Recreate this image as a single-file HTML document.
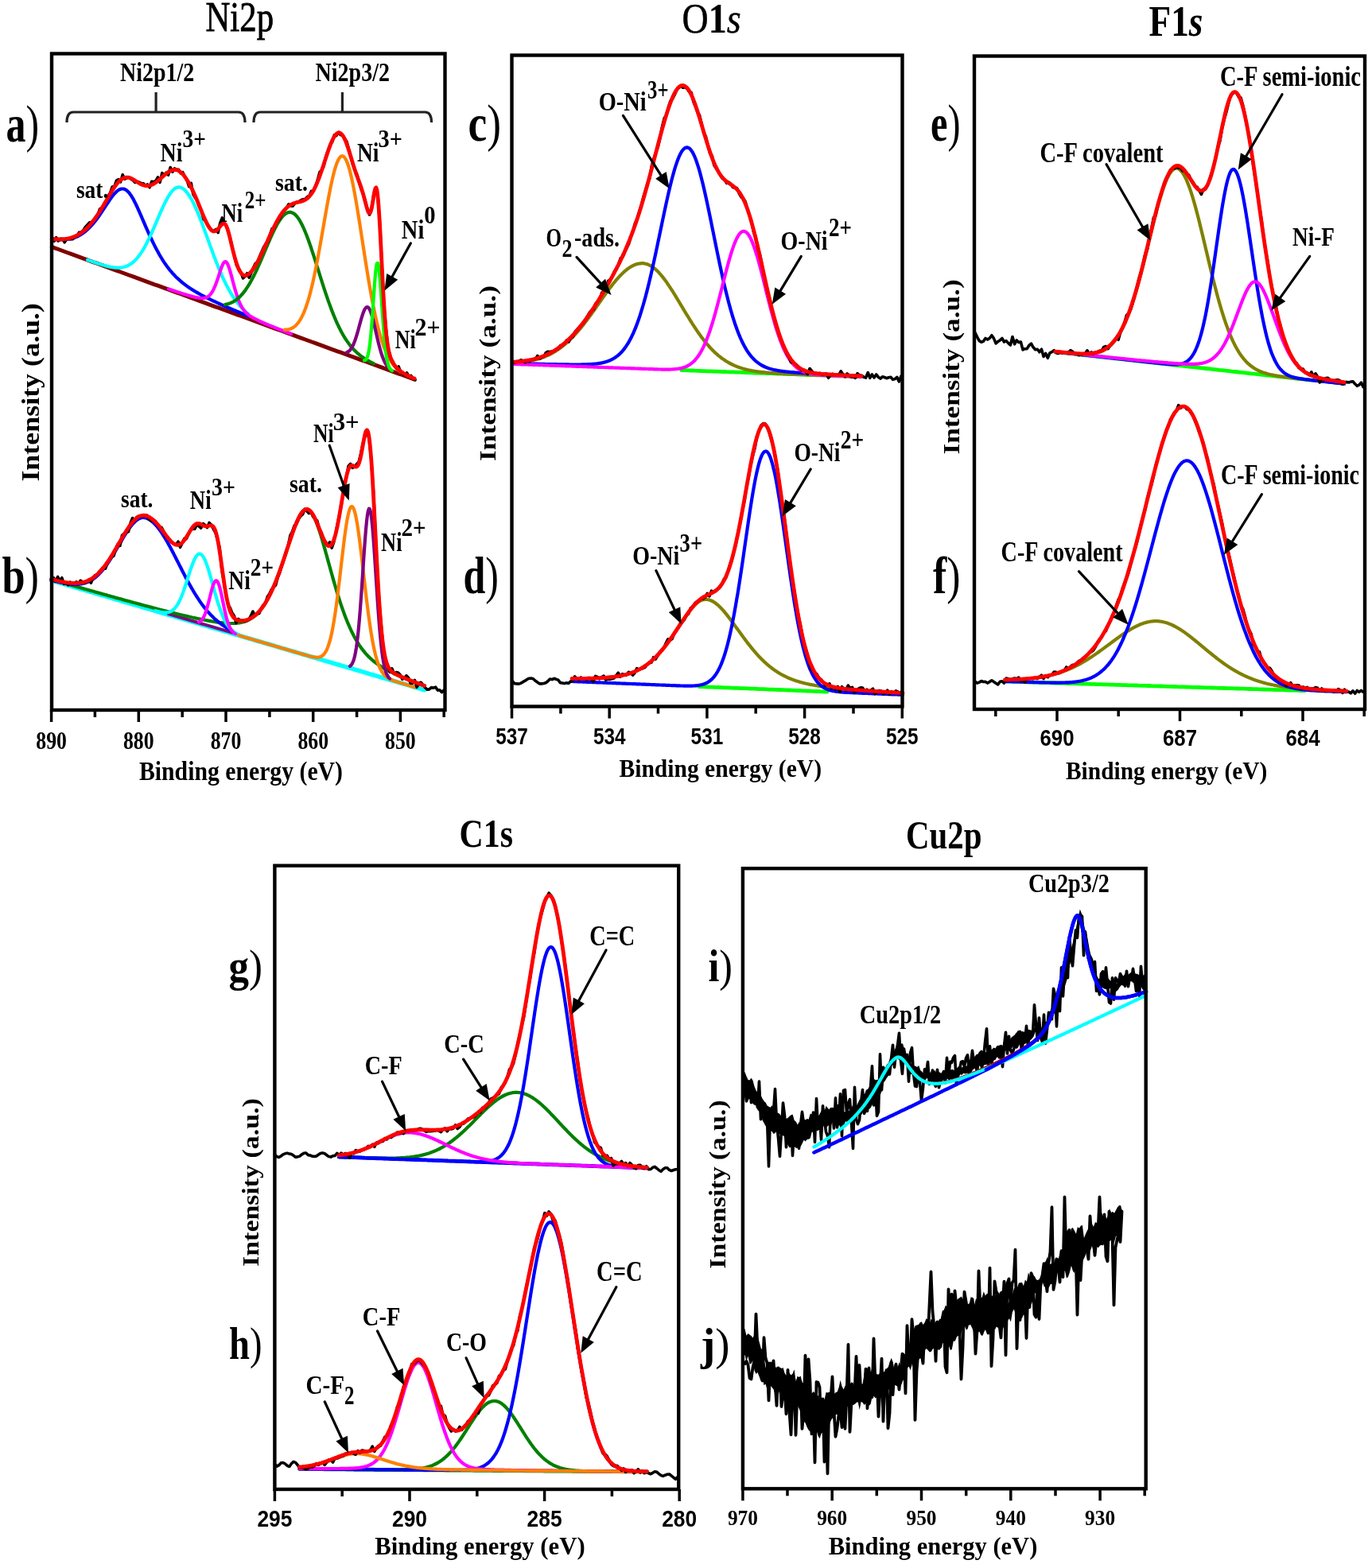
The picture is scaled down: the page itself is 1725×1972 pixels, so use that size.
<!DOCTYPE html><html><head><meta charset="utf-8"><title>XPS spectra</title><style>html,body{margin:0;padding:0;background:#fff;}body{width:1725px;height:1972px;overflow:hidden;} svg{display:block;}</style></head><body><svg width="1725" height="1972" viewBox="0 0 1725 1972"><rect x="0" y="0" width="1725" height="1972" fill="#fff"/>
<path d="M65.3,310.6 L69.3,312.1 L73.4,313.5 L77.4,315.0 L81.4,316.5 L85.5,318.0 L89.5,319.4 L93.5,320.9 L97.6,322.4 L101.6,323.9 L105.6,325.3 L109.7,326.8 L113.7,328.3 L117.7,329.8 L121.8,331.2 L125.8,332.7 L129.8,334.2 L133.9,335.7 L137.9,337.1 L141.9,338.6 L146.0,340.1 L150.0,341.5 L154.0,343.0 L158.1,344.5 L162.1,346.0 L166.1,347.4 L170.2,348.9 L174.2,350.4 L178.2,351.9 L182.2,353.3 L186.3,354.8 L190.3,356.3 L194.3,357.8 L198.4,359.2 L202.4,360.7 L206.4,362.2 L210.5,363.7 L214.5,365.1 L218.5,366.6 L222.6,368.1 L226.6,369.5 L230.6,371.0 L234.7,372.5 L238.7,374.0 L242.7,375.4 L246.8,376.9 L250.8,378.4 L254.8,379.9 L258.9,381.3 L262.9,382.8 L266.9,384.3 L271.0,385.8 L275.0,387.2 L279.0,388.7 L283.1,390.2 L287.1,391.7 L291.1,393.1 L295.2,394.6 L299.2,396.1 L303.2,397.5 L307.3,399.0 L311.3,400.5 L315.3,402.0 L319.4,403.4 L323.4,404.9 L327.4,406.4 L331.5,407.9 L335.5,409.3 L339.5,410.8 L343.6,412.3 L347.6,413.8 L351.6,415.2 L355.7,416.7 L359.7,418.2 L363.7,419.7 L367.8,421.1 L371.8,422.6 L375.8,424.1 L379.9,425.6 L383.9,427.0 L387.9,428.5 L392.0,430.0 L396.0,431.4 L400.0,432.9 L404.1,434.4 L408.1,435.9 L412.1,437.3 L416.1,438.8 L420.2,440.3 L424.2,441.8 L428.2,443.2 L432.3,444.7 L436.3,446.2 L440.3,447.7 L444.4,449.1 L448.4,450.6 L452.4,452.1 L456.5,453.6 L460.5,455.0 L464.5,456.5 L468.6,458.0 L472.6,459.4 L476.6,460.9 L480.7,462.4 L484.7,463.9 L488.7,465.3 L492.8,466.8 L496.8,468.3 L500.8,469.8 L504.9,471.2 L508.9,472.7 L512.9,474.2 L517.0,475.7 L521.0,477.1" fill="none" stroke="#800000" stroke-width="5" stroke-linejoin="round" stroke-linecap="round"/>
<path d="M65.3,300.6 L66.3,300.7 L67.3,300.9 L68.3,301.0 L69.3,301.1 L70.3,301.2 L71.3,301.3 L72.3,301.3 L73.3,301.4 L74.3,301.4 L75.3,301.5 L76.3,301.5 L77.3,301.5 L78.3,301.5 L79.3,301.5 L80.3,301.4 L81.3,301.4 L82.3,301.3 L83.4,301.2 L84.4,301.0 L85.4,300.9 L86.4,300.7 L87.4,300.6 L88.4,300.4 L89.4,300.1 L90.4,299.9 L91.4,299.6 L92.4,299.3 L93.4,298.9 L94.4,298.6 L95.4,298.2 L96.4,297.7 L97.4,297.3 L98.4,296.8 L99.4,296.3 L100.4,295.7 L101.4,295.1 L102.4,294.5 L103.4,293.9 L104.4,293.2 L105.4,292.4 L106.4,291.7 L107.4,290.9 L108.4,290.0 L109.4,289.1 L110.4,288.2 L111.4,287.3 L112.4,286.3 L113.4,285.3 L114.4,284.2 L115.4,283.1 L116.4,281.9 L117.4,280.8 L118.5,279.5 L119.5,278.3 L120.5,277.0 L121.5,275.7 L122.5,274.3 L123.5,273.0 L124.5,271.5 L125.5,270.1 L126.5,268.7 L127.5,267.2 L128.5,265.7 L129.5,264.2 L130.5,262.6 L131.5,261.1 L132.5,259.6 L133.5,258.0 L134.5,256.5 L135.5,255.0 L136.5,253.5 L137.5,252.0 L138.5,250.6 L139.5,249.2 L140.5,247.8 L141.5,246.5 L142.5,245.2 L143.5,244.0 L144.5,242.9 L145.5,241.9 L146.5,240.9 L147.5,240.1 L148.5,239.4 L149.5,238.7 L150.5,238.2 L151.5,237.8 L152.5,237.6 L153.6,237.5 L154.6,237.5 L155.6,237.6 L156.6,237.9 L157.6,238.4 L158.6,239.0 L159.6,239.8 L160.6,240.7 L161.6,241.7 L162.6,242.9 L163.6,244.2 L164.6,245.6 L165.6,247.2 L166.6,248.8 L167.6,250.6 L168.6,252.5 L169.6,254.4 L170.6,256.4 L171.6,258.5 L172.6,260.6 L173.6,262.8 L174.6,265.1 L175.6,267.3 L176.6,269.6 L177.6,271.9 L178.6,274.3 L179.6,276.6 L180.6,278.9 L181.6,281.2 L182.6,283.6 L183.6,285.9 L184.6,288.2 L185.6,290.4 L186.6,292.7 L187.6,294.9 L188.6,297.1 L189.7,299.3 L190.7,301.4 L191.7,303.5 L192.7,305.6 L193.7,307.6 L194.7,309.6 L195.7,311.5 L196.7,313.4 L197.7,315.3 L198.7,317.1 L199.7,318.9 L200.7,320.7 L201.7,322.4 L202.7,324.0 L203.7,325.7 L204.7,327.3 L205.7,328.8 L206.7,330.3 L207.7,331.8 L208.7,333.2 L209.7,334.6 L210.7,336.0 L211.7,337.3 L212.7,338.6 L213.7,339.8 L214.7,341.0 L215.7,342.2 L216.7,343.4 L217.7,344.5 L218.7,345.6 L219.7,346.6 L220.7,347.7 L221.7,348.7 L222.7,349.6 L223.7,350.6 L224.8,351.5 L225.8,352.4 L226.8,353.3 L227.8,354.2 L228.8,355.0 L229.8,355.8 L230.8,356.6 L231.8,357.4 L232.8,358.2 L233.8,358.9 L234.8,359.6 L235.8,360.4 L236.8,361.1 L237.8,361.7 L238.8,362.4 L239.8,363.1 L240.8,363.7 L241.8,364.4 L242.8,365.0 L243.8,365.6 L244.8,366.2 L245.8,366.8 L246.8,367.4 L247.8,368.0 L248.8,368.5 L249.8,369.1 L250.8,369.7 L251.8,370.2 L252.8,370.8 L253.8,371.3 L254.8,371.8 L255.8,372.3 L256.8,372.9 L257.8,373.4 L258.8,373.9 L259.9,374.4 L260.9,374.9 L261.9,375.4 L262.9,375.9 L263.9,376.4 L264.9,376.9 L265.9,377.3 L266.9,377.8 L267.9,378.3 L268.9,378.8 L269.9,379.2 L270.9,379.7 L271.9,380.2 L272.9,380.6 L273.9,381.1 L274.9,381.5 L275.9,382.0 L276.9,382.5 L277.9,382.9 L278.9,383.4 L279.9,383.8 L280.9,384.2 L281.9,384.7 L282.9,385.1 L283.9,385.6 L284.9,386.0 L285.9,386.4 L286.9,386.9 L287.9,387.3 L288.9,387.7 L289.9,388.2 L290.9,388.6 L291.9,389.0 L292.9,389.5 L293.9,389.9 L295.0,390.3 L296.0,390.7 L297.0,391.2 L298.0,391.6 L299.0,392.0 L300.0,392.4 L301.0,392.8 L302.0,393.3 L303.0,393.7 L304.0,394.1 L305.0,394.5 L306.0,394.9 L307.0,395.3 L308.0,395.7 L309.0,396.1 L310.0,396.6 L311.0,397.0 L312.0,397.4" fill="none" stroke="#0000ff" stroke-width="4.2" stroke-linejoin="round" stroke-linecap="round"/>
<path d="M110.0,326.9 L111.0,327.2 L112.0,327.6 L113.0,327.9 L114.0,328.3 L115.0,328.6 L116.0,329.0 L117.0,329.3 L118.0,329.7 L119.0,330.0 L120.0,330.4 L121.0,330.7 L122.0,331.0 L123.0,331.4 L124.0,331.7 L125.0,332.0 L126.0,332.3 L127.0,332.6 L128.0,333.0 L129.0,333.3 L130.0,333.5 L131.0,333.8 L132.0,334.1 L133.0,334.4 L134.0,334.6 L135.0,334.9 L136.0,335.1 L137.0,335.4 L138.0,335.6 L139.0,335.8 L140.0,336.0 L141.0,336.1 L142.0,336.3 L143.0,336.4 L144.0,336.5 L145.0,336.6 L146.0,336.7 L147.0,336.7 L148.0,336.7 L149.0,336.7 L150.0,336.7 L151.0,336.6 L152.0,336.5 L153.0,336.4 L154.0,336.2 L155.0,336.0 L156.0,335.8 L157.0,335.5 L158.0,335.2 L159.0,334.8 L160.0,334.4 L161.0,333.9 L162.0,333.4 L163.0,332.8 L164.0,332.2 L165.0,331.5 L166.0,330.8 L167.0,330.0 L168.0,329.1 L169.0,328.2 L170.0,327.2 L171.0,326.2 L172.0,325.1 L173.0,323.9 L174.0,322.7 L175.0,321.4 L176.0,320.0 L177.0,318.6 L178.0,317.1 L179.0,315.5 L180.0,313.9 L181.0,312.2 L182.0,310.4 L183.0,308.6 L184.0,306.7 L185.0,304.8 L186.0,302.8 L187.0,300.7 L188.0,298.6 L189.0,296.5 L190.0,294.3 L191.0,292.1 L192.0,289.8 L193.0,287.6 L194.0,285.3 L195.0,282.9 L196.0,280.6 L197.0,278.3 L198.0,275.9 L199.0,273.6 L200.0,271.3 L201.0,268.9 L202.0,266.7 L203.0,264.4 L204.0,262.2 L205.0,260.0 L206.0,257.9 L207.0,255.8 L208.0,253.8 L209.0,251.9 L210.0,250.0 L211.0,248.2 L212.0,246.6 L213.0,245.0 L214.0,243.5 L215.0,242.1 L216.0,240.8 L217.0,239.7 L218.0,238.7 L219.0,237.8 L220.0,237.0 L221.0,236.4 L222.0,235.9 L223.0,235.6 L224.0,235.4 L225.0,235.4 L226.0,235.5 L227.0,235.7 L228.0,236.1 L229.0,236.6 L230.0,237.2 L231.0,237.9 L232.0,238.8 L233.0,239.8 L234.0,240.8 L235.0,242.0 L236.0,243.3 L237.0,244.7 L238.0,246.2 L239.0,247.8 L240.0,249.5 L241.0,251.3 L242.0,253.1 L243.0,255.1 L244.0,257.1 L245.0,259.3 L246.0,261.4 L247.0,263.7 L248.0,266.0 L249.0,268.4 L250.0,270.9 L251.0,273.4 L252.0,275.9 L253.0,278.5 L254.0,281.1 L255.0,283.8 L256.0,286.5 L257.0,289.2 L258.0,291.9 L259.0,294.6 L260.0,297.4 L261.0,300.1 L262.0,302.9 L263.0,305.6 L264.0,308.4 L265.0,311.1 L266.0,313.8 L267.0,316.5 L268.0,319.2 L269.0,321.9 L270.0,324.5 L271.0,327.1 L272.0,329.7 L273.0,332.2 L274.0,334.7 L275.0,337.1 L276.0,339.6 L277.0,341.9 L278.0,344.2 L279.0,346.5 L280.0,348.8 L281.0,350.9 L282.0,353.1 L283.0,355.1 L284.0,357.2 L285.0,359.1 L286.0,361.1 L287.0,362.9 L288.0,364.8 L289.0,366.5 L290.0,368.2 L291.0,369.9 L292.0,371.5 L293.0,373.1 L294.0,374.6 L295.0,376.1 L296.0,377.5 L297.0,378.9 L298.0,380.2 L299.0,381.5 L300.0,382.7 L301.0,383.9 L302.0,385.1 L303.0,386.2 L304.0,387.3 L305.0,388.4 L306.0,389.4 L307.0,390.3 L308.0,391.3 L309.0,392.2 L310.0,393.1 L311.0,393.9 L312.0,394.7" fill="none" stroke="#00ffff" stroke-width="4.2" stroke-linejoin="round" stroke-linecap="round"/>
<path d="M212.0,363.4 L213.0,363.8 L214.0,364.1 L215.0,364.4 L216.0,364.8 L217.0,365.1 L218.0,365.5 L219.0,365.8 L220.0,366.1 L221.0,366.5 L222.0,366.8 L223.0,367.1 L224.0,367.5 L225.0,367.8 L226.0,368.1 L227.0,368.4 L228.0,368.8 L229.0,369.1 L230.0,369.4 L231.0,369.7 L232.0,370.0 L233.0,370.3 L234.0,370.6 L235.0,370.9 L236.0,371.2 L237.0,371.5 L238.0,371.8 L239.0,372.1 L240.0,372.4 L241.0,372.6 L242.0,372.9 L243.0,373.2 L244.0,373.4 L245.0,373.7 L246.0,373.9 L247.0,374.1 L248.0,374.3 L249.0,374.5 L250.0,374.7 L251.0,374.8 L252.0,374.9 L253.0,375.0 L254.0,375.1 L255.0,375.1 L256.0,375.0 L257.0,374.9 L258.0,374.6 L259.0,374.3 L260.0,373.9 L261.0,373.4 L262.0,372.7 L263.0,371.9 L264.0,370.9 L265.0,369.7 L266.0,368.3 L267.0,366.7 L268.0,364.9 L269.0,362.9 L270.0,360.7 L271.0,358.2 L272.0,355.6 L273.0,352.8 L274.0,349.8 L275.0,346.8 L276.0,343.7 L277.0,340.7 L278.0,337.8 L279.0,335.1 L280.0,332.8 L281.0,330.9 L282.0,329.7 L283.0,329.1 L284.0,329.2 L285.0,330.1 L286.0,331.7 L287.0,334.0 L288.0,336.7 L289.0,339.9 L290.0,343.4 L291.0,347.1 L292.0,350.9 L293.0,354.7 L294.0,358.4 L295.0,362.1 L296.0,365.6 L297.0,368.9 L298.0,372.0 L299.0,374.9 L300.0,377.5 L301.0,380.0 L302.0,382.2 L303.0,384.2 L304.0,386.1 L305.0,387.7 L306.0,389.2 L307.0,390.6 L308.0,391.8 L309.0,392.9 L310.0,393.9 L311.0,394.8 L312.0,395.6 L313.0,396.4 L314.0,397.1 L315.0,397.8 L316.0,398.4 L317.0,399.0 L318.0,399.6 L319.0,400.2 L320.0,400.7 L321.0,401.2 L322.0,401.7 L323.0,402.2 L324.0,402.7 L325.0,403.2 L326.0,403.7 L327.0,404.1 L328.0,404.6 L329.0,405.0 L330.0,405.5 L331.0,405.9 L332.0,406.3 L333.0,406.8 L334.0,407.2 L335.0,407.6 L336.0,408.0 L337.0,408.5 L338.0,408.9 L339.0,409.3 L340.0,409.7 L341.0,410.1 L342.0,410.5 L343.0,410.9 L344.0,411.3 L345.0,411.7 L346.0,412.1 L347.0,412.5 L348.0,412.9 L349.0,413.3 L350.0,413.7 L351.0,414.1 L352.0,414.5 L353.0,414.9 L354.0,415.3 L355.0,415.7 L356.0,416.0 L357.0,416.4 L358.0,416.8 L359.0,417.2 L360.0,417.6 L361.0,418.0 L362.0,418.3 L363.0,418.7 L364.0,419.1 L365.0,419.5 L366.0,419.9" fill="none" stroke="#ff00ff" stroke-width="4.2" stroke-linejoin="round" stroke-linecap="round"/>
<path d="M283.0,383.0 L284.0,382.8 L285.0,382.6 L286.0,382.4 L287.0,382.1 L288.0,381.8 L289.0,381.4 L290.0,381.1 L291.0,380.6 L292.0,380.1 L293.0,379.6 L294.0,379.1 L295.0,378.4 L296.0,377.8 L297.0,377.1 L298.0,376.3 L299.0,375.5 L300.0,374.6 L301.0,373.7 L302.0,372.7 L303.0,371.6 L304.0,370.6 L305.0,369.4 L306.0,368.2 L307.0,366.9 L308.0,365.6 L309.0,364.2 L310.0,362.7 L311.0,361.2 L312.0,359.7 L313.0,358.0 L314.0,356.4 L315.0,354.6 L316.0,352.8 L317.0,351.0 L318.0,349.1 L319.0,347.1 L320.0,345.1 L321.0,343.1 L322.0,341.0 L323.0,338.8 L324.0,336.7 L325.0,334.5 L326.0,332.2 L327.0,329.9 L328.0,327.6 L329.0,325.3 L330.0,323.0 L331.0,320.6 L332.0,318.2 L333.0,315.9 L334.0,313.5 L335.0,311.1 L336.0,308.8 L337.0,306.4 L338.0,304.1 L339.0,301.8 L340.0,299.5 L341.0,297.3 L342.0,295.1 L343.0,292.9 L344.0,290.8 L345.0,288.8 L346.0,286.8 L347.0,284.9 L348.0,283.0 L349.0,281.3 L350.0,279.6 L351.0,278.0 L352.0,276.5 L353.0,275.1 L354.0,273.7 L355.0,272.5 L356.0,271.4 L357.0,270.5 L358.0,269.6 L359.0,268.8 L360.0,268.2 L361.0,267.7 L362.0,267.3 L363.0,267.1 L364.0,266.9 L365.0,266.9 L366.0,267.1 L367.0,267.4 L368.0,267.8 L369.0,268.3 L370.0,269.0 L371.0,269.8 L372.0,270.8 L373.0,271.9 L374.0,273.1 L375.0,274.5 L376.0,276.0 L377.0,277.6 L378.0,279.4 L379.0,281.2 L380.0,283.2 L381.0,285.3 L382.0,287.5 L383.0,289.8 L384.0,292.2 L385.0,294.7 L386.0,297.3 L387.0,299.9 L388.0,302.7 L389.0,305.5 L390.0,308.4 L391.0,311.3 L392.0,314.3 L393.0,317.3 L394.0,320.3 L395.0,323.4 L396.0,326.6 L397.0,329.7 L398.0,332.9 L399.0,336.1 L400.0,339.2 L401.0,342.4 L402.0,345.6 L403.0,348.8 L404.0,351.9 L405.0,355.1 L406.0,358.2 L407.0,361.3 L408.0,364.4 L409.0,367.4 L410.0,370.4 L411.0,373.3 L412.0,376.2 L413.0,379.1 L414.0,381.9 L415.0,384.6 L416.0,387.3 L417.0,390.0 L418.0,392.6 L419.0,395.1 L420.0,397.5 L421.0,399.9 L422.0,402.3 L423.0,404.6 L424.0,406.8 L425.0,408.9 L426.0,411.0 L427.0,413.1 L428.0,415.0 L429.0,416.9 L430.0,418.8 L431.0,420.6 L432.0,422.3 L433.0,423.9 L434.0,425.6 L435.0,427.1 L436.0,428.6 L437.0,430.0 L438.0,431.4 L439.0,432.8 L440.0,434.1 L441.0,435.3 L442.0,436.5 L443.0,437.7 L444.0,438.8 L445.0,439.8 L446.0,440.9 L447.0,441.8 L448.0,442.8 L449.0,443.7 L450.0,444.6 L451.0,445.4 L452.0,446.3 L453.0,447.1 L454.0,447.8 L455.0,448.6 L456.0,449.3 L457.0,450.0 L458.0,450.6 L459.0,451.3 L460.0,451.9 L461.0,452.5 L462.0,453.1 L463.0,453.7 L464.0,454.2 L465.0,454.8 L466.0,455.3 L467.0,455.8 L468.0,456.3 L469.0,456.8 L470.0,457.3" fill="none" stroke="#008000" stroke-width="4.2" stroke-linejoin="round" stroke-linecap="round"/>
<path d="M358.0,414.7 L359.0,414.7 L360.0,414.6 L361.0,414.5 L362.0,414.4 L363.0,414.2 L364.0,413.9 L365.0,413.6 L366.0,413.2 L367.0,412.8 L368.0,412.2 L369.0,411.6 L370.0,410.9 L371.0,410.1 L372.0,409.2 L373.0,408.1 L374.0,407.0 L375.0,405.8 L376.0,404.4 L377.0,402.9 L378.0,401.2 L379.0,399.4 L380.0,397.4 L381.0,395.3 L382.0,393.1 L383.0,390.6 L384.0,388.0 L385.0,385.2 L386.0,382.3 L387.0,379.1 L388.0,375.8 L389.0,372.3 L390.0,368.6 L391.0,364.7 L392.0,360.6 L393.0,356.4 L394.0,352.0 L395.0,347.4 L396.0,342.6 L397.0,337.7 L398.0,332.7 L399.0,327.5 L400.0,322.2 L401.0,316.7 L402.0,311.2 L403.0,305.6 L404.0,299.9 L405.0,294.2 L406.0,288.4 L407.0,282.7 L408.0,276.9 L409.0,271.2 L410.0,265.5 L411.0,259.9 L412.0,254.4 L413.0,249.0 L414.0,243.7 L415.0,238.6 L416.0,233.7 L417.0,229.1 L418.0,224.6 L419.0,220.4 L420.0,216.5 L421.0,212.9 L422.0,209.6 L423.0,206.6 L424.0,204.0 L425.0,201.7 L426.0,199.8 L427.0,198.3 L428.0,197.2 L429.0,196.5 L430.0,196.2 L431.0,196.3 L432.0,196.9 L433.0,197.8 L434.0,199.2 L435.0,200.9 L436.0,203.1 L437.0,205.6 L438.0,208.5 L439.0,211.8 L440.0,215.5 L441.0,219.4 L442.0,223.7 L443.0,228.3 L444.0,233.2 L445.0,238.3 L446.0,243.7 L447.0,249.3 L448.0,255.0 L449.0,261.0 L450.0,267.1 L451.0,273.3 L452.0,279.6 L453.0,286.0 L454.0,292.5 L455.0,299.0 L456.0,305.5 L457.0,312.0 L458.0,318.4 L459.0,324.9 L460.0,331.2 L461.0,337.5 L462.0,343.7 L463.0,349.7 L464.0,355.7 L465.0,361.5 L466.0,367.2 L467.0,372.7 L468.0,378.0 L469.0,383.2 L470.0,388.2 L471.0,393.0 L472.0,397.7 L473.0,402.2 L474.0,406.4 L475.0,410.5 L476.0,414.5 L477.0,418.2 L478.0,421.7 L479.0,425.1 L480.0,428.3 L481.0,431.4 L482.0,434.2 L483.0,437.0 L484.0,439.5 L485.0,441.9 L486.0,444.2 L487.0,446.3 L488.0,448.4 L489.0,450.2 L490.0,452.0 L491.0,453.7 L492.0,455.2 L493.0,456.7 L494.0,458.1 L495.0,459.4 L496.0,460.6 L497.0,461.7 L498.0,462.8 L499.0,463.8 L500.0,464.7 L501.0,465.6 L502.0,466.4 L503.0,467.2 L504.0,468.0 L505.0,468.7 L506.0,469.3" fill="none" stroke="#ff8000" stroke-width="4.2" stroke-linejoin="round" stroke-linecap="round"/>
<path d="M436.0,443.2 L437.0,442.7 L438.0,442.2 L439.0,441.4 L440.0,440.4 L441.0,439.2 L442.0,437.7 L443.0,436.0 L444.0,434.0 L445.0,431.7 L446.0,429.1 L447.0,426.2 L448.0,423.1 L449.0,419.8 L450.0,416.3 L451.0,412.7 L452.0,409.0 L453.0,405.4 L454.0,401.8 L455.0,398.4 L456.0,395.3 L457.0,392.5 L458.0,390.1 L459.0,388.3 L460.0,387.0 L461.0,386.3 L462.0,386.2 L463.0,386.7 L464.0,387.9 L465.0,389.7 L466.0,392.1 L467.0,395.0 L468.0,398.4 L469.0,402.1 L470.0,406.1 L471.0,410.3 L472.0,414.7 L473.0,419.1 L474.0,423.5 L475.0,427.8 L476.0,431.9 L477.0,435.8 L478.0,439.5 L479.0,443.0 L480.0,446.1 L481.0,449.0 L482.0,451.5 L483.0,453.9 L484.0,455.9 L485.0,457.7 L486.0,459.3 L487.0,460.7 L488.0,461.9 L489.0,462.9 L490.0,463.9" fill="none" stroke="#800080" stroke-width="4.2" stroke-linejoin="round" stroke-linecap="round"/>
<path d="M458.0,453.3 L459.0,453.0 L460.0,452.3 L461.0,451.0 L462.0,448.7 L463.0,445.2 L464.0,440.0 L465.0,433.1 L466.0,424.0 L467.0,412.8 L468.0,399.8 L469.0,385.4 L470.0,370.7 L471.0,356.7 L472.0,344.7 L473.0,335.8 L474.0,331.0 L475.0,330.9 L476.0,335.0 L477.0,343.0 L478.0,354.2 L479.0,367.5 L480.0,382.0 L481.0,396.6 L482.0,410.4 L483.0,422.8 L484.0,433.5 L485.0,442.3 L486.0,449.2 L487.0,454.5 L488.0,458.4 L489.0,461.2 L490.0,463.2 L491.0,464.6 L492.0,465.7 L493.0,466.4" fill="none" stroke="#00ff00" stroke-width="4.2" stroke-linejoin="round" stroke-linecap="round"/>
<path d="M65.5,300.5 L68.1,303.3 L70.7,298.7 L73.3,303.0 L75.9,300.3 L78.5,300.2 L81.2,304.8 L83.8,300.6 L86.4,299.7 L89.0,300.7 L91.6,300.8 L94.2,297.2 L96.8,297.3 L99.4,292.4 L102.0,292.1 L104.6,290.0 L107.2,285.8 L109.8,282.9 L112.5,279.9 L115.1,280.0 L117.7,276.8 L120.3,272.9 L122.9,270.0 L125.5,262.9 L128.1,261.4 L130.7,257.7 L133.3,254.4 L135.9,246.4 L138.5,242.9 L141.1,235.1 L143.8,234.5 L146.4,227.1 L149.0,225.7 L151.6,228.8 L154.2,219.7 L156.8,225.2 L159.4,223.8 L162.0,222.7 L164.6,225.3 L167.2,226.8 L169.8,229.5 L172.5,228.4 L175.1,229.2 L177.7,230.5 L180.3,230.7 L182.9,233.4 L185.5,231.9 L188.1,235.7 L190.7,228.3 L193.3,228.8 L195.9,227.4 L198.5,222.9 L201.1,229.4 L203.8,217.6 L206.4,219.9 L209.0,217.2 L211.6,220.1 L214.2,210.5 L216.8,216.2 L219.4,211.9 L222.0,213.4 L224.6,213.3 L227.2,218.0 L229.8,216.7 L232.4,222.2 L235.1,227.0 L237.7,234.7 L240.3,230.3 L242.9,244.3 L245.5,248.9 L248.1,251.9 L250.7,259.9 L253.3,264.6 L255.9,275.6 L258.5,278.3 L261.1,282.5 L263.8,286.6 L266.4,289.4 L269.0,290.6 L271.6,288.3 L274.2,292.5 L276.8,280.5 L279.4,273.9 L282.0,280.9 L284.6,284.0 L287.2,292.6 L289.8,301.6 L292.4,312.8 L295.1,324.2 L297.7,334.3 L300.3,337.8 L302.9,342.4 L305.5,350.0 L308.1,347.7 L310.7,343.7 L313.3,349.2 L315.9,343.1 L318.5,336.7 L321.1,331.4 L323.7,330.1 L326.4,322.6 L329.0,316.8 L331.6,310.7 L334.2,306.7 L336.8,304.5 L339.4,295.3 L342.0,287.5 L344.6,286.7 L347.2,280.3 L349.8,277.3 L352.4,273.8 L355.1,267.1 L357.7,263.9 L360.3,261.4 L362.9,256.8 L365.5,259.0 L368.1,259.3 L370.7,255.7 L373.3,254.1 L375.9,253.4 L378.5,251.7 L381.1,250.7 L383.7,250.4 L386.4,247.6 L389.0,246.0 L391.6,240.2 L394.2,240.2 L396.8,234.4 L399.4,225.7 L402.0,216.4 L404.6,214.0 L407.2,208.6 L409.8,196.6 L412.4,189.4 L415.0,182.0 L417.7,178.4 L420.3,169.9 L422.9,170.7 L425.5,166.3 L428.1,169.5 L430.7,170.2 L433.3,174.3 L435.9,178.0 L438.5,187.4 L441.1,196.8 L443.7,207.4 L446.4,214.6 L449.0,220.1 L451.6,229.7 L454.2,238.3 L456.8,244.3 L459.4,253.5 L462.0,263.0 L464.6,270.0 L467.2,263.3 L469.8,244.9 L472.4,236.8 L475.0,246.2 L477.7,283.1 L480.3,338.8 L482.9,385.7 L485.5,416.3 L488.1,438.1 L490.7,449.9 L493.3,453.6 L495.9,458.9 L498.5,463.7 L501.1,460.9 L503.7,467.6 L506.3,470.4 L509.0,471.5 L511.6,468.8 L514.2,473.8 L516.8,472.4 L519.4,476.7 L522.0,477.9" fill="none" stroke="#000" stroke-width="3.6" stroke-linejoin="round" stroke-linecap="round"/>
<path d="M65.3,300.2 L66.3,300.4 L67.3,300.5 L68.3,300.6 L69.3,300.6 L70.3,300.7 L71.3,300.8 L72.3,300.8 L73.3,300.9 L74.3,300.9 L75.3,300.9 L76.3,300.9 L77.3,300.9 L78.3,300.8 L79.3,300.8 L80.3,300.7 L81.3,300.6 L82.3,300.5 L83.3,300.3 L84.3,300.2 L85.3,300.0 L86.3,299.8 L87.3,299.5 L88.3,299.3 L89.3,299.0 L90.3,298.7 L91.3,298.4 L92.3,298.0 L93.3,297.6 L94.3,297.2 L95.3,296.7 L96.3,296.3 L97.3,295.7 L98.4,295.2 L99.4,294.6 L100.4,294.0 L101.4,293.3 L102.4,292.6 L103.4,291.9 L104.4,291.1 L105.4,290.3 L106.4,289.5 L107.4,288.6 L108.4,287.7 L109.4,286.7 L110.4,285.7 L111.4,284.7 L112.4,283.6 L113.4,282.5 L114.4,281.3 L115.4,280.1 L116.4,278.8 L117.4,277.6 L118.4,276.2 L119.4,274.9 L120.4,273.5 L121.4,272.0 L122.4,270.6 L123.4,269.1 L124.4,267.5 L125.4,266.0 L126.4,264.4 L127.4,262.7 L128.4,261.1 L129.4,259.4 L130.4,257.7 L131.4,256.0 L132.4,254.3 L133.4,252.6 L134.4,250.9 L135.4,249.1 L136.4,247.4 L137.4,245.7 L138.4,244.0 L139.4,242.4 L140.4,240.7 L141.4,239.1 L142.4,237.6 L143.4,236.1 L144.4,234.6 L145.4,233.2 L146.4,231.9 L147.4,230.6 L148.4,229.5 L149.4,228.4 L150.4,227.4 L151.4,226.5 L152.4,225.7 L153.4,225.0 L154.4,224.4 L155.4,223.9 L156.4,223.5 L157.4,223.3 L158.4,223.1 L159.4,223.1 L160.4,223.1 L161.4,223.3 L162.4,223.5 L163.5,223.8 L164.5,224.2 L165.5,224.7 L166.5,225.2 L167.5,225.7 L168.5,226.3 L169.5,227.0 L170.5,227.6 L171.5,228.3 L172.5,228.9 L173.5,229.5 L174.5,230.1 L175.5,230.7 L176.5,231.3 L177.5,231.8 L178.5,232.2 L179.5,232.6 L180.5,233.0 L181.5,233.2 L182.5,233.5 L183.5,233.6 L184.5,233.7 L185.5,233.7 L186.5,233.6 L187.5,233.4 L188.5,233.2 L189.5,232.9 L190.5,232.5 L191.5,232.1 L192.5,231.6 L193.5,231.1 L194.5,230.4 L195.5,229.8 L196.5,229.0 L197.5,228.3 L198.5,227.5 L199.5,226.6 L200.5,225.8 L201.5,224.9 L202.5,224.0 L203.5,223.1 L204.5,222.2 L205.5,221.3 L206.5,220.4 L207.5,219.6 L208.5,218.7 L209.5,217.9 L210.5,217.2 L211.5,216.5 L212.5,215.8 L213.5,215.3 L214.5,214.7 L215.5,214.3 L216.5,214.0 L217.5,213.7 L218.5,213.5 L219.5,213.5 L220.5,213.5 L221.5,213.6 L222.5,213.9 L223.5,214.2 L224.5,214.7 L225.5,215.3 L226.5,216.1 L227.5,216.9 L228.6,217.9 L229.6,218.9 L230.6,220.0 L231.6,221.2 L232.6,222.6 L233.6,224.0 L234.6,225.5 L235.6,227.0 L236.6,228.7 L237.6,230.4 L238.6,232.3 L239.6,234.2 L240.6,236.1 L241.6,238.2 L242.6,240.3 L243.6,242.5 L244.6,244.7 L245.6,247.0 L246.6,249.3 L247.6,251.7 L248.6,254.1 L249.6,256.5 L250.6,259.0 L251.6,261.4 L252.6,263.9 L253.6,266.3 L254.6,268.8 L255.6,271.1 L256.6,273.5 L257.6,275.8 L258.6,277.9 L259.6,280.0 L260.6,282.0 L261.6,283.8 L262.6,285.5 L263.6,286.9 L264.6,288.2 L265.6,289.3 L266.6,290.1 L267.6,290.6 L268.6,290.9 L269.6,290.9 L270.6,290.7 L271.6,290.2 L272.6,289.5 L273.6,288.6 L274.6,287.5 L275.6,286.2 L276.6,285.0 L277.6,283.7 L278.6,282.6 L279.6,281.7 L280.6,281.1 L281.6,281.1 L282.6,281.5 L283.6,282.6 L284.6,284.4 L285.6,286.8 L286.6,289.8 L287.6,293.3 L288.6,297.1 L289.6,301.2 L290.6,305.5 L291.6,309.8 L292.6,314.0 L293.7,318.1 L294.7,322.0 L295.7,325.6 L296.7,329.0 L297.7,332.1 L298.7,334.9 L299.7,337.4 L300.7,339.6 L301.7,341.4 L302.7,342.9 L303.7,344.2 L304.7,345.1 L305.7,345.8 L306.7,346.3 L307.7,346.5 L308.7,346.5 L309.7,346.3 L310.7,345.9 L311.7,345.3 L312.7,344.6 L313.7,343.8 L314.7,342.8 L315.7,341.7 L316.7,340.5 L317.7,339.2 L318.7,337.8 L319.7,336.3 L320.7,334.7 L321.7,333.0 L322.7,331.3 L323.7,329.5 L324.7,327.6 L325.7,325.7 L326.7,323.7 L327.7,321.7 L328.7,319.6 L329.7,317.5 L330.7,315.4 L331.7,313.2 L332.7,311.0 L333.7,308.8 L334.7,306.6 L335.7,304.4 L336.7,302.2 L337.7,300.0 L338.7,297.8 L339.7,295.6 L340.7,293.4 L341.7,291.3 L342.7,289.2 L343.7,287.1 L344.7,285.0 L345.7,283.1 L346.7,281.1 L347.7,279.2 L348.7,277.4 L349.7,275.6 L350.7,273.9 L351.7,272.3 L352.7,270.7 L353.7,269.3 L354.7,267.8 L355.7,266.5 L356.7,265.3 L357.7,264.1 L358.8,263.0 L359.8,262.0 L360.8,261.0 L361.8,260.2 L362.8,259.4 L363.8,258.6 L364.8,258.0 L365.8,257.4 L366.8,256.9 L367.8,256.4 L368.8,256.0 L369.8,255.6 L370.8,255.3 L371.8,255.0 L372.8,254.7 L373.8,254.5 L374.8,254.3 L375.8,254.0 L376.8,253.8 L377.8,253.6 L378.8,253.3 L379.8,253.0 L380.8,252.7 L381.8,252.2 L382.8,251.8 L383.8,251.2 L384.8,250.6 L385.8,249.9 L386.8,249.1 L387.8,248.2 L388.8,247.1 L389.8,246.0 L390.8,244.7 L391.8,243.3 L392.8,241.8 L393.8,240.1 L394.8,238.3 L395.8,236.3 L396.8,234.2 L397.8,232.0 L398.8,229.7 L399.8,227.2 L400.8,224.7 L401.8,222.0 L402.8,219.2 L403.8,216.3 L404.8,213.4 L405.8,210.4 L406.8,207.4 L407.8,204.3 L408.8,201.3 L409.8,198.2 L410.8,195.2 L411.8,192.2 L412.8,189.3 L413.8,186.5 L414.8,183.8 L415.8,181.2 L416.8,178.8 L417.8,176.5 L418.8,174.5 L419.8,172.6 L420.8,171.0 L421.8,169.6 L422.8,168.5 L423.9,167.7 L424.9,167.2 L425.9,166.9 L426.9,167.0 L427.9,167.4 L428.9,168.1 L429.9,169.1 L430.9,170.4 L431.9,172.0 L432.9,173.9 L433.9,176.0 L434.9,178.4 L435.9,181.1 L436.9,183.9 L437.9,186.9 L438.9,190.0 L439.9,193.2 L440.9,196.5 L441.9,199.8 L442.9,203.1 L443.9,206.4 L444.9,209.6 L445.9,212.7 L446.9,215.7 L447.9,218.6 L448.9,221.4 L449.9,224.2 L450.9,226.9 L451.9,229.6 L452.9,232.4 L453.9,235.3 L454.9,238.4 L455.9,241.6 L456.9,245.1 L457.9,248.8 L458.9,252.6 L459.9,256.5 L460.9,260.2 L461.9,263.6 L462.9,266.3 L463.9,267.9 L464.9,268.1 L465.9,266.6 L466.9,263.4 L467.9,258.6 L468.9,252.7 L469.9,246.4 L470.9,240.7 L471.9,236.8 L472.9,235.9 L473.9,238.9 L474.9,246.2 L475.9,257.5 L476.9,272.3 L477.9,289.9 L478.9,309.3 L479.9,329.5 L480.9,349.4 L481.9,368.1 L482.9,385.0 L483.9,399.7 L484.9,412.2 L485.9,422.4 L486.9,430.6 L487.9,437.1 L489.0,442.3 L490.0,446.3 L491.0,449.5 L492.0,452.2 L493.0,454.3 L494.0,456.2 L495.0,457.8 L496.0,459.2 L497.0,460.5 L498.0,461.6 L499.0,462.7 L500.0,463.7 L501.0,464.6 L502.0,465.5 L503.0,466.3 L504.0,467.1 L505.0,467.8 L506.0,468.5 L507.0,469.2 L508.0,469.8 L509.0,470.4 L510.0,470.9 L511.0,471.5 L512.0,472.0 L513.0,472.5 L514.0,473.0 L515.0,473.5 L516.0,473.9 L517.0,474.4 L518.0,474.8 L519.0,475.3 L520.0,475.7 L521.0,476.1" fill="none" stroke="#ff0000" stroke-width="4.8" stroke-linejoin="round" stroke-linecap="round"/>
<text x="150.9" y="101.6" font-size="33.0" font-family='"Liberation Serif", "Times New Roman", serif' font-weight="bold" textLength="93.5" lengthAdjust="spacingAndGlyphs">Ni2p1/2</text>
<text x="396.5" y="101.6" font-size="33.0" font-family='"Liberation Serif", "Times New Roman", serif' font-weight="bold" textLength="93.5" lengthAdjust="spacingAndGlyphs">Ni2p3/2</text>
<path d="M84,154 Q84,141 92,141 L300,141 Q308,141 308,154" fill="none" stroke="#222" stroke-width="3.2"/>
<line x1="196.1" y1="116.0" x2="196.1" y2="141.0" stroke="#222" stroke-width="3.2" stroke-linecap="butt"/>
<path d="M319,154 Q319,141 327,141 L534.5,141 Q542.5,141 542.5,154" fill="none" stroke="#222" stroke-width="3.2"/>
<line x1="430.4" y1="116.0" x2="430.4" y2="141.0" stroke="#222" stroke-width="3.2" stroke-linecap="butt"/>
<text x="95.9" y="248.6" font-size="32.0" font-family='"Liberation Serif", "Times New Roman", serif' font-weight="bold" textLength="40.5" lengthAdjust="spacingAndGlyphs">sat.</text>
<text x="201.4" y="202.6" font-size="33.5" font-family='"Liberation Serif", "Times New Roman", serif' font-weight="bold" textLength="28.1" lengthAdjust="spacingAndGlyphs">Ni</text>
<text x="229.5" y="184.8" font-size="31.5" font-family='"Liberation Serif", "Times New Roman", serif' font-weight="bold" textLength="29.4" lengthAdjust="spacingAndGlyphs">3+</text>
<text x="278.5" y="278.9" font-size="33.5" font-family='"Liberation Serif", "Times New Roman", serif' font-weight="bold" textLength="26.7" lengthAdjust="spacingAndGlyphs">Ni</text>
<text x="307.7" y="261.8" font-size="31.5" font-family='"Liberation Serif", "Times New Roman", serif' font-weight="bold" textLength="26.8" lengthAdjust="spacingAndGlyphs">2+</text>
<text x="345.9" y="240.3" font-size="32.0" font-family='"Liberation Serif", "Times New Roman", serif' font-weight="bold" textLength="41.0" lengthAdjust="spacingAndGlyphs">sat.</text>
<text x="448.9" y="203.0" font-size="33.5" font-family='"Liberation Serif", "Times New Roman", serif' font-weight="bold" textLength="27.6" lengthAdjust="spacingAndGlyphs">Ni</text>
<text x="475.5" y="185.4" font-size="31.5" font-family='"Liberation Serif", "Times New Roman", serif' font-weight="bold" textLength="30.3" lengthAdjust="spacingAndGlyphs">3+</text>
<text x="504.8" y="299.7" font-size="33.5" font-family='"Liberation Serif", "Times New Roman", serif' font-weight="bold" textLength="28.5" lengthAdjust="spacingAndGlyphs">Ni</text>
<text x="533.2" y="281.3" font-size="31.5" font-family='"Liberation Serif", "Times New Roman", serif' font-weight="bold" textLength="14.3" lengthAdjust="spacingAndGlyphs">0</text>
<line x1="516.3" y1="306.0" x2="492.2" y2="349.6" stroke="#000" stroke-width="3.2" stroke-linecap="round"/>
<path d="M483.5,365.4 L486.2,344.0 L500.2,351.8 Z" fill="#000"/>
<text x="496.8" y="438.2" font-size="33.5" font-family='"Liberation Serif", "Times New Roman", serif' font-weight="bold" textLength="25.8" lengthAdjust="spacingAndGlyphs">Ni</text>
<text x="521.6" y="421.5" font-size="31.5" font-family='"Liberation Serif", "Times New Roman", serif' font-weight="bold" textLength="32.1" lengthAdjust="spacingAndGlyphs">2+</text>
<path d="M64.6,729.9 L68.6,731.1 L72.6,732.3 L76.6,733.4 L80.6,734.6 L84.6,735.8 L88.7,737.0 L92.7,738.2 L96.7,739.3 L100.7,740.5 L104.7,741.7 L108.7,742.9 L112.7,744.0 L116.7,745.2 L120.7,746.4 L124.7,747.6 L128.8,748.8 L132.8,749.9 L136.8,751.1 L140.8,752.3 L144.8,753.5 L148.8,754.7 L152.8,755.8 L156.8,757.0 L160.8,758.2 L164.8,759.4 L168.8,760.5 L172.9,761.7 L176.9,762.9 L180.9,764.1 L184.9,765.3 L188.9,766.4 L192.9,767.6 L196.9,768.8 L200.9,770.0 L204.9,771.2 L208.9,772.3 L212.9,773.5 L217.0,774.7 L221.0,775.9 L225.0,777.0 L229.0,778.2 L233.0,779.4 L237.0,780.6 L241.0,781.8 L245.0,782.9 L249.0,784.1 L253.0,785.3 L257.1,786.5 L261.1,787.7 L265.1,788.8 L269.1,790.0 L273.1,791.2 L277.1,792.4 L281.1,793.5 L285.1,794.7 L289.1,795.9 L293.1,797.1 L297.1,798.3 L301.2,799.4 L305.2,800.6 L309.2,801.8 L313.2,803.0 L317.2,804.2 L321.2,805.3 L325.2,806.5 L329.2,807.7 L333.2,808.9 L337.2,810.0 L341.2,811.2 L345.3,812.4 L349.3,813.6 L353.3,814.8 L357.3,815.9 L361.3,817.1 L365.3,818.3 L369.3,819.5 L373.3,820.7 L377.3,821.8 L381.3,823.0 L385.4,824.2 L389.4,825.4 L393.4,826.5 L397.4,827.7 L401.4,828.9 L405.4,830.1 L409.4,831.3 L413.4,832.4 L417.4,833.6 L421.4,834.8 L425.4,836.0 L429.5,837.2 L433.5,838.3 L437.5,839.5 L441.5,840.7 L445.5,841.9 L449.5,843.0 L453.5,844.2 L457.5,845.4 L461.5,846.6 L465.5,847.8 L469.5,848.9 L473.6,850.1 L477.6,851.3 L481.6,852.5 L485.6,853.7 L489.6,854.8 L493.6,856.0 L497.6,857.2 L501.6,858.4 L505.6,859.5 L509.6,860.7 L513.7,861.9 L517.7,863.1 L521.7,864.3 L525.7,865.4 L529.7,866.6 L533.7,867.8" fill="none" stroke="#00ffff" stroke-width="5.5" stroke-linejoin="round" stroke-linecap="round"/>
<path d="M212.0,772.2 L292.0,795.7" fill="none" stroke="#800080" stroke-width="4.0" stroke-linejoin="round" stroke-linecap="round"/>
<path d="M64.6,728.7 L65.6,729.0 L66.6,729.3 L67.6,729.6 L68.6,729.9 L69.6,730.2 L70.6,730.5 L71.6,730.7 L72.6,731.0 L73.6,731.3 L74.6,731.6 L75.6,731.9 L76.6,732.2 L77.6,732.5 L78.6,732.7 L79.6,733.0 L80.6,733.3 L81.6,733.6 L82.6,733.9 L83.6,734.2 L84.6,734.5 L85.6,734.7 L86.6,735.0 L87.6,735.3 L88.6,735.6 L89.6,735.9 L90.6,736.2 L91.6,736.5 L92.6,736.7 L93.6,737.0 L94.6,737.3 L95.6,737.6 L96.6,737.9 L97.6,738.2 L98.6,738.4 L99.6,738.7 L100.6,739.0 L101.6,739.3 L102.6,739.6 L103.6,739.9 L104.6,740.1 L105.6,740.4 L106.6,740.7 L107.6,741.0 L108.6,741.3 L109.6,741.6 L110.6,741.8 L111.6,742.1 L112.6,742.4 L113.6,742.7 L114.6,743.0 L115.6,743.3 L116.6,743.5 L117.6,743.8 L118.6,744.1 L119.6,744.4 L120.6,744.7 L121.6,744.9 L122.6,745.2 L123.6,745.5 L124.6,745.8 L125.6,746.1 L126.6,746.4 L127.6,746.6 L128.6,746.9 L129.6,747.2 L130.6,747.5 L131.6,747.8 L132.6,748.0 L133.6,748.3 L134.6,748.6 L135.6,748.9 L136.6,749.2 L137.6,749.4 L138.6,749.7 L139.6,750.0 L140.6,750.3 L141.6,750.5 L142.6,750.8 L143.6,751.1 L144.6,751.4 L145.6,751.7 L146.6,751.9 L147.6,752.2 L148.6,752.5 L149.6,752.8 L150.6,753.0 L151.6,753.3 L152.6,753.6 L153.6,753.9 L154.6,754.1 L155.6,754.4 L156.6,754.7 L157.6,755.0 L158.6,755.2 L159.6,755.5 L160.6,755.8 L161.6,756.1 L162.6,756.3 L163.6,756.6 L164.6,756.9 L165.6,757.2 L166.6,757.4 L167.6,757.7 L168.6,758.0 L169.6,758.2 L170.6,758.5 L171.6,758.8 L172.6,759.1 L173.6,759.3 L174.6,759.6 L175.6,759.9 L176.6,760.1 L177.6,760.4 L178.6,760.7 L179.6,760.9 L180.6,761.2 L181.6,761.5 L182.6,761.7 L183.6,762.0 L184.6,762.3 L185.6,762.5 L186.6,762.8 L187.6,763.1 L188.6,763.3 L189.6,763.6 L190.6,763.9 L191.6,764.1 L192.6,764.4 L193.6,764.7 L194.6,764.9 L195.6,765.2 L196.6,765.4 L197.6,765.7 L198.6,766.0 L199.6,766.2 L200.6,766.5 L201.6,766.7 L202.6,767.0 L203.6,767.3 L204.6,767.5 L205.6,767.8 L206.6,768.0 L207.6,768.3 L208.6,768.5 L209.6,768.8 L210.6,769.0 L211.6,769.3 L212.6,769.5 L213.6,769.8 L214.6,770.0 L215.6,770.3 L216.6,770.5 L217.6,770.8 L218.6,771.0 L219.6,771.3 L220.6,771.5 L221.6,771.8 L222.6,772.0 L223.6,772.3 L224.6,772.5 L225.6,772.8 L226.6,773.0 L227.6,773.2 L228.6,773.5 L229.6,773.7 L230.6,773.9 L231.6,774.2 L232.6,774.4 L233.6,774.6 L234.6,774.9 L235.6,775.1 L236.6,775.3 L237.6,775.6 L238.6,775.8 L239.6,776.0 L240.6,776.2 L241.6,776.5 L242.6,776.7 L243.6,776.9 L244.6,777.1 L245.6,777.4 L246.6,777.6 L247.6,777.8 L248.6,778.0 L249.6,778.2 L250.6,778.4 L251.6,778.6 L252.6,778.8 L253.6,779.0 L254.6,779.2 L255.6,779.4 L256.6,779.6 L257.6,779.8 L258.6,780.0 L259.6,780.2 L260.6,780.4 L261.6,780.6 L262.6,780.8 L263.6,780.9 L264.6,781.1 L265.6,781.3 L266.6,781.5 L267.6,781.6 L268.6,781.8 L269.6,782.0 L270.6,782.1 L271.6,782.3 L272.6,782.4 L273.6,782.6 L274.6,782.7 L275.6,782.8 L276.6,783.0 L277.6,783.1 L278.6,783.2 L279.6,783.3 L280.6,783.4 L281.6,783.5 L282.6,783.6 L283.6,783.7 L284.6,783.8 L285.6,783.8 L286.6,783.9 L287.6,783.9 L288.6,784.0 L289.6,784.0 L290.6,784.0 L291.6,784.0 L292.6,784.0 L293.6,784.0 L294.6,783.9 L295.6,783.9 L296.6,783.8 L297.6,783.7 L298.6,783.6 L299.7,783.5 L300.7,783.4 L301.7,783.2 L302.7,783.0 L303.7,782.8 L304.7,782.6 L305.7,782.3 L306.7,782.0 L307.7,781.7 L308.7,781.3 L309.7,781.0 L310.7,780.5 L311.7,780.1 L312.7,779.6 L313.7,779.1 L314.7,778.5 L315.7,777.9 L316.7,777.3 L317.7,776.6 L318.7,775.9 L319.7,775.1 L320.7,774.3 L321.7,773.4 L322.7,772.4 L323.7,771.5 L324.7,770.4 L325.7,769.3 L326.7,768.2 L327.7,766.9 L328.7,765.7 L329.7,764.3 L330.7,762.9 L331.7,761.5 L332.7,759.9 L333.7,758.3 L334.7,756.7 L335.7,754.9 L336.7,753.1 L337.7,751.3 L338.7,749.3 L339.7,747.3 L340.7,745.3 L341.7,743.1 L342.7,740.9 L343.7,738.6 L344.7,736.3 L345.7,733.9 L346.7,731.4 L347.7,728.9 L348.7,726.3 L349.7,723.6 L350.7,720.9 L351.7,718.1 L352.7,715.3 L353.7,712.5 L354.7,709.6 L355.7,706.7 L356.7,703.7 L357.7,700.7 L358.7,697.7 L359.7,694.7 L360.7,691.6 L361.7,688.6 L362.7,685.6 L363.7,682.5 L364.7,679.6 L365.7,676.6 L366.7,673.7 L367.7,670.8 L368.7,668.0 L369.7,665.2 L370.7,662.6 L371.7,660.0 L372.7,657.5 L373.7,655.2 L374.7,653.0 L375.7,650.9 L376.7,649.0 L377.7,647.3 L378.7,645.7 L379.7,644.3 L380.7,643.1 L381.7,642.1 L382.7,641.4 L383.7,640.8 L384.7,640.5 L385.7,640.4 L386.7,640.6 L387.7,641.0 L388.7,641.6 L389.7,642.4 L390.7,643.5 L391.7,644.8 L392.7,646.3 L393.7,648.0 L394.7,649.9 L395.7,652.0 L396.7,654.3 L397.7,656.8 L398.7,659.4 L399.7,662.2 L400.7,665.1 L401.7,668.1 L402.7,671.2 L403.7,674.4 L404.7,677.7 L405.7,681.1 L406.7,684.6 L407.7,688.1 L408.7,691.6 L409.7,695.2 L410.7,698.8 L411.7,702.4 L412.7,706.1 L413.7,709.7 L414.7,713.3 L415.7,716.9 L416.7,720.5 L417.7,724.0 L418.7,727.6 L419.7,731.1 L420.7,734.5 L421.7,737.9 L422.7,741.3 L423.7,744.6 L424.7,747.8 L425.7,751.0 L426.7,754.2 L427.7,757.3 L428.7,760.3 L429.7,763.2 L430.7,766.1 L431.7,768.9 L432.7,771.7 L433.7,774.4 L434.7,777.0 L435.7,779.5 L436.7,782.0 L437.7,784.4 L438.7,786.7 L439.7,789.0 L440.7,791.2 L441.7,793.3 L442.7,795.4 L443.7,797.4 L444.7,799.4 L445.7,801.2 L446.7,803.1 L447.7,804.8 L448.7,806.5 L449.7,808.2 L450.7,809.7 L451.7,811.3 L452.7,812.8 L453.7,814.2 L454.7,815.6 L455.7,816.9 L456.7,818.2 L457.7,819.4 L458.7,820.6 L459.7,821.8 L460.7,822.9 L461.7,824.0 L462.7,825.0 L463.7,826.1 L464.7,827.0 L465.7,828.0 L466.7,828.9 L467.7,829.8 L468.7,830.6 L469.7,831.5 L470.7,832.3 L471.7,833.0 L472.7,833.8 L473.7,834.5 L474.7,835.3 L475.7,836.0 L476.7,836.6 L477.7,837.3 L478.7,838.0 L479.7,838.6 L480.7,839.2 L481.7,839.8 L482.7,840.4 L483.7,841.0 L484.7,841.5 L485.7,842.1 L486.7,842.6 L487.7,843.2 L488.7,843.7 L489.7,844.2 L490.7,844.7 L491.7,845.2 L492.7,845.7 L493.7,846.2 L494.7,846.7 L495.7,847.1 L496.7,847.6 L497.7,848.1 L498.7,848.5 L499.7,849.0 L500.7,849.4 L501.7,849.9 L502.7,850.3 L503.7,850.7 L504.7,851.2 L505.7,851.6 L506.7,852.0 L507.7,852.4 L508.7,852.8 L509.7,853.3 L510.7,853.7 L511.7,854.1 L512.7,854.5 L513.7,854.9 L514.7,855.3 L515.7,855.7 L516.7,856.1 L517.7,856.4 L518.7,856.8 L519.7,857.2 L520.7,857.6 L521.7,858.0 L522.7,858.4 L523.7,858.7 L524.7,859.1 L525.7,859.5 L526.7,859.9 L527.7,860.2 L528.7,860.6 L529.7,861.0 L530.7,861.4 L531.7,861.7 L532.7,862.1 L533.7,862.4" fill="none" stroke="#008000" stroke-width="4.2" stroke-linejoin="round" stroke-linecap="round"/>
<path d="M64.6,729.6 L65.6,729.9 L66.6,730.2 L67.6,730.4 L68.6,730.7 L69.6,730.9 L70.6,731.2 L71.6,731.4 L72.6,731.7 L73.6,731.9 L74.6,732.2 L75.6,732.4 L76.6,732.6 L77.6,732.8 L78.6,733.0 L79.6,733.2 L80.6,733.4 L81.6,733.6 L82.6,733.8 L83.6,733.9 L84.6,734.1 L85.6,734.2 L86.6,734.4 L87.6,734.5 L88.6,734.6 L89.6,734.7 L90.6,734.8 L91.6,734.8 L92.6,734.9 L93.7,734.9 L94.7,734.9 L95.7,734.9 L96.7,734.9 L97.7,734.8 L98.7,734.8 L99.7,734.7 L100.7,734.5 L101.7,734.4 L102.7,734.2 L103.7,734.0 L104.7,733.8 L105.7,733.5 L106.7,733.3 L107.7,732.9 L108.7,732.6 L109.7,732.2 L110.7,731.8 L111.7,731.3 L112.7,730.8 L113.7,730.3 L114.7,729.7 L115.7,729.1 L116.7,728.5 L117.7,727.8 L118.7,727.1 L119.7,726.3 L120.7,725.5 L121.7,724.6 L122.7,723.7 L123.7,722.7 L124.7,721.8 L125.7,720.7 L126.7,719.6 L127.7,718.5 L128.7,717.3 L129.7,716.1 L130.7,714.9 L131.7,713.6 L132.7,712.3 L133.7,710.9 L134.7,709.5 L135.7,708.0 L136.7,706.5 L137.7,705.0 L138.7,703.5 L139.7,701.9 L140.7,700.3 L141.7,698.7 L142.7,697.0 L143.7,695.3 L144.7,693.6 L145.7,691.9 L146.7,690.2 L147.7,688.5 L148.7,686.8 L149.7,685.0 L150.8,683.3 L151.8,681.6 L152.8,679.9 L153.8,678.2 L154.8,676.5 L155.8,674.8 L156.8,673.2 L157.8,671.6 L158.8,670.0 L159.8,668.4 L160.8,666.9 L161.8,665.5 L162.8,664.1 L163.8,662.7 L164.8,661.4 L165.8,660.2 L166.8,659.0 L167.8,657.9 L168.8,656.9 L169.8,655.9 L170.8,655.0 L171.8,654.2 L172.8,653.5 L173.8,652.9 L174.8,652.3 L175.8,651.8 L176.8,651.5 L177.8,651.2 L178.8,651.0 L179.8,650.9 L180.8,650.9 L181.8,651.1 L182.8,651.3 L183.8,651.6 L184.8,651.9 L185.8,652.4 L186.8,652.9 L187.8,653.4 L188.8,654.1 L189.8,654.8 L190.8,655.5 L191.8,656.4 L192.8,657.3 L193.8,658.2 L194.8,659.3 L195.8,660.3 L196.8,661.5 L197.8,662.7 L198.8,663.9 L199.8,665.2 L200.8,666.6 L201.8,668.0 L202.8,669.4 L203.8,670.9 L204.8,672.5 L205.8,674.1 L206.9,675.7 L207.9,677.4 L208.9,679.1 L209.9,680.8 L210.9,682.6 L211.9,684.4 L212.9,686.2 L213.9,688.0 L214.9,689.9 L215.9,691.8 L216.9,693.7 L217.9,695.6 L218.9,697.6 L219.9,699.5 L220.9,701.5 L221.9,703.5 L222.9,705.4 L223.9,707.4 L224.9,709.4 L225.9,711.4 L226.9,713.3 L227.9,715.3 L228.9,717.2 L229.9,719.2 L230.9,721.1 L231.9,723.1 L232.9,725.0 L233.9,726.9 L234.9,728.8 L235.9,730.6 L236.9,732.5 L237.9,734.3 L238.9,736.1 L239.9,737.9 L240.9,739.6 L241.9,741.3 L242.9,743.1 L243.9,744.7 L244.9,746.4 L245.9,748.0 L246.9,749.6 L247.9,751.2 L248.9,752.7 L249.9,754.2 L250.9,755.7 L251.9,757.1 L252.9,758.6 L253.9,760.0 L254.9,761.3 L255.9,762.6 L256.9,763.9 L257.9,765.2 L258.9,766.4 L259.9,767.7 L260.9,768.8 L261.9,770.0 L262.9,771.1 L264.0,772.2 L265.0,773.3 L266.0,774.3 L267.0,775.3 L268.0,776.3 L269.0,777.3 L270.0,778.2 L271.0,779.1 L272.0,780.0 L273.0,780.8 L274.0,781.7 L275.0,782.5 L276.0,783.3 L277.0,784.0 L278.0,784.8 L279.0,785.5 L280.0,786.2 L281.0,786.9 L282.0,787.6 L283.0,788.2 L284.0,788.9 L285.0,789.5 L286.0,790.1 L287.0,790.7 L288.0,791.2 L289.0,791.8 L290.0,792.3 L291.0,792.9 L292.0,793.4" fill="none" stroke="#0000ff" stroke-width="4.2" stroke-linejoin="round" stroke-linecap="round"/>
<path d="M195.0,768.1 L196.0,768.4 L197.0,768.6 L198.0,768.9 L199.0,769.1 L200.0,769.4 L201.0,769.6 L202.0,769.8 L203.0,770.0 L204.0,770.1 L205.0,770.2 L206.0,770.3 L207.0,770.4 L208.0,770.4 L209.0,770.4 L210.0,770.3 L211.0,770.1 L212.0,769.9 L213.0,769.6 L214.0,769.2 L215.0,768.8 L216.0,768.2 L217.0,767.5 L218.0,766.7 L219.0,765.7 L220.0,764.7 L221.0,763.5 L222.0,762.1 L223.0,760.6 L224.0,758.9 L225.0,757.0 L226.0,755.0 L227.0,752.8 L228.0,750.5 L229.0,748.0 L230.0,745.4 L231.0,742.6 L232.0,739.7 L233.0,736.8 L234.0,733.7 L235.0,730.6 L236.0,727.4 L237.0,724.3 L238.0,721.1 L239.0,718.0 L240.0,715.1 L241.0,712.2 L242.0,709.5 L243.0,706.9 L244.0,704.6 L245.0,702.5 L246.0,700.7 L247.0,699.2 L248.0,698.0 L249.0,697.1 L250.0,696.6 L251.0,696.5 L252.0,696.7 L253.0,697.3 L254.0,698.2 L255.0,699.4 L256.0,701.0 L257.0,702.9 L258.0,705.0 L259.0,707.5 L260.0,710.2 L261.0,713.1 L262.0,716.2 L263.0,719.4 L264.0,722.8 L265.0,726.3 L266.0,729.9 L267.0,733.5 L268.0,737.1 L269.0,740.8 L270.0,744.4 L271.0,747.9 L272.0,751.4 L273.0,754.8 L274.0,758.0 L275.0,761.2 L276.0,764.2 L277.0,767.0 L278.0,769.8 L279.0,772.3 L280.0,774.7 L281.0,777.0 L282.0,779.1 L283.0,781.1 L284.0,782.9 L285.0,784.6 L286.0,786.1 L287.0,787.5 L288.0,788.8 L289.0,790.0 L290.0,791.1 L291.0,792.1 L292.0,793.0 L293.0,793.9 L294.0,794.7 L295.0,795.4 L296.0,796.0 L297.0,796.6 L298.0,797.2 L299.0,797.7 L300.0,798.2" fill="none" stroke="#00ffff" stroke-width="4.2" stroke-linejoin="round" stroke-linecap="round"/>
<path d="M250.0,782.4 L251.0,782.0 L252.0,781.4 L253.0,780.5 L254.0,779.4 L255.0,778.0 L256.0,776.3 L257.0,774.2 L258.0,771.7 L259.0,768.9 L260.0,765.7 L261.0,762.2 L262.0,758.4 L263.0,754.4 L264.0,750.4 L265.0,746.4 L266.0,742.6 L267.0,739.1 L268.0,736.0 L269.0,733.4 L270.0,731.6 L271.0,730.5 L272.0,730.2 L273.0,730.8 L274.0,732.3 L275.0,734.7 L276.0,737.8 L277.0,741.6 L278.0,746.0 L279.0,750.6 L280.0,755.5 L281.0,760.4 L282.0,765.1 L283.0,769.7 L284.0,773.9 L285.0,777.8 L286.0,781.3 L287.0,784.3 L288.0,786.9 L289.0,789.2 L290.0,791.1 L291.0,792.6 L292.0,793.9 L293.0,795.0 L294.0,795.9 L295.0,796.6 L296.0,797.2" fill="none" stroke="#ff00ff" stroke-width="4.2" stroke-linejoin="round" stroke-linecap="round"/>
<path d="M300.0,799.1 L301.0,799.4 L302.0,799.7 L303.0,800.0 L304.0,800.3 L305.0,800.6 L306.0,800.9 L307.0,801.2 L308.0,801.5 L309.0,801.7 L310.0,802.0 L311.0,802.3 L312.0,802.6 L313.0,802.9 L314.0,803.2 L315.0,803.5 L316.0,803.8 L317.0,804.1 L318.0,804.4 L319.0,804.7 L320.0,805.0 L321.0,805.3 L322.0,805.6 L323.0,805.9 L324.0,806.2 L325.0,806.4 L326.0,806.7 L327.0,807.0 L328.0,807.3 L329.0,807.6 L330.0,807.9 L331.0,808.2 L332.0,808.5 L333.0,808.8 L334.0,809.1 L335.0,809.4 L336.0,809.7 L337.0,810.0 L338.0,810.3 L339.0,810.6 L340.0,810.9 L341.0,811.2 L342.0,811.4 L343.0,811.7 L344.0,812.0 L345.0,812.3 L346.0,812.6 L347.0,812.9 L348.0,813.2 L349.0,813.5 L350.0,813.8 L351.0,814.1 L352.0,814.4 L353.0,814.7 L354.0,815.0 L355.0,815.3 L356.0,815.6 L357.0,815.9 L358.0,816.1 L359.0,816.4 L360.0,816.7 L361.0,817.0 L362.0,817.3 L363.0,817.6 L364.0,817.9 L365.0,818.2 L366.0,818.5 L367.0,818.8 L368.0,819.1 L369.0,819.4 L370.0,819.7 L371.0,820.0 L372.0,820.3 L373.0,820.6 L374.0,820.9 L375.0,821.1 L376.0,821.4 L377.0,821.7 L378.0,822.0 L379.0,822.3 L380.0,822.6 L381.0,822.9 L382.0,823.2 L383.0,823.5 L384.0,823.8 L385.0,824.1 L386.0,824.3 L387.0,824.6 L388.0,824.9 L389.0,825.2 L390.0,825.4 L391.0,825.7 L392.0,825.9 L393.0,826.1 L394.0,826.3 L395.0,826.5 L396.0,826.6 L397.0,826.7 L398.0,826.8 L399.0,826.8 L400.0,826.7 L401.0,826.6 L402.0,826.3 L403.0,826.0 L404.0,825.5 L405.0,824.9 L406.0,824.1 L407.0,823.1 L408.0,821.9 L409.0,820.4 L410.0,818.7 L411.0,816.7 L412.0,814.3 L413.0,811.6 L414.0,808.4 L415.0,804.9 L416.0,800.9 L417.0,796.5 L418.0,791.6 L419.0,786.2 L420.0,780.4 L421.0,774.1 L422.0,767.3 L423.0,760.1 L424.0,752.5 L425.0,744.6 L426.0,736.3 L427.0,727.9 L428.0,719.3 L429.0,710.6 L430.0,702.0 L431.0,693.5 L432.0,685.2 L433.0,677.2 L434.0,669.7 L435.0,662.8 L436.0,656.5 L437.0,650.9 L438.0,646.2 L439.0,642.4 L440.0,639.6 L441.0,637.8 L442.0,637.0 L443.0,637.3 L444.0,638.5 L445.0,640.7 L446.0,643.8 L447.0,647.8 L448.0,652.6 L449.0,658.1 L450.0,664.4 L451.0,671.3 L452.0,678.7 L453.0,686.6 L454.0,694.8 L455.0,703.3 L456.0,711.9 L457.0,720.7 L458.0,729.4 L459.0,738.1 L460.0,746.7 L461.0,755.0 L462.0,763.1 L463.0,770.9 L464.0,778.3 L465.0,785.4 L466.0,792.0 L467.0,798.3 L468.0,804.1 L469.0,809.5 L470.0,814.5 L471.0,819.0 L472.0,823.2 L473.0,826.9 L474.0,830.4 L475.0,833.4 L476.0,836.2 L477.0,838.6 L478.0,840.8 L479.0,842.8 L480.0,844.5 L481.0,846.0 L482.0,847.4 L483.0,848.5 L484.0,849.6 L485.0,850.5 L486.0,851.4 L487.0,852.1 L488.0,852.8 L489.0,853.4 L490.0,853.9 L491.0,854.4 L492.0,854.9 L493.0,855.3 L494.0,855.7 L495.0,856.1 L496.0,856.5 L497.0,856.8 L498.0,857.2 L499.0,857.5 L500.0,857.8 L501.0,858.1 L502.0,858.4 L503.0,858.7 L504.0,859.0 L505.0,859.3 L506.0,859.6 L507.0,859.9 L508.0,860.2 L509.0,860.5 L510.0,860.8 L511.0,861.1 L512.0,861.4 L513.0,861.7 L514.0,862.0 L515.0,862.3 L516.0,862.6 L517.0,862.9 L518.0,863.2 L519.0,863.5 L520.0,863.8 L521.0,864.1 L522.0,864.4" fill="none" stroke="#ff8000" stroke-width="4.2" stroke-linejoin="round" stroke-linecap="round"/>
<path d="M440.0,837.8 L441.0,837.0 L442.0,835.9 L443.0,834.2 L444.0,832.0 L445.0,829.1 L446.0,825.2 L447.0,820.4 L448.0,814.5 L449.0,807.2 L450.0,798.7 L451.0,788.8 L452.0,777.5 L453.0,764.9 L454.0,751.3 L455.0,736.8 L456.0,721.9 L457.0,706.8 L458.0,692.2 L459.0,678.4 L460.0,666.0 L461.0,655.6 L462.0,647.4 L463.0,642.0 L464.0,639.6 L465.0,640.2 L466.0,643.8 L467.0,650.4 L468.0,659.6 L469.0,671.1 L470.0,684.3 L471.0,698.9 L472.0,714.3 L473.0,729.9 L474.0,745.4 L475.0,760.3 L476.0,774.4 L477.0,787.3 L478.0,798.9 L479.0,809.1 L480.0,818.0 L481.0,825.5 L482.0,831.8 L483.0,837.0 L484.0,841.2 L485.0,844.6 L486.0,847.3 L487.0,849.4 L488.0,851.1 L489.0,852.3 L490.0,853.4" fill="none" stroke="#800080" stroke-width="4.2" stroke-linejoin="round" stroke-linecap="round"/>
<path d="M64.8,725.9 L67.4,726.7 L70.0,731.3 L72.6,725.4 L75.2,730.7 L77.8,726.6 L80.5,734.5 L83.1,733.0 L85.7,735.9 L88.3,732.1 L90.9,734.3 L93.5,732.9 L96.1,731.8 L98.7,733.6 L101.3,730.2 L103.9,731.7 L106.6,733.3 L109.2,731.0 L111.8,728.8 L114.4,733.1 L117.0,726.7 L119.6,723.4 L122.2,722.8 L124.8,718.7 L127.4,716.2 L130.0,713.1 L132.6,715.0 L135.3,706.9 L137.9,703.3 L140.5,700.2 L143.1,698.9 L145.7,689.5 L148.3,684.1 L150.9,686.3 L153.5,673.2 L156.1,671.1 L158.7,669.2 L161.4,668.8 L164.0,658.0 L166.6,651.5 L169.2,655.4 L171.8,650.5 L174.4,649.0 L177.0,649.7 L179.6,648.7 L182.2,648.9 L184.8,648.1 L187.4,653.1 L190.1,655.2 L192.7,654.0 L195.3,655.4 L197.9,660.8 L200.5,663.4 L203.1,663.4 L205.7,668.2 L208.3,675.0 L210.9,675.9 L213.5,678.6 L216.2,682.4 L218.8,683.9 L221.4,685.2 L224.0,681.1 L226.6,688.3 L229.2,682.8 L231.8,677.4 L234.4,677.6 L237.0,671.8 L239.6,666.8 L242.2,665.3 L244.9,665.1 L247.5,659.8 L250.1,661.9 L252.7,664.1 L255.3,658.5 L257.9,660.5 L260.5,663.5 L263.1,657.4 L265.7,660.2 L268.3,665.3 L271.0,670.1 L273.6,679.3 L276.2,689.0 L278.8,716.5 L281.4,731.1 L284.0,747.9 L286.6,760.1 L289.2,764.2 L291.8,770.7 L294.4,774.6 L297.0,783.5 L299.7,778.5 L302.3,780.2 L304.9,780.2 L307.5,781.6 L310.1,780.8 L312.7,779.3 L315.3,774.7 L317.9,769.0 L320.5,774.3 L323.1,772.2 L325.8,771.6 L328.4,765.6 L331.0,761.0 L333.6,759.2 L336.2,750.5 L338.8,746.7 L341.4,741.4 L344.0,738.4 L346.6,736.0 L349.2,726.4 L351.8,720.1 L354.5,710.7 L357.1,703.1 L359.7,693.6 L362.3,686.1 L364.9,673.5 L367.5,668.6 L370.1,661.2 L372.7,659.2 L375.3,653.0 L377.9,649.3 L380.6,646.7 L383.2,640.4 L385.8,642.7 L388.4,645.6 L391.0,643.7 L393.6,649.9 L396.2,652.2 L398.8,654.9 L401.4,665.2 L404.0,669.6 L406.6,677.8 L409.3,681.5 L411.9,686.5 L414.5,681.9 L417.1,689.1 L419.7,682.0 L422.3,669.3 L424.9,656.0 L427.5,643.6 L430.1,629.5 L432.7,613.8 L435.4,600.8 L438.0,586.3 L440.6,583.4 L443.2,588.3 L445.8,587.2 L448.4,583.7 L451.0,581.4 L453.6,570.6 L456.2,557.7 L458.8,549.1 L461.4,540.4 L464.1,552.5 L466.7,577.2 L469.3,615.5 L471.9,667.7 L474.5,724.3 L477.1,760.3 L479.7,792.0 L482.3,818.9 L484.9,829.8 L487.5,837.4 L490.2,845.2 L492.8,840.7 L495.4,847.5 L498.0,845.6 L500.6,846.1 L503.2,848.7 L505.8,854.2 L508.4,852.4 L511.0,849.7 L513.6,852.4 L516.2,859.3 L518.9,859.2 L521.5,855.5 L524.1,864.3 L526.7,859.0 L529.3,858.2 L531.9,861.5 L534.5,864.8 L537.1,867.3 L539.7,866.9 L542.3,864.6 L545.0,865.2 L547.6,864.1 L550.2,868.1 L552.8,867.8 L555.4,870.6 L558.0,868.1" fill="none" stroke="#000" stroke-width="3.6" stroke-linejoin="round" stroke-linecap="round"/>
<path d="M64.6,728.5 L65.6,728.7 L66.6,729.0 L67.6,729.2 L68.6,729.5 L69.6,729.7 L70.6,730.0 L71.6,730.2 L72.6,730.5 L73.6,730.7 L74.6,730.9 L75.6,731.1 L76.6,731.3 L77.6,731.5 L78.6,731.7 L79.6,731.9 L80.6,732.1 L81.6,732.3 L82.6,732.5 L83.6,732.6 L84.6,732.8 L85.6,732.9 L86.6,733.0 L87.6,733.1 L88.6,733.2 L89.6,733.3 L90.6,733.4 L91.6,733.4 L92.6,733.5 L93.6,733.5 L94.6,733.5 L95.6,733.5 L96.6,733.4 L97.6,733.4 L98.6,733.3 L99.6,733.2 L100.6,733.1 L101.6,732.9 L102.6,732.7 L103.6,732.5 L104.6,732.3 L105.6,732.0 L106.6,731.7 L107.6,731.4 L108.6,731.1 L109.6,730.7 L110.6,730.2 L111.6,729.8 L112.6,729.3 L113.6,728.7 L114.6,728.2 L115.6,727.5 L116.6,726.9 L117.6,726.2 L118.6,725.4 L119.6,724.7 L120.6,723.8 L121.6,723.0 L122.6,722.1 L123.6,721.1 L124.6,720.1 L125.6,719.1 L126.6,718.0 L127.6,716.8 L128.6,715.7 L129.6,714.4 L130.6,713.2 L131.6,711.9 L132.6,710.5 L133.6,709.2 L134.6,707.7 L135.6,706.3 L136.6,704.8 L137.6,703.3 L138.6,701.7 L139.6,700.1 L140.6,698.5 L141.6,696.9 L142.6,695.2 L143.6,693.5 L144.6,691.8 L145.6,690.1 L146.6,688.4 L147.6,686.6 L148.6,684.9 L149.6,683.1 L150.6,681.4 L151.6,679.7 L152.6,677.9 L153.6,676.2 L154.6,674.5 L155.6,672.8 L156.6,671.2 L157.6,669.5 L158.6,667.9 L159.6,666.4 L160.6,664.8 L161.6,663.4 L162.6,661.9 L163.6,660.5 L164.6,659.2 L165.6,657.9 L166.6,656.7 L167.6,655.6 L168.6,654.5 L169.6,653.5 L170.6,652.6 L171.6,651.8 L172.6,651.0 L173.6,650.3 L174.6,649.7 L175.6,649.2 L176.6,648.8 L177.6,648.5 L178.6,648.3 L179.6,648.2 L180.6,648.1 L181.6,648.2 L182.6,648.4 L183.6,648.6 L184.6,648.9 L185.6,649.3 L186.6,649.8 L187.6,650.3 L188.6,650.9 L189.6,651.6 L190.6,652.3 L191.6,653.1 L192.6,653.9 L193.6,654.8 L194.6,655.7 L195.6,656.7 L196.6,657.8 L197.6,658.9 L198.6,660.1 L199.6,661.3 L200.6,662.5 L201.6,663.8 L202.6,665.1 L203.6,666.4 L204.6,667.7 L205.6,669.1 L206.6,670.4 L207.6,671.8 L208.6,673.1 L209.6,674.4 L210.6,675.7 L211.6,677.0 L212.6,678.2 L213.6,679.4 L214.6,680.5 L215.6,681.5 L216.6,682.4 L217.6,683.2 L218.6,683.9 L219.6,684.5 L220.6,684.9 L221.6,685.2 L222.6,685.4 L223.6,685.4 L224.6,685.2 L225.6,684.9 L226.6,684.4 L227.6,683.7 L228.6,682.9 L229.6,681.9 L230.6,680.8 L231.6,679.5 L232.6,678.2 L233.6,676.7 L234.6,675.1 L235.6,673.4 L236.6,671.8 L237.6,670.1 L238.6,668.4 L239.6,666.8 L240.6,665.2 L241.6,663.8 L242.6,662.5 L243.6,661.3 L244.6,660.3 L245.6,659.5 L246.6,658.9 L247.6,658.6 L248.6,658.4 L249.6,658.4 L250.6,658.6 L251.6,658.9 L252.6,659.4 L253.6,659.9 L254.6,660.4 L255.6,660.9 L256.6,661.3 L257.6,661.6 L258.6,661.8 L259.6,661.8 L260.6,661.7 L261.6,661.5 L262.6,661.3 L263.6,661.0 L264.6,660.8 L265.6,660.8 L266.6,661.1 L267.6,661.7 L268.6,662.9 L269.6,664.6 L270.6,667.0 L271.6,670.0 L272.6,673.8 L273.6,678.4 L274.6,683.8 L275.6,689.8 L276.6,696.3 L277.6,703.2 L278.6,710.4 L279.6,717.6 L280.6,724.7 L281.6,731.6 L282.6,738.1 L283.6,744.2 L284.6,749.8 L285.6,754.8 L286.6,759.2 L287.6,763.0 L288.6,766.4 L289.6,769.2 L290.6,771.5 L291.6,773.5 L292.6,775.1 L293.6,776.5 L294.6,777.5 L295.6,778.4 L296.6,779.1 L297.6,779.6 L298.6,780.0 L299.7,780.3 L300.7,780.6 L301.7,780.7 L302.7,780.8 L303.7,780.8 L304.7,780.8 L305.7,780.7 L306.7,780.5 L307.7,780.4 L308.7,780.1 L309.7,779.9 L310.7,779.5 L311.7,779.2 L312.7,778.8 L313.7,778.3 L314.7,777.8 L315.7,777.3 L316.7,776.7 L317.7,776.1 L318.7,775.4 L319.7,774.6 L320.7,773.8 L321.7,773.0 L322.7,772.1 L323.7,771.1 L324.7,770.1 L325.7,769.0 L326.7,767.9 L327.7,766.7 L328.7,765.5 L329.7,764.1 L330.7,762.8 L331.7,761.3 L332.7,759.8 L333.7,758.2 L334.7,756.6 L335.7,754.8 L336.7,753.0 L337.7,751.2 L338.7,749.2 L339.7,747.2 L340.7,745.2 L341.7,743.0 L342.7,740.8 L343.7,738.6 L344.7,736.2 L345.7,733.8 L346.7,731.4 L347.7,728.8 L348.7,726.2 L349.7,723.6 L350.7,720.9 L351.7,718.1 L352.7,715.3 L353.7,712.5 L354.7,709.6 L355.7,706.6 L356.7,703.7 L357.7,700.7 L358.7,697.7 L359.7,694.7 L360.7,691.6 L361.7,688.6 L362.7,685.6 L363.7,682.5 L364.7,679.5 L365.7,676.6 L366.7,673.7 L367.7,670.8 L368.7,668.0 L369.7,665.2 L370.7,662.6 L371.7,660.0 L372.7,657.5 L373.7,655.2 L374.7,653.0 L375.7,650.9 L376.7,649.0 L377.7,647.3 L378.7,645.7 L379.7,644.3 L380.7,643.1 L381.7,642.1 L382.7,641.4 L383.7,640.8 L384.7,640.5 L385.7,640.4 L386.7,640.5 L387.7,640.9 L388.7,641.5 L389.7,642.3 L390.7,643.3 L391.7,644.6 L392.7,646.0 L393.7,647.6 L394.7,649.4 L395.7,651.4 L396.7,653.5 L397.7,655.8 L398.7,658.1 L399.7,660.5 L400.7,663.0 L401.7,665.5 L402.7,668.0 L403.7,670.5 L404.7,673.0 L405.7,675.3 L406.7,677.6 L407.7,679.6 L408.7,681.5 L409.7,683.2 L410.7,684.5 L411.7,685.6 L412.7,686.3 L413.7,686.7 L414.7,686.6 L415.7,686.1 L416.7,685.1 L417.7,683.6 L418.7,681.6 L419.7,679.1 L420.7,676.1 L421.7,672.6 L422.7,668.6 L423.7,664.1 L424.7,659.2 L425.7,654.0 L426.7,648.5 L427.7,642.7 L428.7,636.7 L429.7,630.7 L430.7,624.7 L431.7,618.8 L432.7,613.2 L433.7,607.9 L434.7,602.9 L435.7,598.5 L436.7,594.7 L437.7,591.4 L438.7,588.9 L439.7,587.0 L440.7,585.8 L441.7,585.2 L442.7,585.2 L443.7,585.5 L444.7,586.1 L445.7,586.7 L446.7,587.1 L447.7,587.2 L448.7,586.9 L449.7,585.9 L450.7,584.1 L451.7,581.4 L452.7,577.9 L453.7,573.5 L454.7,568.5 L455.7,563.0 L456.7,557.3 L457.7,551.9 L458.7,547.1 L459.7,543.4 L460.7,541.3 L461.7,541.1 L462.7,543.1 L463.7,547.6 L464.7,554.8 L465.7,564.7 L466.7,577.1 L467.7,591.7 L468.7,608.3 L469.7,626.5 L470.7,645.6 L471.7,665.2 L472.7,684.9 L473.7,704.2 L474.7,722.6 L475.7,739.9 L476.7,755.8 L477.7,770.2 L478.7,782.9 L479.7,794.0 L480.7,803.6 L481.7,811.7 L482.7,818.5 L483.7,824.1 L484.7,828.7 L485.7,832.4 L486.7,835.4 L487.7,837.8 L488.7,839.7 L489.7,841.3 L490.7,842.6 L491.7,843.7 L492.7,844.6 L493.7,845.4 L494.7,846.1 L495.7,846.7 L496.7,847.3 L497.7,847.9 L498.7,848.4 L499.7,848.9 L500.7,849.3 L501.7,849.8 L502.7,850.3 L503.7,850.7 L504.7,851.1 L505.7,851.6 L506.7,852.0 L507.7,852.4 L508.7,852.8 L509.7,853.2 L510.7,853.7 L511.7,854.1 L512.7,854.5 L513.7,854.9 L514.7,855.3 L515.7,855.7 L516.7,856.1 L517.7,856.4 L518.7,856.8 L519.7,857.2 L520.7,857.6 L521.7,858.0 L522.7,858.4 L523.7,858.7 L524.7,859.1 L525.7,859.5 L526.7,859.9 L527.7,860.2 L528.7,860.6 L529.7,861.0 L530.7,861.4 L531.7,861.7 L532.7,862.1 L533.7,862.4" fill="none" stroke="#ff0000" stroke-width="4.8" stroke-linejoin="round" stroke-linecap="round"/>
<text x="152.0" y="637.8" font-size="32.0" font-family='"Liberation Serif", "Times New Roman", serif' font-weight="bold" textLength="40.5" lengthAdjust="spacingAndGlyphs">sat.</text>
<text x="238.8" y="640.1" font-size="33.5" font-family='"Liberation Serif", "Times New Roman", serif' font-weight="bold" textLength="26.8" lengthAdjust="spacingAndGlyphs">Ni</text>
<text x="266.1" y="623.4" font-size="31.5" font-family='"Liberation Serif", "Times New Roman", serif' font-weight="bold" textLength="29.9" lengthAdjust="spacingAndGlyphs">3+</text>
<text x="287.3" y="740.9" font-size="33.5" font-family='"Liberation Serif", "Times New Roman", serif' font-weight="bold" textLength="27.5" lengthAdjust="spacingAndGlyphs">Ni</text>
<text x="314.7" y="724.1" font-size="31.5" font-family='"Liberation Serif", "Times New Roman", serif' font-weight="bold" textLength="29.3" lengthAdjust="spacingAndGlyphs">2+</text>
<text x="364.0" y="618.6" font-size="32.0" font-family='"Liberation Serif", "Times New Roman", serif' font-weight="bold" textLength="41.0" lengthAdjust="spacingAndGlyphs">sat.</text>
<text x="394.1" y="555.6" font-size="33.5" font-family='"Liberation Serif", "Times New Roman", serif' font-weight="bold" textLength="25.6" lengthAdjust="spacingAndGlyphs">Ni</text>
<text x="418.7" y="540.6" font-size="31.5" font-family='"Liberation Serif", "Times New Roman", serif' font-weight="bold" textLength="33.0" lengthAdjust="spacingAndGlyphs">3+</text>
<line x1="414.2" y1="560.2" x2="432.8" y2="612.5" stroke="#000" stroke-width="3.2" stroke-linecap="round"/>
<path d="M438.8,629.5 L424.6,613.3 L439.6,608.0 Z" fill="#000"/>
<text x="479.0" y="692.5" font-size="33.5" font-family='"Liberation Serif", "Times New Roman", serif' font-weight="bold" textLength="26.5" lengthAdjust="spacingAndGlyphs">Ni</text>
<text x="504.5" y="673.9" font-size="31.5" font-family='"Liberation Serif", "Times New Roman", serif' font-weight="bold" textLength="31.2" lengthAdjust="spacingAndGlyphs">2+</text>
<path d="M857.0,465.6 L861.0,465.7 L865.1,465.9 L869.1,466.0 L873.1,466.2 L877.2,466.3 L881.2,466.5 L885.2,466.6 L889.3,466.8 L893.3,466.9 L897.4,467.1 L901.4,467.2 L905.4,467.4 L909.5,467.5 L913.5,467.7 L917.5,467.8 L921.6,467.9 L925.6,468.1 L929.6,468.2 L933.7,468.4 L937.7,468.5 L941.8,468.7 L945.8,468.8 L949.8,469.0 L953.9,469.1 L957.9,469.3 L961.9,469.4 L966.0,469.6 L970.0,469.7 L974.0,469.9 L978.1,470.0 L982.1,470.2 L986.1,470.3 L990.2,470.4 L994.2,470.6 L998.2,470.7 L1002.3,470.9 L1006.3,471.0 L1010.4,471.2 L1014.4,471.3 L1018.4,471.5 L1022.5,471.6 L1026.5,471.8 L1030.5,471.9 L1034.6,472.1 L1038.6,472.2 L1042.6,472.4 L1046.7,472.5 L1050.7,472.7 L1054.8,472.8 L1058.8,472.9 L1062.8,473.1 L1066.9,473.2 L1070.9,473.4 L1074.9,473.5 L1079.0,473.7 L1083.0,473.8" fill="none" stroke="#00ff00" stroke-width="4.8" stroke-linejoin="round" stroke-linecap="round"/>
<path d="M644.5,456.3 L645.5,456.2 L646.5,456.2 L647.5,456.1 L648.5,456.0 L649.5,456.0 L650.5,455.9 L651.5,455.8 L652.5,455.7 L653.5,455.6 L654.5,455.5 L655.5,455.4 L656.5,455.3 L657.5,455.2 L658.5,455.1 L659.5,454.9 L660.5,454.8 L661.5,454.7 L662.5,454.5 L663.5,454.4 L664.5,454.2 L665.5,454.0 L666.5,453.8 L667.5,453.6 L668.5,453.4 L669.5,453.2 L670.5,453.0 L671.5,452.8 L672.5,452.5 L673.5,452.3 L674.5,452.0 L675.5,451.7 L676.5,451.4 L677.5,451.1 L678.5,450.8 L679.5,450.5 L680.5,450.2 L681.5,449.8 L682.5,449.4 L683.5,449.1 L684.5,448.7 L685.5,448.3 L686.5,447.8 L687.5,447.4 L688.6,447.0 L689.6,446.5 L690.6,446.0 L691.6,445.5 L692.6,445.0 L693.6,444.5 L694.6,443.9 L695.6,443.4 L696.6,442.8 L697.6,442.2 L698.6,441.6 L699.6,440.9 L700.6,440.3 L701.6,439.6 L702.6,438.9 L703.6,438.2 L704.6,437.5 L705.6,436.7 L706.6,436.0 L707.6,435.2 L708.6,434.4 L709.6,433.6 L710.6,432.7 L711.6,431.9 L712.6,431.0 L713.6,430.1 L714.6,429.2 L715.6,428.2 L716.6,427.3 L717.6,426.3 L718.6,425.3 L719.6,424.3 L720.6,423.2 L721.6,422.2 L722.6,421.1 L723.6,420.0 L724.6,418.9 L725.6,417.8 L726.6,416.6 L727.6,415.5 L728.6,414.3 L729.6,413.1 L730.6,411.9 L731.6,410.6 L732.6,409.4 L733.6,408.1 L734.6,406.8 L735.6,405.5 L736.6,404.2 L737.6,402.9 L738.6,401.6 L739.6,400.2 L740.6,398.9 L741.6,397.5 L742.6,396.2 L743.6,394.8 L744.6,393.4 L745.6,392.0 L746.6,390.6 L747.6,389.2 L748.6,387.8 L749.6,386.3 L750.6,384.9 L751.6,383.5 L752.6,382.1 L753.6,380.6 L754.6,379.2 L755.6,377.8 L756.6,376.4 L757.6,374.9 L758.6,373.5 L759.6,372.1 L760.6,370.7 L761.6,369.3 L762.6,367.9 L763.6,366.6 L764.6,365.2 L765.6,363.8 L766.6,362.5 L767.6,361.2 L768.6,359.9 L769.6,358.6 L770.6,357.3 L771.6,356.0 L772.6,354.8 L773.6,353.6 L774.6,352.4 L775.6,351.2 L776.7,350.1 L777.7,348.9 L778.7,347.8 L779.7,346.8 L780.7,345.7 L781.7,344.7 L782.7,343.7 L783.7,342.8 L784.7,341.9 L785.7,341.0 L786.7,340.1 L787.7,339.3 L788.7,338.5 L789.7,337.8 L790.7,337.1 L791.7,336.4 L792.7,335.8 L793.7,335.2 L794.7,334.6 L795.7,334.1 L796.7,333.6 L797.7,333.2 L798.7,332.8 L799.7,332.4 L800.7,332.1 L801.7,331.9 L802.7,331.7 L803.7,331.5 L804.7,331.3 L805.7,331.3 L806.7,331.2 L807.7,331.2 L808.7,331.2 L809.7,331.3 L810.7,331.5 L811.7,331.7 L812.7,332.0 L813.7,332.3 L814.7,332.6 L815.7,333.1 L816.7,333.5 L817.7,334.1 L818.7,334.7 L819.7,335.3 L820.7,336.0 L821.7,336.7 L822.7,337.5 L823.7,338.3 L824.7,339.2 L825.7,340.1 L826.7,341.1 L827.7,342.1 L828.7,343.2 L829.7,344.3 L830.7,345.4 L831.7,346.6 L832.7,347.8 L833.7,349.1 L834.7,350.4 L835.7,351.7 L836.7,353.0 L837.7,354.4 L838.7,355.8 L839.7,357.3 L840.7,358.8 L841.7,360.3 L842.7,361.8 L843.7,363.3 L844.7,364.9 L845.7,366.4 L846.7,368.0 L847.7,369.6 L848.7,371.3 L849.7,372.9 L850.7,374.6 L851.7,376.2 L852.7,377.9 L853.7,379.5 L854.7,381.2 L855.7,382.9 L856.7,384.6 L857.7,386.2 L858.7,387.9 L859.7,389.6 L860.7,391.3 L861.7,392.9 L862.7,394.6 L863.8,396.3 L864.8,397.9 L865.8,399.5 L866.8,401.2 L867.8,402.8 L868.8,404.4 L869.8,406.0 L870.8,407.6 L871.8,409.1 L872.8,410.7 L873.8,412.2 L874.8,413.7 L875.8,415.2 L876.8,416.6 L877.8,418.1 L878.8,419.5 L879.8,420.9 L880.8,422.3 L881.8,423.7 L882.8,425.0 L883.8,426.3 L884.8,427.6 L885.8,428.9 L886.8,430.1 L887.8,431.4 L888.8,432.6 L889.8,433.7 L890.8,434.9 L891.8,436.0 L892.8,437.1 L893.8,438.2 L894.8,439.2 L895.8,440.3 L896.8,441.3 L897.8,442.2 L898.8,443.2 L899.8,444.1 L900.8,445.0 L901.8,445.9 L902.8,446.8 L903.8,447.6 L904.8,448.4 L905.8,449.2 L906.8,450.0 L907.8,450.7 L908.8,451.4 L909.8,452.1 L910.8,452.8 L911.8,453.5 L912.8,454.1 L913.8,454.7 L914.8,455.3 L915.8,455.9 L916.8,456.5 L917.8,457.0 L918.8,457.5 L919.8,458.0 L920.8,458.5 L921.8,459.0 L922.8,459.4 L923.8,459.9 L924.8,460.3 L925.8,460.7 L926.8,461.1 L927.8,461.5 L928.8,461.8 L929.8,462.2 L930.8,462.5 L931.8,462.8 L932.8,463.2 L933.8,463.5 L934.8,463.8 L935.8,464.0 L936.8,464.3 L937.8,464.6 L938.8,464.8 L939.8,465.0 L940.8,465.3 L941.8,465.5 L942.8,465.7 L943.8,465.9 L944.8,466.1 L945.8,466.3 L946.8,466.5 L947.8,466.6 L948.8,466.8 L949.8,467.0 L950.8,467.1 L951.9,467.3 L952.9,467.4 L953.9,467.5 L954.9,467.7 L955.9,467.8 L956.9,467.9 L957.9,468.0 L958.9,468.1 L959.9,468.2 L960.9,468.3 L961.9,468.4 L962.9,468.5 L963.9,468.6 L964.9,468.7 L965.9,468.8 L966.9,468.9 L967.9,469.0 L968.9,469.1 L969.9,469.1 L970.9,469.2 L971.9,469.3 L972.9,469.4 L973.9,469.4 L974.9,469.5 L975.9,469.5 L976.9,469.6 L977.9,469.7 L978.9,469.7 L979.9,469.8 L980.9,469.8 L981.9,469.9 L982.9,470.0 L983.9,470.0 L984.9,470.1 L985.9,470.1 L986.9,470.2 L987.9,470.2 L988.9,470.3 L989.9,470.3 L990.9,470.3 L991.9,470.4 L992.9,470.4 L993.9,470.5 L994.9,470.5 L995.9,470.6 L996.9,470.6 L997.9,470.7 L998.9,470.7 L999.9,470.7 L1000.9,470.8 L1001.9,470.8 L1002.9,470.9 L1003.9,470.9 L1004.9,470.9 L1005.9,471.0 L1006.9,471.0 L1007.9,471.1 L1008.9,471.1 L1009.9,471.1 L1010.9,471.2 L1011.9,471.2 L1012.9,471.3 L1013.9,471.3 L1014.9,471.3 L1015.9,471.4 L1016.9,471.4 L1017.9,471.4 L1018.9,471.5 L1019.9,471.5 L1020.9,471.6 L1021.9,471.6 L1022.9,471.6 L1023.9,471.7 L1024.9,471.7 L1025.9,471.7 L1026.9,471.8 L1027.9,471.8 L1028.9,471.9 L1029.9,471.9 L1030.9,471.9 L1031.9,472.0 L1032.9,472.0 L1033.9,472.0 L1034.9,472.1 L1035.9,472.1 L1036.9,472.1 L1037.9,472.2 L1038.9,472.2 L1040.0,472.3 L1041.0,472.3 L1042.0,472.3 L1043.0,472.4 L1044.0,472.4 L1045.0,472.4 L1046.0,472.5 L1047.0,472.5 L1048.0,472.5 L1049.0,472.6 L1050.0,472.6 L1051.0,472.7 L1052.0,472.7 L1053.0,472.7 L1054.0,472.8 L1055.0,472.8 L1056.0,472.8 L1057.0,472.9 L1058.0,472.9 L1059.0,473.0 L1060.0,473.0 L1061.0,473.0 L1062.0,473.1 L1063.0,473.1 L1064.0,473.1 L1065.0,473.2 L1066.0,473.2 L1067.0,473.2 L1068.0,473.3 L1069.0,473.3 L1070.0,473.4 L1071.0,473.4 L1072.0,473.4 L1073.0,473.5 L1074.0,473.5 L1075.0,473.5 L1076.0,473.6 L1077.0,473.6 L1078.0,473.6 L1079.0,473.7 L1080.0,473.7 L1081.0,473.8 L1082.0,473.8 L1083.0,473.8" fill="none" stroke="#808000" stroke-width="4.2" stroke-linejoin="round" stroke-linecap="round"/>
<path d="M644.5,456.9 L645.5,456.9 L646.5,457.0 L647.5,457.0 L648.5,457.0 L649.5,457.1 L650.5,457.1 L651.5,457.1 L652.5,457.1 L653.5,457.2 L654.5,457.2 L655.5,457.2 L656.5,457.2 L657.5,457.3 L658.5,457.3 L659.5,457.3 L660.5,457.4 L661.5,457.4 L662.5,457.4 L663.5,457.4 L664.5,457.5 L665.5,457.5 L666.5,457.5 L667.5,457.5 L668.5,457.6 L669.5,457.6 L670.5,457.6 L671.5,457.6 L672.5,457.7 L673.5,457.7 L674.5,457.7 L675.5,457.7 L676.5,457.8 L677.5,457.8 L678.5,457.8 L679.5,457.8 L680.5,457.8 L681.5,457.9 L682.5,457.9 L683.5,457.9 L684.5,457.9 L685.5,458.0 L686.5,458.0 L687.5,458.0 L688.6,458.0 L689.6,458.0 L690.6,458.1 L691.6,458.1 L692.6,458.1 L693.6,458.1 L694.6,458.1 L695.6,458.2 L696.6,458.2 L697.6,458.2 L698.6,458.2 L699.6,458.2 L700.6,458.3 L701.6,458.3 L702.6,458.3 L703.6,458.3 L704.6,458.3 L705.6,458.3 L706.6,458.3 L707.6,458.4 L708.6,458.4 L709.6,458.4 L710.6,458.4 L711.6,458.4 L712.6,458.4 L713.6,458.4 L714.6,458.4 L715.6,458.5 L716.6,458.5 L717.6,458.5 L718.6,458.5 L719.6,458.5 L720.6,458.5 L721.6,458.5 L722.6,458.5 L723.6,458.5 L724.6,458.5 L725.6,458.5 L726.6,458.5 L727.6,458.5 L728.6,458.5 L729.6,458.5 L730.6,458.5 L731.6,458.4 L732.6,458.4 L733.6,458.4 L734.6,458.4 L735.6,458.4 L736.6,458.3 L737.6,458.3 L738.6,458.3 L739.6,458.2 L740.6,458.2 L741.6,458.1 L742.6,458.1 L743.6,458.0 L744.6,457.9 L745.6,457.9 L746.6,457.8 L747.6,457.7 L748.6,457.6 L749.6,457.5 L750.6,457.4 L751.6,457.2 L752.6,457.1 L753.6,456.9 L754.6,456.8 L755.6,456.6 L756.6,456.4 L757.6,456.2 L758.6,455.9 L759.6,455.7 L760.6,455.4 L761.6,455.1 L762.6,454.8 L763.6,454.5 L764.6,454.1 L765.6,453.8 L766.6,453.3 L767.6,452.9 L768.6,452.4 L769.6,451.9 L770.6,451.4 L771.6,450.8 L772.6,450.2 L773.6,449.5 L774.6,448.8 L775.6,448.1 L776.7,447.3 L777.7,446.4 L778.7,445.5 L779.7,444.6 L780.7,443.6 L781.7,442.5 L782.7,441.4 L783.7,440.2 L784.7,438.9 L785.7,437.6 L786.7,436.2 L787.7,434.7 L788.7,433.2 L789.7,431.6 L790.7,429.9 L791.7,428.1 L792.7,426.2 L793.7,424.3 L794.7,422.2 L795.7,420.1 L796.7,417.9 L797.7,415.5 L798.7,413.1 L799.7,410.6 L800.7,408.0 L801.7,405.3 L802.7,402.5 L803.7,399.6 L804.7,396.6 L805.7,393.4 L806.7,390.2 L807.7,386.9 L808.7,383.5 L809.7,380.0 L810.7,376.4 L811.7,372.7 L812.7,368.9 L813.7,365.0 L814.7,361.0 L815.7,357.0 L816.7,352.8 L817.7,348.6 L818.7,344.3 L819.7,339.9 L820.7,335.4 L821.7,330.9 L822.7,326.4 L823.7,321.7 L824.7,317.1 L825.7,312.4 L826.7,307.6 L827.7,302.8 L828.7,298.1 L829.7,293.3 L830.7,288.5 L831.7,283.7 L832.7,278.9 L833.7,274.1 L834.7,269.4 L835.7,264.6 L836.7,260.0 L837.7,255.4 L838.7,250.9 L839.7,246.4 L840.7,242.0 L841.7,237.7 L842.7,233.6 L843.7,229.5 L844.7,225.6 L845.7,221.8 L846.7,218.1 L847.7,214.6 L848.7,211.2 L849.7,208.1 L850.7,205.1 L851.7,202.2 L852.7,199.6 L853.7,197.2 L854.7,195.0 L855.7,193.0 L856.7,191.2 L857.7,189.7 L858.7,188.4 L859.7,187.3 L860.7,186.5 L861.7,185.9 L862.7,185.5 L863.8,185.4 L864.8,185.6 L865.8,186.0 L866.8,186.6 L867.8,187.6 L868.8,188.7 L869.8,190.1 L870.8,191.7 L871.8,193.6 L872.8,195.7 L873.8,198.0 L874.8,200.6 L875.8,203.3 L876.8,206.3 L877.8,209.4 L878.8,212.7 L879.8,216.2 L880.8,219.9 L881.8,223.7 L882.8,227.7 L883.8,231.7 L884.8,236.0 L885.8,240.3 L886.8,244.7 L887.8,249.3 L888.8,253.9 L889.8,258.6 L890.8,263.3 L891.8,268.2 L892.8,273.0 L893.8,277.9 L894.8,282.8 L895.8,287.8 L896.8,292.7 L897.8,297.7 L898.8,302.6 L899.8,307.5 L900.8,312.4 L901.8,317.3 L902.8,322.1 L903.8,326.9 L904.8,331.7 L905.8,336.3 L906.8,341.0 L907.8,345.5 L908.8,350.0 L909.8,354.4 L910.8,358.7 L911.8,362.9 L912.8,367.1 L913.8,371.1 L914.8,375.1 L915.8,379.0 L916.8,382.7 L917.8,386.4 L918.8,390.0 L919.8,393.4 L920.8,396.8 L921.8,400.1 L922.8,403.2 L923.8,406.3 L924.8,409.2 L925.8,412.0 L926.8,414.8 L927.8,417.4 L928.8,420.0 L929.8,422.4 L930.8,424.8 L931.8,427.0 L932.8,429.2 L933.8,431.2 L934.8,433.2 L935.8,435.1 L936.8,436.9 L937.8,438.6 L938.8,440.3 L939.8,441.8 L940.8,443.3 L941.8,444.7 L942.8,446.1 L943.8,447.3 L944.8,448.6 L945.8,449.7 L946.8,450.8 L947.8,451.8 L948.8,452.8 L949.8,453.7 L950.8,454.6 L951.9,455.4 L952.9,456.2 L953.9,456.9 L954.9,457.6 L955.9,458.3 L956.9,458.9 L957.9,459.5 L958.9,460.0 L959.9,460.5 L960.9,461.0 L961.9,461.5 L962.9,461.9 L963.9,462.3 L964.9,462.7 L965.9,463.0 L966.9,463.4 L967.9,463.7 L968.9,464.0 L969.9,464.3 L970.9,464.5 L971.9,464.8 L972.9,465.0 L973.9,465.2 L974.9,465.4 L975.9,465.6 L976.9,465.8 L977.9,466.0 L978.9,466.2 L979.9,466.3 L980.9,466.5 L981.9,466.6 L982.9,466.8 L983.9,466.9 L984.9,467.0 L985.9,467.2 L986.9,467.3 L987.9,467.4 L988.9,467.5 L989.9,467.6 L990.9,467.7 L991.9,467.8 L992.9,467.9 L993.9,468.0 L994.9,468.1 L995.9,468.2 L996.9,468.2 L997.9,468.3 L998.9,468.4 L999.9,468.5 L1000.9,468.6 L1001.9,468.6 L1002.9,468.7 L1003.9,468.8 L1004.9,468.8 L1005.9,468.9 L1006.9,469.0 L1007.9,469.1 L1008.9,469.1 L1009.9,469.2 L1010.9,469.2 L1011.9,469.3 L1012.9,469.4 L1013.9,469.4 L1014.9,469.5 L1015.9,469.6 L1016.9,469.6 L1017.9,469.7 L1018.9,469.7 L1019.9,469.8 L1020.9,469.9 L1021.9,469.9 L1022.9,470.0 L1023.9,470.0 L1024.9,470.1 L1025.9,470.1 L1026.9,470.2 L1027.9,470.2 L1028.9,470.3 L1029.9,470.4 L1030.9,470.4 L1031.9,470.5 L1032.9,470.5 L1033.9,470.6 L1034.9,470.6 L1035.9,470.7 L1036.9,470.7 L1037.9,470.8 L1038.9,470.8 L1040.0,470.9 L1041.0,470.9 L1042.0,471.0 L1043.0,471.0 L1044.0,471.1 L1045.0,471.1 L1046.0,471.2 L1047.0,471.2 L1048.0,471.3 L1049.0,471.3 L1050.0,471.4 L1051.0,471.4 L1052.0,471.5 L1053.0,471.5 L1054.0,471.6 L1055.0,471.6 L1056.0,471.7 L1057.0,471.7 L1058.0,471.8 L1059.0,471.8 L1060.0,471.9 L1061.0,471.9 L1062.0,472.0 L1063.0,472.0 L1064.0,472.1 L1065.0,472.1 L1066.0,472.1 L1067.0,472.2 L1068.0,472.2 L1069.0,472.3 L1070.0,472.3 L1071.0,472.4 L1072.0,472.4 L1073.0,472.5 L1074.0,472.5 L1075.0,472.6 L1076.0,472.6 L1077.0,472.7 L1078.0,472.7 L1079.0,472.7 L1080.0,472.8 L1081.0,472.8 L1082.0,472.9 L1083.0,472.9" fill="none" stroke="#0000ff" stroke-width="4.2" stroke-linejoin="round" stroke-linecap="round"/>
<path d="M644.5,457.8 L645.5,457.9 L646.5,457.9 L647.5,458.0 L648.5,458.0 L649.5,458.0 L650.5,458.1 L651.5,458.1 L652.5,458.1 L653.5,458.2 L654.5,458.2 L655.5,458.3 L656.5,458.3 L657.5,458.3 L658.5,458.4 L659.5,458.4 L660.5,458.4 L661.5,458.5 L662.5,458.5 L663.5,458.5 L664.5,458.6 L665.5,458.6 L666.5,458.7 L667.5,458.7 L668.5,458.7 L669.5,458.8 L670.5,458.8 L671.5,458.8 L672.5,458.9 L673.5,458.9 L674.5,458.9 L675.5,459.0 L676.5,459.0 L677.5,459.1 L678.5,459.1 L679.5,459.1 L680.5,459.2 L681.5,459.2 L682.5,459.2 L683.5,459.3 L684.5,459.3 L685.5,459.3 L686.5,459.4 L687.5,459.4 L688.6,459.5 L689.6,459.5 L690.6,459.5 L691.6,459.6 L692.6,459.6 L693.6,459.6 L694.6,459.7 L695.6,459.7 L696.6,459.7 L697.6,459.8 L698.6,459.8 L699.6,459.9 L700.6,459.9 L701.6,459.9 L702.6,460.0 L703.6,460.0 L704.6,460.0 L705.6,460.1 L706.6,460.1 L707.6,460.1 L708.6,460.2 L709.6,460.2 L710.6,460.3 L711.6,460.3 L712.6,460.3 L713.6,460.4 L714.6,460.4 L715.6,460.4 L716.6,460.5 L717.6,460.5 L718.6,460.5 L719.6,460.6 L720.6,460.6 L721.6,460.7 L722.6,460.7 L723.6,460.7 L724.6,460.8 L725.6,460.8 L726.6,460.8 L727.6,460.9 L728.6,460.9 L729.6,460.9 L730.6,461.0 L731.6,461.0 L732.6,461.1 L733.6,461.1 L734.6,461.1 L735.6,461.2 L736.6,461.2 L737.6,461.2 L738.6,461.3 L739.6,461.3 L740.6,461.4 L741.6,461.4 L742.6,461.4 L743.6,461.5 L744.6,461.5 L745.6,461.5 L746.6,461.6 L747.6,461.6 L748.6,461.6 L749.6,461.7 L750.6,461.7 L751.6,461.8 L752.6,461.8 L753.6,461.8 L754.6,461.9 L755.6,461.9 L756.6,461.9 L757.6,462.0 L758.6,462.0 L759.6,462.0 L760.6,462.1 L761.6,462.1 L762.6,462.2 L763.6,462.2 L764.6,462.2 L765.6,462.3 L766.6,462.3 L767.6,462.3 L768.6,462.4 L769.6,462.4 L770.6,462.4 L771.6,462.5 L772.6,462.5 L773.6,462.6 L774.6,462.6 L775.6,462.6 L776.7,462.7 L777.7,462.7 L778.7,462.7 L779.7,462.8 L780.7,462.8 L781.7,462.8 L782.7,462.9 L783.7,462.9 L784.7,463.0 L785.7,463.0 L786.7,463.0 L787.7,463.1 L788.7,463.1 L789.7,463.1 L790.7,463.2 L791.7,463.2 L792.7,463.2 L793.7,463.3 L794.7,463.3 L795.7,463.4 L796.7,463.4 L797.7,463.4 L798.7,463.5 L799.7,463.5 L800.7,463.5 L801.7,463.6 L802.7,463.6 L803.7,463.6 L804.7,463.7 L805.7,463.7 L806.7,463.8 L807.7,463.8 L808.7,463.8 L809.7,463.9 L810.7,463.9 L811.7,463.9 L812.7,464.0 L813.7,464.0 L814.7,464.0 L815.7,464.1 L816.7,464.1 L817.7,464.1 L818.7,464.2 L819.7,464.2 L820.7,464.2 L821.7,464.3 L822.7,464.3 L823.7,464.3 L824.7,464.4 L825.7,464.4 L826.7,464.4 L827.7,464.5 L828.7,464.5 L829.7,464.5 L830.7,464.5 L831.7,464.6 L832.7,464.6 L833.7,464.6 L834.7,464.6 L835.7,464.6 L836.7,464.6 L837.7,464.6 L838.7,464.6 L839.7,464.6 L840.7,464.6 L841.7,464.6 L842.7,464.6 L843.7,464.5 L844.7,464.5 L845.7,464.4 L846.7,464.4 L847.7,464.3 L848.7,464.2 L849.7,464.1 L850.7,464.0 L851.7,463.9 L852.7,463.8 L853.7,463.6 L854.7,463.4 L855.7,463.2 L856.7,463.0 L857.7,462.7 L858.7,462.4 L859.7,462.1 L860.7,461.8 L861.7,461.4 L862.7,461.0 L863.8,460.5 L864.8,460.0 L865.8,459.4 L866.8,458.8 L867.8,458.1 L868.8,457.4 L869.8,456.6 L870.8,455.8 L871.8,454.9 L872.8,453.9 L873.8,452.9 L874.8,451.7 L875.8,450.5 L876.8,449.2 L877.8,447.9 L878.8,446.4 L879.8,444.8 L880.8,443.2 L881.8,441.4 L882.8,439.6 L883.8,437.6 L884.8,435.6 L885.8,433.4 L886.8,431.1 L887.8,428.7 L888.8,426.2 L889.8,423.6 L890.8,420.9 L891.8,418.1 L892.8,415.2 L893.8,412.2 L894.8,409.0 L895.8,405.8 L896.8,402.5 L897.8,399.1 L898.8,395.6 L899.8,392.0 L900.8,388.3 L901.8,384.6 L902.8,380.8 L903.8,377.0 L904.8,373.1 L905.8,369.2 L906.8,365.3 L907.8,361.3 L908.8,357.4 L909.8,353.4 L910.8,349.5 L911.8,345.6 L912.8,341.7 L913.8,337.9 L914.8,334.2 L915.8,330.5 L916.8,326.9 L917.8,323.5 L918.8,320.1 L919.8,316.9 L920.8,313.8 L921.8,310.9 L922.8,308.1 L923.8,305.5 L924.8,303.1 L925.8,300.9 L926.8,298.9 L927.8,297.1 L928.8,295.5 L929.8,294.1 L930.8,293.0 L931.8,292.1 L932.8,291.4 L933.8,291.0 L934.8,290.8 L935.8,290.9 L936.8,291.2 L937.8,291.8 L938.8,292.6 L939.8,293.6 L940.8,294.9 L941.8,296.4 L942.8,298.1 L943.8,300.0 L944.8,302.2 L945.8,304.5 L946.8,307.0 L947.8,309.8 L948.8,312.6 L949.8,315.7 L950.8,318.9 L951.9,322.2 L952.9,325.7 L953.9,329.2 L954.9,332.9 L955.9,336.6 L956.9,340.5 L957.9,344.4 L958.9,348.3 L959.9,352.3 L960.9,356.3 L961.9,360.3 L962.9,364.4 L963.9,368.4 L964.9,372.4 L965.9,376.4 L966.9,380.3 L967.9,384.2 L968.9,388.1 L969.9,391.8 L970.9,395.5 L971.9,399.2 L972.9,402.7 L973.9,406.2 L974.9,409.6 L975.9,412.8 L976.9,416.0 L977.9,419.1 L978.9,422.1 L979.9,424.9 L980.9,427.7 L981.9,430.3 L982.9,432.8 L983.9,435.3 L984.9,437.6 L985.9,439.8 L986.9,441.9 L987.9,443.9 L988.9,445.8 L989.9,447.6 L990.9,449.3 L991.9,450.9 L992.9,452.4 L993.9,453.9 L994.9,455.2 L995.9,456.5 L996.9,457.6 L997.9,458.8 L998.9,459.8 L999.9,460.7 L1000.9,461.6 L1001.9,462.5 L1002.9,463.3 L1003.9,464.0 L1004.9,464.6 L1005.9,465.3 L1006.9,465.8 L1007.9,466.4 L1008.9,466.9 L1009.9,467.3 L1010.9,467.7 L1011.9,468.1 L1012.9,468.5 L1013.9,468.8 L1014.9,469.1 L1015.9,469.3 L1016.9,469.6 L1017.9,469.8 L1018.9,470.0 L1019.9,470.2 L1020.9,470.4 L1021.9,470.6 L1022.9,470.7 L1023.9,470.9 L1024.9,471.0 L1025.9,471.1 L1026.9,471.2 L1027.9,471.3 L1028.9,471.4 L1029.9,471.5 L1030.9,471.6 L1031.9,471.7 L1032.9,471.8 L1033.9,471.8 L1034.9,471.9 L1035.9,471.9 L1036.9,472.0 L1037.9,472.1 L1038.9,472.1 L1040.0,472.2 L1041.0,472.2 L1042.0,472.3 L1043.0,472.3 L1044.0,472.4 L1045.0,472.4 L1046.0,472.4 L1047.0,472.5 L1048.0,472.5 L1049.0,472.6 L1050.0,472.6 L1051.0,472.6 L1052.0,472.7 L1053.0,472.7 L1054.0,472.8 L1055.0,472.8 L1056.0,472.8 L1057.0,472.9 L1058.0,472.9 L1059.0,472.9 L1060.0,473.0 L1061.0,473.0 L1062.0,473.1 L1063.0,473.1 L1064.0,473.1 L1065.0,473.2 L1066.0,473.2 L1067.0,473.2 L1068.0,473.3 L1069.0,473.3 L1070.0,473.4 L1071.0,473.4 L1072.0,473.4 L1073.0,473.5 L1074.0,473.5 L1075.0,473.5 L1076.0,473.6 L1077.0,473.6 L1078.0,473.6 L1079.0,473.7 L1080.0,473.7 L1081.0,473.8 L1082.0,473.8 L1083.0,473.8" fill="none" stroke="#ff00ff" stroke-width="4.2" stroke-linejoin="round" stroke-linecap="round"/>
<path d="M644.5,454.9 L647.1,456.1 L649.7,454.6 L652.3,454.2 L654.9,452.8 L657.6,453.8 L660.2,455.8 L662.8,454.1 L665.4,454.8 L668.0,452.8 L670.6,452.5 L673.2,451.5 L675.8,447.4 L678.5,451.1 L681.1,449.6 L683.7,448.6 L686.3,443.5 L688.9,442.2 L691.5,442.5 L694.1,441.8 L696.7,441.7 L699.4,439.4 L702.0,438.6 L704.6,434.6 L707.2,434.3 L709.8,432.2 L712.4,428.0 L715.0,429.9 L717.6,425.2 L720.3,423.6 L722.9,417.5 L725.5,414.3 L728.1,411.8 L730.7,409.0 L733.3,406.9 L735.9,402.7 L738.5,397.9 L741.2,393.2 L743.8,390.2 L746.4,389.3 L749.0,381.7 L751.6,379.4 L754.2,375.5 L756.8,367.8 L759.4,366.2 L762.1,364.0 L764.7,353.4 L767.3,351.8 L769.9,347.4 L772.5,341.3 L775.1,338.6 L777.7,332.4 L780.3,324.5 L783.0,323.1 L785.6,317.0 L788.2,311.5 L790.8,306.1 L793.4,297.5 L796.0,290.1 L798.6,280.3 L801.2,276.0 L803.9,265.8 L806.5,257.6 L809.1,247.3 L811.7,238.7 L814.3,230.1 L816.9,223.7 L819.5,207.9 L822.1,199.0 L824.7,192.1 L827.4,184.3 L830.0,172.9 L832.6,158.9 L835.2,148.6 L837.8,145.0 L840.4,135.0 L843.0,126.9 L845.6,124.2 L848.3,119.0 L850.9,113.0 L853.5,110.1 L856.1,108.6 L858.7,110.3 L861.3,109.5 L863.9,111.6 L866.5,115.4 L869.2,116.5 L871.8,127.7 L874.4,134.1 L877.0,141.2 L879.6,145.1 L882.2,156.2 L884.8,167.7 L887.4,171.6 L890.1,182.9 L892.7,193.0 L895.3,196.1 L897.9,208.0 L900.5,211.8 L903.1,215.5 L905.7,220.5 L908.3,224.5 L911.0,226.3 L913.6,230.3 L916.2,229.0 L918.8,231.2 L921.4,235.6 L924.0,235.8 L926.6,236.7 L929.2,243.1 L931.9,248.0 L934.5,249.4 L937.1,253.5 L939.7,262.6 L942.3,270.4 L944.9,279.0 L947.5,291.7 L950.1,297.8 L952.8,312.9 L955.4,319.8 L958.0,332.5 L960.6,346.8 L963.2,359.4 L965.8,370.4 L968.4,380.6 L971.0,390.7 L973.6,400.6 L976.3,410.5 L978.9,417.6 L981.5,426.0 L984.1,433.3 L986.7,438.3 L989.3,445.0 L991.9,449.2 L994.5,455.7 L997.2,456.0 L999.8,457.5 L1002.4,459.9 L1005.0,462.5 L1007.6,465.8 L1010.2,464.8 L1012.8,467.2 L1015.4,470.7 L1018.1,463.5 L1020.7,466.6 L1023.3,469.5 L1025.9,470.2 L1028.5,470.2 L1031.1,469.3 L1033.7,471.5 L1036.3,471.0 L1039.0,469.8 L1041.6,475.3 L1044.2,471.7 L1046.8,470.2 L1049.4,471.2 L1052.0,471.1 L1054.6,471.5 L1057.2,466.8 L1059.9,471.0 L1062.5,473.8 L1065.1,470.0 L1067.7,472.1 L1070.3,474.1 L1072.9,474.0 L1075.5,475.3 L1078.1,469.6 L1080.8,472.2 L1083.4,472.3 L1086.0,474.2 L1088.6,475.1 L1091.2,468.5 L1093.8,475.4 L1096.4,470.9 L1099.0,474.9 L1101.7,471.0 L1104.3,474.2 L1106.9,476.1 L1109.5,473.8 L1112.1,474.5 L1114.7,475.7 L1117.3,474.7 L1119.9,474.3 L1122.6,477.4 L1125.2,476.6 L1127.8,474.3 L1130.4,479.9 L1133.0,473.0" fill="none" stroke="#000" stroke-width="3.6" stroke-linejoin="round" stroke-linecap="round"/>
<path d="M644.5,455.3 L645.5,455.3 L646.5,455.2 L647.5,455.1 L648.5,455.1 L649.5,455.0 L650.5,454.9 L651.5,454.8 L652.5,454.7 L653.5,454.6 L654.5,454.5 L655.5,454.4 L656.5,454.3 L657.5,454.2 L658.5,454.0 L659.5,453.9 L660.5,453.7 L661.5,453.6 L662.5,453.4 L663.5,453.2 L664.5,453.1 L665.5,452.9 L666.5,452.7 L667.5,452.5 L668.5,452.3 L669.5,452.0 L670.5,451.8 L671.5,451.6 L672.5,451.3 L673.5,451.0 L674.5,450.8 L675.5,450.5 L676.5,450.2 L677.5,449.9 L678.5,449.5 L679.5,449.2 L680.5,448.8 L681.5,448.5 L682.5,448.1 L683.5,447.7 L684.5,447.3 L685.5,446.9 L686.5,446.4 L687.5,446.0 L688.6,445.5 L689.6,445.1 L690.6,444.6 L691.6,444.0 L692.6,443.5 L693.6,443.0 L694.6,442.4 L695.6,441.8 L696.6,441.2 L697.6,440.6 L698.6,440.0 L699.6,439.3 L700.6,438.6 L701.6,438.0 L702.6,437.2 L703.6,436.5 L704.6,435.8 L705.6,435.0 L706.6,434.2 L707.6,433.4 L708.6,432.6 L709.6,431.7 L710.6,430.9 L711.6,430.0 L712.6,429.1 L713.6,428.2 L714.6,427.2 L715.6,426.2 L716.6,425.3 L717.6,424.2 L718.6,423.2 L719.6,422.2 L720.6,421.1 L721.6,420.0 L722.6,418.9 L723.6,417.8 L724.6,416.6 L725.6,415.5 L726.6,414.3 L727.6,413.1 L728.6,411.8 L729.6,410.6 L730.6,409.3 L731.6,408.0 L732.6,406.7 L733.6,405.4 L734.6,404.1 L735.6,402.7 L736.6,401.4 L737.6,400.0 L738.6,398.6 L739.6,397.2 L740.6,395.7 L741.6,394.3 L742.6,392.8 L743.6,391.3 L744.6,389.8 L745.6,388.3 L746.6,386.8 L747.6,385.2 L748.6,383.7 L749.6,382.1 L750.6,380.6 L751.6,379.0 L752.6,377.4 L753.6,375.7 L754.6,374.1 L755.6,372.5 L756.6,370.8 L757.6,369.1 L758.6,367.5 L759.6,365.8 L760.6,364.1 L761.6,362.3 L762.6,360.6 L763.6,358.9 L764.6,357.1 L765.6,355.3 L766.6,353.5 L767.6,351.7 L768.6,349.9 L769.6,348.1 L770.6,346.2 L771.6,344.3 L772.6,342.5 L773.6,340.5 L774.6,338.6 L775.6,336.7 L776.7,334.7 L777.7,332.7 L778.7,330.6 L779.7,328.6 L780.7,326.5 L781.7,324.4 L782.7,322.2 L783.7,320.1 L784.7,317.9 L785.7,315.6 L786.7,313.3 L787.7,311.0 L788.7,308.6 L789.7,306.2 L790.7,303.8 L791.7,301.3 L792.7,298.7 L793.7,296.2 L794.7,293.5 L795.7,290.8 L796.7,288.1 L797.7,285.3 L798.7,282.5 L799.7,279.6 L800.7,276.6 L801.7,273.6 L802.7,270.5 L803.7,267.4 L804.7,264.2 L805.7,261.0 L806.7,257.7 L807.7,254.3 L808.7,250.9 L809.7,247.5 L810.7,244.0 L811.7,240.4 L812.7,236.9 L813.7,233.3 L814.7,229.6 L815.7,225.9 L816.7,222.2 L817.7,218.5 L818.7,214.7 L819.7,210.9 L820.7,207.1 L821.7,203.3 L822.7,199.5 L823.7,195.7 L824.7,191.8 L825.7,188.0 L826.7,184.2 L827.7,180.4 L828.7,176.6 L829.7,172.9 L830.7,169.1 L831.7,165.5 L832.7,161.8 L833.7,158.3 L834.7,154.8 L835.7,151.3 L836.7,148.0 L837.7,144.7 L838.7,141.5 L839.7,138.4 L840.7,135.4 L841.7,132.5 L842.7,129.8 L843.7,127.1 L844.7,124.6 L845.7,122.3 L846.7,120.1 L847.7,118.0 L848.7,116.2 L849.7,114.4 L850.7,112.9 L851.7,111.6 L852.7,110.4 L853.7,109.4 L854.7,108.6 L855.7,108.0 L856.7,107.6 L857.7,107.4 L858.7,107.4 L859.7,107.6 L860.7,108.1 L861.7,108.7 L862.7,109.5 L863.8,110.5 L864.8,111.7 L865.8,113.1 L866.8,114.7 L867.8,116.5 L868.8,118.5 L869.8,120.6 L870.8,122.9 L871.8,125.4 L872.8,128.0 L873.8,130.7 L874.8,133.5 L875.8,136.5 L876.8,139.5 L877.8,142.7 L878.8,145.9 L879.8,149.1 L880.8,152.5 L881.8,155.8 L882.8,159.2 L883.8,162.6 L884.8,165.9 L885.8,169.3 L886.8,172.6 L887.8,175.9 L888.8,179.2 L889.8,182.4 L890.8,185.5 L891.8,188.6 L892.8,191.5 L893.8,194.4 L894.8,197.2 L895.8,199.8 L896.8,202.4 L897.8,204.8 L898.8,207.2 L899.8,209.4 L900.8,211.4 L901.8,213.4 L902.8,215.2 L903.8,216.9 L904.8,218.5 L905.8,220.0 L906.8,221.4 L907.8,222.7 L908.8,223.8 L909.8,224.9 L910.8,225.9 L911.8,226.8 L912.8,227.7 L913.8,228.5 L914.8,229.2 L915.8,229.9 L916.8,230.6 L917.8,231.3 L918.8,231.9 L919.8,232.6 L920.8,233.3 L921.8,234.0 L922.8,234.8 L923.8,235.6 L924.8,236.5 L925.8,237.4 L926.8,238.5 L927.8,239.6 L928.8,240.9 L929.8,242.2 L930.8,243.7 L931.8,245.3 L932.8,247.1 L933.8,248.9 L934.8,250.9 L935.8,253.1 L936.8,255.4 L937.8,257.9 L938.8,260.5 L939.8,263.3 L940.8,266.2 L941.8,269.2 L942.8,272.4 L943.8,275.8 L944.8,279.2 L945.8,282.8 L946.8,286.6 L947.8,290.4 L948.8,294.4 L949.8,298.4 L950.8,302.6 L951.9,306.8 L952.9,311.1 L953.9,315.4 L954.9,319.9 L955.9,324.3 L956.9,328.8 L957.9,333.3 L958.9,337.9 L959.9,342.4 L960.9,346.9 L961.9,351.4 L962.9,355.9 L963.9,360.4 L964.9,364.8 L965.9,369.1 L966.9,373.4 L967.9,377.6 L968.9,381.8 L969.9,385.8 L970.9,389.8 L971.9,393.7 L972.9,397.5 L973.9,401.1 L974.9,404.7 L975.9,408.2 L976.9,411.5 L977.9,414.8 L978.9,417.9 L979.9,420.9 L980.9,423.8 L981.9,426.6 L982.9,429.2 L983.9,431.8 L984.9,434.2 L985.9,436.5 L986.9,438.7 L987.9,440.8 L988.9,442.8 L989.9,444.6 L990.9,446.4 L991.9,448.1 L992.9,449.7 L993.9,451.2 L994.9,452.6 L995.9,453.9 L996.9,455.1 L997.9,456.3 L998.9,457.4 L999.9,458.4 L1000.9,459.3 L1001.9,460.2 L1002.9,461.0 L1003.9,461.8 L1004.9,462.5 L1005.9,463.1 L1006.9,463.7 L1007.9,464.3 L1008.9,464.8 L1009.9,465.3 L1010.9,465.7 L1011.9,466.2 L1012.9,466.5 L1013.9,466.9 L1014.9,467.2 L1015.9,467.5 L1016.9,467.8 L1017.9,468.0 L1018.9,468.3 L1019.9,468.5 L1020.9,468.7 L1021.9,468.9 L1022.9,469.1 L1023.9,469.2 L1024.9,469.4 L1025.9,469.5 L1026.9,469.6 L1027.9,469.8 L1028.9,469.9 L1029.9,470.0 L1030.9,470.1 L1031.9,470.2 L1032.9,470.3 L1033.9,470.3 L1034.9,470.4 L1035.9,470.5 L1036.9,470.6 L1037.9,470.6 L1038.9,470.7 L1040.0,470.8 L1041.0,470.8 L1042.0,470.9 L1043.0,471.0 L1044.0,471.0 L1045.0,471.1 L1046.0,471.1 L1047.0,471.2 L1048.0,471.3 L1049.0,471.3 L1050.0,471.4 L1051.0,471.4 L1052.0,471.5 L1053.0,471.5 L1054.0,471.6 L1055.0,471.6 L1056.0,471.7 L1057.0,471.7 L1058.0,471.8 L1059.0,471.8 L1060.0,471.9 L1061.0,471.9 L1062.0,472.0 L1063.0,472.0 L1064.0,472.1 L1065.0,472.1 L1066.0,472.1 L1067.0,472.2 L1068.0,472.2 L1069.0,472.3 L1070.0,472.3 L1071.0,472.4 L1072.0,472.4 L1073.0,472.5 L1074.0,472.5 L1075.0,472.6 L1076.0,472.6 L1077.0,472.7 L1078.0,472.7 L1079.0,472.7 L1080.0,472.8 L1081.0,472.8 L1082.0,472.9 L1083.0,472.9" fill="none" stroke="#ff0000" stroke-width="4.8" stroke-linejoin="round" stroke-linecap="round"/>
<text x="752.7" y="139.4" font-size="34.0" font-family='"Liberation Serif", "Times New Roman", serif' font-weight="bold" textLength="60.0" lengthAdjust="spacingAndGlyphs">O-Ni</text>
<text x="814.0" y="123.5" font-size="33.0" font-family='"Liberation Serif", "Times New Roman", serif' font-weight="bold" textLength="26.5" lengthAdjust="spacingAndGlyphs">3+</text>
<line x1="783.4" y1="145.4" x2="832.1" y2="222.1" stroke="#000" stroke-width="3.2" stroke-linecap="round"/>
<path d="M841.7,237.3 L824.2,224.7 L837.7,216.1 Z" fill="#000"/>
<text x="686.5" y="309.5" font-size="34.0" font-family='"Liberation Serif", "Times New Roman", serif' font-weight="bold" textLength="19.5" lengthAdjust="spacingAndGlyphs">O</text>
<text x="706.5" y="323.4" font-size="32.0" font-family='"Liberation Serif", "Times New Roman", serif' font-weight="bold" textLength="13.0" lengthAdjust="spacingAndGlyphs">2</text>
<text x="722.0" y="309.5" font-size="34.0" font-family='"Liberation Serif", "Times New Roman", serif' font-weight="bold" textLength="57.0" lengthAdjust="spacingAndGlyphs">-ads.</text>
<line x1="725.0" y1="323.4" x2="756.4" y2="357.6" stroke="#000" stroke-width="3.2" stroke-linecap="round"/>
<path d="M768.6,370.9 L749.2,361.6 L761.0,350.8 Z" fill="#000"/>
<text x="981.6" y="313.5" font-size="34.0" font-family='"Liberation Serif", "Times New Roman", serif' font-weight="bold" textLength="59.0" lengthAdjust="spacingAndGlyphs">O-Ni</text>
<text x="1042.0" y="296.5" font-size="33.0" font-family='"Liberation Serif", "Times New Roman", serif' font-weight="bold" textLength="29.0" lengthAdjust="spacingAndGlyphs">2+</text>
<line x1="1007.3" y1="322.4" x2="980.1" y2="367.3" stroke="#000" stroke-width="3.2" stroke-linecap="round"/>
<path d="M970.8,382.7 L974.3,361.4 L988.0,369.7 Z" fill="#000"/>
<path d="M879.0,863.5 L883.0,863.6 L887.0,863.8 L891.1,864.0 L895.1,864.1 L899.1,864.3 L903.1,864.4 L907.2,864.6 L911.2,864.8 L915.2,864.9 L919.2,865.1 L923.3,865.3 L927.3,865.4 L931.3,865.6 L935.4,865.7 L939.4,865.9 L943.4,866.1 L947.4,866.2 L951.5,866.4 L955.5,866.6 L959.5,866.7 L963.5,866.9 L967.5,867.1 L971.6,867.2 L975.6,867.4 L979.6,867.5 L983.6,867.7 L987.7,867.9 L991.7,868.0 L995.7,868.2 L999.8,868.4 L1003.8,868.5 L1007.8,868.7 L1011.8,868.8 L1015.9,869.0 L1019.9,869.2 L1023.9,869.3 L1027.9,869.5 L1032.0,869.7 L1036.0,869.8 L1040.0,870.0" fill="none" stroke="#00ff00" stroke-width="4.8" stroke-linejoin="round" stroke-linecap="round"/>
<path d="M719.1,853.4 L720.1,853.4 L721.1,853.4 L722.1,853.4 L723.1,853.4 L724.1,853.4 L725.1,853.4 L726.1,853.4 L727.1,853.4 L728.1,853.4 L729.1,853.4 L730.1,853.4 L731.1,853.4 L732.1,853.3 L733.1,853.3 L734.1,853.3 L735.1,853.3 L736.1,853.3 L737.1,853.3 L738.1,853.2 L739.1,853.2 L740.1,853.2 L741.1,853.2 L742.1,853.2 L743.2,853.1 L744.2,853.1 L745.2,853.1 L746.2,853.0 L747.2,853.0 L748.2,853.0 L749.2,852.9 L750.2,852.9 L751.2,852.9 L752.2,852.8 L753.2,852.8 L754.2,852.7 L755.2,852.7 L756.2,852.6 L757.2,852.5 L758.2,852.5 L759.2,852.4 L760.2,852.3 L761.2,852.3 L762.2,852.2 L763.2,852.1 L764.2,852.0 L765.2,851.9 L766.2,851.8 L767.2,851.7 L768.2,851.6 L769.2,851.5 L770.2,851.4 L771.2,851.3 L772.2,851.2 L773.2,851.0 L774.2,850.9 L775.2,850.7 L776.2,850.6 L777.2,850.4 L778.2,850.2 L779.2,850.0 L780.2,849.9 L781.2,849.7 L782.2,849.5 L783.2,849.2 L784.2,849.0 L785.2,848.8 L786.2,848.5 L787.2,848.3 L788.2,848.0 L789.3,847.7 L790.3,847.4 L791.3,847.1 L792.3,846.8 L793.3,846.4 L794.3,846.1 L795.3,845.7 L796.3,845.3 L797.3,844.9 L798.3,844.5 L799.3,844.0 L800.3,843.6 L801.3,843.1 L802.3,842.6 L803.3,842.1 L804.3,841.6 L805.3,841.1 L806.3,840.5 L807.3,839.9 L808.3,839.3 L809.3,838.7 L810.3,838.0 L811.3,837.3 L812.3,836.6 L813.3,835.9 L814.3,835.2 L815.3,834.4 L816.3,833.6 L817.3,832.8 L818.3,832.0 L819.3,831.1 L820.3,830.2 L821.3,829.3 L822.3,828.4 L823.3,827.4 L824.3,826.4 L825.3,825.4 L826.3,824.3 L827.3,823.3 L828.3,822.2 L829.3,821.1 L830.3,819.9 L831.3,818.8 L832.3,817.6 L833.3,816.4 L834.3,815.1 L835.4,813.9 L836.4,812.6 L837.4,811.3 L838.4,810.0 L839.4,808.6 L840.4,807.2 L841.4,805.9 L842.4,804.5 L843.4,803.0 L844.4,801.6 L845.4,800.2 L846.4,798.7 L847.4,797.2 L848.4,795.7 L849.4,794.2 L850.4,792.7 L851.4,791.2 L852.4,789.7 L853.4,788.2 L854.4,786.7 L855.4,785.2 L856.4,783.7 L857.4,782.2 L858.4,780.7 L859.4,779.2 L860.4,777.7 L861.4,776.3 L862.4,774.8 L863.4,773.4 L864.4,772.0 L865.4,770.7 L866.4,769.3 L867.4,768.0 L868.4,766.8 L869.4,765.6 L870.4,764.4 L871.4,763.2 L872.4,762.2 L873.4,761.1 L874.4,760.2 L875.4,759.2 L876.4,758.4 L877.4,757.6 L878.4,756.9 L879.4,756.2 L880.4,755.7 L881.5,755.2 L882.5,754.7 L883.5,754.4 L884.5,754.1 L885.5,753.9 L886.5,753.8 L887.5,753.8 L888.5,753.9 L889.5,754.0 L890.5,754.2 L891.5,754.4 L892.5,754.7 L893.5,755.1 L894.5,755.5 L895.5,756.0 L896.5,756.5 L897.5,757.1 L898.5,757.8 L899.5,758.5 L900.5,759.2 L901.5,760.1 L902.5,760.9 L903.5,761.8 L904.5,762.7 L905.5,763.7 L906.5,764.8 L907.5,765.8 L908.5,766.9 L909.5,768.0 L910.5,769.2 L911.5,770.4 L912.5,771.6 L913.5,772.8 L914.5,774.1 L915.5,775.4 L916.5,776.7 L917.5,778.0 L918.5,779.4 L919.5,780.7 L920.5,782.1 L921.5,783.4 L922.5,784.8 L923.5,786.2 L924.5,787.6 L925.5,789.0 L926.5,790.4 L927.6,791.7 L928.6,793.1 L929.6,794.5 L930.6,795.9 L931.6,797.3 L932.6,798.7 L933.6,800.0 L934.6,801.4 L935.6,802.8 L936.6,804.1 L937.6,805.4 L938.6,806.8 L939.6,808.1 L940.6,809.4 L941.6,810.7 L942.6,811.9 L943.6,813.2 L944.6,814.4 L945.6,815.7 L946.6,816.9 L947.6,818.1 L948.6,819.2 L949.6,820.4 L950.6,821.5 L951.6,822.7 L952.6,823.8 L953.6,824.9 L954.6,825.9 L955.6,827.0 L956.6,828.0 L957.6,829.0 L958.6,830.0 L959.6,831.0 L960.6,832.0 L961.6,832.9 L962.6,833.8 L963.6,834.7 L964.6,835.6 L965.6,836.4 L966.6,837.3 L967.6,838.1 L968.6,838.9 L969.6,839.7 L970.6,840.5 L971.6,841.2 L972.6,842.0 L973.7,842.7 L974.7,843.4 L975.7,844.0 L976.7,844.7 L977.7,845.4 L978.7,846.0 L979.7,846.6 L980.7,847.2 L981.7,847.8 L982.7,848.3 L983.7,848.9 L984.7,849.4 L985.7,849.9 L986.7,850.4 L987.7,850.9 L988.7,851.4 L989.7,851.9 L990.7,852.3 L991.7,852.8 L992.7,853.2 L993.7,853.6 L994.7,854.0 L995.7,854.4 L996.7,854.8 L997.7,855.1 L998.7,855.5 L999.7,855.8 L1000.7,856.2 L1001.7,856.5 L1002.7,856.8 L1003.7,857.1 L1004.7,857.4 L1005.7,857.7 L1006.7,858.0 L1007.7,858.3 L1008.7,858.6 L1009.7,858.8 L1010.7,859.1 L1011.7,859.3 L1012.7,859.6 L1013.7,859.8 L1014.7,860.0 L1015.7,860.2 L1016.7,860.4 L1017.7,860.7 L1018.7,860.9 L1019.8,861.1 L1020.8,861.2 L1021.8,861.4 L1022.8,861.6 L1023.8,861.8 L1024.8,862.0 L1025.8,862.1 L1026.8,862.3 L1027.8,862.5 L1028.8,862.6 L1029.8,862.8 L1030.8,862.9 L1031.8,863.1 L1032.8,863.2 L1033.8,863.4 L1034.8,863.5 L1035.8,863.6 L1036.8,863.8 L1037.8,863.9 L1038.8,864.0 L1039.8,864.1 L1040.8,864.3 L1041.8,864.4 L1042.8,864.5 L1043.8,864.6 L1044.8,864.7 L1045.8,864.9 L1046.8,865.0 L1047.8,865.1 L1048.8,865.2 L1049.8,865.3 L1050.8,865.4 L1051.8,865.5 L1052.8,865.6 L1053.8,865.7 L1054.8,865.8 L1055.8,865.9 L1056.8,866.0 L1057.8,866.1 L1058.8,866.2 L1059.8,866.3 L1060.8,866.4 L1061.8,866.5 L1062.8,866.5 L1063.8,866.6 L1064.8,866.7 L1065.9,866.8 L1066.9,866.9 L1067.9,867.0 L1068.9,867.1 L1069.9,867.1 L1070.9,867.2 L1071.9,867.3 L1072.9,867.4 L1073.9,867.5 L1074.9,867.6 L1075.9,867.6 L1076.9,867.7 L1077.9,867.8 L1078.9,867.9 L1079.9,867.9 L1080.9,868.0 L1081.9,868.1 L1082.9,868.2 L1083.9,868.2 L1084.9,868.3 L1085.9,868.4 L1086.9,868.5 L1087.9,868.5 L1088.9,868.6 L1089.9,868.7 L1090.9,868.8 L1091.9,868.8 L1092.9,868.9 L1093.9,869.0 L1094.9,869.0 L1095.9,869.1 L1096.9,869.2 L1097.9,869.2 L1098.9,869.3 L1099.9,869.4 L1100.9,869.4 L1101.9,869.5 L1102.9,869.6 L1103.9,869.6 L1104.9,869.7 L1105.9,869.8 L1106.9,869.8 L1107.9,869.9 L1108.9,870.0 L1109.9,870.0 L1110.9,870.1 L1112.0,870.2 L1113.0,870.2 L1114.0,870.3 L1115.0,870.4 L1116.0,870.4 L1117.0,870.5 L1118.0,870.5 L1119.0,870.6 L1120.0,870.7 L1121.0,870.7 L1122.0,870.8 L1123.0,870.8 L1124.0,870.9 L1125.0,871.0 L1126.0,871.0 L1127.0,871.1 L1128.0,871.1 L1129.0,871.2 L1130.0,871.3 L1131.0,871.3 L1132.0,871.4 L1133.0,871.4 L1134.0,871.5 L1135.0,871.6" fill="none" stroke="#808000" stroke-width="4.2" stroke-linejoin="round" stroke-linecap="round"/>
<path d="M719.1,857.0 L720.1,857.0 L721.1,857.1 L722.1,857.1 L723.1,857.2 L724.1,857.2 L725.1,857.2 L726.1,857.3 L727.1,857.3 L728.1,857.4 L729.1,857.4 L730.1,857.4 L731.1,857.5 L732.1,857.5 L733.1,857.6 L734.1,857.6 L735.1,857.6 L736.1,857.7 L737.1,857.7 L738.1,857.8 L739.1,857.8 L740.1,857.9 L741.1,857.9 L742.1,857.9 L743.2,858.0 L744.2,858.0 L745.2,858.1 L746.2,858.1 L747.2,858.1 L748.2,858.2 L749.2,858.2 L750.2,858.3 L751.2,858.3 L752.2,858.3 L753.2,858.4 L754.2,858.4 L755.2,858.5 L756.2,858.5 L757.2,858.5 L758.2,858.6 L759.2,858.6 L760.2,858.7 L761.2,858.7 L762.2,858.7 L763.2,858.8 L764.2,858.8 L765.2,858.9 L766.2,858.9 L767.2,858.9 L768.2,859.0 L769.2,859.0 L770.2,859.1 L771.2,859.1 L772.2,859.1 L773.2,859.2 L774.2,859.2 L775.2,859.3 L776.2,859.3 L777.2,859.4 L778.2,859.4 L779.2,859.4 L780.2,859.5 L781.2,859.5 L782.2,859.6 L783.2,859.6 L784.2,859.6 L785.2,859.7 L786.2,859.7 L787.2,859.8 L788.2,859.8 L789.3,859.8 L790.3,859.9 L791.3,859.9 L792.3,860.0 L793.3,860.0 L794.3,860.0 L795.3,860.1 L796.3,860.1 L797.3,860.2 L798.3,860.2 L799.3,860.2 L800.3,860.3 L801.3,860.3 L802.3,860.4 L803.3,860.4 L804.3,860.4 L805.3,860.5 L806.3,860.5 L807.3,860.6 L808.3,860.6 L809.3,860.6 L810.3,860.7 L811.3,860.7 L812.3,860.8 L813.3,860.8 L814.3,860.9 L815.3,860.9 L816.3,860.9 L817.3,861.0 L818.3,861.0 L819.3,861.1 L820.3,861.1 L821.3,861.1 L822.3,861.2 L823.3,861.2 L824.3,861.3 L825.3,861.3 L826.3,861.3 L827.3,861.4 L828.3,861.4 L829.3,861.5 L830.3,861.5 L831.3,861.5 L832.3,861.6 L833.3,861.6 L834.3,861.7 L835.4,861.7 L836.4,861.7 L837.4,861.8 L838.4,861.8 L839.4,861.9 L840.4,861.9 L841.4,861.9 L842.4,862.0 L843.4,862.0 L844.4,862.1 L845.4,862.1 L846.4,862.1 L847.4,862.2 L848.4,862.2 L849.4,862.2 L850.4,862.3 L851.4,862.3 L852.4,862.4 L853.4,862.4 L854.4,862.4 L855.4,862.5 L856.4,862.5 L857.4,862.5 L858.4,862.5 L859.4,862.6 L860.4,862.6 L861.4,862.6 L862.4,862.6 L863.4,862.6 L864.4,862.6 L865.4,862.6 L866.4,862.6 L867.4,862.6 L868.4,862.6 L869.4,862.6 L870.4,862.6 L871.4,862.5 L872.4,862.5 L873.4,862.4 L874.4,862.4 L875.4,862.3 L876.4,862.2 L877.4,862.0 L878.4,861.9 L879.4,861.7 L880.4,861.5 L881.5,861.3 L882.5,861.1 L883.5,860.8 L884.5,860.5 L885.5,860.1 L886.5,859.7 L887.5,859.3 L888.5,858.8 L889.5,858.3 L890.5,857.7 L891.5,857.0 L892.5,856.3 L893.5,855.5 L894.5,854.6 L895.5,853.7 L896.5,852.6 L897.5,851.5 L898.5,850.2 L899.5,848.9 L900.5,847.4 L901.5,845.8 L902.5,844.1 L903.5,842.2 L904.5,840.3 L905.5,838.1 L906.5,835.9 L907.5,833.4 L908.5,830.8 L909.5,828.1 L910.5,825.1 L911.5,822.0 L912.5,818.7 L913.5,815.2 L914.5,811.5 L915.5,807.6 L916.5,803.5 L917.5,799.3 L918.5,794.8 L919.5,790.1 L920.5,785.3 L921.5,780.2 L922.5,774.9 L923.5,769.5 L924.5,763.9 L925.5,758.1 L926.5,752.1 L927.6,746.0 L928.6,739.7 L929.6,733.3 L930.6,726.8 L931.6,720.1 L932.6,713.4 L933.6,706.6 L934.6,699.7 L935.6,692.8 L936.6,685.8 L937.6,678.8 L938.6,671.9 L939.6,665.0 L940.6,658.2 L941.6,651.4 L942.6,644.7 L943.6,638.2 L944.6,631.9 L945.6,625.7 L946.6,619.7 L947.6,613.9 L948.6,608.4 L949.6,603.1 L950.6,598.2 L951.6,593.5 L952.6,589.2 L953.6,585.2 L954.6,581.6 L955.6,578.4 L956.6,575.6 L957.6,573.1 L958.6,571.1 L959.6,569.6 L960.6,568.4 L961.6,567.7 L962.6,567.5 L963.6,567.6 L964.6,568.3 L965.6,569.4 L966.6,571.0 L967.6,573.0 L968.6,575.4 L969.6,578.3 L970.6,581.6 L971.6,585.3 L972.6,589.4 L973.7,593.8 L974.7,598.6 L975.7,603.7 L976.7,609.1 L977.7,614.8 L978.7,620.8 L979.7,626.9 L980.7,633.3 L981.7,639.9 L982.7,646.7 L983.7,653.5 L984.7,660.5 L985.7,667.6 L986.7,674.7 L987.7,681.9 L988.7,689.0 L989.7,696.2 L990.7,703.3 L991.7,710.4 L992.7,717.5 L993.7,724.4 L994.7,731.2 L995.7,737.9 L996.7,744.5 L997.7,750.9 L998.7,757.2 L999.7,763.3 L1000.7,769.2 L1001.7,775.0 L1002.7,780.5 L1003.7,785.9 L1004.7,791.0 L1005.7,796.0 L1006.7,800.7 L1007.7,805.2 L1008.7,809.6 L1009.7,813.7 L1010.7,817.6 L1011.7,821.3 L1012.7,824.9 L1013.7,828.2 L1014.7,831.3 L1015.7,834.3 L1016.7,837.1 L1017.7,839.7 L1018.7,842.1 L1019.8,844.4 L1020.8,846.6 L1021.8,848.6 L1022.8,850.4 L1023.8,852.1 L1024.8,853.7 L1025.8,855.2 L1026.8,856.6 L1027.8,857.8 L1028.8,859.0 L1029.8,860.1 L1030.8,861.0 L1031.8,861.9 L1032.8,862.8 L1033.8,863.5 L1034.8,864.2 L1035.8,864.8 L1036.8,865.4 L1037.8,865.9 L1038.8,866.4 L1039.8,866.8 L1040.8,867.2 L1041.8,867.6 L1042.8,867.9 L1043.8,868.2 L1044.8,868.5 L1045.8,868.7 L1046.8,868.9 L1047.8,869.1 L1048.8,869.3 L1049.8,869.5 L1050.8,869.6 L1051.8,869.8 L1052.8,869.9 L1053.8,870.0 L1054.8,870.1 L1055.8,870.2 L1056.8,870.3 L1057.8,870.4 L1058.8,870.5 L1059.8,870.6 L1060.8,870.6 L1061.8,870.7 L1062.8,870.8 L1063.8,870.8 L1064.8,870.9 L1065.9,870.9 L1066.9,871.0 L1067.9,871.0 L1068.9,871.1 L1069.9,871.1 L1070.9,871.2 L1071.9,871.2 L1072.9,871.3 L1073.9,871.3 L1074.9,871.4 L1075.9,871.4 L1076.9,871.5 L1077.9,871.5 L1078.9,871.5 L1079.9,871.6 L1080.9,871.6 L1081.9,871.7 L1082.9,871.7 L1083.9,871.8 L1084.9,871.8 L1085.9,871.8 L1086.9,871.9 L1087.9,871.9 L1088.9,872.0 L1089.9,872.0 L1090.9,872.0 L1091.9,872.1 L1092.9,872.1 L1093.9,872.2 L1094.9,872.2 L1095.9,872.2 L1096.9,872.3 L1097.9,872.3 L1098.9,872.4 L1099.9,872.4 L1100.9,872.4 L1101.9,872.5 L1102.9,872.5 L1103.9,872.6 L1104.9,872.6 L1105.9,872.6 L1106.9,872.7 L1107.9,872.7 L1108.9,872.8 L1109.9,872.8 L1110.9,872.9 L1112.0,872.9 L1113.0,872.9 L1114.0,873.0 L1115.0,873.0 L1116.0,873.1 L1117.0,873.1 L1118.0,873.1 L1119.0,873.2 L1120.0,873.2 L1121.0,873.3 L1122.0,873.3 L1123.0,873.3 L1124.0,873.4 L1125.0,873.4 L1126.0,873.5 L1127.0,873.5 L1128.0,873.5 L1129.0,873.6 L1130.0,873.6 L1131.0,873.7 L1132.0,873.7 L1133.0,873.7 L1134.0,873.8 L1135.0,873.8" fill="none" stroke="#0000ff" stroke-width="4.2" stroke-linejoin="round" stroke-linecap="round"/>
<path d="M644.5,857.0 L647.1,859.8 L649.7,859.9 L652.3,860.1 L654.9,859.2 L657.5,857.6 L660.1,856.2 L662.7,854.4 L665.3,853.2 L667.9,853.1 L670.5,853.8 L673.1,856.2 L675.7,858.0 L678.3,859.9 L681.0,859.9 L683.6,859.5 L686.2,858.7 L688.8,856.7 L691.4,854.0 L694.0,854.6 L696.6,853.3 L699.2,854.2 L701.8,855.1 L704.4,858.6 L707.0,859.0 L709.6,859.6 L712.2,858.8 L714.8,859.4 L717.4,857.0 L720.0,855.8 L722.6,850.8 L725.2,853.4 L727.8,855.3 L730.4,852.0 L733.0,853.7 L735.6,853.8 L738.2,855.2 L740.8,852.5 L743.4,854.6 L746.0,857.1 L748.6,850.4 L751.3,851.5 L753.9,853.8 L756.5,851.6 L759.1,850.1 L761.7,855.1 L764.3,854.0 L766.9,854.1 L769.5,853.7 L772.1,852.8 L774.7,849.5 L777.3,846.2 L779.9,851.1 L782.5,847.6 L785.1,849.1 L787.7,849.1 L790.3,845.3 L792.9,846.1 L795.5,849.1 L798.1,846.2 L800.7,840.6 L803.3,842.0 L805.9,840.9 L808.5,840.5 L811.1,839.1 L813.7,835.7 L816.3,833.4 L818.9,833.3 L821.6,826.6 L824.2,829.0 L826.8,824.8 L829.4,820.3 L832.0,817.2 L834.6,815.5 L837.2,809.0 L839.8,803.9 L842.4,805.3 L845.0,803.6 L847.6,796.8 L850.2,793.3 L852.8,789.2 L855.4,783.5 L858.0,782.1 L860.6,779.0 L863.2,773.7 L865.8,771.7 L868.4,764.6 L871.0,763.7 L873.6,758.8 L876.2,756.6 L878.8,755.6 L881.4,753.4 L884.0,752.9 L886.6,751.1 L889.2,746.4 L891.9,749.8 L894.5,743.2 L897.1,744.5 L899.7,743.6 L902.3,740.7 L904.9,739.1 L907.5,734.8 L910.1,728.6 L912.7,726.6 L915.3,718.6 L917.9,709.5 L920.5,702.5 L923.1,692.2 L925.7,681.6 L928.3,667.6 L930.9,655.6 L933.5,640.9 L936.1,629.6 L938.7,611.3 L941.3,599.8 L943.9,583.4 L946.5,572.7 L949.1,563.4 L951.7,548.6 L954.3,541.9 L956.9,534.8 L959.6,532.6 L962.2,533.0 L964.8,537.4 L967.4,545.0 L970.0,553.8 L972.6,562.8 L975.2,577.8 L977.8,590.8 L980.4,612.0 L983.0,629.2 L985.6,647.1 L988.2,667.5 L990.8,689.5 L993.4,707.9 L996.0,727.4 L998.6,742.9 L1001.2,760.3 L1003.8,774.6 L1006.4,785.8 L1009.0,800.4 L1011.6,811.2 L1014.2,819.5 L1016.8,830.2 L1019.4,839.5 L1022.0,843.9 L1024.6,846.2 L1027.2,848.0 L1029.9,853.0 L1032.5,854.8 L1035.1,858.4 L1037.7,862.0 L1040.3,861.1 L1042.9,859.8 L1045.5,865.7 L1048.1,864.1 L1050.7,867.1 L1053.3,863.5 L1055.9,870.1 L1058.5,863.6 L1061.1,866.5 L1063.7,868.0 L1066.3,862.0 L1068.9,865.6 L1071.5,864.3 L1074.1,870.6 L1076.7,869.0 L1079.3,866.1 L1081.9,864.9 L1084.5,865.1 L1087.1,868.8 L1089.7,867.2 L1092.3,869.5 L1094.9,868.1 L1097.5,866.1 L1100.2,872.7 L1102.8,870.5 L1105.4,868.5 L1108.0,869.3 L1110.6,872.5 L1113.2,871.7 L1115.8,868.1 L1118.4,873.2 L1121.0,869.6 L1123.6,871.9 L1126.2,868.8 L1128.8,870.0 L1131.4,872.8 L1134.0,869.3" fill="none" stroke="#000" stroke-width="3.6" stroke-linejoin="round" stroke-linecap="round"/>
<path d="M719.1,853.4 L720.1,853.4 L721.1,853.4 L722.1,853.4 L723.1,853.4 L724.1,853.4 L725.1,853.4 L726.1,853.4 L727.1,853.4 L728.1,853.4 L729.1,853.4 L730.1,853.4 L731.1,853.4 L732.1,853.3 L733.1,853.3 L734.1,853.3 L735.1,853.3 L736.1,853.3 L737.1,853.3 L738.1,853.2 L739.1,853.2 L740.1,853.2 L741.1,853.2 L742.1,853.2 L743.2,853.1 L744.2,853.1 L745.2,853.1 L746.2,853.0 L747.2,853.0 L748.2,853.0 L749.2,852.9 L750.2,852.9 L751.2,852.9 L752.2,852.8 L753.2,852.8 L754.2,852.7 L755.2,852.7 L756.2,852.6 L757.2,852.5 L758.2,852.5 L759.2,852.4 L760.2,852.3 L761.2,852.3 L762.2,852.2 L763.2,852.1 L764.2,852.0 L765.2,851.9 L766.2,851.8 L767.2,851.7 L768.2,851.6 L769.2,851.5 L770.2,851.4 L771.2,851.3 L772.2,851.2 L773.2,851.0 L774.2,850.9 L775.2,850.7 L776.2,850.6 L777.2,850.4 L778.2,850.2 L779.2,850.0 L780.2,849.9 L781.2,849.7 L782.2,849.5 L783.2,849.2 L784.2,849.0 L785.2,848.8 L786.2,848.5 L787.2,848.3 L788.2,848.0 L789.3,847.7 L790.3,847.4 L791.3,847.1 L792.3,846.8 L793.3,846.4 L794.3,846.1 L795.3,845.7 L796.3,845.3 L797.3,844.9 L798.3,844.5 L799.3,844.0 L800.3,843.6 L801.3,843.1 L802.3,842.6 L803.3,842.1 L804.3,841.6 L805.3,841.1 L806.3,840.5 L807.3,839.9 L808.3,839.3 L809.3,838.7 L810.3,838.0 L811.3,837.3 L812.3,836.6 L813.3,835.9 L814.3,835.2 L815.3,834.4 L816.3,833.6 L817.3,832.8 L818.3,832.0 L819.3,831.1 L820.3,830.2 L821.3,829.3 L822.3,828.4 L823.3,827.4 L824.3,826.4 L825.3,825.4 L826.3,824.3 L827.3,823.3 L828.3,822.2 L829.3,821.1 L830.3,819.9 L831.3,818.8 L832.3,817.6 L833.3,816.4 L834.3,815.1 L835.4,813.9 L836.4,812.6 L837.4,811.3 L838.4,810.0 L839.4,808.6 L840.4,807.2 L841.4,805.9 L842.4,804.5 L843.4,803.0 L844.4,801.6 L845.4,800.2 L846.4,798.7 L847.4,797.2 L848.4,795.7 L849.4,794.2 L850.4,792.7 L851.4,791.2 L852.4,789.7 L853.4,788.2 L854.4,786.7 L855.4,785.1 L856.4,783.6 L857.4,782.1 L858.4,780.6 L859.4,779.1 L860.4,777.6 L861.4,776.1 L862.4,774.7 L863.4,773.2 L864.4,771.8 L865.4,770.4 L866.4,769.0 L867.4,767.7 L868.4,766.4 L869.4,765.1 L870.4,763.8 L871.4,762.6 L872.4,761.4 L873.4,760.3 L874.4,759.2 L875.4,758.2 L876.4,757.2 L877.4,756.2 L878.4,755.3 L879.4,754.5 L880.4,753.7 L881.5,752.9 L882.5,752.2 L883.5,751.5 L884.5,750.9 L885.5,750.3 L886.5,749.8 L887.5,749.3 L888.5,748.8 L889.5,748.4 L890.5,747.9 L891.5,747.5 L892.5,747.0 L893.5,746.5 L894.5,746.0 L895.5,745.5 L896.5,745.0 L897.5,744.4 L898.5,743.7 L899.5,743.0 L900.5,742.3 L901.5,741.5 L902.5,740.6 L903.5,739.6 L904.5,738.5 L905.5,737.3 L906.5,736.0 L907.5,734.6 L908.5,733.1 L909.5,731.4 L910.5,729.6 L911.5,727.6 L912.5,725.5 L913.5,723.2 L914.5,720.7 L915.5,718.1 L916.5,715.3 L917.5,712.3 L918.5,709.1 L919.5,705.7 L920.5,702.2 L921.5,698.4 L922.5,694.5 L923.5,690.4 L924.5,686.1 L925.5,681.7 L926.5,677.1 L927.6,672.3 L928.6,667.4 L929.6,662.3 L930.6,657.1 L931.6,651.8 L932.6,646.4 L933.6,640.9 L934.6,635.4 L935.6,629.8 L936.6,624.1 L937.6,618.4 L938.6,612.8 L939.6,607.2 L940.6,601.6 L941.6,596.1 L942.6,590.6 L943.6,585.3 L944.6,580.2 L945.6,575.2 L946.6,570.3 L947.6,565.7 L948.6,561.3 L949.6,557.2 L950.6,553.3 L951.6,549.8 L952.6,546.5 L953.6,543.6 L954.6,541.0 L955.6,538.8 L956.6,537.0 L957.6,535.5 L958.6,534.5 L959.6,533.8 L960.6,533.6 L961.6,533.8 L962.6,534.4 L963.6,535.5 L964.6,537.0 L965.6,538.9 L966.6,541.3 L967.6,544.1 L968.6,547.3 L969.6,550.9 L970.6,554.9 L971.6,559.3 L972.6,564.1 L973.7,569.2 L974.7,574.6 L975.7,580.4 L976.7,586.4 L977.7,592.7 L978.7,599.2 L979.7,606.0 L980.7,612.9 L981.7,620.1 L982.7,627.3 L983.7,634.7 L984.7,642.2 L985.7,649.7 L986.7,657.3 L987.7,664.9 L988.7,672.5 L989.7,680.1 L990.7,687.7 L991.7,695.2 L992.7,702.6 L993.7,709.9 L994.7,717.1 L995.7,724.1 L996.7,731.0 L997.7,737.8 L998.7,744.4 L999.7,750.8 L1000.7,757.0 L1001.7,763.1 L1002.7,768.9 L1003.7,774.5 L1004.7,779.9 L1005.7,785.1 L1006.7,790.1 L1007.7,794.9 L1008.7,799.4 L1009.7,803.8 L1010.7,807.9 L1011.7,811.8 L1012.7,815.5 L1013.7,819.1 L1014.7,822.4 L1015.7,825.5 L1016.7,828.5 L1017.7,831.3 L1018.7,833.9 L1019.8,836.3 L1020.8,838.6 L1021.8,840.7 L1022.8,842.7 L1023.8,844.6 L1024.8,846.3 L1025.8,847.9 L1026.8,849.4 L1027.8,850.8 L1028.8,852.1 L1029.8,853.3 L1030.8,854.3 L1031.8,855.4 L1032.8,856.3 L1033.8,857.1 L1034.8,857.9 L1035.8,858.6 L1036.8,859.3 L1037.8,859.9 L1038.8,860.5 L1039.8,861.0 L1040.8,861.5 L1041.8,861.9 L1042.8,862.3 L1043.8,862.7 L1044.8,863.0 L1045.8,863.4 L1046.8,863.6 L1047.8,863.9 L1048.8,864.2 L1049.8,864.4 L1050.8,864.6 L1051.8,864.8 L1052.8,865.0 L1053.8,865.2 L1054.8,865.3 L1055.8,865.5 L1056.8,865.7 L1057.8,865.8 L1058.8,865.9 L1059.8,866.1 L1060.8,866.2 L1061.8,866.3 L1062.8,866.4 L1063.8,866.5 L1064.8,866.6 L1065.9,866.7 L1066.9,866.8 L1067.9,866.9 L1068.9,867.0 L1069.9,867.1 L1070.9,867.2 L1071.9,867.3 L1072.9,867.4 L1073.9,867.4 L1074.9,867.5 L1075.9,867.6 L1076.9,867.7 L1077.9,867.8 L1078.9,867.9 L1079.9,867.9 L1080.9,868.0 L1081.9,868.1 L1082.9,868.2 L1083.9,868.2 L1084.9,868.3 L1085.9,868.4 L1086.9,868.5 L1087.9,868.5 L1088.9,868.6 L1089.9,868.7 L1090.9,868.8 L1091.9,868.8 L1092.9,868.9 L1093.9,869.0 L1094.9,869.0 L1095.9,869.1 L1096.9,869.2 L1097.9,869.2 L1098.9,869.3 L1099.9,869.4 L1100.9,869.4 L1101.9,869.5 L1102.9,869.6 L1103.9,869.6 L1104.9,869.7 L1105.9,869.8 L1106.9,869.8 L1107.9,869.9 L1108.9,870.0 L1109.9,870.0 L1110.9,870.1 L1112.0,870.2 L1113.0,870.2 L1114.0,870.3 L1115.0,870.4 L1116.0,870.4 L1117.0,870.5 L1118.0,870.5 L1119.0,870.6 L1120.0,870.7 L1121.0,870.7 L1122.0,870.8 L1123.0,870.8 L1124.0,870.9 L1125.0,871.0 L1126.0,871.0 L1127.0,871.1 L1128.0,871.1 L1129.0,871.2 L1130.0,871.3 L1131.0,871.3 L1132.0,871.4 L1133.0,871.4 L1134.0,871.5 L1135.0,871.6" fill="none" stroke="#ff0000" stroke-width="4.8" stroke-linejoin="round" stroke-linecap="round"/>
<text x="795.3" y="709.7" font-size="34.0" font-family='"Liberation Serif", "Times New Roman", serif' font-weight="bold" textLength="59.0" lengthAdjust="spacingAndGlyphs">O-Ni</text>
<text x="854.6" y="693.6" font-size="33.0" font-family='"Liberation Serif", "Times New Roman", serif' font-weight="bold" textLength="28.5" lengthAdjust="spacingAndGlyphs">3+</text>
<line x1="824.9" y1="717.6" x2="848.9" y2="768.5" stroke="#000" stroke-width="3.2" stroke-linecap="round"/>
<path d="M856.6,784.8 L840.8,770.1 L855.3,763.3 Z" fill="#000"/>
<text x="998.5" y="580.1" font-size="34.0" font-family='"Liberation Serif", "Times New Roman", serif' font-weight="bold" textLength="58.0" lengthAdjust="spacingAndGlyphs">O-Ni</text>
<text x="1056.8" y="564.1" font-size="33.0" font-family='"Liberation Serif", "Times New Roman", serif' font-weight="bold" textLength="29.5" lengthAdjust="spacingAndGlyphs">2+</text>
<line x1="1019.2" y1="590.0" x2="992.9" y2="633.9" stroke="#000" stroke-width="3.2" stroke-linecap="round"/>
<path d="M983.6,649.3 L987.0,628.0 L1000.8,636.3 Z" fill="#000"/>
<path d="M1326.8,442.5 L1330.8,442.9 L1334.9,443.4 L1338.9,443.8 L1343.0,444.3 L1347.0,444.7 L1351.0,445.2 L1355.1,445.6 L1359.1,446.1 L1363.2,446.5 L1367.2,447.0 L1371.2,447.4 L1375.3,447.9 L1379.3,448.3 L1383.4,448.8 L1387.4,449.2 L1391.4,449.6 L1395.5,450.1 L1399.5,450.5 L1403.6,451.0 L1407.6,451.4 L1411.6,451.9 L1415.7,452.3 L1419.7,452.8 L1423.8,453.2 L1427.8,453.7 L1431.8,454.1 L1435.9,454.6 L1439.9,455.0 L1444.0,455.5 L1448.0,455.9 L1452.0,456.3 L1456.1,456.8 L1460.1,457.2 L1464.2,457.7 L1468.2,458.1 L1472.2,458.6 L1476.3,459.0 L1480.3,459.5 L1484.4,459.9 L1488.4,460.4 L1492.4,460.8 L1496.5,461.3 L1500.5,461.7 L1504.6,462.2 L1508.6,462.6 L1512.6,463.0 L1516.7,463.5 L1520.7,463.9 L1524.8,464.4 L1528.8,464.8 L1532.8,465.3 L1536.9,465.7 L1540.9,466.2 L1545.0,466.6 L1549.0,467.1 L1553.0,467.5 L1557.1,468.0 L1561.1,468.4 L1565.2,468.9 L1569.2,469.3 L1573.2,469.8 L1577.3,470.2 L1581.3,470.6 L1585.4,471.1 L1589.4,471.5 L1593.4,472.0 L1597.5,472.4 L1601.5,472.9 L1605.6,473.3 L1609.6,473.8 L1613.6,474.2 L1617.7,474.7 L1621.7,475.1 L1625.8,475.6 L1629.8,476.0 L1633.8,476.5 L1637.9,476.9 L1641.9,477.3 L1646.0,477.8 L1650.0,478.2" fill="none" stroke="#00ff00" stroke-width="4.8" stroke-linejoin="round" stroke-linecap="round"/>
<path d="M1326.8,442.5 L1327.8,442.6 L1328.8,442.7 L1329.8,442.8 L1330.8,442.9 L1331.8,443.0 L1332.8,443.1 L1333.8,443.2 L1334.8,443.3 L1335.8,443.4 L1336.8,443.5 L1337.8,443.6 L1338.8,443.7 L1339.8,443.8 L1340.8,443.9 L1341.8,444.0 L1342.8,444.1 L1343.8,444.2 L1344.8,444.3 L1345.8,444.4 L1346.8,444.5 L1347.8,444.6 L1348.8,444.7 L1349.8,444.7 L1350.8,444.8 L1351.8,444.9 L1352.8,445.0 L1353.8,445.0 L1354.8,445.1 L1355.8,445.1 L1356.8,445.2 L1357.8,445.2 L1358.8,445.3 L1359.8,445.3 L1360.8,445.3 L1361.8,445.4 L1362.8,445.4 L1363.8,445.4 L1364.8,445.4 L1365.8,445.4 L1366.8,445.3 L1367.8,445.3 L1368.8,445.2 L1369.8,445.2 L1370.8,445.1 L1371.8,445.0 L1372.8,444.9 L1373.8,444.8 L1374.8,444.6 L1375.8,444.5 L1376.8,444.3 L1377.8,444.1 L1378.8,443.8 L1379.8,443.6 L1380.8,443.3 L1381.8,443.0 L1382.8,442.7 L1383.8,442.3 L1384.8,441.9 L1385.8,441.5 L1386.8,441.0 L1387.8,440.5 L1388.8,439.9 L1389.8,439.3 L1390.8,438.7 L1391.8,438.0 L1392.8,437.3 L1393.8,436.5 L1394.8,435.7 L1395.8,434.8 L1396.8,433.9 L1397.8,432.9 L1398.8,431.8 L1399.8,430.7 L1400.8,429.5 L1401.8,428.3 L1402.8,427.0 L1403.8,425.6 L1404.8,424.2 L1405.8,422.6 L1406.8,421.0 L1407.8,419.3 L1408.8,417.6 L1409.8,415.7 L1410.8,413.8 L1411.8,411.8 L1412.8,409.7 L1413.8,407.6 L1414.8,405.3 L1415.8,403.0 L1416.8,400.5 L1417.9,398.0 L1418.9,395.4 L1419.9,392.7 L1420.9,389.9 L1421.9,387.0 L1422.9,384.1 L1423.9,381.0 L1424.9,377.9 L1425.9,374.7 L1426.9,371.4 L1427.9,368.1 L1428.9,364.6 L1429.9,361.1 L1430.9,357.5 L1431.9,353.8 L1432.9,350.1 L1433.9,346.3 L1434.9,342.5 L1435.9,338.6 L1436.9,334.7 L1437.9,330.7 L1438.9,326.7 L1439.9,322.6 L1440.9,318.5 L1441.9,314.4 L1442.9,310.3 L1443.9,306.2 L1444.9,302.1 L1445.9,298.0 L1446.9,293.9 L1447.9,289.8 L1448.9,285.7 L1449.9,281.7 L1450.9,277.7 L1451.9,273.8 L1452.9,269.9 L1453.9,266.1 L1454.9,262.3 L1455.9,258.7 L1456.9,255.1 L1457.9,251.6 L1458.9,248.2 L1459.9,245.0 L1460.9,241.8 L1461.9,238.8 L1462.9,235.9 L1463.9,233.1 L1464.9,230.5 L1465.9,228.0 L1466.9,225.7 L1467.9,223.5 L1468.9,221.6 L1469.9,219.7 L1470.9,218.1 L1471.9,216.6 L1472.9,215.4 L1473.9,214.3 L1474.9,213.4 L1475.9,212.6 L1476.9,212.1 L1477.9,211.8 L1478.9,211.7 L1479.9,211.7 L1480.9,212.0 L1481.9,212.4 L1482.9,213.1 L1483.9,213.9 L1484.9,214.9 L1485.9,216.0 L1486.9,217.4 L1487.9,218.9 L1488.9,220.6 L1489.9,222.5 L1490.9,224.5 L1491.9,226.7 L1492.9,229.1 L1493.9,231.6 L1494.9,234.2 L1495.9,237.0 L1496.9,239.9 L1497.9,243.0 L1498.9,246.1 L1499.9,249.4 L1500.9,252.8 L1501.9,256.3 L1502.9,259.9 L1503.9,263.6 L1504.9,267.4 L1505.9,271.2 L1506.9,275.1 L1507.9,279.1 L1508.9,283.2 L1509.9,287.2 L1510.9,291.4 L1511.9,295.5 L1512.9,299.7 L1513.9,303.9 L1514.9,308.1 L1515.9,312.4 L1516.9,316.6 L1517.9,320.8 L1518.9,325.0 L1519.9,329.2 L1520.9,333.4 L1521.9,337.5 L1522.9,341.7 L1523.9,345.7 L1524.9,349.8 L1525.9,353.8 L1526.9,357.7 L1527.9,361.6 L1528.9,365.4 L1529.9,369.2 L1530.9,372.9 L1531.9,376.5 L1532.9,380.1 L1533.9,383.5 L1534.9,387.0 L1535.9,390.3 L1536.9,393.5 L1537.9,396.7 L1538.9,399.8 L1539.9,402.8 L1540.9,405.8 L1541.9,408.6 L1542.9,411.4 L1543.9,414.1 L1544.9,416.7 L1545.9,419.2 L1546.9,421.6 L1547.9,424.0 L1548.9,426.3 L1549.9,428.5 L1550.9,430.6 L1551.9,432.6 L1552.9,434.6 L1553.9,436.5 L1554.9,438.3 L1555.9,440.0 L1556.9,441.7 L1557.9,443.3 L1558.9,444.8 L1559.9,446.3 L1560.9,447.7 L1561.9,449.0 L1562.9,450.3 L1563.9,451.6 L1564.9,452.7 L1565.9,453.8 L1566.9,454.9 L1567.9,455.9 L1568.9,456.9 L1569.9,457.8 L1570.9,458.7 L1571.9,459.5 L1572.9,460.3 L1573.9,461.0 L1574.9,461.8 L1575.9,462.4 L1576.9,463.1 L1577.9,463.7 L1578.9,464.3 L1579.9,464.8 L1580.9,465.4 L1581.9,465.9 L1582.9,466.3 L1583.9,466.8 L1584.9,467.2 L1585.9,467.6 L1586.9,468.0 L1587.9,468.4 L1588.9,468.7 L1589.9,469.0 L1590.9,469.3 L1591.9,469.6 L1592.9,469.9 L1593.9,470.2 L1594.9,470.5 L1595.9,470.7 L1596.9,471.0 L1597.9,471.2 L1598.9,471.4 L1600.0,471.6 L1601.0,471.8 L1602.0,472.0 L1603.0,472.2 L1604.0,472.4 L1605.0,472.6 L1606.0,472.7 L1607.0,472.9 L1608.0,473.1 L1609.0,473.2 L1610.0,473.4 L1611.0,473.5 L1612.0,473.7 L1613.0,473.8 L1614.0,474.0 L1615.0,474.1 L1616.0,474.2 L1617.0,474.4 L1618.0,474.5 L1619.0,474.6 L1620.0,474.8 L1621.0,474.9 L1622.0,475.0 L1623.0,475.1 L1624.0,475.3 L1625.0,475.4 L1626.0,475.5 L1627.0,475.6 L1628.0,475.7 L1629.0,475.9 L1630.0,476.0 L1631.0,476.1 L1632.0,476.2 L1633.0,476.3 L1634.0,476.4 L1635.0,476.5 L1636.0,476.7 L1637.0,476.8 L1638.0,476.9 L1639.0,477.0 L1640.0,477.1 L1641.0,477.2 L1642.0,477.3 L1643.0,477.5 L1644.0,477.6 L1645.0,477.7 L1646.0,477.8 L1647.0,477.9 L1648.0,478.0 L1649.0,478.1 L1650.0,478.2 L1651.0,478.3 L1652.0,478.5 L1653.0,478.6 L1654.0,478.7 L1655.0,478.8 L1656.0,478.9 L1657.0,479.0 L1658.0,479.1 L1659.0,479.2 L1660.0,479.3 L1661.0,479.5 L1662.0,479.6 L1663.0,479.7 L1664.0,479.8 L1665.0,479.9 L1666.0,480.0 L1667.0,480.1 L1668.0,480.2 L1669.0,480.3 L1670.0,480.4 L1671.0,480.6 L1672.0,480.7 L1673.0,480.8 L1674.0,480.9 L1675.0,481.0 L1676.0,481.1 L1677.0,481.2 L1678.0,481.3 L1679.0,481.4 L1680.0,481.6 L1681.0,481.7 L1682.0,481.8 L1683.0,481.9 L1684.0,482.0 L1685.0,482.1 L1686.0,482.2 L1687.0,482.3 L1688.0,482.4 L1689.0,482.6 L1690.0,482.7" fill="none" stroke="#808000" stroke-width="4.2" stroke-linejoin="round" stroke-linecap="round"/>
<path d="M1326.8,442.5 L1327.8,442.6 L1328.8,442.7 L1329.8,442.8 L1330.8,442.9 L1331.8,443.1 L1332.8,443.2 L1333.8,443.3 L1334.8,443.4 L1335.8,443.5 L1336.8,443.6 L1337.8,443.7 L1338.8,443.8 L1339.8,443.9 L1340.8,444.0 L1341.8,444.2 L1342.8,444.3 L1343.8,444.4 L1344.8,444.5 L1345.8,444.6 L1346.8,444.7 L1347.8,444.8 L1348.8,444.9 L1349.8,445.0 L1350.8,445.2 L1351.8,445.3 L1352.8,445.4 L1353.8,445.5 L1354.8,445.6 L1355.8,445.7 L1356.8,445.8 L1357.8,445.9 L1358.8,446.0 L1359.8,446.2 L1360.8,446.3 L1361.8,446.4 L1362.8,446.5 L1363.8,446.6 L1364.8,446.7 L1365.8,446.8 L1366.8,446.9 L1367.8,447.0 L1368.8,447.1 L1369.8,447.3 L1370.8,447.4 L1371.8,447.5 L1372.8,447.6 L1373.8,447.7 L1374.8,447.8 L1375.8,447.9 L1376.8,448.0 L1377.8,448.1 L1378.8,448.3 L1379.8,448.4 L1380.8,448.5 L1381.8,448.6 L1382.8,448.7 L1383.8,448.8 L1384.8,448.9 L1385.8,449.0 L1386.8,449.1 L1387.8,449.2 L1388.8,449.4 L1389.8,449.5 L1390.8,449.6 L1391.8,449.7 L1392.8,449.8 L1393.8,449.9 L1394.8,450.0 L1395.8,450.1 L1396.8,450.2 L1397.8,450.4 L1398.8,450.5 L1399.8,450.6 L1400.8,450.7 L1401.8,450.8 L1402.8,450.9 L1403.8,451.0 L1404.8,451.1 L1405.8,451.2 L1406.8,451.4 L1407.8,451.5 L1408.8,451.6 L1409.8,451.7 L1410.8,451.8 L1411.8,451.9 L1412.8,452.0 L1413.8,452.1 L1414.8,452.2 L1415.8,452.3 L1416.8,452.5 L1417.9,452.6 L1418.9,452.7 L1419.9,452.8 L1420.9,452.9 L1421.9,453.0 L1422.9,453.1 L1423.9,453.2 L1424.9,453.3 L1425.9,453.5 L1426.9,453.6 L1427.9,453.7 L1428.9,453.8 L1429.9,453.9 L1430.9,454.0 L1431.9,454.1 L1432.9,454.2 L1433.9,454.3 L1434.9,454.4 L1435.9,454.6 L1436.9,454.7 L1437.9,454.8 L1438.9,454.9 L1439.9,455.0 L1440.9,455.1 L1441.9,455.2 L1442.9,455.3 L1443.9,455.4 L1444.9,455.6 L1445.9,455.7 L1446.9,455.8 L1447.9,455.9 L1448.9,456.0 L1449.9,456.1 L1450.9,456.2 L1451.9,456.3 L1452.9,456.4 L1453.9,456.5 L1454.9,456.6 L1455.9,456.8 L1456.9,456.9 L1457.9,457.0 L1458.9,457.1 L1459.9,457.2 L1460.9,457.3 L1461.9,457.4 L1462.9,457.5 L1463.9,457.6 L1464.9,457.7 L1465.9,457.8 L1466.9,457.9 L1467.9,458.0 L1468.9,458.0 L1469.9,458.1 L1470.9,458.2 L1471.9,458.2 L1472.9,458.3 L1473.9,458.3 L1474.9,458.4 L1475.9,458.4 L1476.9,458.4 L1477.9,458.4 L1478.9,458.4 L1479.9,458.3 L1480.9,458.3 L1481.9,458.2 L1482.9,458.0 L1483.9,457.9 L1484.9,457.7 L1485.9,457.4 L1486.9,457.1 L1487.9,456.8 L1488.9,456.4 L1489.9,455.9 L1490.9,455.4 L1491.9,454.8 L1492.9,454.1 L1493.9,453.3 L1494.9,452.4 L1495.9,451.4 L1496.9,450.3 L1497.9,449.1 L1498.9,447.7 L1499.9,446.2 L1500.9,444.5 L1501.9,442.7 L1502.9,440.7 L1503.9,438.5 L1504.9,436.1 L1505.9,433.6 L1506.9,430.8 L1507.9,427.8 L1508.9,424.5 L1509.9,421.1 L1510.9,417.4 L1511.9,413.5 L1512.9,409.3 L1513.9,404.8 L1514.9,400.2 L1515.9,395.3 L1516.9,390.1 L1517.9,384.7 L1518.9,379.1 L1519.9,373.2 L1520.9,367.2 L1521.9,360.9 L1522.9,354.5 L1523.9,347.9 L1524.9,341.2 L1525.9,334.4 L1526.9,327.4 L1527.9,320.4 L1528.9,313.3 L1529.9,306.3 L1530.9,299.2 L1531.9,292.2 L1532.9,285.3 L1533.9,278.5 L1534.9,271.9 L1535.9,265.4 L1536.9,259.2 L1537.9,253.3 L1538.9,247.6 L1539.9,242.3 L1540.9,237.3 L1541.9,232.7 L1542.9,228.5 L1543.9,224.8 L1544.9,221.6 L1545.9,218.8 L1546.9,216.5 L1547.9,214.8 L1548.9,213.6 L1549.9,213.0 L1550.9,212.9 L1551.9,213.3 L1552.9,214.2 L1553.9,215.6 L1554.9,217.4 L1555.9,219.7 L1556.9,222.4 L1557.9,225.6 L1558.9,229.2 L1559.9,233.1 L1560.9,237.5 L1561.9,242.2 L1562.9,247.2 L1563.9,252.6 L1564.9,258.2 L1565.9,264.0 L1566.9,270.1 L1567.9,276.4 L1568.9,282.8 L1569.9,289.4 L1570.9,296.1 L1571.9,302.8 L1572.9,309.6 L1573.9,316.4 L1574.9,323.3 L1575.9,330.0 L1576.9,336.8 L1577.9,343.4 L1578.9,350.0 L1579.9,356.5 L1580.9,362.8 L1581.9,369.0 L1582.9,375.0 L1583.9,380.8 L1584.9,386.5 L1585.9,392.0 L1586.9,397.3 L1587.9,402.3 L1588.9,407.2 L1589.9,411.8 L1590.9,416.3 L1591.9,420.5 L1592.9,424.5 L1593.9,428.3 L1594.9,431.8 L1595.9,435.2 L1596.9,438.4 L1597.9,441.4 L1598.9,444.2 L1600.0,446.8 L1601.0,449.2 L1602.0,451.5 L1603.0,453.6 L1604.0,455.5 L1605.0,457.3 L1606.0,459.0 L1607.0,460.6 L1608.0,462.0 L1609.0,463.3 L1610.0,464.5 L1611.0,465.6 L1612.0,466.6 L1613.0,467.5 L1614.0,468.4 L1615.0,469.2 L1616.0,469.9 L1617.0,470.5 L1618.0,471.1 L1619.0,471.7 L1620.0,472.1 L1621.0,472.6 L1622.0,473.0 L1623.0,473.4 L1624.0,473.7 L1625.0,474.1 L1626.0,474.4 L1627.0,474.6 L1628.0,474.9 L1629.0,475.1 L1630.0,475.3 L1631.0,475.5 L1632.0,475.7 L1633.0,475.9 L1634.0,476.1 L1635.0,476.3 L1636.0,476.4 L1637.0,476.6 L1638.0,476.7 L1639.0,476.9 L1640.0,477.0 L1641.0,477.1 L1642.0,477.3 L1643.0,477.4 L1644.0,477.5 L1645.0,477.6 L1646.0,477.7 L1647.0,477.9 L1648.0,478.0 L1649.0,478.1 L1650.0,478.2 L1651.0,478.3 L1652.0,478.4 L1653.0,478.6 L1654.0,478.7 L1655.0,478.8 L1656.0,478.9 L1657.0,479.0 L1658.0,479.1 L1659.0,479.2 L1660.0,479.3 L1661.0,479.5 L1662.0,479.6 L1663.0,479.7 L1664.0,479.8 L1665.0,479.9 L1666.0,480.0 L1667.0,480.1 L1668.0,480.2 L1669.0,480.3 L1670.0,480.4 L1671.0,480.6 L1672.0,480.7 L1673.0,480.8 L1674.0,480.9 L1675.0,481.0 L1676.0,481.1 L1677.0,481.2 L1678.0,481.3 L1679.0,481.4 L1680.0,481.6 L1681.0,481.7 L1682.0,481.8 L1683.0,481.9 L1684.0,482.0 L1685.0,482.1 L1686.0,482.2 L1687.0,482.3 L1688.0,482.4 L1689.0,482.6 L1690.0,482.7" fill="none" stroke="#0000ff" stroke-width="4.2" stroke-linejoin="round" stroke-linecap="round"/>
<path d="M1326.8,442.1 L1327.8,442.2 L1328.8,442.4 L1329.8,442.5 L1330.8,442.6 L1331.8,442.7 L1332.8,442.8 L1333.8,442.9 L1334.8,443.0 L1335.8,443.1 L1336.8,443.2 L1337.8,443.3 L1338.8,443.4 L1339.8,443.5 L1340.8,443.6 L1341.8,443.8 L1342.8,443.9 L1343.8,444.0 L1344.8,444.1 L1345.8,444.2 L1346.8,444.3 L1347.8,444.4 L1348.8,444.5 L1349.8,444.6 L1350.8,444.7 L1351.8,444.8 L1352.8,444.9 L1353.8,445.0 L1354.8,445.1 L1355.8,445.2 L1356.8,445.4 L1357.8,445.5 L1358.8,445.6 L1359.8,445.7 L1360.8,445.8 L1361.8,445.9 L1362.8,446.0 L1363.8,446.1 L1364.8,446.2 L1365.8,446.3 L1366.8,446.4 L1367.8,446.5 L1368.8,446.6 L1369.8,446.7 L1370.8,446.8 L1371.8,446.9 L1372.8,447.1 L1373.8,447.2 L1374.8,447.3 L1375.8,447.4 L1376.8,447.5 L1377.8,447.6 L1378.8,447.7 L1379.8,447.8 L1380.8,447.9 L1381.8,448.0 L1382.8,448.1 L1383.8,448.2 L1384.8,448.3 L1385.8,448.4 L1386.8,448.5 L1387.8,448.6 L1388.8,448.7 L1389.8,448.8 L1390.8,448.9 L1391.8,449.0 L1392.8,449.1 L1393.8,449.2 L1394.8,449.4 L1395.8,449.5 L1396.8,449.6 L1397.8,449.7 L1398.8,449.8 L1399.8,449.9 L1400.8,450.0 L1401.8,450.1 L1402.8,450.2 L1403.8,450.3 L1404.8,450.4 L1405.8,450.5 L1406.8,450.6 L1407.8,450.7 L1408.8,450.8 L1409.8,450.9 L1410.8,451.0 L1411.8,451.1 L1412.8,451.2 L1413.8,451.3 L1414.8,451.4 L1415.8,451.5 L1416.8,451.6 L1417.9,451.7 L1418.9,451.8 L1419.9,451.9 L1420.9,452.0 L1421.9,452.1 L1422.9,452.2 L1423.9,452.3 L1424.9,452.4 L1425.9,452.5 L1426.9,452.6 L1427.9,452.7 L1428.9,452.8 L1429.9,452.9 L1430.9,453.0 L1431.9,453.1 L1432.9,453.2 L1433.9,453.3 L1434.9,453.4 L1435.9,453.5 L1436.9,453.6 L1437.9,453.7 L1438.9,453.7 L1439.9,453.8 L1440.9,453.9 L1441.9,454.0 L1442.9,454.1 L1443.9,454.2 L1444.9,454.3 L1445.9,454.4 L1446.9,454.5 L1447.9,454.6 L1448.9,454.7 L1449.9,454.8 L1450.9,454.9 L1451.9,455.0 L1452.9,455.0 L1453.9,455.1 L1454.9,455.2 L1455.9,455.3 L1456.9,455.4 L1457.9,455.5 L1458.9,455.6 L1459.9,455.7 L1460.9,455.7 L1461.9,455.8 L1462.9,455.9 L1463.9,456.0 L1464.9,456.1 L1465.9,456.2 L1466.9,456.2 L1467.9,456.3 L1468.9,456.4 L1469.9,456.5 L1470.9,456.6 L1471.9,456.6 L1472.9,456.7 L1473.9,456.8 L1474.9,456.9 L1475.9,456.9 L1476.9,457.0 L1477.9,457.1 L1478.9,457.1 L1479.9,457.2 L1480.9,457.3 L1481.9,457.3 L1482.9,457.4 L1483.9,457.5 L1484.9,457.5 L1485.9,457.6 L1486.9,457.6 L1487.9,457.7 L1488.9,457.7 L1489.9,457.8 L1490.9,457.8 L1491.9,457.8 L1492.9,457.9 L1493.9,457.9 L1494.9,457.9 L1495.9,457.9 L1496.9,457.9 L1497.9,457.9 L1498.9,457.9 L1499.9,457.9 L1500.9,457.9 L1501.9,457.8 L1502.9,457.8 L1503.9,457.7 L1504.9,457.7 L1505.9,457.6 L1506.9,457.5 L1507.9,457.3 L1508.9,457.2 L1509.9,457.0 L1510.9,456.9 L1511.9,456.7 L1512.9,456.4 L1513.9,456.2 L1514.9,455.9 L1515.9,455.6 L1516.9,455.2 L1517.9,454.8 L1518.9,454.4 L1519.9,453.9 L1520.9,453.4 L1521.9,452.8 L1522.9,452.2 L1523.9,451.5 L1524.9,450.8 L1525.9,450.0 L1526.9,449.2 L1527.9,448.3 L1528.9,447.3 L1529.9,446.3 L1530.9,445.2 L1531.9,444.0 L1532.9,442.8 L1533.9,441.5 L1534.9,440.1 L1535.9,438.6 L1536.9,437.0 L1537.9,435.4 L1538.9,433.7 L1539.9,431.9 L1540.9,430.0 L1541.9,428.0 L1542.9,426.0 L1543.9,423.9 L1544.9,421.7 L1545.9,419.4 L1546.9,417.1 L1547.9,414.7 L1548.9,412.3 L1549.9,409.8 L1550.9,407.2 L1551.9,404.6 L1552.9,402.0 L1553.9,399.3 L1554.9,396.6 L1555.9,394.0 L1556.9,391.3 L1557.9,388.6 L1558.9,385.9 L1559.9,383.3 L1560.9,380.7 L1561.9,378.1 L1562.9,375.6 L1563.9,373.2 L1564.9,370.9 L1565.9,368.7 L1566.9,366.5 L1567.9,364.6 L1568.9,362.7 L1569.9,361.0 L1570.9,359.5 L1571.9,358.1 L1572.9,357.0 L1573.9,356.0 L1574.9,355.3 L1575.9,354.7 L1576.9,354.4 L1577.9,354.3 L1578.9,354.4 L1579.9,354.7 L1580.9,355.3 L1581.9,356.0 L1582.9,356.9 L1583.9,358.0 L1584.9,359.3 L1585.9,360.8 L1586.9,362.5 L1587.9,364.2 L1588.9,366.2 L1589.9,368.3 L1590.9,370.5 L1591.9,372.8 L1592.9,375.2 L1593.9,377.7 L1594.9,380.2 L1595.9,382.9 L1596.9,385.5 L1597.9,388.3 L1598.9,391.0 L1600.0,393.8 L1601.0,396.6 L1602.0,399.4 L1603.0,402.2 L1604.0,405.0 L1605.0,407.8 L1606.0,410.5 L1607.0,413.2 L1608.0,415.9 L1609.0,418.5 L1610.0,421.1 L1611.0,423.6 L1612.0,426.1 L1613.0,428.5 L1614.0,430.8 L1615.0,433.1 L1616.0,435.3 L1617.0,437.4 L1618.0,439.5 L1619.0,441.5 L1620.0,443.4 L1621.0,445.2 L1622.0,447.0 L1623.0,448.7 L1624.0,450.3 L1625.0,451.8 L1626.0,453.3 L1627.0,454.7 L1628.0,456.1 L1629.0,457.3 L1630.0,458.5 L1631.0,459.7 L1632.0,460.8 L1633.0,461.8 L1634.0,462.8 L1635.0,463.7 L1636.0,464.5 L1637.0,465.4 L1638.0,466.1 L1639.0,466.9 L1640.0,467.5 L1641.0,468.2 L1642.0,468.8 L1643.0,469.4 L1644.0,469.9 L1645.0,470.4 L1646.0,470.9 L1647.0,471.4 L1648.0,471.8 L1649.0,472.2 L1650.0,472.6 L1651.0,473.0 L1652.0,473.3 L1653.0,473.6 L1654.0,474.0 L1655.0,474.3 L1656.0,474.5 L1657.0,474.8 L1658.0,475.1 L1659.0,475.3 L1660.0,475.6 L1661.0,475.8 L1662.0,476.0 L1663.0,476.3 L1664.0,476.5 L1665.0,476.7 L1666.0,476.9 L1667.0,477.1 L1668.0,477.3 L1669.0,477.4 L1670.0,477.6 L1671.0,477.8 L1672.0,478.0 L1673.0,478.2 L1674.0,478.3 L1675.0,478.5 L1676.0,478.7 L1677.0,478.8 L1678.0,479.0 L1679.0,479.1 L1680.0,479.3 L1681.0,479.4 L1682.0,479.6 L1683.0,479.7 L1684.0,479.9 L1685.0,480.0 L1686.0,480.2 L1687.0,480.3 L1688.0,480.5 L1689.0,480.6 L1690.0,480.8" fill="none" stroke="#ff00ff" stroke-width="4.2" stroke-linejoin="round" stroke-linecap="round"/>
<path d="M1226.0,418.5 L1228.6,423.8 L1231.2,428.6 L1233.8,430.2 L1236.4,429.3 L1239.0,425.4 L1241.7,427.1 L1244.3,425.3 L1246.9,421.7 L1249.5,425.6 L1252.1,431.8 L1254.7,429.6 L1257.3,427.9 L1259.9,425.5 L1262.5,430.0 L1265.1,428.6 L1267.8,431.6 L1270.4,434.0 L1273.0,423.5 L1275.6,432.8 L1278.2,427.9 L1280.8,430.6 L1283.4,430.0 L1286.0,439.9 L1288.6,438.7 L1291.2,438.6 L1293.9,434.3 L1296.5,432.1 L1299.1,436.8 L1301.7,439.7 L1304.3,439.2 L1306.9,442.8 L1309.5,439.2 L1312.1,448.4 L1314.7,444.4 L1317.3,450.3 L1319.9,443.9 L1322.6,442.6 L1325.2,440.7 L1327.8,443.7 L1330.4,444.4 L1333.0,443.0 L1335.6,443.7 L1338.2,442.8 L1340.8,442.8 L1343.4,443.2 L1346.0,440.6 L1348.7,442.4 L1351.3,444.5 L1353.9,444.8 L1356.5,446.7 L1359.1,445.9 L1361.7,445.6 L1364.3,445.0 L1366.9,440.8 L1369.5,444.8 L1372.1,442.9 L1374.7,445.0 L1377.4,443.1 L1380.0,442.4 L1382.6,441.2 L1385.2,440.6 L1387.8,436.4 L1390.4,435.5 L1393.0,438.7 L1395.6,435.1 L1398.2,431.0 L1400.8,428.2 L1403.5,424.7 L1406.1,427.3 L1408.7,418.0 L1411.3,412.1 L1413.9,405.4 L1416.5,396.3 L1419.1,394.0 L1421.7,389.0 L1424.3,380.3 L1426.9,370.6 L1429.6,360.1 L1432.2,349.5 L1434.8,341.9 L1437.4,330.7 L1440.0,318.9 L1442.6,313.2 L1445.2,297.7 L1447.8,287.7 L1450.4,273.8 L1453.0,270.9 L1455.6,257.7 L1458.3,248.6 L1460.9,240.7 L1463.5,230.9 L1466.1,224.5 L1468.7,220.4 L1471.3,213.8 L1473.9,212.4 L1476.5,211.7 L1479.1,209.8 L1481.7,211.1 L1484.4,211.6 L1487.0,214.9 L1489.6,215.2 L1492.2,219.0 L1494.8,220.2 L1497.4,226.0 L1500.0,229.1 L1502.6,234.0 L1505.2,235.3 L1507.8,239.7 L1510.4,244.5 L1513.1,237.8 L1515.7,237.7 L1518.3,233.4 L1520.9,224.8 L1523.5,217.5 L1526.1,207.4 L1528.7,198.0 L1531.3,184.0 L1533.9,177.3 L1536.5,161.6 L1539.2,150.1 L1541.8,141.2 L1544.4,130.7 L1547.0,121.2 L1549.6,117.8 L1552.2,115.7 L1554.8,117.2 L1557.4,122.1 L1560.0,122.8 L1562.6,131.9 L1565.3,144.9 L1567.9,159.0 L1570.5,171.6 L1573.1,188.0 L1575.7,207.4 L1578.3,224.6 L1580.9,241.8 L1583.5,260.1 L1586.1,276.7 L1588.7,298.5 L1591.3,315.5 L1594.0,330.3 L1596.6,348.8 L1599.2,361.9 L1601.8,375.6 L1604.4,385.7 L1607.0,401.5 L1609.6,408.7 L1612.2,419.7 L1614.8,427.6 L1617.4,433.3 L1620.1,440.5 L1622.7,445.6 L1625.3,450.3 L1627.9,455.2 L1630.5,457.2 L1633.1,462.6 L1635.7,464.1 L1638.3,464.0 L1640.9,468.7 L1643.5,468.8 L1646.1,471.7 L1648.8,467.8 L1651.4,473.6 L1654.0,469.8 L1656.6,473.8 L1659.2,481.0 L1661.8,477.0 L1664.4,478.3 L1667.0,475.6 L1669.6,475.4 L1672.2,477.7 L1674.9,479.0 L1677.5,478.5 L1680.1,477.9 L1682.7,477.9 L1685.3,479.2 L1687.9,483.2 L1690.5,480.7 L1693.1,480.4 L1695.7,481.0 L1698.3,480.1 L1701.0,479.7 L1703.6,482.8 L1706.2,485.3 L1708.8,484.1 L1711.4,481.1 L1714.0,486.7" fill="none" stroke="#000" stroke-width="3.6" stroke-linejoin="round" stroke-linecap="round"/>
<path d="M1326.8,442.1 L1327.8,442.2 L1328.8,442.3 L1329.8,442.4 L1330.8,442.5 L1331.8,442.6 L1332.8,442.7 L1333.8,442.8 L1334.8,442.9 L1335.8,443.0 L1336.8,443.1 L1337.8,443.2 L1338.8,443.3 L1339.8,443.4 L1340.8,443.5 L1341.8,443.6 L1342.8,443.7 L1343.8,443.8 L1344.8,443.9 L1345.8,444.0 L1346.8,444.1 L1347.8,444.1 L1348.8,444.2 L1349.8,444.3 L1350.8,444.4 L1351.8,444.4 L1352.8,444.5 L1353.8,444.6 L1354.8,444.6 L1355.8,444.7 L1356.8,444.7 L1357.8,444.8 L1358.8,444.8 L1359.8,444.8 L1360.8,444.9 L1361.8,444.9 L1362.8,444.9 L1363.8,444.9 L1364.8,444.9 L1365.8,444.9 L1366.8,444.8 L1367.8,444.8 L1368.8,444.7 L1369.8,444.7 L1370.8,444.6 L1371.8,444.5 L1372.8,444.4 L1373.8,444.2 L1374.8,444.1 L1375.8,443.9 L1376.8,443.7 L1377.8,443.5 L1378.8,443.3 L1379.8,443.0 L1380.8,442.7 L1381.8,442.4 L1382.8,442.1 L1383.8,441.7 L1384.8,441.3 L1385.8,440.8 L1386.8,440.4 L1387.8,439.9 L1388.8,439.3 L1389.8,438.7 L1390.8,438.1 L1391.8,437.4 L1392.8,436.6 L1393.8,435.9 L1394.8,435.0 L1395.8,434.1 L1396.8,433.2 L1397.8,432.2 L1398.8,431.1 L1399.8,430.0 L1400.8,428.8 L1401.8,427.6 L1402.8,426.3 L1403.8,424.9 L1404.8,423.4 L1405.8,421.9 L1406.8,420.3 L1407.8,418.6 L1408.8,416.8 L1409.8,415.0 L1410.8,413.0 L1411.8,411.0 L1412.8,408.9 L1413.8,406.7 L1414.8,404.5 L1415.8,402.1 L1416.8,399.7 L1417.9,397.1 L1418.9,394.5 L1419.9,391.8 L1420.9,389.0 L1421.9,386.1 L1422.9,383.2 L1423.9,380.1 L1424.9,377.0 L1425.9,373.7 L1426.9,370.4 L1427.9,367.1 L1428.9,363.6 L1429.9,360.1 L1430.9,356.5 L1431.9,352.8 L1432.9,349.1 L1433.9,345.3 L1434.9,341.4 L1435.9,337.5 L1436.9,333.6 L1437.9,329.6 L1438.9,325.5 L1439.9,321.5 L1440.9,317.4 L1441.9,313.2 L1442.9,309.1 L1443.9,305.0 L1444.9,300.8 L1445.9,296.7 L1446.9,292.6 L1447.9,288.5 L1448.9,284.4 L1449.9,280.3 L1450.9,276.3 L1451.9,272.4 L1452.9,268.5 L1453.9,264.6 L1454.9,260.9 L1455.9,257.2 L1456.9,253.6 L1457.9,250.1 L1458.9,246.7 L1459.9,243.4 L1460.9,240.2 L1461.9,237.1 L1462.9,234.2 L1463.9,231.4 L1464.9,228.7 L1465.9,226.2 L1466.9,223.8 L1467.9,221.6 L1468.9,219.6 L1469.9,217.7 L1470.9,216.0 L1471.9,214.4 L1472.9,213.0 L1473.9,211.9 L1474.9,210.8 L1475.9,210.0 L1476.9,209.3 L1477.9,208.8 L1478.9,208.5 L1479.9,208.4 L1480.9,208.4 L1481.9,208.6 L1482.9,209.0 L1483.9,209.5 L1484.9,210.1 L1485.9,210.8 L1486.9,211.7 L1487.9,212.8 L1488.9,213.9 L1489.9,215.1 L1490.9,216.4 L1491.9,217.8 L1492.9,219.3 L1493.9,220.8 L1494.9,222.4 L1495.9,223.9 L1496.9,225.5 L1497.9,227.1 L1498.9,228.7 L1499.9,230.3 L1500.9,231.7 L1501.9,233.2 L1502.9,234.5 L1503.9,235.7 L1504.9,236.8 L1505.9,237.8 L1506.9,238.6 L1507.9,239.2 L1508.9,239.6 L1509.9,239.9 L1510.9,239.9 L1511.9,239.7 L1512.9,239.3 L1513.9,238.6 L1514.9,237.6 L1515.9,236.4 L1516.9,234.9 L1517.9,233.1 L1518.9,231.0 L1519.9,228.7 L1520.9,226.1 L1521.9,223.2 L1522.9,220.0 L1523.9,216.6 L1524.9,213.0 L1525.9,209.1 L1526.9,205.1 L1527.9,200.8 L1528.9,196.4 L1529.9,191.8 L1530.9,187.1 L1531.9,182.4 L1532.9,177.6 L1533.9,172.7 L1534.9,167.9 L1535.9,163.0 L1536.9,158.3 L1537.9,153.7 L1538.9,149.2 L1539.9,144.8 L1540.9,140.7 L1541.9,136.7 L1542.9,133.1 L1543.9,129.7 L1544.9,126.7 L1545.9,123.9 L1546.9,121.6 L1547.9,119.6 L1548.9,118.0 L1549.9,116.8 L1550.9,116.1 L1551.9,115.7 L1552.9,115.7 L1553.9,116.1 L1554.9,116.9 L1555.9,118.0 L1556.9,119.5 L1557.9,121.3 L1558.9,123.6 L1559.9,126.1 L1560.9,129.1 L1561.9,132.4 L1562.9,136.0 L1563.9,139.9 L1564.9,144.1 L1565.9,148.7 L1566.9,153.5 L1567.9,158.5 L1568.9,163.9 L1569.9,169.5 L1570.9,175.3 L1571.9,181.3 L1572.9,187.5 L1573.9,193.9 L1574.9,200.4 L1575.9,207.1 L1576.9,213.9 L1577.9,220.9 L1578.9,227.9 L1579.9,235.1 L1580.9,242.2 L1581.9,249.4 L1582.9,256.6 L1583.9,263.8 L1584.9,271.0 L1585.9,278.1 L1586.9,285.2 L1587.9,292.2 L1588.9,299.1 L1589.9,305.9 L1590.9,312.6 L1591.9,319.2 L1592.9,325.7 L1593.9,332.0 L1594.9,338.2 L1595.9,344.3 L1596.9,350.2 L1597.9,355.9 L1598.9,361.4 L1600.0,366.8 L1601.0,372.0 L1602.0,377.1 L1603.0,381.9 L1604.0,386.6 L1605.0,391.2 L1606.0,395.5 L1607.0,399.7 L1608.0,403.8 L1609.0,407.6 L1610.0,411.4 L1611.0,414.9 L1612.0,418.3 L1613.0,421.6 L1614.0,424.7 L1615.0,427.6 L1616.0,430.5 L1617.0,433.2 L1618.0,435.7 L1619.0,438.2 L1620.0,440.5 L1621.0,442.7 L1622.0,444.7 L1623.0,446.7 L1624.0,448.6 L1625.0,450.3 L1626.0,452.0 L1627.0,453.6 L1628.0,455.1 L1629.0,456.5 L1630.0,457.8 L1631.0,459.0 L1632.0,460.2 L1633.0,461.3 L1634.0,462.4 L1635.0,463.3 L1636.0,464.2 L1637.0,465.1 L1638.0,465.9 L1639.0,466.7 L1640.0,467.4 L1641.0,468.1 L1642.0,468.7 L1643.0,469.3 L1644.0,469.8 L1645.0,470.4 L1646.0,470.9 L1647.0,471.3 L1648.0,471.8 L1649.0,472.2 L1650.0,472.6 L1651.0,472.9 L1652.0,473.3 L1653.0,473.6 L1654.0,473.9 L1655.0,474.2 L1656.0,474.5 L1657.0,474.8 L1658.0,475.1 L1659.0,475.3 L1660.0,475.6 L1661.0,475.8 L1662.0,476.0 L1663.0,476.3 L1664.0,476.5 L1665.0,476.7 L1666.0,476.9 L1667.0,477.1 L1668.0,477.3 L1669.0,477.4 L1670.0,477.6 L1671.0,477.8 L1672.0,478.0 L1673.0,478.2 L1674.0,478.3 L1675.0,478.5 L1676.0,478.7 L1677.0,478.8 L1678.0,479.0 L1679.0,479.1 L1680.0,479.3 L1681.0,479.4 L1682.0,479.6 L1683.0,479.7 L1684.0,479.9 L1685.0,480.0 L1686.0,480.2 L1687.0,480.3 L1688.0,480.5 L1689.0,480.6 L1690.0,480.8" fill="none" stroke="#ff0000" stroke-width="4.8" stroke-linejoin="round" stroke-linecap="round"/>
<text x="1307.5" y="204.0" font-size="35.0" font-family='"Liberation Serif", "Times New Roman", serif' font-weight="bold" textLength="155.0" lengthAdjust="spacingAndGlyphs">C-F covalent</text>
<line x1="1391.1" y1="206.7" x2="1437.5" y2="287.0" stroke="#000" stroke-width="3.2" stroke-linecap="round"/>
<path d="M1446.5,302.6 L1429.6,289.3 L1443.4,281.3 Z" fill="#000"/>
<text x="1534.0" y="108.0" font-size="35.0" font-family='"Liberation Serif", "Times New Roman", serif' font-weight="bold" textLength="177.0" lengthAdjust="spacingAndGlyphs">C-F semi-ionic</text>
<line x1="1612.0" y1="118.7" x2="1565.8" y2="198.0" stroke="#000" stroke-width="3.2" stroke-linecap="round"/>
<path d="M1556.7,213.6 L1559.9,192.3 L1573.7,200.3 Z" fill="#000"/>
<text x="1625.0" y="308.6" font-size="34.0" font-family='"Liberation Serif", "Times New Roman", serif' font-weight="bold" textLength="53.0" lengthAdjust="spacingAndGlyphs">Ni-F</text>
<line x1="1646.7" y1="322.4" x2="1608.6" y2="375.9" stroke="#000" stroke-width="3.2" stroke-linecap="round"/>
<path d="M1598.2,390.6 L1603.3,369.7 L1616.3,378.9 Z" fill="#000"/>
<path d="M1263.5,857.0 L1267.5,857.1 L1271.5,857.2 L1275.5,857.4 L1279.5,857.5 L1283.5,857.6 L1287.5,857.7 L1291.5,857.9 L1295.5,858.0 L1299.5,858.1 L1303.6,858.2 L1307.6,858.4 L1311.6,858.5 L1315.6,858.6 L1319.6,858.7 L1323.6,858.8 L1327.6,859.0 L1331.6,859.1 L1335.6,859.2 L1339.6,859.3 L1343.6,859.5 L1347.6,859.6 L1351.6,859.7 L1355.6,859.8 L1359.6,860.0 L1363.6,860.1 L1367.6,860.2 L1371.6,860.3 L1375.6,860.4 L1379.7,860.6 L1383.7,860.7 L1387.7,860.8 L1391.7,860.9 L1395.7,861.1 L1399.7,861.2 L1403.7,861.3 L1407.7,861.4 L1411.7,861.6 L1415.7,861.7 L1419.7,861.8 L1423.7,861.9 L1427.7,862.0 L1431.7,862.2 L1435.7,862.3 L1439.7,862.4 L1443.7,862.5 L1447.7,862.7 L1451.8,862.8 L1455.8,862.9 L1459.8,863.0 L1463.8,863.2 L1467.8,863.3 L1471.8,863.4 L1475.8,863.5 L1479.8,863.7 L1483.8,863.8 L1487.8,863.9 L1491.8,864.0 L1495.8,864.1 L1499.8,864.3 L1503.8,864.4 L1507.8,864.5 L1511.8,864.6 L1515.8,864.8 L1519.8,864.9 L1523.8,865.0 L1527.9,865.1 L1531.9,865.3 L1535.9,865.4 L1539.9,865.5 L1543.9,865.6 L1547.9,865.7 L1551.9,865.9 L1555.9,866.0 L1559.9,866.1 L1563.9,866.2 L1567.9,866.4 L1571.9,866.5 L1575.9,866.6 L1579.9,866.7 L1583.9,866.9 L1587.9,867.0 L1591.9,867.1 L1595.9,867.2 L1599.9,867.3 L1604.0,867.5 L1608.0,867.6 L1612.0,867.7 L1616.0,867.8 L1620.0,868.0 L1624.0,868.1 L1628.0,868.2 L1632.0,868.3 L1636.0,868.5 L1640.0,868.6" fill="none" stroke="#00ff00" stroke-width="4.8" stroke-linejoin="round" stroke-linecap="round"/>
<path d="M1263.5,854.8 L1264.5,854.8 L1265.5,854.8 L1266.5,854.8 L1267.5,854.8 L1268.5,854.8 L1269.5,854.7 L1270.5,854.7 L1271.5,854.7 L1272.5,854.6 L1273.5,854.6 L1274.5,854.6 L1275.5,854.6 L1276.5,854.5 L1277.5,854.5 L1278.5,854.4 L1279.5,854.4 L1280.5,854.3 L1281.5,854.3 L1282.5,854.2 L1283.5,854.2 L1284.5,854.1 L1285.5,854.1 L1286.5,854.0 L1287.5,853.9 L1288.5,853.9 L1289.5,853.8 L1290.5,853.7 L1291.5,853.6 L1292.5,853.5 L1293.5,853.5 L1294.5,853.4 L1295.5,853.3 L1296.5,853.2 L1297.5,853.1 L1298.5,853.0 L1299.5,852.8 L1300.5,852.7 L1301.5,852.6 L1302.5,852.5 L1303.5,852.3 L1304.5,852.2 L1305.5,852.1 L1306.6,851.9 L1307.6,851.8 L1308.6,851.6 L1309.6,851.4 L1310.6,851.3 L1311.6,851.1 L1312.6,850.9 L1313.6,850.7 L1314.6,850.5 L1315.6,850.3 L1316.6,850.1 L1317.6,849.9 L1318.6,849.7 L1319.6,849.5 L1320.6,849.2 L1321.6,849.0 L1322.6,848.8 L1323.6,848.5 L1324.6,848.2 L1325.6,848.0 L1326.6,847.7 L1327.6,847.4 L1328.6,847.1 L1329.6,846.8 L1330.6,846.5 L1331.6,846.2 L1332.6,845.9 L1333.6,845.6 L1334.6,845.2 L1335.6,844.9 L1336.6,844.5 L1337.6,844.1 L1338.6,843.8 L1339.6,843.4 L1340.6,843.0 L1341.6,842.6 L1342.6,842.2 L1343.6,841.8 L1344.6,841.4 L1345.6,840.9 L1346.6,840.5 L1347.6,840.0 L1348.6,839.6 L1349.6,839.1 L1350.6,838.6 L1351.6,838.1 L1352.6,837.6 L1353.6,837.1 L1354.6,836.6 L1355.6,836.1 L1356.6,835.6 L1357.6,835.0 L1358.6,834.5 L1359.6,833.9 L1360.6,833.4 L1361.6,832.8 L1362.6,832.2 L1363.6,831.6 L1364.6,831.0 L1365.6,830.4 L1366.6,829.8 L1367.6,829.2 L1368.6,828.5 L1369.6,827.9 L1370.6,827.3 L1371.6,826.6 L1372.6,826.0 L1373.6,825.3 L1374.6,824.6 L1375.6,823.9 L1376.6,823.3 L1377.6,822.6 L1378.6,821.9 L1379.6,821.2 L1380.6,820.5 L1381.6,819.8 L1382.6,819.0 L1383.6,818.3 L1384.6,817.6 L1385.6,816.9 L1386.6,816.1 L1387.6,815.4 L1388.6,814.7 L1389.6,813.9 L1390.6,813.2 L1391.6,812.4 L1392.7,811.7 L1393.7,810.9 L1394.7,810.2 L1395.7,809.5 L1396.7,808.7 L1397.7,808.0 L1398.7,807.2 L1399.7,806.5 L1400.7,805.7 L1401.7,805.0 L1402.7,804.2 L1403.7,803.5 L1404.7,802.8 L1405.7,802.1 L1406.7,801.3 L1407.7,800.6 L1408.7,799.9 L1409.7,799.2 L1410.7,798.5 L1411.7,797.8 L1412.7,797.1 L1413.7,796.4 L1414.7,795.8 L1415.7,795.1 L1416.7,794.5 L1417.7,793.8 L1418.7,793.2 L1419.7,792.6 L1420.7,792.0 L1421.7,791.4 L1422.7,790.8 L1423.7,790.2 L1424.7,789.6 L1425.7,789.1 L1426.7,788.6 L1427.7,788.1 L1428.7,787.6 L1429.7,787.1 L1430.7,786.6 L1431.7,786.2 L1432.7,785.7 L1433.7,785.3 L1434.7,784.9 L1435.7,784.5 L1436.7,784.2 L1437.7,783.8 L1438.7,783.5 L1439.7,783.2 L1440.7,782.9 L1441.7,782.6 L1442.7,782.4 L1443.7,782.2 L1444.7,782.0 L1445.7,781.8 L1446.7,781.6 L1447.7,781.5 L1448.7,781.4 L1449.7,781.3 L1450.7,781.2 L1451.7,781.2 L1452.7,781.2 L1453.7,781.2 L1454.7,781.2 L1455.7,781.2 L1456.7,781.3 L1457.7,781.4 L1458.7,781.5 L1459.7,781.7 L1460.7,781.8 L1461.7,782.0 L1462.7,782.2 L1463.7,782.5 L1464.7,782.7 L1465.7,783.0 L1466.7,783.3 L1467.7,783.6 L1468.7,784.0 L1469.7,784.4 L1470.7,784.7 L1471.7,785.2 L1472.7,785.6 L1473.7,786.0 L1474.7,786.5 L1475.7,787.0 L1476.7,787.5 L1477.7,788.1 L1478.8,788.6 L1479.8,789.2 L1480.8,789.8 L1481.8,790.3 L1482.8,791.0 L1483.8,791.6 L1484.8,792.2 L1485.8,792.9 L1486.8,793.6 L1487.8,794.2 L1488.8,794.9 L1489.8,795.6 L1490.8,796.4 L1491.8,797.1 L1492.8,797.8 L1493.8,798.6 L1494.8,799.3 L1495.8,800.1 L1496.8,800.9 L1497.8,801.7 L1498.8,802.5 L1499.8,803.3 L1500.8,804.1 L1501.8,804.9 L1502.8,805.7 L1503.8,806.5 L1504.8,807.3 L1505.8,808.1 L1506.8,809.0 L1507.8,809.8 L1508.8,810.6 L1509.8,811.5 L1510.8,812.3 L1511.8,813.1 L1512.8,814.0 L1513.8,814.8 L1514.8,815.6 L1515.8,816.5 L1516.8,817.3 L1517.8,818.1 L1518.8,819.0 L1519.8,819.8 L1520.8,820.6 L1521.8,821.4 L1522.8,822.2 L1523.8,823.0 L1524.8,823.8 L1525.8,824.6 L1526.8,825.4 L1527.8,826.2 L1528.8,827.0 L1529.8,827.8 L1530.8,828.6 L1531.8,829.3 L1532.8,830.1 L1533.8,830.8 L1534.8,831.6 L1535.8,832.3 L1536.8,833.0 L1537.8,833.8 L1538.8,834.5 L1539.8,835.2 L1540.8,835.9 L1541.8,836.6 L1542.8,837.2 L1543.8,837.9 L1544.8,838.6 L1545.8,839.2 L1546.8,839.9 L1547.8,840.5 L1548.8,841.1 L1549.8,841.7 L1550.8,842.4 L1551.8,843.0 L1552.8,843.5 L1553.8,844.1 L1554.8,844.7 L1555.8,845.2 L1556.8,845.8 L1557.8,846.3 L1558.8,846.9 L1559.8,847.4 L1560.8,847.9 L1561.8,848.4 L1562.8,848.9 L1563.8,849.4 L1564.9,849.9 L1565.9,850.3 L1566.9,850.8 L1567.9,851.2 L1568.9,851.7 L1569.9,852.1 L1570.9,852.5 L1571.9,852.9 L1572.9,853.3 L1573.9,853.7 L1574.9,854.1 L1575.9,854.5 L1576.9,854.9 L1577.9,855.2 L1578.9,855.6 L1579.9,855.9 L1580.9,856.3 L1581.9,856.6 L1582.9,856.9 L1583.9,857.2 L1584.9,857.5 L1585.9,857.8 L1586.9,858.1 L1587.9,858.4 L1588.9,858.7 L1589.9,858.9 L1590.9,859.2 L1591.9,859.5 L1592.9,859.7 L1593.9,860.0 L1594.9,860.2 L1595.9,860.4 L1596.9,860.7 L1597.9,860.9 L1598.9,861.1 L1599.9,861.3 L1600.9,861.5 L1601.9,861.7 L1602.9,861.9 L1603.9,862.1 L1604.9,862.3 L1605.9,862.4 L1606.9,862.6 L1607.9,862.8 L1608.9,863.0 L1609.9,863.1 L1610.9,863.3 L1611.9,863.4 L1612.9,863.6 L1613.9,863.7 L1614.9,863.9 L1615.9,864.0 L1616.9,864.1 L1617.9,864.3 L1618.9,864.4 L1619.9,864.5 L1620.9,864.6 L1621.9,864.7 L1622.9,864.9 L1623.9,865.0 L1624.9,865.1 L1625.9,865.2 L1626.9,865.3 L1627.9,865.4 L1628.9,865.5 L1629.9,865.6 L1630.9,865.7 L1631.9,865.8 L1632.9,865.9 L1633.9,865.9 L1634.9,866.0 L1635.9,866.1 L1636.9,866.2 L1637.9,866.3 L1638.9,866.4 L1639.9,866.4 L1640.9,866.5 L1641.9,866.6 L1642.9,866.7 L1643.9,866.7 L1644.9,866.8 L1645.9,866.9 L1646.9,866.9 L1647.9,867.0 L1648.9,867.1 L1649.9,867.1 L1651.0,867.2 L1652.0,867.2 L1653.0,867.3 L1654.0,867.4 L1655.0,867.4 L1656.0,867.5 L1657.0,867.5 L1658.0,867.6 L1659.0,867.6 L1660.0,867.7 L1661.0,867.7 L1662.0,867.8 L1663.0,867.9 L1664.0,867.9 L1665.0,868.0 L1666.0,868.0 L1667.0,868.1 L1668.0,868.1 L1669.0,868.1 L1670.0,868.2 L1671.0,868.2 L1672.0,868.3 L1673.0,868.3 L1674.0,868.4 L1675.0,868.4 L1676.0,868.5 L1677.0,868.5 L1678.0,868.6 L1679.0,868.6 L1680.0,868.6 L1681.0,868.7 L1682.0,868.7 L1683.0,868.8 L1684.0,868.8 L1685.0,868.9 L1686.0,868.9 L1687.0,868.9 L1688.0,869.0 L1689.0,869.0 L1690.0,869.1 L1691.0,869.1 L1692.0,869.2 L1693.0,869.2" fill="none" stroke="#808000" stroke-width="4.2" stroke-linejoin="round" stroke-linecap="round"/>
<path d="M1263.5,857.0 L1264.5,857.0 L1265.5,857.1 L1266.5,857.1 L1267.5,857.1 L1268.5,857.2 L1269.5,857.2 L1270.5,857.2 L1271.5,857.2 L1272.5,857.3 L1273.5,857.3 L1274.5,857.3 L1275.5,857.4 L1276.5,857.4 L1277.5,857.4 L1278.5,857.5 L1279.5,857.5 L1280.5,857.5 L1281.5,857.5 L1282.5,857.6 L1283.5,857.6 L1284.5,857.6 L1285.5,857.7 L1286.5,857.7 L1287.5,857.7 L1288.5,857.8 L1289.5,857.8 L1290.5,857.8 L1291.5,857.8 L1292.5,857.9 L1293.5,857.9 L1294.5,857.9 L1295.5,858.0 L1296.5,858.0 L1297.5,858.0 L1298.5,858.1 L1299.5,858.1 L1300.5,858.1 L1301.5,858.1 L1302.5,858.2 L1303.5,858.2 L1304.5,858.2 L1305.5,858.2 L1306.6,858.3 L1307.6,858.3 L1308.6,858.3 L1309.6,858.3 L1310.6,858.4 L1311.6,858.4 L1312.6,858.4 L1313.6,858.4 L1314.6,858.5 L1315.6,858.5 L1316.6,858.5 L1317.6,858.5 L1318.6,858.5 L1319.6,858.5 L1320.6,858.6 L1321.6,858.6 L1322.6,858.6 L1323.6,858.6 L1324.6,858.6 L1325.6,858.6 L1326.6,858.6 L1327.6,858.6 L1328.6,858.6 L1329.6,858.6 L1330.6,858.6 L1331.6,858.6 L1332.6,858.6 L1333.6,858.6 L1334.6,858.6 L1335.6,858.6 L1336.6,858.5 L1337.6,858.5 L1338.6,858.5 L1339.6,858.4 L1340.6,858.4 L1341.6,858.4 L1342.6,858.3 L1343.6,858.3 L1344.6,858.2 L1345.6,858.1 L1346.6,858.1 L1347.6,858.0 L1348.6,857.9 L1349.6,857.8 L1350.6,857.7 L1351.6,857.6 L1352.6,857.5 L1353.6,857.3 L1354.6,857.2 L1355.6,857.0 L1356.6,856.9 L1357.6,856.7 L1358.6,856.5 L1359.6,856.3 L1360.6,856.1 L1361.6,855.8 L1362.6,855.6 L1363.6,855.3 L1364.6,855.1 L1365.6,854.8 L1366.6,854.4 L1367.6,854.1 L1368.6,853.8 L1369.6,853.4 L1370.6,853.0 L1371.6,852.6 L1372.6,852.1 L1373.6,851.6 L1374.6,851.1 L1375.6,850.6 L1376.6,850.1 L1377.6,849.5 L1378.6,848.9 L1379.6,848.2 L1380.6,847.6 L1381.6,846.9 L1382.6,846.1 L1383.6,845.3 L1384.6,844.5 L1385.6,843.7 L1386.6,842.8 L1387.6,841.9 L1388.6,840.9 L1389.6,839.9 L1390.6,838.8 L1391.6,837.7 L1392.7,836.6 L1393.7,835.4 L1394.7,834.1 L1395.7,832.8 L1396.7,831.5 L1397.7,830.1 L1398.7,828.6 L1399.7,827.1 L1400.7,825.6 L1401.7,824.0 L1402.7,822.3 L1403.7,820.6 L1404.7,818.8 L1405.7,816.9 L1406.7,815.0 L1407.7,813.1 L1408.7,811.0 L1409.7,809.0 L1410.7,806.8 L1411.7,804.6 L1412.7,802.3 L1413.7,800.0 L1414.7,797.6 L1415.7,795.1 L1416.7,792.6 L1417.7,790.0 L1418.7,787.4 L1419.7,784.7 L1420.7,781.9 L1421.7,779.0 L1422.7,776.1 L1423.7,773.2 L1424.7,770.2 L1425.7,767.1 L1426.7,764.0 L1427.7,760.8 L1428.7,757.6 L1429.7,754.3 L1430.7,750.9 L1431.7,747.6 L1432.7,744.1 L1433.7,740.7 L1434.7,737.1 L1435.7,733.6 L1436.7,730.0 L1437.7,726.3 L1438.7,722.7 L1439.7,719.0 L1440.7,715.3 L1441.7,711.5 L1442.7,707.8 L1443.7,704.0 L1444.7,700.2 L1445.7,696.4 L1446.7,692.6 L1447.7,688.8 L1448.7,685.0 L1449.7,681.2 L1450.7,677.4 L1451.7,673.6 L1452.7,669.8 L1453.7,666.1 L1454.7,662.4 L1455.7,658.7 L1456.7,655.0 L1457.7,651.4 L1458.7,647.8 L1459.7,644.3 L1460.7,640.8 L1461.7,637.4 L1462.7,634.0 L1463.7,630.7 L1464.7,627.5 L1465.7,624.4 L1466.7,621.3 L1467.7,618.3 L1468.7,615.4 L1469.7,612.5 L1470.7,609.8 L1471.7,607.2 L1472.7,604.6 L1473.7,602.2 L1474.7,599.9 L1475.7,597.7 L1476.7,595.6 L1477.7,593.6 L1478.8,591.7 L1479.8,590.0 L1480.8,588.4 L1481.8,586.9 L1482.8,585.5 L1483.8,584.3 L1484.8,583.2 L1485.8,582.2 L1486.8,581.4 L1487.8,580.7 L1488.8,580.2 L1489.8,579.7 L1490.8,579.5 L1491.8,579.3 L1492.8,579.4 L1493.8,579.5 L1494.8,579.8 L1495.8,580.3 L1496.8,580.9 L1497.8,581.6 L1498.8,582.5 L1499.8,583.5 L1500.8,584.7 L1501.8,586.0 L1502.8,587.5 L1503.8,589.1 L1504.8,590.8 L1505.8,592.6 L1506.8,594.6 L1507.8,596.7 L1508.8,598.9 L1509.8,601.3 L1510.8,603.7 L1511.8,606.3 L1512.8,609.0 L1513.8,611.7 L1514.8,614.6 L1515.8,617.6 L1516.8,620.6 L1517.8,623.8 L1518.8,627.0 L1519.8,630.4 L1520.8,633.7 L1521.8,637.2 L1522.8,640.7 L1523.8,644.3 L1524.8,648.0 L1525.8,651.7 L1526.8,655.4 L1527.8,659.2 L1528.8,663.0 L1529.8,666.8 L1530.8,670.7 L1531.8,674.6 L1532.8,678.6 L1533.8,682.5 L1534.8,686.4 L1535.8,690.4 L1536.8,694.4 L1537.8,698.3 L1538.8,702.3 L1539.8,706.2 L1540.8,710.1 L1541.8,714.1 L1542.8,718.0 L1543.8,721.8 L1544.8,725.7 L1545.8,729.5 L1546.8,733.2 L1547.8,737.0 L1548.8,740.7 L1549.8,744.4 L1550.8,748.0 L1551.8,751.5 L1552.8,755.1 L1553.8,758.5 L1554.8,761.9 L1555.8,765.3 L1556.8,768.6 L1557.8,771.9 L1558.8,775.0 L1559.8,778.2 L1560.8,781.2 L1561.8,784.2 L1562.8,787.2 L1563.8,790.1 L1564.9,792.9 L1565.9,795.6 L1566.9,798.3 L1567.9,800.9 L1568.9,803.5 L1569.9,806.0 L1570.9,808.4 L1571.9,810.7 L1572.9,813.0 L1573.9,815.2 L1574.9,817.4 L1575.9,819.5 L1576.9,821.5 L1577.9,823.5 L1578.9,825.4 L1579.9,827.3 L1580.9,829.0 L1581.9,830.8 L1582.9,832.4 L1583.9,834.0 L1584.9,835.6 L1585.9,837.1 L1586.9,838.5 L1587.9,839.9 L1588.9,841.3 L1589.9,842.6 L1590.9,843.8 L1591.9,845.0 L1592.9,846.1 L1593.9,847.2 L1594.9,848.3 L1595.9,849.3 L1596.9,850.3 L1597.9,851.2 L1598.9,852.1 L1599.9,852.9 L1600.9,853.8 L1601.9,854.5 L1602.9,855.3 L1603.9,856.0 L1604.9,856.7 L1605.9,857.3 L1606.9,857.9 L1607.9,858.5 L1608.9,859.1 L1609.9,859.6 L1610.9,860.1 L1611.9,860.6 L1612.9,861.1 L1613.9,861.5 L1614.9,861.9 L1615.9,862.3 L1616.9,862.7 L1617.9,863.0 L1618.9,863.4 L1619.9,863.7 L1620.9,864.0 L1621.9,864.3 L1622.9,864.6 L1623.9,864.8 L1624.9,865.1 L1625.9,865.3 L1626.9,865.5 L1627.9,865.7 L1628.9,865.9 L1629.9,866.1 L1630.9,866.3 L1631.9,866.5 L1632.9,866.6 L1633.9,866.8 L1634.9,866.9 L1635.9,867.1 L1636.9,867.2 L1637.9,867.3 L1638.9,867.4 L1639.9,867.5 L1640.9,867.7 L1641.9,867.8 L1642.9,867.8 L1643.9,867.9 L1644.9,868.0 L1645.9,868.1 L1646.9,868.2 L1647.9,868.3 L1648.9,868.3 L1649.9,868.4 L1651.0,868.5 L1652.0,868.5 L1653.0,868.6 L1654.0,868.7 L1655.0,868.7 L1656.0,868.8 L1657.0,868.8 L1658.0,868.9 L1659.0,868.9 L1660.0,869.0 L1661.0,869.0 L1662.0,869.1 L1663.0,869.1 L1664.0,869.2 L1665.0,869.2 L1666.0,869.3 L1667.0,869.3 L1668.0,869.3 L1669.0,869.4 L1670.0,869.4 L1671.0,869.5 L1672.0,869.5 L1673.0,869.5 L1674.0,869.6 L1675.0,869.6 L1676.0,869.6 L1677.0,869.7 L1678.0,869.7 L1679.0,869.7 L1680.0,869.8 L1681.0,869.8 L1682.0,869.8 L1683.0,869.9 L1684.0,869.9 L1685.0,869.9 L1686.0,870.0 L1687.0,870.0 L1688.0,870.0 L1689.0,870.1 L1690.0,870.1 L1691.0,870.1 L1692.0,870.2 L1693.0,870.2" fill="none" stroke="#0000ff" stroke-width="4.2" stroke-linejoin="round" stroke-linecap="round"/>
<path d="M1226.0,857.2 L1228.6,859.1 L1231.2,858.1 L1233.8,856.5 L1236.4,857.5 L1239.0,857.4 L1241.7,859.1 L1244.3,857.4 L1246.9,855.8 L1249.5,857.5 L1252.1,859.3 L1254.7,860.9 L1257.3,857.3 L1259.9,856.7 L1262.5,859.1 L1265.1,853.1 L1267.8,853.8 L1270.4,855.6 L1273.0,853.8 L1275.6,853.0 L1278.2,853.5 L1280.8,852.2 L1283.4,856.0 L1286.0,856.1 L1288.6,858.0 L1291.2,853.2 L1293.9,853.0 L1296.5,852.8 L1299.1,853.7 L1301.7,852.6 L1304.3,853.5 L1306.9,851.3 L1309.5,849.1 L1312.1,853.5 L1314.7,849.6 L1317.3,851.7 L1319.9,848.7 L1322.6,848.8 L1325.2,845.1 L1327.8,845.4 L1330.4,846.8 L1333.0,846.2 L1335.6,843.8 L1338.2,843.3 L1340.8,839.0 L1343.4,840.7 L1346.0,838.2 L1348.7,836.2 L1351.3,836.8 L1353.9,833.8 L1356.5,831.3 L1359.1,830.0 L1361.7,827.9 L1364.3,825.8 L1366.9,823.9 L1369.5,820.4 L1372.1,819.7 L1374.7,817.7 L1377.4,813.5 L1380.0,807.8 L1382.6,803.6 L1385.2,801.2 L1387.8,795.8 L1390.4,793.7 L1393.0,786.9 L1395.6,782.0 L1398.2,774.7 L1400.8,769.9 L1403.5,761.5 L1406.1,754.2 L1408.7,749.8 L1411.3,740.2 L1413.9,733.2 L1416.5,727.3 L1419.1,719.9 L1421.7,708.5 L1424.3,698.5 L1426.9,690.8 L1429.6,681.3 L1432.2,670.6 L1434.8,658.1 L1437.4,648.3 L1440.0,640.2 L1442.6,626.3 L1445.2,617.7 L1447.8,609.2 L1450.4,598.6 L1453.0,585.9 L1455.6,576.8 L1458.3,567.6 L1460.9,557.3 L1463.5,550.9 L1466.1,541.8 L1468.7,537.1 L1471.3,528.2 L1473.9,523.5 L1476.5,518.9 L1479.1,516.3 L1481.7,509.6 L1484.4,513.3 L1487.0,510.7 L1489.6,511.6 L1492.2,514.7 L1494.8,515.1 L1497.4,519.2 L1500.0,523.2 L1502.6,529.8 L1505.2,536.0 L1507.8,544.0 L1510.4,550.2 L1513.1,557.6 L1515.7,569.3 L1518.3,577.3 L1520.9,589.8 L1523.5,600.5 L1526.1,609.2 L1528.7,623.9 L1531.3,634.9 L1533.9,646.5 L1536.5,657.9 L1539.2,673.5 L1541.8,685.8 L1544.4,694.8 L1547.0,706.4 L1549.6,718.0 L1552.2,728.5 L1554.8,741.4 L1557.4,749.0 L1560.0,761.6 L1562.6,765.4 L1565.3,774.8 L1567.9,787.1 L1570.5,792.7 L1573.1,797.1 L1575.7,810.4 L1578.3,814.0 L1580.9,819.1 L1583.5,819.7 L1586.1,829.7 L1588.7,832.6 L1591.3,836.2 L1594.0,839.4 L1596.6,840.3 L1599.2,844.1 L1601.8,849.3 L1604.4,852.4 L1607.0,854.0 L1609.6,855.4 L1612.2,856.7 L1614.8,858.6 L1617.4,862.5 L1620.1,860.3 L1622.7,858.7 L1625.3,862.7 L1627.9,862.2 L1630.5,861.7 L1633.1,862.1 L1635.7,865.8 L1638.3,864.0 L1640.9,865.1 L1643.5,864.4 L1646.1,867.9 L1648.8,865.8 L1651.4,866.0 L1654.0,864.5 L1656.6,865.2 L1659.2,869.0 L1661.8,865.9 L1664.4,869.3 L1667.0,868.7 L1669.6,868.6 L1672.2,868.5 L1674.9,868.3 L1677.5,870.3 L1680.1,868.8 L1682.7,866.5 L1685.3,868.4 L1687.9,871.4 L1690.5,867.2 L1693.1,870.1 L1695.7,870.0 L1698.3,871.9 L1701.0,868.8 L1703.6,872.3 L1706.2,868.5 L1708.8,870.4 L1711.4,868.4 L1714.0,870.4" fill="none" stroke="#000" stroke-width="3.6" stroke-linejoin="round" stroke-linecap="round"/>
<path d="M1263.5,854.8 L1264.5,854.8 L1265.5,854.8 L1266.5,854.8 L1267.5,854.8 L1268.5,854.8 L1269.5,854.7 L1270.5,854.7 L1271.5,854.7 L1272.5,854.6 L1273.5,854.6 L1274.5,854.6 L1275.5,854.5 L1276.5,854.5 L1277.5,854.5 L1278.5,854.4 L1279.5,854.4 L1280.5,854.3 L1281.5,854.3 L1282.5,854.2 L1283.5,854.2 L1284.5,854.1 L1285.5,854.1 L1286.5,854.0 L1287.5,853.9 L1288.5,853.9 L1289.5,853.8 L1290.5,853.7 L1291.5,853.6 L1292.5,853.5 L1293.5,853.4 L1294.5,853.3 L1295.5,853.2 L1296.5,853.1 L1297.5,853.0 L1298.5,852.9 L1299.5,852.8 L1300.5,852.7 L1301.5,852.6 L1302.5,852.4 L1303.5,852.3 L1304.5,852.2 L1305.5,852.0 L1306.6,851.9 L1307.6,851.7 L1308.6,851.5 L1309.6,851.4 L1310.6,851.2 L1311.6,851.0 L1312.6,850.8 L1313.6,850.6 L1314.6,850.4 L1315.6,850.2 L1316.6,850.0 L1317.6,849.8 L1318.6,849.5 L1319.6,849.3 L1320.6,849.0 L1321.6,848.8 L1322.6,848.5 L1323.6,848.3 L1324.6,848.0 L1325.6,847.7 L1326.6,847.4 L1327.6,847.1 L1328.6,846.7 L1329.6,846.4 L1330.6,846.1 L1331.6,845.7 L1332.6,845.4 L1333.6,845.0 L1334.6,844.6 L1335.6,844.2 L1336.6,843.8 L1337.6,843.4 L1338.6,842.9 L1339.6,842.5 L1340.6,842.0 L1341.6,841.6 L1342.6,841.1 L1343.6,840.6 L1344.6,840.1 L1345.6,839.5 L1346.6,839.0 L1347.6,838.4 L1348.6,837.8 L1349.6,837.3 L1350.6,836.6 L1351.6,836.0 L1352.6,835.4 L1353.6,834.7 L1354.6,834.0 L1355.6,833.3 L1356.6,832.6 L1357.6,831.8 L1358.6,831.1 L1359.6,830.3 L1360.6,829.5 L1361.6,828.6 L1362.6,827.8 L1363.6,826.9 L1364.6,826.0 L1365.6,825.0 L1366.6,824.1 L1367.6,823.1 L1368.6,822.1 L1369.6,821.0 L1370.6,820.0 L1371.6,818.8 L1372.6,817.7 L1373.6,816.5 L1374.6,815.4 L1375.6,814.1 L1376.6,812.9 L1377.6,811.6 L1378.6,810.2 L1379.6,808.8 L1380.6,807.4 L1381.6,806.0 L1382.6,804.5 L1383.6,803.0 L1384.6,801.4 L1385.6,799.8 L1386.6,798.1 L1387.6,796.4 L1388.6,794.7 L1389.6,792.9 L1390.6,791.1 L1391.6,789.2 L1392.7,787.3 L1393.7,785.3 L1394.7,783.3 L1395.7,781.2 L1396.7,779.1 L1397.7,776.9 L1398.7,774.7 L1399.7,772.4 L1400.7,770.1 L1401.7,767.7 L1402.7,765.3 L1403.7,762.8 L1404.7,760.2 L1405.7,757.6 L1406.7,755.0 L1407.7,752.3 L1408.7,749.5 L1409.7,746.7 L1410.7,743.8 L1411.7,740.8 L1412.7,737.9 L1413.7,734.8 L1414.7,731.7 L1415.7,728.6 L1416.7,725.4 L1417.7,722.1 L1418.7,718.8 L1419.7,715.4 L1420.7,712.0 L1421.7,708.5 L1422.7,705.0 L1423.7,701.5 L1424.7,697.9 L1425.7,694.2 L1426.7,690.5 L1427.7,686.8 L1428.7,683.0 L1429.7,679.2 L1430.7,675.4 L1431.7,671.5 L1432.7,667.6 L1433.7,663.7 L1434.7,659.8 L1435.7,655.8 L1436.7,651.8 L1437.7,647.8 L1438.7,643.8 L1439.7,639.8 L1440.7,635.7 L1441.7,631.7 L1442.7,627.7 L1443.7,623.6 L1444.7,619.6 L1445.7,615.6 L1446.7,611.6 L1447.7,607.6 L1448.7,603.7 L1449.7,599.7 L1450.7,595.8 L1451.7,592.0 L1452.7,588.2 L1453.7,584.4 L1454.7,580.7 L1455.7,577.0 L1456.7,573.4 L1457.7,569.8 L1458.7,566.3 L1459.7,562.9 L1460.7,559.6 L1461.7,556.3 L1462.7,553.1 L1463.7,550.0 L1464.7,547.0 L1465.7,544.1 L1466.7,541.3 L1467.7,538.6 L1468.7,536.0 L1469.7,533.6 L1470.7,531.2 L1471.7,528.9 L1472.7,526.8 L1473.7,524.8 L1474.7,522.9 L1475.7,521.2 L1476.7,519.5 L1477.7,518.1 L1478.8,516.7 L1479.8,515.5 L1480.8,514.4 L1481.8,513.5 L1482.8,512.7 L1483.8,512.1 L1484.8,511.6 L1485.8,511.3 L1486.8,511.1 L1487.8,511.1 L1488.8,511.2 L1489.8,511.4 L1490.8,511.9 L1491.8,512.4 L1492.8,513.1 L1493.8,514.0 L1494.8,515.1 L1495.8,516.2 L1496.8,517.6 L1497.8,519.1 L1498.8,520.7 L1499.8,522.5 L1500.8,524.5 L1501.8,526.6 L1502.8,528.8 L1503.8,531.2 L1504.8,533.7 L1505.8,536.3 L1506.8,539.1 L1507.8,542.0 L1508.8,545.0 L1509.8,548.2 L1510.8,551.4 L1511.8,554.8 L1512.8,558.3 L1513.8,561.8 L1514.8,565.5 L1515.8,569.3 L1516.8,573.2 L1517.8,577.1 L1518.8,581.1 L1519.8,585.3 L1520.8,589.4 L1521.8,593.7 L1522.8,598.0 L1523.8,602.4 L1524.8,606.8 L1525.8,611.2 L1526.8,615.7 L1527.8,620.3 L1528.8,624.8 L1529.8,629.4 L1530.8,634.1 L1531.8,638.7 L1532.8,643.4 L1533.8,648.0 L1534.8,652.7 L1535.8,657.3 L1536.8,662.0 L1537.8,666.7 L1538.8,671.3 L1539.8,675.9 L1540.8,680.5 L1541.8,685.1 L1542.8,689.6 L1543.8,694.1 L1544.8,698.6 L1545.8,703.0 L1546.8,707.4 L1547.8,711.8 L1548.8,716.1 L1549.8,720.3 L1550.8,724.5 L1551.8,728.6 L1552.8,732.7 L1553.8,736.7 L1554.8,740.7 L1555.8,744.6 L1556.8,748.4 L1557.8,752.1 L1558.8,755.8 L1559.8,759.5 L1560.8,763.0 L1561.8,766.5 L1562.8,769.9 L1563.8,773.2 L1564.9,776.5 L1565.9,779.7 L1566.9,782.8 L1567.9,785.8 L1568.9,788.8 L1569.9,791.6 L1570.9,794.4 L1571.9,797.2 L1572.9,799.8 L1573.9,802.4 L1574.9,804.9 L1575.9,807.4 L1576.9,809.8 L1577.9,812.1 L1578.9,814.3 L1579.9,816.4 L1580.9,818.5 L1581.9,820.6 L1582.9,822.5 L1583.9,824.4 L1584.9,826.2 L1585.9,828.0 L1586.9,829.7 L1587.9,831.4 L1588.9,832.9 L1589.9,834.5 L1590.9,835.9 L1591.9,837.4 L1592.9,838.7 L1593.9,840.0 L1594.9,841.3 L1595.9,842.5 L1596.9,843.7 L1597.9,844.8 L1598.9,845.9 L1599.9,846.9 L1600.9,847.9 L1601.9,848.8 L1602.9,849.7 L1603.9,850.6 L1604.9,851.4 L1605.9,852.2 L1606.9,853.0 L1607.9,853.7 L1608.9,854.4 L1609.9,855.1 L1610.9,855.7 L1611.9,856.3 L1612.9,856.9 L1613.9,857.4 L1614.9,858.0 L1615.9,858.5 L1616.9,858.9 L1617.9,859.4 L1618.9,859.8 L1619.9,860.2 L1620.9,860.6 L1621.9,861.0 L1622.9,861.4 L1623.9,861.7 L1624.9,862.0 L1625.9,862.3 L1626.9,862.6 L1627.9,862.9 L1628.9,863.2 L1629.9,863.4 L1630.9,863.7 L1631.9,863.9 L1632.9,864.1 L1633.9,864.3 L1634.9,864.5 L1635.9,864.7 L1636.9,864.9 L1637.9,865.1 L1638.9,865.2 L1639.9,865.4 L1640.9,865.6 L1641.9,865.7 L1642.9,865.8 L1643.9,866.0 L1644.9,866.1 L1645.9,866.2 L1646.9,866.3 L1647.9,866.4 L1648.9,866.5 L1649.9,866.7 L1651.0,866.7 L1652.0,866.8 L1653.0,866.9 L1654.0,867.0 L1655.0,867.1 L1656.0,867.2 L1657.0,867.3 L1658.0,867.3 L1659.0,867.4 L1660.0,867.5 L1661.0,867.6 L1662.0,867.6 L1663.0,867.7 L1664.0,867.8 L1665.0,867.8 L1666.0,867.9 L1667.0,867.9 L1668.0,868.0 L1669.0,868.1 L1670.0,868.1 L1671.0,868.2 L1672.0,868.2 L1673.0,868.3 L1674.0,868.3 L1675.0,868.4 L1676.0,868.4 L1677.0,868.5 L1678.0,868.5 L1679.0,868.6 L1680.0,868.6 L1681.0,868.7 L1682.0,868.7 L1683.0,868.8 L1684.0,868.8 L1685.0,868.8 L1686.0,868.9 L1687.0,868.9 L1688.0,869.0 L1689.0,869.0 L1690.0,869.1 L1691.0,869.1 L1692.0,869.1 L1693.0,869.2" fill="none" stroke="#ff0000" stroke-width="4.8" stroke-linejoin="round" stroke-linecap="round"/>
<text x="1258.6" y="705.7" font-size="35.0" font-family='"Liberation Serif", "Times New Roman", serif' font-weight="bold" textLength="153.0" lengthAdjust="spacingAndGlyphs">C-F covalent</text>
<line x1="1356.5" y1="718.6" x2="1406.6" y2="772.6" stroke="#000" stroke-width="3.2" stroke-linecap="round"/>
<path d="M1418.8,785.8 L1399.3,776.6 L1411.1,765.7 Z" fill="#000"/>
<text x="1535.0" y="608.8" font-size="35.0" font-family='"Liberation Serif", "Times New Roman", serif' font-weight="bold" textLength="174.0" lengthAdjust="spacingAndGlyphs">C-F semi-ionic</text>
<line x1="1586.4" y1="621.6" x2="1548.4" y2="682.5" stroke="#000" stroke-width="3.2" stroke-linecap="round"/>
<path d="M1538.9,697.8 L1542.7,676.6 L1556.3,685.1 Z" fill="#000"/>
<path d="M426.1,1455.0 L430.1,1455.1 L434.2,1455.3 L438.2,1455.4 L442.2,1455.6 L446.3,1455.7 L450.3,1455.9 L454.3,1456.0 L458.4,1456.2 L462.4,1456.3 L466.4,1456.5 L470.5,1456.6 L474.5,1456.8 L478.5,1456.9 L482.6,1457.0 L486.6,1457.2 L490.7,1457.3 L494.7,1457.5 L498.7,1457.6 L502.8,1457.8 L506.8,1457.9 L510.8,1458.1 L514.9,1458.2 L518.9,1458.4 L522.9,1458.5 L527.0,1458.6 L531.0,1458.8 L535.0,1458.9 L539.1,1459.1 L543.1,1459.2 L547.1,1459.4 L551.2,1459.5 L555.2,1459.7 L559.2,1459.8 L563.3,1460.0 L567.3,1460.1 L571.3,1460.2 L575.4,1460.4 L579.4,1460.5 L583.4,1460.7 L587.5,1460.8 L591.5,1461.0 L595.5,1461.1 L599.6,1461.3 L603.6,1461.4 L607.6,1461.6 L611.7,1461.7 L615.7,1461.9 L619.8,1462.0 L623.8,1462.1 L627.8,1462.3 L631.9,1462.4 L635.9,1462.6 L639.9,1462.7 L644.0,1462.9 L648.0,1463.0 L652.0,1463.2 L656.1,1463.3 L660.1,1463.5 L664.1,1463.6 L668.2,1463.8 L672.2,1463.9 L676.2,1464.0 L680.3,1464.2 L684.3,1464.3 L688.3,1464.5 L692.4,1464.6 L696.4,1464.8 L700.4,1464.9 L704.5,1465.1 L708.5,1465.2 L712.5,1465.4 L716.6,1465.5 L720.6,1465.6 L724.6,1465.8 L728.7,1465.9 L732.7,1466.1 L736.7,1466.2 L740.8,1466.4 L744.8,1466.5 L748.8,1466.7 L752.9,1466.8 L756.9,1467.0 L761.0,1467.1 L765.0,1467.2 L769.0,1467.4 L773.1,1467.5 L777.1,1467.7 L781.1,1467.8 L785.2,1468.0 L789.2,1468.1 L793.2,1468.3 L797.3,1468.4 L801.3,1468.6 L805.3,1468.7 L809.4,1468.9 L813.4,1469.0" fill="none" stroke="#0000ff" stroke-width="4.8" stroke-linejoin="round" stroke-linecap="round"/>
<path d="M426.1,1455.0 L427.1,1455.0 L428.1,1455.1 L429.1,1455.1 L430.1,1455.1 L431.1,1455.2 L432.1,1455.2 L433.1,1455.2 L434.1,1455.3 L435.1,1455.3 L436.1,1455.3 L437.1,1455.4 L438.1,1455.4 L439.1,1455.5 L440.1,1455.5 L441.1,1455.5 L442.1,1455.6 L443.1,1455.6 L444.1,1455.6 L445.1,1455.7 L446.1,1455.7 L447.1,1455.7 L448.1,1455.8 L449.1,1455.8 L450.1,1455.8 L451.1,1455.9 L452.1,1455.9 L453.1,1455.9 L454.1,1455.9 L455.1,1456.0 L456.1,1456.0 L457.1,1456.0 L458.1,1456.1 L459.1,1456.1 L460.1,1456.1 L461.1,1456.2 L462.1,1456.2 L463.1,1456.2 L464.1,1456.2 L465.1,1456.3 L466.1,1456.3 L467.1,1456.3 L468.1,1456.3 L469.1,1456.4 L470.1,1456.4 L471.1,1456.4 L472.1,1456.4 L473.1,1456.5 L474.1,1456.5 L475.1,1456.5 L476.1,1456.5 L477.1,1456.5 L478.1,1456.5 L479.1,1456.6 L480.1,1456.6 L481.1,1456.6 L482.1,1456.6 L483.1,1456.6 L484.1,1456.6 L485.1,1456.6 L486.1,1456.6 L487.1,1456.6 L488.1,1456.6 L489.1,1456.6 L490.1,1456.6 L491.2,1456.6 L492.2,1456.6 L493.2,1456.6 L494.2,1456.6 L495.2,1456.5 L496.2,1456.5 L497.2,1456.5 L498.2,1456.5 L499.2,1456.4 L500.2,1456.4 L501.2,1456.4 L502.2,1456.3 L503.2,1456.3 L504.2,1456.2 L505.2,1456.2 L506.2,1456.1 L507.2,1456.0 L508.2,1456.0 L509.2,1455.9 L510.2,1455.8 L511.2,1455.7 L512.2,1455.7 L513.2,1455.6 L514.2,1455.5 L515.2,1455.4 L516.2,1455.2 L517.2,1455.1 L518.2,1455.0 L519.2,1454.9 L520.2,1454.7 L521.2,1454.6 L522.2,1454.4 L523.2,1454.2 L524.2,1454.1 L525.2,1453.9 L526.2,1453.7 L527.2,1453.5 L528.2,1453.3 L529.2,1453.1 L530.2,1452.9 L531.2,1452.6 L532.2,1452.4 L533.2,1452.1 L534.2,1451.9 L535.2,1451.6 L536.2,1451.3 L537.2,1451.0 L538.2,1450.7 L539.2,1450.4 L540.2,1450.0 L541.2,1449.7 L542.2,1449.3 L543.2,1448.9 L544.2,1448.5 L545.2,1448.1 L546.2,1447.7 L547.2,1447.3 L548.2,1446.9 L549.2,1446.4 L550.2,1445.9 L551.2,1445.5 L552.2,1445.0 L553.2,1444.5 L554.2,1443.9 L555.2,1443.4 L556.2,1442.8 L557.2,1442.3 L558.2,1441.7 L559.2,1441.1 L560.2,1440.5 L561.2,1439.8 L562.2,1439.2 L563.2,1438.5 L564.2,1437.9 L565.2,1437.2 L566.2,1436.5 L567.2,1435.8 L568.2,1435.0 L569.2,1434.3 L570.2,1433.5 L571.2,1432.7 L572.2,1431.9 L573.2,1431.1 L574.2,1430.3 L575.2,1429.5 L576.2,1428.6 L577.2,1427.8 L578.2,1426.9 L579.2,1426.0 L580.2,1425.1 L581.2,1424.2 L582.2,1423.3 L583.2,1422.4 L584.2,1421.5 L585.2,1420.5 L586.2,1419.6 L587.2,1418.6 L588.2,1417.6 L589.2,1416.6 L590.2,1415.7 L591.2,1414.7 L592.2,1413.7 L593.2,1412.7 L594.2,1411.7 L595.2,1410.7 L596.2,1409.6 L597.2,1408.6 L598.2,1407.6 L599.2,1406.6 L600.2,1405.6 L601.2,1404.6 L602.2,1403.6 L603.2,1402.5 L604.2,1401.5 L605.2,1400.5 L606.2,1399.5 L607.2,1398.6 L608.2,1397.6 L609.2,1396.6 L610.2,1395.6 L611.2,1394.7 L612.2,1393.7 L613.2,1392.8 L614.2,1391.9 L615.2,1391.0 L616.2,1390.1 L617.2,1389.2 L618.2,1388.4 L619.2,1387.5 L620.3,1386.7 L621.3,1385.9 L622.3,1385.1 L623.3,1384.3 L624.3,1383.6 L625.3,1382.9 L626.3,1382.2 L627.3,1381.5 L628.3,1380.8 L629.3,1380.2 L630.3,1379.6 L631.3,1379.0 L632.3,1378.5 L633.3,1378.0 L634.3,1377.5 L635.3,1377.0 L636.3,1376.6 L637.3,1376.2 L638.3,1375.8 L639.3,1375.5 L640.3,1375.2 L641.3,1374.9 L642.3,1374.7 L643.3,1374.5 L644.3,1374.3 L645.3,1374.1 L646.3,1374.0 L647.3,1373.9 L648.3,1373.9 L649.3,1373.9 L650.3,1373.9 L651.3,1374.0 L652.3,1374.0 L653.3,1374.2 L654.3,1374.3 L655.3,1374.5 L656.3,1374.7 L657.3,1375.0 L658.3,1375.3 L659.3,1375.6 L660.3,1375.9 L661.3,1376.3 L662.3,1376.7 L663.3,1377.2 L664.3,1377.6 L665.3,1378.1 L666.3,1378.6 L667.3,1379.2 L668.3,1379.8 L669.3,1380.4 L670.3,1381.0 L671.3,1381.7 L672.3,1382.4 L673.3,1383.1 L674.3,1383.8 L675.3,1384.6 L676.3,1385.4 L677.3,1386.2 L678.3,1387.0 L679.3,1387.9 L680.3,1388.7 L681.3,1389.6 L682.3,1390.5 L683.3,1391.5 L684.3,1392.4 L685.3,1393.3 L686.3,1394.3 L687.3,1395.3 L688.3,1396.3 L689.3,1397.3 L690.3,1398.3 L691.3,1399.3 L692.3,1400.4 L693.3,1401.4 L694.3,1402.4 L695.3,1403.5 L696.3,1404.6 L697.3,1405.6 L698.3,1406.7 L699.3,1407.8 L700.3,1408.8 L701.3,1409.9 L702.3,1411.0 L703.3,1412.1 L704.3,1413.2 L705.3,1414.2 L706.3,1415.3 L707.3,1416.4 L708.3,1417.4 L709.3,1418.5 L710.3,1419.6 L711.3,1420.6 L712.3,1421.6 L713.3,1422.7 L714.3,1423.7 L715.3,1424.7 L716.3,1425.8 L717.3,1426.8 L718.3,1427.7 L719.3,1428.7 L720.3,1429.7 L721.3,1430.7 L722.3,1431.6 L723.3,1432.6 L724.3,1433.5 L725.3,1434.4 L726.3,1435.3 L727.3,1436.2 L728.3,1437.1 L729.3,1437.9 L730.3,1438.8 L731.3,1439.6 L732.3,1440.4 L733.3,1441.3 L734.3,1442.1 L735.3,1442.8 L736.3,1443.6 L737.3,1444.3 L738.3,1445.1 L739.3,1445.8 L740.3,1446.5 L741.3,1447.2 L742.3,1447.9 L743.3,1448.5 L744.3,1449.2 L745.3,1449.8 L746.3,1450.4 L747.3,1451.0 L748.3,1451.6 L749.4,1452.2 L750.4,1452.8 L751.4,1453.3 L752.4,1453.8 L753.4,1454.4 L754.4,1454.9 L755.4,1455.4 L756.4,1455.8 L757.4,1456.3 L758.4,1456.8 L759.4,1457.2 L760.4,1457.6 L761.4,1458.0 L762.4,1458.4 L763.4,1458.8 L764.4,1459.2 L765.4,1459.6 L766.4,1459.9 L767.4,1460.3 L768.4,1460.6 L769.4,1461.0 L770.4,1461.3 L771.4,1461.6 L772.4,1461.9 L773.4,1462.2 L774.4,1462.4 L775.4,1462.7 L776.4,1463.0 L777.4,1463.2 L778.4,1463.5 L779.4,1463.7 L780.4,1463.9 L781.4,1464.1 L782.4,1464.4 L783.4,1464.6 L784.4,1464.8 L785.4,1464.9 L786.4,1465.1 L787.4,1465.3 L788.4,1465.5 L789.4,1465.7 L790.4,1465.8 L791.4,1466.0 L792.4,1466.1 L793.4,1466.3 L794.4,1466.4 L795.4,1466.5 L796.4,1466.7 L797.4,1466.8 L798.4,1466.9 L799.4,1467.0 L800.4,1467.2 L801.4,1467.3 L802.4,1467.4 L803.4,1467.5 L804.4,1467.6 L805.4,1467.7 L806.4,1467.8 L807.4,1467.9 L808.4,1467.9 L809.4,1468.0 L810.4,1468.1 L811.4,1468.2 L812.4,1468.3 L813.4,1468.4" fill="none" stroke="#008000" stroke-width="4.2" stroke-linejoin="round" stroke-linecap="round"/>
<path d="M426.1,1455.0 L427.1,1455.0 L428.1,1455.1 L429.1,1455.1 L430.1,1455.1 L431.1,1455.2 L432.1,1455.2 L433.1,1455.3 L434.1,1455.3 L435.1,1455.3 L436.1,1455.4 L437.1,1455.4 L438.1,1455.4 L439.1,1455.5 L440.1,1455.5 L441.1,1455.5 L442.1,1455.6 L443.1,1455.6 L444.1,1455.7 L445.1,1455.7 L446.1,1455.7 L447.1,1455.8 L448.1,1455.8 L449.1,1455.8 L450.1,1455.9 L451.1,1455.9 L452.1,1455.9 L453.1,1456.0 L454.1,1456.0 L455.1,1456.0 L456.1,1456.1 L457.1,1456.1 L458.1,1456.2 L459.1,1456.2 L460.1,1456.2 L461.1,1456.3 L462.1,1456.3 L463.1,1456.3 L464.1,1456.4 L465.1,1456.4 L466.1,1456.4 L467.1,1456.5 L468.1,1456.5 L469.1,1456.6 L470.1,1456.6 L471.1,1456.6 L472.1,1456.7 L473.1,1456.7 L474.1,1456.7 L475.1,1456.8 L476.1,1456.8 L477.1,1456.8 L478.1,1456.9 L479.1,1456.9 L480.1,1457.0 L481.1,1457.0 L482.1,1457.0 L483.1,1457.1 L484.1,1457.1 L485.1,1457.1 L486.1,1457.2 L487.1,1457.2 L488.1,1457.2 L489.1,1457.3 L490.1,1457.3 L491.2,1457.4 L492.2,1457.4 L493.2,1457.4 L494.2,1457.5 L495.2,1457.5 L496.2,1457.5 L497.2,1457.6 L498.2,1457.6 L499.2,1457.6 L500.2,1457.7 L501.2,1457.7 L502.2,1457.7 L503.2,1457.8 L504.2,1457.8 L505.2,1457.9 L506.2,1457.9 L507.2,1457.9 L508.2,1458.0 L509.2,1458.0 L510.2,1458.0 L511.2,1458.1 L512.2,1458.1 L513.2,1458.1 L514.2,1458.2 L515.2,1458.2 L516.2,1458.3 L517.2,1458.3 L518.2,1458.3 L519.2,1458.4 L520.2,1458.4 L521.2,1458.4 L522.2,1458.5 L523.2,1458.5 L524.2,1458.5 L525.2,1458.6 L526.2,1458.6 L527.2,1458.7 L528.2,1458.7 L529.2,1458.7 L530.2,1458.8 L531.2,1458.8 L532.2,1458.8 L533.2,1458.9 L534.2,1458.9 L535.2,1458.9 L536.2,1459.0 L537.2,1459.0 L538.2,1459.1 L539.2,1459.1 L540.2,1459.1 L541.2,1459.2 L542.2,1459.2 L543.2,1459.2 L544.2,1459.3 L545.2,1459.3 L546.2,1459.3 L547.2,1459.4 L548.2,1459.4 L549.2,1459.4 L550.2,1459.5 L551.2,1459.5 L552.2,1459.6 L553.2,1459.6 L554.2,1459.6 L555.2,1459.7 L556.2,1459.7 L557.2,1459.7 L558.2,1459.8 L559.2,1459.8 L560.2,1459.8 L561.2,1459.9 L562.2,1459.9 L563.2,1460.0 L564.2,1460.0 L565.2,1460.0 L566.2,1460.1 L567.2,1460.1 L568.2,1460.1 L569.2,1460.2 L570.2,1460.2 L571.2,1460.2 L572.2,1460.3 L573.2,1460.3 L574.2,1460.4 L575.2,1460.4 L576.2,1460.4 L577.2,1460.5 L578.2,1460.5 L579.2,1460.5 L580.2,1460.6 L581.2,1460.6 L582.2,1460.6 L583.2,1460.7 L584.2,1460.7 L585.2,1460.7 L586.2,1460.8 L587.2,1460.8 L588.2,1460.8 L589.2,1460.9 L590.2,1460.9 L591.2,1460.9 L592.2,1461.0 L593.2,1461.0 L594.2,1461.0 L595.2,1461.0 L596.2,1461.1 L597.2,1461.1 L598.2,1461.1 L599.2,1461.1 L600.2,1461.1 L601.2,1461.1 L602.2,1461.1 L603.2,1461.1 L604.2,1461.1 L605.2,1461.1 L606.2,1461.1 L607.2,1461.1 L608.2,1461.0 L609.2,1461.0 L610.2,1460.9 L611.2,1460.8 L612.2,1460.7 L613.2,1460.6 L614.2,1460.5 L615.2,1460.3 L616.2,1460.2 L617.2,1460.0 L618.2,1459.7 L619.2,1459.5 L620.3,1459.1 L621.3,1458.8 L622.3,1458.4 L623.3,1458.0 L624.3,1457.5 L625.3,1456.9 L626.3,1456.3 L627.3,1455.6 L628.3,1454.9 L629.3,1454.0 L630.3,1453.1 L631.3,1452.1 L632.3,1451.0 L633.3,1449.7 L634.3,1448.4 L635.3,1447.0 L636.3,1445.4 L637.3,1443.6 L638.3,1441.8 L639.3,1439.8 L640.3,1437.6 L641.3,1435.2 L642.3,1432.7 L643.3,1430.0 L644.3,1427.2 L645.3,1424.1 L646.3,1420.8 L647.3,1417.4 L648.3,1413.7 L649.3,1409.8 L650.3,1405.8 L651.3,1401.5 L652.3,1396.9 L653.3,1392.2 L654.3,1387.3 L655.3,1382.2 L656.3,1376.8 L657.3,1371.3 L658.3,1365.6 L659.3,1359.7 L660.3,1353.6 L661.3,1347.4 L662.3,1341.0 L663.3,1334.5 L664.3,1327.9 L665.3,1321.2 L666.3,1314.4 L667.3,1307.5 L668.3,1300.7 L669.3,1293.8 L670.3,1286.9 L671.3,1280.1 L672.3,1273.3 L673.3,1266.6 L674.3,1260.1 L675.3,1253.7 L676.3,1247.5 L677.3,1241.4 L678.3,1235.6 L679.3,1230.1 L680.3,1224.8 L681.3,1219.8 L682.3,1215.2 L683.3,1210.9 L684.3,1207.0 L685.3,1203.5 L686.3,1200.4 L687.3,1197.7 L688.3,1195.4 L689.3,1193.6 L690.3,1192.3 L691.3,1191.4 L692.3,1191.1 L693.3,1191.2 L694.3,1191.7 L695.3,1192.8 L696.3,1194.4 L697.3,1196.4 L698.3,1198.9 L699.3,1201.9 L700.3,1205.3 L701.3,1209.1 L702.3,1213.3 L703.3,1218.0 L704.3,1222.9 L705.3,1228.2 L706.3,1233.8 L707.3,1239.7 L708.3,1245.8 L709.3,1252.2 L710.3,1258.7 L711.3,1265.4 L712.3,1272.3 L713.3,1279.2 L714.3,1286.2 L715.3,1293.3 L716.3,1300.4 L717.3,1307.5 L718.3,1314.6 L719.3,1321.6 L720.3,1328.6 L721.3,1335.4 L722.3,1342.1 L723.3,1348.7 L724.3,1355.2 L725.3,1361.5 L726.3,1367.6 L727.3,1373.5 L728.3,1379.3 L729.3,1384.8 L730.3,1390.1 L731.3,1395.2 L732.3,1400.1 L733.3,1404.8 L734.3,1409.2 L735.3,1413.4 L736.3,1417.4 L737.3,1421.2 L738.3,1424.8 L739.3,1428.2 L740.3,1431.3 L741.3,1434.3 L742.3,1437.1 L743.3,1439.6 L744.3,1442.1 L745.3,1444.3 L746.3,1446.4 L747.3,1448.3 L748.3,1450.1 L749.4,1451.7 L750.4,1453.2 L751.4,1454.6 L752.4,1455.9 L753.4,1457.0 L754.4,1458.1 L755.4,1459.1 L756.4,1460.0 L757.4,1460.8 L758.4,1461.5 L759.4,1462.1 L760.4,1462.7 L761.4,1463.3 L762.4,1463.8 L763.4,1464.2 L764.4,1464.6 L765.4,1465.0 L766.4,1465.3 L767.4,1465.6 L768.4,1465.8 L769.4,1466.1 L770.4,1466.3 L771.4,1466.5 L772.4,1466.6 L773.4,1466.8 L774.4,1466.9 L775.4,1467.1 L776.4,1467.2 L777.4,1467.3 L778.4,1467.4 L779.4,1467.5 L780.4,1467.5 L781.4,1467.6 L782.4,1467.7 L783.4,1467.8 L784.4,1467.8 L785.4,1467.9 L786.4,1467.9 L787.4,1468.0 L788.4,1468.0 L789.4,1468.1 L790.4,1468.1 L791.4,1468.2 L792.4,1468.2 L793.4,1468.2 L794.4,1468.3 L795.4,1468.3 L796.4,1468.4 L797.4,1468.4 L798.4,1468.4 L799.4,1468.5 L800.4,1468.5 L801.4,1468.6 L802.4,1468.6 L803.4,1468.6 L804.4,1468.7 L805.4,1468.7 L806.4,1468.7 L807.4,1468.8 L808.4,1468.8 L809.4,1468.9 L810.4,1468.9 L811.4,1468.9 L812.4,1469.0 L813.4,1469.0" fill="none" stroke="#0000ff" stroke-width="4.2" stroke-linejoin="round" stroke-linecap="round"/>
<path d="M426.1,1452.8 L427.1,1452.7 L428.1,1452.6 L429.1,1452.5 L430.1,1452.4 L431.1,1452.2 L432.1,1452.1 L433.1,1452.0 L434.1,1451.8 L435.1,1451.6 L436.1,1451.5 L437.1,1451.3 L438.1,1451.1 L439.1,1450.9 L440.1,1450.7 L441.1,1450.5 L442.1,1450.2 L443.1,1450.0 L444.1,1449.7 L445.1,1449.5 L446.1,1449.2 L447.1,1448.9 L448.1,1448.6 L449.1,1448.3 L450.1,1448.0 L451.1,1447.7 L452.1,1447.4 L453.1,1447.0 L454.1,1446.7 L455.1,1446.3 L456.1,1445.9 L457.1,1445.6 L458.1,1445.2 L459.1,1444.8 L460.1,1444.4 L461.1,1443.9 L462.1,1443.5 L463.1,1443.1 L464.1,1442.6 L465.1,1442.2 L466.1,1441.7 L467.1,1441.2 L468.1,1440.8 L469.1,1440.3 L470.1,1439.8 L471.1,1439.3 L472.1,1438.8 L473.1,1438.3 L474.1,1437.8 L475.1,1437.3 L476.1,1436.8 L477.1,1436.3 L478.1,1435.8 L479.1,1435.3 L480.1,1434.8 L481.1,1434.3 L482.1,1433.8 L483.1,1433.3 L484.1,1432.8 L485.1,1432.4 L486.1,1431.9 L487.1,1431.4 L488.1,1431.0 L489.1,1430.5 L490.1,1430.1 L491.2,1429.6 L492.2,1429.2 L493.2,1428.8 L494.2,1428.4 L495.2,1428.0 L496.2,1427.7 L497.2,1427.3 L498.2,1427.0 L499.2,1426.7 L500.2,1426.4 L501.2,1426.1 L502.2,1425.9 L503.2,1425.6 L504.2,1425.4 L505.2,1425.2 L506.2,1425.0 L507.2,1424.9 L508.2,1424.7 L509.2,1424.6 L510.2,1424.5 L511.2,1424.5 L512.2,1424.4 L513.2,1424.4 L514.2,1424.4 L515.2,1424.4 L516.2,1424.5 L517.2,1424.5 L518.2,1424.6 L519.2,1424.7 L520.2,1424.8 L521.2,1424.9 L522.2,1425.1 L523.2,1425.2 L524.2,1425.4 L525.2,1425.6 L526.2,1425.8 L527.2,1426.0 L528.2,1426.3 L529.2,1426.5 L530.2,1426.8 L531.2,1427.1 L532.2,1427.4 L533.2,1427.7 L534.2,1428.0 L535.2,1428.3 L536.2,1428.7 L537.2,1429.1 L538.2,1429.4 L539.2,1429.8 L540.2,1430.2 L541.2,1430.6 L542.2,1431.0 L543.2,1431.4 L544.2,1431.8 L545.2,1432.3 L546.2,1432.7 L547.2,1433.2 L548.2,1433.6 L549.2,1434.1 L550.2,1434.5 L551.2,1435.0 L552.2,1435.5 L553.2,1436.0 L554.2,1436.5 L555.2,1436.9 L556.2,1437.4 L557.2,1437.9 L558.2,1438.4 L559.2,1438.9 L560.2,1439.4 L561.2,1439.9 L562.2,1440.4 L563.2,1440.9 L564.2,1441.4 L565.2,1441.8 L566.2,1442.3 L567.2,1442.8 L568.2,1443.3 L569.2,1443.8 L570.2,1444.2 L571.2,1444.7 L572.2,1445.2 L573.2,1445.6 L574.2,1446.1 L575.2,1446.5 L576.2,1447.0 L577.2,1447.4 L578.2,1447.9 L579.2,1448.3 L580.2,1448.7 L581.2,1449.1 L582.2,1449.5 L583.2,1449.9 L584.2,1450.3 L585.2,1450.7 L586.2,1451.1 L587.2,1451.5 L588.2,1451.8 L589.2,1452.2 L590.2,1452.5 L591.2,1452.9 L592.2,1453.2 L593.2,1453.6 L594.2,1453.9 L595.2,1454.2 L596.2,1454.5 L597.2,1454.8 L598.2,1455.1 L599.2,1455.4 L600.2,1455.6 L601.2,1455.9 L602.2,1456.2 L603.2,1456.4 L604.2,1456.7 L605.2,1456.9 L606.2,1457.2 L607.2,1457.4 L608.2,1457.6 L609.2,1457.8 L610.2,1458.0 L611.2,1458.2 L612.2,1458.4 L613.2,1458.6 L614.2,1458.8 L615.2,1459.0 L616.2,1459.2 L617.2,1459.3 L618.2,1459.5 L619.2,1459.7 L620.3,1459.8 L621.3,1460.0 L622.3,1460.1 L623.3,1460.2 L624.3,1460.4 L625.3,1460.5 L626.3,1460.6 L627.3,1460.8 L628.3,1460.9 L629.3,1461.0 L630.3,1461.1 L631.3,1461.2 L632.3,1461.3 L633.3,1461.4 L634.3,1461.5 L635.3,1461.6 L636.3,1461.7 L637.3,1461.8 L638.3,1461.9 L639.3,1462.0 L640.3,1462.0 L641.3,1462.1 L642.3,1462.2 L643.3,1462.3 L644.3,1462.3 L645.3,1462.4 L646.3,1462.5 L647.3,1462.5 L648.3,1462.6 L649.3,1462.7 L650.3,1462.7 L651.3,1462.8 L652.3,1462.9 L653.3,1462.9 L654.3,1463.0 L655.3,1463.0 L656.3,1463.1 L657.3,1463.1 L658.3,1463.2 L659.3,1463.2 L660.3,1463.3 L661.3,1463.3 L662.3,1463.4 L663.3,1463.4 L664.3,1463.5 L665.3,1463.5 L666.3,1463.6 L667.3,1463.6 L668.3,1463.7 L669.3,1463.7 L670.3,1463.7 L671.3,1463.8 L672.3,1463.8 L673.3,1463.9 L674.3,1463.9 L675.3,1463.9 L676.3,1464.0 L677.3,1464.0 L678.3,1464.1 L679.3,1464.1 L680.3,1464.1 L681.3,1464.2 L682.3,1464.2 L683.3,1464.3 L684.3,1464.3 L685.3,1464.3 L686.3,1464.4 L687.3,1464.4 L688.3,1464.5 L689.3,1464.5 L690.3,1464.5 L691.3,1464.6 L692.3,1464.6 L693.3,1464.6 L694.3,1464.7 L695.3,1464.7 L696.3,1464.8 L697.3,1464.8 L698.3,1464.8 L699.3,1464.9 L700.3,1464.9 L701.3,1464.9 L702.3,1465.0 L703.3,1465.0 L704.3,1465.1 L705.3,1465.1 L706.3,1465.1 L707.3,1465.2 L708.3,1465.2 L709.3,1465.2 L710.3,1465.3 L711.3,1465.3 L712.3,1465.3 L713.3,1465.4 L714.3,1465.4 L715.3,1465.5 L716.3,1465.5 L717.3,1465.5 L718.3,1465.6 L719.3,1465.6 L720.3,1465.6 L721.3,1465.7 L722.3,1465.7 L723.3,1465.7 L724.3,1465.8 L725.3,1465.8 L726.3,1465.9 L727.3,1465.9 L728.3,1465.9 L729.3,1466.0 L730.3,1466.0 L731.3,1466.0 L732.3,1466.1 L733.3,1466.1 L734.3,1466.1 L735.3,1466.2 L736.3,1466.2 L737.3,1466.3 L738.3,1466.3 L739.3,1466.3 L740.3,1466.4 L741.3,1466.4 L742.3,1466.4 L743.3,1466.5 L744.3,1466.5 L745.3,1466.5 L746.3,1466.6 L747.3,1466.6 L748.3,1466.6 L749.4,1466.7 L750.4,1466.7 L751.4,1466.8 L752.4,1466.8 L753.4,1466.8 L754.4,1466.9 L755.4,1466.9 L756.4,1466.9 L757.4,1467.0 L758.4,1467.0 L759.4,1467.0 L760.4,1467.1 L761.4,1467.1 L762.4,1467.2 L763.4,1467.2 L764.4,1467.2 L765.4,1467.3 L766.4,1467.3 L767.4,1467.3 L768.4,1467.4 L769.4,1467.4 L770.4,1467.4 L771.4,1467.5 L772.4,1467.5 L773.4,1467.6 L774.4,1467.6 L775.4,1467.6 L776.4,1467.7 L777.4,1467.7 L778.4,1467.7 L779.4,1467.8 L780.4,1467.8 L781.4,1467.8 L782.4,1467.9 L783.4,1467.9 L784.4,1468.0 L785.4,1468.0 L786.4,1468.0 L787.4,1468.1 L788.4,1468.1 L789.4,1468.1 L790.4,1468.2 L791.4,1468.2 L792.4,1468.2 L793.4,1468.3 L794.4,1468.3 L795.4,1468.3 L796.4,1468.4 L797.4,1468.4 L798.4,1468.5 L799.4,1468.5 L800.4,1468.5 L801.4,1468.6 L802.4,1468.6 L803.4,1468.6 L804.4,1468.7 L805.4,1468.7 L806.4,1468.7 L807.4,1468.8 L808.4,1468.8 L809.4,1468.9 L810.4,1468.9 L811.4,1468.9 L812.4,1469.0 L813.4,1469.0" fill="none" stroke="#ff00ff" stroke-width="4.2" stroke-linejoin="round" stroke-linecap="round"/>
<path d="M345.5,1452.2 L348.1,1454.6 L350.7,1455.5 L353.3,1454.0 L355.9,1451.9 L358.6,1450.8 L361.2,1450.3 L363.8,1451.1 L366.4,1451.5 L369.0,1453.2 L371.6,1455.3 L374.2,1454.9 L376.8,1454.1 L379.4,1452.0 L382.1,1450.2 L384.7,1450.0 L387.3,1452.6 L389.9,1453.0 L392.5,1454.2 L395.1,1454.4 L397.7,1454.1 L400.3,1452.3 L402.9,1450.5 L405.5,1450.0 L408.2,1450.8 L410.8,1452.7 L413.4,1454.6 L416.0,1455.1 L418.6,1453.7 L421.2,1453.4 L423.8,1450.5 L426.4,1452.5 L429.0,1450.1 L431.7,1452.2 L434.3,1450.5 L436.9,1451.7 L439.5,1456.1 L442.1,1450.1 L444.7,1450.9 L447.3,1446.7 L449.9,1447.6 L452.5,1448.2 L455.2,1446.1 L457.8,1445.8 L460.4,1444.3 L463.0,1441.4 L465.6,1442.7 L468.2,1439.3 L470.8,1442.3 L473.4,1437.1 L476.0,1437.7 L478.7,1435.2 L481.3,1435.4 L483.9,1431.5 L486.5,1432.8 L489.1,1429.7 L491.7,1430.6 L494.3,1428.4 L496.9,1426.6 L499.5,1424.1 L502.1,1425.7 L504.8,1424.4 L507.4,1425.6 L510.0,1421.7 L512.6,1422.8 L515.2,1422.4 L517.8,1421.8 L520.4,1421.5 L523.0,1421.3 L525.6,1420.0 L528.3,1419.3 L530.9,1420.3 L533.5,1421.9 L536.1,1423.4 L538.7,1422.6 L541.3,1422.8 L543.9,1422.4 L546.5,1422.2 L549.1,1421.3 L551.8,1422.2 L554.4,1423.6 L557.0,1420.0 L559.6,1419.0 L562.2,1422.8 L564.8,1419.5 L567.4,1420.0 L570.0,1419.0 L572.6,1414.9 L575.3,1419.5 L577.9,1417.3 L580.5,1413.4 L583.1,1412.9 L585.7,1410.4 L588.3,1407.1 L590.9,1406.6 L593.5,1405.5 L596.1,1404.8 L598.8,1402.1 L601.4,1399.0 L604.0,1398.9 L606.6,1393.3 L609.2,1393.5 L611.8,1391.6 L614.4,1387.0 L617.0,1382.1 L619.6,1380.8 L622.2,1379.8 L624.9,1377.2 L627.5,1375.5 L630.1,1367.7 L632.7,1365.2 L635.3,1361.4 L637.9,1354.7 L640.5,1344.9 L643.1,1342.8 L645.7,1336.9 L648.4,1325.4 L651.0,1311.8 L653.6,1300.8 L656.2,1288.8 L658.8,1278.3 L661.4,1260.2 L664.0,1243.6 L666.6,1229.5 L669.2,1210.5 L671.9,1197.4 L674.5,1177.8 L677.1,1163.9 L679.7,1153.1 L682.3,1143.7 L684.9,1134.4 L687.5,1128.7 L690.1,1123.2 L692.7,1126.1 L695.4,1130.7 L698.0,1138.6 L700.6,1151.4 L703.2,1163.7 L705.8,1181.7 L708.4,1198.8 L711.0,1217.8 L713.6,1239.1 L716.2,1260.7 L718.8,1282.3 L721.5,1300.6 L724.1,1320.6 L726.7,1337.3 L729.3,1359.1 L731.9,1374.4 L734.5,1385.7 L737.1,1397.6 L739.7,1407.2 L742.3,1418.8 L745.0,1426.8 L747.6,1436.7 L750.2,1439.3 L752.8,1442.4 L755.4,1443.7 L758.0,1453.1 L760.6,1453.8 L763.2,1453.2 L765.8,1457.9 L768.5,1456.6 L771.1,1466.0 L773.7,1463.3 L776.3,1463.4 L778.9,1463.0 L781.5,1460.5 L784.1,1464.4 L786.7,1462.6 L789.3,1466.5 L792.0,1462.6 L794.6,1465.0 L797.2,1468.7 L799.8,1469.7 L802.4,1465.5 L805.0,1465.2 L807.6,1469.3 L810.2,1469.5 L812.8,1466.7 L815.4,1470.6 L818.1,1470.5 L820.7,1468.3 L823.3,1467.4 L825.9,1469.5 L828.5,1471.7 L831.1,1473.2 L833.7,1470.6 L836.3,1468.8 L838.9,1468.7 L841.6,1471.4 L844.2,1472.5 L846.8,1471.5 L849.4,1470.7 L852.0,1470.5" fill="none" stroke="#000" stroke-width="3.6" stroke-linejoin="round" stroke-linecap="round"/>
<path d="M426.1,1452.8 L427.1,1452.7 L428.1,1452.6 L429.1,1452.5 L430.1,1452.4 L431.1,1452.2 L432.1,1452.1 L433.1,1451.9 L434.1,1451.8 L435.1,1451.6 L436.1,1451.5 L437.1,1451.3 L438.1,1451.1 L439.1,1450.9 L440.1,1450.7 L441.1,1450.4 L442.1,1450.2 L443.1,1450.0 L444.1,1449.7 L445.1,1449.5 L446.1,1449.2 L447.1,1448.9 L448.1,1448.6 L449.1,1448.3 L450.1,1448.0 L451.1,1447.7 L452.1,1447.3 L453.1,1447.0 L454.1,1446.6 L455.1,1446.3 L456.1,1445.9 L457.1,1445.5 L458.1,1445.1 L459.1,1444.7 L460.1,1444.3 L461.1,1443.8 L462.1,1443.4 L463.1,1443.0 L464.1,1442.5 L465.1,1442.0 L466.1,1441.6 L467.1,1441.1 L468.1,1440.6 L469.1,1440.1 L470.1,1439.6 L471.1,1439.1 L472.1,1438.6 L473.1,1438.1 L474.1,1437.6 L475.1,1437.1 L476.1,1436.5 L477.1,1436.0 L478.1,1435.5 L479.1,1435.0 L480.1,1434.4 L481.1,1433.9 L482.1,1433.4 L483.1,1432.9 L484.1,1432.3 L485.1,1431.8 L486.1,1431.3 L487.1,1430.8 L488.1,1430.3 L489.1,1429.8 L490.1,1429.4 L491.2,1428.9 L492.2,1428.4 L493.2,1428.0 L494.2,1427.5 L495.2,1427.1 L496.2,1426.7 L497.2,1426.3 L498.2,1425.9 L499.2,1425.5 L500.2,1425.1 L501.2,1424.8 L502.2,1424.4 L503.2,1424.1 L504.2,1423.8 L505.2,1423.5 L506.2,1423.2 L507.2,1423.0 L508.2,1422.7 L509.2,1422.5 L510.2,1422.3 L511.2,1422.1 L512.2,1422.0 L513.2,1421.8 L514.2,1421.7 L515.2,1421.6 L516.2,1421.4 L517.2,1421.4 L518.2,1421.3 L519.2,1421.2 L520.2,1421.1 L521.2,1421.1 L522.2,1421.0 L523.2,1421.0 L524.2,1421.0 L525.2,1420.9 L526.2,1420.9 L527.2,1420.9 L528.2,1420.9 L529.2,1420.9 L530.2,1420.9 L531.2,1420.9 L532.2,1420.9 L533.2,1420.9 L534.2,1421.0 L535.2,1421.0 L536.2,1421.0 L537.2,1421.0 L538.2,1421.0 L539.2,1421.1 L540.2,1421.1 L541.2,1421.1 L542.2,1421.1 L543.2,1421.1 L544.2,1421.1 L545.2,1421.1 L546.2,1421.1 L547.2,1421.1 L548.2,1421.1 L549.2,1421.0 L550.2,1421.0 L551.2,1421.0 L552.2,1420.9 L553.2,1420.8 L554.2,1420.8 L555.2,1420.7 L556.2,1420.6 L557.2,1420.5 L558.2,1420.3 L559.2,1420.2 L560.2,1420.0 L561.2,1419.8 L562.2,1419.7 L563.2,1419.5 L564.2,1419.2 L565.2,1419.0 L566.2,1418.7 L567.2,1418.5 L568.2,1418.2 L569.2,1417.9 L570.2,1417.5 L571.2,1417.2 L572.2,1416.8 L573.2,1416.5 L574.2,1416.1 L575.2,1415.6 L576.2,1415.2 L577.2,1414.7 L578.2,1414.3 L579.2,1413.8 L580.2,1413.3 L581.2,1412.7 L582.2,1412.2 L583.2,1411.6 L584.2,1411.1 L585.2,1410.5 L586.2,1409.8 L587.2,1409.2 L588.2,1408.6 L589.2,1407.9 L590.2,1407.2 L591.2,1406.5 L592.2,1405.8 L593.2,1405.1 L594.2,1404.4 L595.2,1403.7 L596.2,1402.9 L597.2,1402.1 L598.2,1401.4 L599.2,1400.6 L600.2,1399.8 L601.2,1399.0 L602.2,1398.1 L603.2,1397.3 L604.2,1396.5 L605.2,1395.6 L606.2,1394.8 L607.2,1393.9 L608.2,1393.0 L609.2,1392.2 L610.2,1391.3 L611.2,1390.4 L612.2,1389.5 L613.2,1388.5 L614.2,1387.6 L615.2,1386.6 L616.2,1385.7 L617.2,1384.7 L618.2,1383.7 L619.2,1382.7 L620.3,1381.6 L621.3,1380.5 L622.3,1379.4 L623.3,1378.3 L624.3,1377.1 L625.3,1375.9 L626.3,1374.6 L627.3,1373.3 L628.3,1372.0 L629.3,1370.6 L630.3,1369.1 L631.3,1367.5 L632.3,1365.9 L633.3,1364.2 L634.3,1362.4 L635.3,1360.5 L636.3,1358.5 L637.3,1356.4 L638.3,1354.1 L639.3,1351.8 L640.3,1349.3 L641.3,1346.7 L642.3,1344.0 L643.3,1341.1 L644.3,1338.0 L645.3,1334.8 L646.3,1331.4 L647.3,1327.9 L648.3,1324.2 L649.3,1320.3 L650.3,1316.2 L651.3,1311.9 L652.3,1307.5 L653.3,1302.9 L654.3,1298.1 L655.3,1293.1 L656.3,1288.0 L657.3,1282.7 L658.3,1277.2 L659.3,1271.6 L660.3,1265.9 L661.3,1260.0 L662.3,1254.0 L663.3,1247.9 L664.3,1241.7 L665.3,1235.5 L666.3,1229.2 L667.3,1222.9 L668.3,1216.6 L669.3,1210.3 L670.3,1204.0 L671.3,1197.8 L672.3,1191.7 L673.3,1185.7 L674.3,1179.9 L675.3,1174.2 L676.3,1168.7 L677.3,1163.5 L678.3,1158.5 L679.3,1153.7 L680.3,1149.3 L681.3,1145.2 L682.3,1141.4 L683.3,1138.0 L684.3,1135.0 L685.3,1132.4 L686.3,1130.2 L687.3,1128.5 L688.3,1127.2 L689.3,1126.4 L690.3,1126.0 L691.3,1126.2 L692.3,1126.8 L693.3,1127.9 L694.3,1129.5 L695.3,1131.6 L696.3,1134.2 L697.3,1137.2 L698.3,1140.8 L699.3,1144.8 L700.3,1149.2 L701.3,1154.1 L702.3,1159.4 L703.3,1165.0 L704.3,1171.0 L705.3,1177.3 L706.3,1184.0 L707.3,1190.9 L708.3,1198.1 L709.3,1205.4 L710.3,1213.0 L711.3,1220.7 L712.3,1228.6 L713.3,1236.5 L714.3,1244.5 L715.3,1252.6 L716.3,1260.7 L717.3,1268.7 L718.3,1276.8 L719.3,1284.7 L720.3,1292.6 L721.3,1300.4 L722.3,1308.1 L723.3,1315.6 L724.3,1322.9 L725.3,1330.1 L726.3,1337.1 L727.3,1343.8 L728.3,1350.4 L729.3,1356.8 L730.3,1362.9 L731.3,1368.8 L732.3,1374.5 L733.3,1379.9 L734.3,1385.1 L735.3,1390.1 L736.3,1394.8 L737.3,1399.3 L738.3,1403.6 L739.3,1407.6 L740.3,1411.5 L741.3,1415.1 L742.3,1418.5 L743.3,1421.7 L744.3,1424.7 L745.3,1427.6 L746.3,1430.2 L747.3,1432.7 L748.3,1435.1 L749.4,1437.2 L750.4,1439.3 L751.4,1441.2 L752.4,1442.9 L753.4,1444.6 L754.4,1446.1 L755.4,1447.5 L756.4,1448.9 L757.4,1450.1 L758.4,1451.2 L759.4,1452.3 L760.4,1453.3 L761.4,1454.2 L762.4,1455.1 L763.4,1455.9 L764.4,1456.6 L765.4,1457.3 L766.4,1457.9 L767.4,1458.5 L768.4,1459.1 L769.4,1459.6 L770.4,1460.1 L771.4,1460.6 L772.4,1461.0 L773.4,1461.4 L774.4,1461.8 L775.4,1462.1 L776.4,1462.5 L777.4,1462.8 L778.4,1463.1 L779.4,1463.4 L780.4,1463.7 L781.4,1463.9 L782.4,1464.2 L783.4,1464.4 L784.4,1464.6 L785.4,1464.8 L786.4,1465.0 L787.4,1465.2 L788.4,1465.4 L789.4,1465.6 L790.4,1465.8 L791.4,1465.9 L792.4,1466.1 L793.4,1466.2 L794.4,1466.4 L795.4,1466.5 L796.4,1466.7 L797.4,1466.8 L798.4,1466.9 L799.4,1467.0 L800.4,1467.1 L801.4,1467.3 L802.4,1467.4 L803.4,1467.5 L804.4,1467.6 L805.4,1467.7 L806.4,1467.8 L807.4,1467.9 L808.4,1467.9 L809.4,1468.0 L810.4,1468.1 L811.4,1468.2 L812.4,1468.3 L813.4,1468.4" fill="none" stroke="#ff0000" stroke-width="4.8" stroke-linejoin="round" stroke-linecap="round"/>
<text x="458.7" y="1351.2" font-size="34.0" font-family='"Liberation Serif", "Times New Roman", serif' font-weight="bold" textLength="47.0" lengthAdjust="spacingAndGlyphs">C-F</text>
<line x1="480.5" y1="1360.1" x2="502.5" y2="1406.2" stroke="#000" stroke-width="3.2" stroke-linecap="round"/>
<path d="M510.2,1422.4 L494.4,1407.8 L508.8,1400.9 Z" fill="#000"/>
<text x="558.3" y="1323.5" font-size="34.0" font-family='"Liberation Serif", "Times New Roman", serif' font-weight="bold" textLength="50.5" lengthAdjust="spacingAndGlyphs">C-C</text>
<line x1="582.6" y1="1332.2" x2="606.0" y2="1369.1" stroke="#000" stroke-width="3.2" stroke-linecap="round"/>
<path d="M615.7,1384.3 L598.2,1371.7 L611.7,1363.1 Z" fill="#000"/>
<text x="741.2" y="1189.0" font-size="35.0" font-family='"Liberation Serif", "Times New Roman", serif' font-weight="bold" textLength="57.0" lengthAdjust="spacingAndGlyphs">C=C</text>
<line x1="762.0" y1="1194.9" x2="726.9" y2="1260.1" stroke="#000" stroke-width="3.2" stroke-linecap="round"/>
<path d="M718.4,1276.0 L720.8,1254.6 L734.9,1262.2 Z" fill="#000"/>
<path d="M376.6,1847.5 L380.6,1847.5 L384.6,1847.6 L388.6,1847.6 L392.6,1847.6 L396.6,1847.7 L400.6,1847.7 L404.7,1847.7 L408.7,1847.8 L412.7,1847.8 L416.7,1847.8 L420.7,1847.9 L424.7,1847.9 L428.7,1847.9 L432.7,1847.9 L436.7,1848.0 L440.7,1848.0 L444.7,1848.0 L448.7,1848.1 L452.7,1848.1 L456.7,1848.1 L460.8,1848.2 L464.8,1848.2 L468.8,1848.2 L472.8,1848.3 L476.8,1848.3 L480.8,1848.3 L484.8,1848.4 L488.8,1848.4 L492.8,1848.4 L496.8,1848.5 L500.8,1848.5 L504.8,1848.5 L508.8,1848.6 L512.8,1848.6 L516.9,1848.6 L520.9,1848.7 L524.9,1848.7 L528.9,1848.7 L532.9,1848.8 L536.9,1848.8 L540.9,1848.8 L544.9,1848.8 L548.9,1848.9 L552.9,1848.9 L556.9,1848.9 L560.9,1849.0 L564.9,1849.0 L569.0,1849.0 L573.0,1849.1 L577.0,1849.1 L581.0,1849.1 L585.0,1849.2 L589.0,1849.2 L593.0,1849.2 L597.0,1849.3 L601.0,1849.3 L605.0,1849.3 L609.0,1849.4 L613.0,1849.4 L617.0,1849.4 L621.0,1849.5 L625.1,1849.5 L629.1,1849.5 L633.1,1849.6 L637.1,1849.6 L641.1,1849.6 L645.1,1849.7 L649.1,1849.7 L653.1,1849.7 L657.1,1849.7 L661.1,1849.8 L665.1,1849.8 L669.1,1849.8 L673.1,1849.9 L677.2,1849.9 L681.2,1849.9 L685.2,1850.0 L689.2,1850.0 L693.2,1850.0 L697.2,1850.1 L701.2,1850.1 L705.2,1850.1 L709.2,1850.2 L713.2,1850.2 L717.2,1850.2 L721.2,1850.3 L725.2,1850.3 L729.2,1850.3 L733.3,1850.4 L737.3,1850.4 L741.3,1850.4 L745.3,1850.5 L749.3,1850.5 L753.3,1850.5 L757.3,1850.6 L761.3,1850.6 L765.3,1850.6 L769.3,1850.6 L773.3,1850.7 L777.3,1850.7 L781.3,1850.7 L785.3,1850.8 L789.4,1850.8 L793.4,1850.8 L797.4,1850.9 L801.4,1850.9 L805.4,1850.9 L809.4,1851.0 L813.4,1851.0" fill="none" stroke="#008000" stroke-width="4.8" stroke-linejoin="round" stroke-linecap="round"/>
<path d="M376.6,1847.5 L377.6,1847.5 L378.6,1847.5 L379.6,1847.5 L380.6,1847.5 L381.6,1847.5 L382.6,1847.5 L383.6,1847.6 L384.6,1847.6 L385.6,1847.6 L386.6,1847.6 L387.6,1847.6 L388.6,1847.6 L389.6,1847.6 L390.6,1847.6 L391.6,1847.6 L392.6,1847.6 L393.6,1847.6 L394.6,1847.6 L395.6,1847.7 L396.6,1847.7 L397.6,1847.7 L398.6,1847.7 L399.6,1847.7 L400.6,1847.7 L401.6,1847.7 L402.6,1847.7 L403.6,1847.7 L404.7,1847.7 L405.7,1847.7 L406.7,1847.7 L407.7,1847.7 L408.7,1847.8 L409.7,1847.8 L410.7,1847.8 L411.7,1847.8 L412.7,1847.8 L413.7,1847.8 L414.7,1847.8 L415.7,1847.8 L416.7,1847.8 L417.7,1847.8 L418.7,1847.8 L419.7,1847.8 L420.7,1847.9 L421.7,1847.9 L422.7,1847.9 L423.7,1847.9 L424.7,1847.9 L425.7,1847.9 L426.7,1847.9 L427.7,1847.9 L428.7,1847.9 L429.7,1847.9 L430.7,1847.9 L431.7,1847.9 L432.7,1847.9 L433.7,1848.0 L434.7,1848.0 L435.7,1848.0 L436.7,1848.0 L437.7,1848.0 L438.7,1848.0 L439.7,1848.0 L440.7,1848.0 L441.7,1848.0 L442.7,1848.0 L443.7,1848.0 L444.7,1848.0 L445.7,1848.1 L446.7,1848.1 L447.7,1848.1 L448.7,1848.1 L449.7,1848.1 L450.7,1848.1 L451.7,1848.1 L452.7,1848.1 L453.7,1848.1 L454.7,1848.1 L455.7,1848.1 L456.7,1848.1 L457.7,1848.1 L458.8,1848.2 L459.8,1848.2 L460.8,1848.2 L461.8,1848.2 L462.8,1848.2 L463.8,1848.2 L464.8,1848.2 L465.8,1848.2 L466.8,1848.2 L467.8,1848.2 L468.8,1848.2 L469.8,1848.2 L470.8,1848.3 L471.8,1848.3 L472.8,1848.3 L473.8,1848.3 L474.8,1848.3 L475.8,1848.3 L476.8,1848.3 L477.8,1848.3 L478.8,1848.3 L479.8,1848.3 L480.8,1848.3 L481.8,1848.3 L482.8,1848.3 L483.8,1848.3 L484.8,1848.3 L485.8,1848.4 L486.8,1848.4 L487.8,1848.4 L488.8,1848.4 L489.8,1848.4 L490.8,1848.4 L491.8,1848.4 L492.8,1848.4 L493.8,1848.4 L494.8,1848.4 L495.8,1848.4 L496.8,1848.4 L497.8,1848.4 L498.8,1848.4 L499.8,1848.4 L500.8,1848.4 L501.8,1848.4 L502.8,1848.3 L503.8,1848.3 L504.8,1848.3 L505.8,1848.3 L506.8,1848.3 L507.8,1848.3 L508.8,1848.3 L509.8,1848.2 L510.8,1848.2 L511.8,1848.2 L512.8,1848.1 L513.9,1848.1 L514.9,1848.1 L515.9,1848.0 L516.9,1848.0 L517.9,1847.9 L518.9,1847.8 L519.9,1847.8 L520.9,1847.7 L521.9,1847.6 L522.9,1847.5 L523.9,1847.4 L524.9,1847.3 L525.9,1847.2 L526.9,1847.1 L527.9,1847.0 L528.9,1846.8 L529.9,1846.6 L530.9,1846.5 L531.9,1846.3 L532.9,1846.1 L533.9,1845.9 L534.9,1845.7 L535.9,1845.4 L536.9,1845.2 L537.9,1844.9 L538.9,1844.6 L539.9,1844.3 L540.9,1844.0 L541.9,1843.6 L542.9,1843.3 L543.9,1842.9 L544.9,1842.4 L545.9,1842.0 L546.9,1841.5 L547.9,1841.0 L548.9,1840.5 L549.9,1840.0 L550.9,1839.4 L551.9,1838.8 L552.9,1838.1 L553.9,1837.5 L554.9,1836.8 L555.9,1836.1 L556.9,1835.3 L557.9,1834.5 L558.9,1833.7 L559.9,1832.8 L560.9,1831.9 L561.9,1831.0 L562.9,1830.0 L563.9,1829.0 L564.9,1828.0 L565.9,1826.9 L566.9,1825.8 L568.0,1824.6 L569.0,1823.5 L570.0,1822.3 L571.0,1821.0 L572.0,1819.8 L573.0,1818.4 L574.0,1817.1 L575.0,1815.7 L576.0,1814.4 L577.0,1812.9 L578.0,1811.5 L579.0,1810.0 L580.0,1808.5 L581.0,1807.0 L582.0,1805.5 L583.0,1804.0 L584.0,1802.4 L585.0,1800.9 L586.0,1799.3 L587.0,1797.7 L588.0,1796.1 L589.0,1794.6 L590.0,1793.0 L591.0,1791.4 L592.0,1789.9 L593.0,1788.3 L594.0,1786.8 L595.0,1785.3 L596.0,1783.8 L597.0,1782.3 L598.0,1780.9 L599.0,1779.4 L600.0,1778.1 L601.0,1776.7 L602.0,1775.4 L603.0,1774.2 L604.0,1773.0 L605.0,1771.8 L606.0,1770.7 L607.0,1769.6 L608.0,1768.7 L609.0,1767.7 L610.0,1766.9 L611.0,1766.0 L612.0,1765.3 L613.0,1764.6 L614.0,1764.0 L615.0,1763.5 L616.0,1763.1 L617.0,1762.7 L618.0,1762.4 L619.0,1762.2 L620.0,1762.0 L621.0,1762.0 L622.0,1762.0 L623.1,1762.1 L624.1,1762.2 L625.1,1762.5 L626.1,1762.8 L627.1,1763.2 L628.1,1763.7 L629.1,1764.2 L630.1,1764.8 L631.1,1765.5 L632.1,1766.3 L633.1,1767.1 L634.1,1768.0 L635.1,1769.0 L636.1,1770.0 L637.1,1771.1 L638.1,1772.2 L639.1,1773.4 L640.1,1774.6 L641.1,1775.9 L642.1,1777.2 L643.1,1778.5 L644.1,1779.9 L645.1,1781.4 L646.1,1782.8 L647.1,1784.3 L648.1,1785.8 L649.1,1787.4 L650.1,1788.9 L651.1,1790.5 L652.1,1792.1 L653.1,1793.6 L654.1,1795.2 L655.1,1796.8 L656.1,1798.4 L657.1,1800.0 L658.1,1801.6 L659.1,1803.2 L660.1,1804.7 L661.1,1806.3 L662.1,1807.8 L663.1,1809.4 L664.1,1810.9 L665.1,1812.3 L666.1,1813.8 L667.1,1815.2 L668.1,1816.6 L669.1,1818.0 L670.1,1819.4 L671.1,1820.7 L672.1,1822.0 L673.1,1823.2 L674.1,1824.4 L675.1,1825.6 L676.1,1826.8 L677.2,1827.9 L678.2,1829.0 L679.2,1830.0 L680.2,1831.0 L681.2,1832.0 L682.2,1833.0 L683.2,1833.9 L684.2,1834.8 L685.2,1835.6 L686.2,1836.4 L687.2,1837.2 L688.2,1837.9 L689.2,1838.6 L690.2,1839.3 L691.2,1840.0 L692.2,1840.6 L693.2,1841.2 L694.2,1841.7 L695.2,1842.3 L696.2,1842.8 L697.2,1843.3 L698.2,1843.7 L699.2,1844.1 L700.2,1844.5 L701.2,1844.9 L702.2,1845.3 L703.2,1845.6 L704.2,1846.0 L705.2,1846.3 L706.2,1846.6 L707.2,1846.8 L708.2,1847.1 L709.2,1847.3 L710.2,1847.5 L711.2,1847.8 L712.2,1848.0 L713.2,1848.1 L714.2,1848.3 L715.2,1848.5 L716.2,1848.6 L717.2,1848.8 L718.2,1848.9 L719.2,1849.0 L720.2,1849.1 L721.2,1849.2 L722.2,1849.3 L723.2,1849.4 L724.2,1849.5 L725.2,1849.6 L726.2,1849.6 L727.2,1849.7 L728.2,1849.8 L729.2,1849.8 L730.2,1849.9 L731.2,1849.9 L732.3,1850.0 L733.3,1850.0 L734.3,1850.1 L735.3,1850.1 L736.3,1850.1 L737.3,1850.2 L738.3,1850.2 L739.3,1850.2 L740.3,1850.3 L741.3,1850.3 L742.3,1850.3 L743.3,1850.3 L744.3,1850.3 L745.3,1850.4 L746.3,1850.4 L747.3,1850.4 L748.3,1850.4 L749.3,1850.4 L750.3,1850.4 L751.3,1850.5 L752.3,1850.5 L753.3,1850.5 L754.3,1850.5 L755.3,1850.5 L756.3,1850.5 L757.3,1850.5 L758.3,1850.5 L759.3,1850.5 L760.3,1850.6 L761.3,1850.6 L762.3,1850.6 L763.3,1850.6 L764.3,1850.6 L765.3,1850.6 L766.3,1850.6 L767.3,1850.6 L768.3,1850.6 L769.3,1850.6 L770.3,1850.7 L771.3,1850.7 L772.3,1850.7 L773.3,1850.7 L774.3,1850.7 L775.3,1850.7 L776.3,1850.7 L777.3,1850.7 L778.3,1850.7 L779.3,1850.7 L780.3,1850.7 L781.3,1850.7 L782.3,1850.8 L783.3,1850.8 L784.3,1850.8 L785.3,1850.8 L786.4,1850.8 L787.4,1850.8 L788.4,1850.8 L789.4,1850.8 L790.4,1850.8 L791.4,1850.8 L792.4,1850.8 L793.4,1850.8 L794.4,1850.8 L795.4,1850.9 L796.4,1850.9 L797.4,1850.9 L798.4,1850.9 L799.4,1850.9 L800.4,1850.9 L801.4,1850.9 L802.4,1850.9 L803.4,1850.9 L804.4,1850.9 L805.4,1850.9 L806.4,1850.9 L807.4,1851.0 L808.4,1851.0 L809.4,1851.0 L810.4,1851.0 L811.4,1851.0 L812.4,1851.0 L813.4,1851.0" fill="none" stroke="#008000" stroke-width="4.2" stroke-linejoin="round" stroke-linecap="round"/>
<path d="M376.6,1847.5 L377.6,1847.5 L378.6,1847.5 L379.6,1847.5 L380.6,1847.5 L381.6,1847.5 L382.6,1847.5 L383.6,1847.6 L384.6,1847.6 L385.6,1847.6 L386.6,1847.6 L387.6,1847.6 L388.6,1847.6 L389.6,1847.6 L390.6,1847.6 L391.6,1847.6 L392.6,1847.6 L393.6,1847.6 L394.6,1847.6 L395.6,1847.7 L396.6,1847.7 L397.6,1847.7 L398.6,1847.7 L399.6,1847.7 L400.6,1847.7 L401.6,1847.7 L402.6,1847.7 L403.6,1847.7 L404.7,1847.7 L405.7,1847.7 L406.7,1847.7 L407.7,1847.7 L408.7,1847.8 L409.7,1847.8 L410.7,1847.8 L411.7,1847.8 L412.7,1847.8 L413.7,1847.8 L414.7,1847.8 L415.7,1847.8 L416.7,1847.8 L417.7,1847.8 L418.7,1847.8 L419.7,1847.8 L420.7,1847.9 L421.7,1847.9 L422.7,1847.9 L423.7,1847.9 L424.7,1847.9 L425.7,1847.9 L426.7,1847.9 L427.7,1847.9 L428.7,1847.9 L429.7,1847.9 L430.7,1847.9 L431.7,1847.9 L432.7,1847.9 L433.7,1848.0 L434.7,1848.0 L435.7,1848.0 L436.7,1848.0 L437.7,1848.0 L438.7,1848.0 L439.7,1848.0 L440.7,1848.0 L441.7,1848.0 L442.7,1848.0 L443.7,1848.0 L444.7,1848.0 L445.7,1848.1 L446.7,1848.1 L447.7,1848.1 L448.7,1848.1 L449.7,1848.1 L450.7,1848.1 L451.7,1848.1 L452.7,1848.1 L453.7,1848.1 L454.7,1848.1 L455.7,1848.1 L456.7,1848.1 L457.7,1848.2 L458.8,1848.2 L459.8,1848.2 L460.8,1848.2 L461.8,1848.2 L462.8,1848.2 L463.8,1848.2 L464.8,1848.2 L465.8,1848.2 L466.8,1848.2 L467.8,1848.2 L468.8,1848.2 L469.8,1848.2 L470.8,1848.3 L471.8,1848.3 L472.8,1848.3 L473.8,1848.3 L474.8,1848.3 L475.8,1848.3 L476.8,1848.3 L477.8,1848.3 L478.8,1848.3 L479.8,1848.3 L480.8,1848.3 L481.8,1848.3 L482.8,1848.4 L483.8,1848.4 L484.8,1848.4 L485.8,1848.4 L486.8,1848.4 L487.8,1848.4 L488.8,1848.4 L489.8,1848.4 L490.8,1848.4 L491.8,1848.4 L492.8,1848.4 L493.8,1848.4 L494.8,1848.4 L495.8,1848.5 L496.8,1848.5 L497.8,1848.5 L498.8,1848.5 L499.8,1848.5 L500.8,1848.5 L501.8,1848.5 L502.8,1848.5 L503.8,1848.5 L504.8,1848.5 L505.8,1848.5 L506.8,1848.5 L507.8,1848.6 L508.8,1848.6 L509.8,1848.6 L510.8,1848.6 L511.8,1848.6 L512.8,1848.6 L513.9,1848.6 L514.9,1848.6 L515.9,1848.6 L516.9,1848.6 L517.9,1848.6 L518.9,1848.6 L519.9,1848.6 L520.9,1848.7 L521.9,1848.7 L522.9,1848.7 L523.9,1848.7 L524.9,1848.7 L525.9,1848.7 L526.9,1848.7 L527.9,1848.7 L528.9,1848.7 L529.9,1848.7 L530.9,1848.7 L531.9,1848.7 L532.9,1848.8 L533.9,1848.8 L534.9,1848.8 L535.9,1848.8 L536.9,1848.8 L537.9,1848.8 L538.9,1848.8 L539.9,1848.8 L540.9,1848.8 L541.9,1848.8 L542.9,1848.8 L543.9,1848.8 L544.9,1848.8 L545.9,1848.9 L546.9,1848.9 L547.9,1848.9 L548.9,1848.9 L549.9,1848.9 L550.9,1848.9 L551.9,1848.9 L552.9,1848.9 L553.9,1848.9 L554.9,1848.9 L555.9,1848.9 L556.9,1848.9 L557.9,1848.9 L558.9,1848.9 L559.9,1849.0 L560.9,1849.0 L561.9,1849.0 L562.9,1849.0 L563.9,1849.0 L564.9,1849.0 L565.9,1849.0 L566.9,1849.0 L568.0,1849.0 L569.0,1849.0 L570.0,1849.0 L571.0,1849.0 L572.0,1849.0 L573.0,1849.0 L574.0,1849.0 L575.0,1849.0 L576.0,1849.0 L577.0,1848.9 L578.0,1848.9 L579.0,1848.9 L580.0,1848.9 L581.0,1848.9 L582.0,1848.8 L583.0,1848.8 L584.0,1848.8 L585.0,1848.7 L586.0,1848.7 L587.0,1848.6 L588.0,1848.5 L589.0,1848.5 L590.0,1848.4 L591.0,1848.3 L592.0,1848.2 L593.0,1848.1 L594.0,1847.9 L595.0,1847.8 L596.0,1847.6 L597.0,1847.5 L598.0,1847.3 L599.0,1847.0 L600.0,1846.8 L601.0,1846.5 L602.0,1846.2 L603.0,1845.9 L604.0,1845.5 L605.0,1845.2 L606.0,1844.7 L607.0,1844.3 L608.0,1843.8 L609.0,1843.2 L610.0,1842.6 L611.0,1841.9 L612.0,1841.2 L613.0,1840.5 L614.0,1839.6 L615.0,1838.7 L616.0,1837.8 L617.0,1836.7 L618.0,1835.6 L619.0,1834.4 L620.0,1833.1 L621.0,1831.7 L622.0,1830.2 L623.1,1828.6 L624.1,1826.9 L625.1,1825.1 L626.1,1823.2 L627.1,1821.1 L628.1,1819.0 L629.1,1816.7 L630.1,1814.3 L631.1,1811.7 L632.1,1809.0 L633.1,1806.1 L634.1,1803.1 L635.1,1800.0 L636.1,1796.7 L637.1,1793.2 L638.1,1789.6 L639.1,1785.8 L640.1,1781.9 L641.1,1777.8 L642.1,1773.6 L643.1,1769.1 L644.1,1764.6 L645.1,1759.8 L646.1,1754.9 L647.1,1749.9 L648.1,1744.7 L649.1,1739.4 L650.1,1733.9 L651.1,1728.3 L652.1,1722.6 L653.1,1716.7 L654.1,1710.8 L655.1,1704.7 L656.1,1698.6 L657.1,1692.4 L658.1,1686.1 L659.1,1679.7 L660.1,1673.4 L661.1,1666.9 L662.1,1660.5 L663.1,1654.1 L664.1,1647.6 L665.1,1641.3 L666.1,1634.9 L667.1,1628.6 L668.1,1622.4 L669.1,1616.3 L670.1,1610.3 L671.1,1604.4 L672.1,1598.7 L673.1,1593.1 L674.1,1587.8 L675.1,1582.6 L676.1,1577.6 L677.2,1572.8 L678.2,1568.3 L679.2,1564.1 L680.2,1560.1 L681.2,1556.4 L682.2,1553.0 L683.2,1549.9 L684.2,1547.1 L685.2,1544.7 L686.2,1542.5 L687.2,1540.8 L688.2,1539.3 L689.2,1538.3 L690.2,1537.5 L691.2,1537.2 L692.2,1537.2 L693.2,1537.5 L694.2,1538.2 L695.2,1539.3 L696.2,1540.8 L697.2,1542.5 L698.2,1544.7 L699.2,1547.1 L700.2,1549.9 L701.2,1553.0 L702.2,1556.4 L703.2,1560.1 L704.2,1564.1 L705.2,1568.3 L706.2,1572.9 L707.2,1577.6 L708.2,1582.6 L709.2,1587.8 L710.2,1593.2 L711.2,1598.8 L712.2,1604.5 L713.2,1610.4 L714.2,1616.4 L715.2,1622.5 L716.2,1628.7 L717.2,1635.0 L718.2,1641.4 L719.2,1647.8 L720.2,1654.2 L721.2,1660.7 L722.2,1667.1 L723.2,1673.6 L724.2,1680.0 L725.2,1686.3 L726.2,1692.6 L727.2,1698.9 L728.2,1705.0 L729.2,1711.1 L730.2,1717.1 L731.2,1723.0 L732.3,1728.7 L733.3,1734.3 L734.3,1739.8 L735.3,1745.2 L736.3,1750.4 L737.3,1755.4 L738.3,1760.4 L739.3,1765.1 L740.3,1769.7 L741.3,1774.2 L742.3,1778.4 L743.3,1782.6 L744.3,1786.5 L745.3,1790.3 L746.3,1793.9 L747.3,1797.4 L748.3,1800.8 L749.3,1803.9 L750.3,1806.9 L751.3,1809.8 L752.3,1812.5 L753.3,1815.1 L754.3,1817.6 L755.3,1819.9 L756.3,1822.1 L757.3,1824.1 L758.3,1826.1 L759.3,1827.9 L760.3,1829.6 L761.3,1831.2 L762.3,1832.7 L763.3,1834.2 L764.3,1835.5 L765.3,1836.7 L766.3,1837.9 L767.3,1838.9 L768.3,1839.9 L769.3,1840.8 L770.3,1841.7 L771.3,1842.5 L772.3,1843.2 L773.3,1843.9 L774.3,1844.5 L775.3,1845.1 L776.3,1845.6 L777.3,1846.1 L778.3,1846.5 L779.3,1846.9 L780.3,1847.3 L781.3,1847.7 L782.3,1848.0 L783.3,1848.2 L784.3,1848.5 L785.3,1848.7 L786.4,1849.0 L787.4,1849.2 L788.4,1849.3 L789.4,1849.5 L790.4,1849.6 L791.4,1849.8 L792.4,1849.9 L793.4,1850.0 L794.4,1850.1 L795.4,1850.2 L796.4,1850.3 L797.4,1850.4 L798.4,1850.4 L799.4,1850.5 L800.4,1850.5 L801.4,1850.6 L802.4,1850.6 L803.4,1850.7 L804.4,1850.7 L805.4,1850.7 L806.4,1850.8 L807.4,1850.8 L808.4,1850.8 L809.4,1850.9 L810.4,1850.9 L811.4,1850.9 L812.4,1850.9 L813.4,1850.9" fill="none" stroke="#0000ff" stroke-width="4.2" stroke-linejoin="round" stroke-linecap="round"/>
<path d="M376.6,1847.1 L377.6,1847.1 L378.6,1847.1 L379.6,1847.1 L380.6,1847.1 L381.6,1847.1 L382.6,1847.1 L383.6,1847.1 L384.6,1847.1 L385.6,1847.1 L386.6,1847.1 L387.6,1847.1 L388.6,1847.1 L389.6,1847.1 L390.6,1847.1 L391.6,1847.1 L392.6,1847.1 L393.6,1847.1 L394.6,1847.1 L395.6,1847.1 L396.6,1847.1 L397.6,1847.1 L398.6,1847.1 L399.6,1847.1 L400.6,1847.1 L401.6,1847.1 L402.6,1847.1 L403.6,1847.1 L404.7,1847.1 L405.7,1847.1 L406.7,1847.1 L407.7,1847.1 L408.7,1847.1 L409.7,1847.1 L410.7,1847.1 L411.7,1847.1 L412.7,1847.1 L413.7,1847.1 L414.7,1847.1 L415.7,1847.0 L416.7,1847.0 L417.7,1847.0 L418.7,1847.0 L419.7,1847.0 L420.7,1847.0 L421.7,1847.0 L422.7,1847.0 L423.7,1847.0 L424.7,1847.0 L425.7,1847.0 L426.7,1847.0 L427.7,1846.9 L428.7,1846.9 L429.7,1846.9 L430.7,1846.9 L431.7,1846.9 L432.7,1846.9 L433.7,1846.8 L434.7,1846.8 L435.7,1846.8 L436.7,1846.8 L437.7,1846.8 L438.7,1846.7 L439.7,1846.7 L440.7,1846.7 L441.7,1846.6 L442.7,1846.6 L443.7,1846.5 L444.7,1846.5 L445.7,1846.4 L446.7,1846.3 L447.7,1846.3 L448.7,1846.2 L449.7,1846.1 L450.7,1846.0 L451.7,1845.9 L452.7,1845.7 L453.7,1845.6 L454.7,1845.4 L455.7,1845.2 L456.7,1845.0 L457.7,1844.8 L458.8,1844.6 L459.8,1844.3 L460.8,1844.0 L461.8,1843.7 L462.8,1843.3 L463.8,1842.9 L464.8,1842.5 L465.8,1842.0 L466.8,1841.5 L467.8,1840.9 L468.8,1840.3 L469.8,1839.6 L470.8,1838.8 L471.8,1838.0 L472.8,1837.2 L473.8,1836.2 L474.8,1835.2 L475.8,1834.1 L476.8,1832.9 L477.8,1831.6 L478.8,1830.2 L479.8,1828.7 L480.8,1827.2 L481.8,1825.5 L482.8,1823.7 L483.8,1821.9 L484.8,1819.9 L485.8,1817.8 L486.8,1815.6 L487.8,1813.3 L488.8,1810.9 L489.8,1808.4 L490.8,1805.7 L491.8,1803.0 L492.8,1800.2 L493.8,1797.2 L494.8,1794.2 L495.8,1791.1 L496.8,1787.9 L497.8,1784.7 L498.8,1781.4 L499.8,1778.0 L500.8,1774.6 L501.8,1771.1 L502.8,1767.6 L503.8,1764.1 L504.8,1760.7 L505.8,1757.2 L506.8,1753.7 L507.8,1750.3 L508.8,1747.0 L509.8,1743.8 L510.8,1740.6 L511.8,1737.5 L512.8,1734.6 L513.9,1731.8 L514.9,1729.1 L515.9,1726.6 L516.9,1724.3 L517.9,1722.2 L518.9,1720.3 L519.9,1718.7 L520.9,1717.2 L521.9,1716.0 L522.9,1715.1 L523.9,1714.4 L524.9,1714.0 L525.9,1713.8 L526.9,1713.9 L527.9,1714.3 L528.9,1714.9 L529.9,1715.8 L530.9,1717.0 L531.9,1718.4 L532.9,1720.0 L533.9,1721.8 L534.9,1723.9 L535.9,1726.2 L536.9,1728.6 L537.9,1731.3 L538.9,1734.1 L539.9,1737.0 L540.9,1740.0 L541.9,1743.2 L542.9,1746.5 L543.9,1749.8 L544.9,1753.2 L545.9,1756.6 L546.9,1760.1 L547.9,1763.6 L548.9,1767.1 L549.9,1770.6 L550.9,1774.1 L551.9,1777.5 L552.9,1780.9 L553.9,1784.3 L554.9,1787.6 L555.9,1790.8 L556.9,1793.9 L557.9,1797.0 L558.9,1800.0 L559.9,1802.8 L560.9,1805.6 L561.9,1808.3 L562.9,1810.9 L563.9,1813.3 L564.9,1815.7 L565.9,1817.9 L566.9,1820.0 L568.0,1822.1 L569.0,1824.0 L570.0,1825.8 L571.0,1827.5 L572.0,1829.1 L573.0,1830.6 L574.0,1832.0 L575.0,1833.3 L576.0,1834.6 L577.0,1835.7 L578.0,1836.8 L579.0,1837.8 L580.0,1838.7 L581.0,1839.5 L582.0,1840.3 L583.0,1841.0 L584.0,1841.7 L585.0,1842.3 L586.0,1842.8 L587.0,1843.4 L588.0,1843.8 L589.0,1844.2 L590.0,1844.6 L591.0,1845.0 L592.0,1845.3 L593.0,1845.6 L594.0,1845.9 L595.0,1846.1 L596.0,1846.3 L597.0,1846.5 L598.0,1846.7 L599.0,1846.9 L600.0,1847.0 L601.0,1847.1 L602.0,1847.3 L603.0,1847.4 L604.0,1847.5 L605.0,1847.6 L606.0,1847.7 L607.0,1847.7 L608.0,1847.8 L609.0,1847.9 L610.0,1847.9 L611.0,1848.0 L612.0,1848.1 L613.0,1848.1 L614.0,1848.2 L615.0,1848.2 L616.0,1848.2 L617.0,1848.3 L618.0,1848.3 L619.0,1848.4 L620.0,1848.4 L621.0,1848.4 L622.0,1848.5 L623.1,1848.5 L624.1,1848.5 L625.1,1848.5 L626.1,1848.6 L627.1,1848.6 L628.1,1848.6 L629.1,1848.6 L630.1,1848.7 L631.1,1848.7 L632.1,1848.7 L633.1,1848.7 L634.1,1848.8 L635.1,1848.8 L636.1,1848.8 L637.1,1848.8 L638.1,1848.9 L639.1,1848.9 L640.1,1848.9 L641.1,1848.9 L642.1,1848.9 L643.1,1849.0 L644.1,1849.0 L645.1,1849.0 L646.1,1849.0 L647.1,1849.0 L648.1,1849.0 L649.1,1849.1 L650.1,1849.1 L651.1,1849.1 L652.1,1849.1 L653.1,1849.1 L654.1,1849.1 L655.1,1849.2 L656.1,1849.2 L657.1,1849.2 L658.1,1849.2 L659.1,1849.2 L660.1,1849.2 L661.1,1849.3 L662.1,1849.3 L663.1,1849.3 L664.1,1849.3 L665.1,1849.3 L666.1,1849.3 L667.1,1849.3 L668.1,1849.4 L669.1,1849.4 L670.1,1849.4 L671.1,1849.4 L672.1,1849.4 L673.1,1849.4 L674.1,1849.4 L675.1,1849.5 L676.1,1849.5 L677.2,1849.5 L678.2,1849.5 L679.2,1849.5 L680.2,1849.5 L681.2,1849.5 L682.2,1849.6 L683.2,1849.6 L684.2,1849.6 L685.2,1849.6 L686.2,1849.6 L687.2,1849.6 L688.2,1849.6 L689.2,1849.6 L690.2,1849.7 L691.2,1849.7 L692.2,1849.7 L693.2,1849.7 L694.2,1849.7 L695.2,1849.7 L696.2,1849.7 L697.2,1849.7 L698.2,1849.8 L699.2,1849.8 L700.2,1849.8 L701.2,1849.8 L702.2,1849.8 L703.2,1849.8 L704.2,1849.8 L705.2,1849.8 L706.2,1849.8 L707.2,1849.9 L708.2,1849.9 L709.2,1849.9 L710.2,1849.9 L711.2,1849.9 L712.2,1849.9 L713.2,1849.9 L714.2,1849.9 L715.2,1849.9 L716.2,1850.0 L717.2,1850.0 L718.2,1850.0 L719.2,1850.0 L720.2,1850.0 L721.2,1850.0 L722.2,1850.0 L723.2,1850.0 L724.2,1850.0 L725.2,1850.0 L726.2,1850.1 L727.2,1850.1 L728.2,1850.1 L729.2,1850.1 L730.2,1850.1 L731.2,1850.1 L732.3,1850.1 L733.3,1850.1 L734.3,1850.1 L735.3,1850.2 L736.3,1850.2 L737.3,1850.2 L738.3,1850.2 L739.3,1850.2 L740.3,1850.2 L741.3,1850.2 L742.3,1850.2 L743.3,1850.2 L744.3,1850.2 L745.3,1850.3 L746.3,1850.3 L747.3,1850.3 L748.3,1850.3 L749.3,1850.3 L750.3,1850.3 L751.3,1850.3 L752.3,1850.3 L753.3,1850.3 L754.3,1850.3 L755.3,1850.3 L756.3,1850.4 L757.3,1850.4 L758.3,1850.4 L759.3,1850.4 L760.3,1850.4 L761.3,1850.4 L762.3,1850.4 L763.3,1850.4 L764.3,1850.4 L765.3,1850.4 L766.3,1850.5 L767.3,1850.5 L768.3,1850.5 L769.3,1850.5 L770.3,1850.5 L771.3,1850.5 L772.3,1850.5 L773.3,1850.5 L774.3,1850.5 L775.3,1850.5 L776.3,1850.5 L777.3,1850.6 L778.3,1850.6 L779.3,1850.6 L780.3,1850.6 L781.3,1850.6 L782.3,1850.6 L783.3,1850.6 L784.3,1850.6 L785.3,1850.6 L786.4,1850.6 L787.4,1850.6 L788.4,1850.7 L789.4,1850.7 L790.4,1850.7 L791.4,1850.7 L792.4,1850.7 L793.4,1850.7 L794.4,1850.7 L795.4,1850.7 L796.4,1850.7 L797.4,1850.7 L798.4,1850.7 L799.4,1850.8 L800.4,1850.8 L801.4,1850.8 L802.4,1850.8 L803.4,1850.8 L804.4,1850.8 L805.4,1850.8 L806.4,1850.8 L807.4,1850.8 L808.4,1850.8 L809.4,1850.8 L810.4,1850.9 L811.4,1850.9 L812.4,1850.9 L813.4,1850.9" fill="none" stroke="#ff00ff" stroke-width="4.2" stroke-linejoin="round" stroke-linecap="round"/>
<path d="M376.6,1845.5 L377.6,1845.4 L378.6,1845.3 L379.6,1845.2 L380.6,1845.1 L381.6,1845.0 L382.6,1844.9 L383.6,1844.7 L384.6,1844.6 L385.6,1844.5 L386.6,1844.3 L387.6,1844.2 L388.6,1844.0 L389.6,1843.9 L390.6,1843.7 L391.6,1843.5 L392.6,1843.3 L393.6,1843.1 L394.6,1842.9 L395.6,1842.7 L396.6,1842.5 L397.6,1842.2 L398.6,1842.0 L399.6,1841.7 L400.6,1841.5 L401.6,1841.2 L402.6,1840.9 L403.6,1840.6 L404.7,1840.3 L405.7,1840.0 L406.7,1839.7 L407.7,1839.4 L408.7,1839.1 L409.7,1838.8 L410.7,1838.4 L411.7,1838.1 L412.7,1837.7 L413.7,1837.4 L414.7,1837.0 L415.7,1836.6 L416.7,1836.3 L417.7,1835.9 L418.7,1835.5 L419.7,1835.2 L420.7,1834.8 L421.7,1834.4 L422.7,1834.0 L423.7,1833.6 L424.7,1833.3 L425.7,1832.9 L426.7,1832.6 L427.7,1832.2 L428.7,1831.8 L429.7,1831.5 L430.7,1831.2 L431.7,1830.9 L432.7,1830.5 L433.7,1830.2 L434.7,1830.0 L435.7,1829.7 L436.7,1829.4 L437.7,1829.2 L438.7,1829.0 L439.7,1828.8 L440.7,1828.6 L441.7,1828.5 L442.7,1828.4 L443.7,1828.2 L444.7,1828.2 L445.7,1828.1 L446.7,1828.1 L447.7,1828.1 L448.7,1828.1 L449.7,1828.1 L450.7,1828.2 L451.7,1828.2 L452.7,1828.3 L453.7,1828.4 L454.7,1828.5 L455.7,1828.7 L456.7,1828.8 L457.7,1829.0 L458.8,1829.2 L459.8,1829.4 L460.8,1829.6 L461.8,1829.8 L462.8,1830.0 L463.8,1830.3 L464.8,1830.5 L465.8,1830.8 L466.8,1831.0 L467.8,1831.3 L468.8,1831.6 L469.8,1831.9 L470.8,1832.2 L471.8,1832.5 L472.8,1832.8 L473.8,1833.1 L474.8,1833.4 L475.8,1833.8 L476.8,1834.1 L477.8,1834.4 L478.8,1834.7 L479.8,1835.1 L480.8,1835.4 L481.8,1835.7 L482.8,1836.1 L483.8,1836.4 L484.8,1836.7 L485.8,1837.0 L486.8,1837.3 L487.8,1837.7 L488.8,1838.0 L489.8,1838.3 L490.8,1838.6 L491.8,1838.9 L492.8,1839.2 L493.8,1839.5 L494.8,1839.8 L495.8,1840.1 L496.8,1840.4 L497.8,1840.6 L498.8,1840.9 L499.8,1841.2 L500.8,1841.4 L501.8,1841.7 L502.8,1841.9 L503.8,1842.2 L504.8,1842.4 L505.8,1842.6 L506.8,1842.9 L507.8,1843.1 L508.8,1843.3 L509.8,1843.5 L510.8,1843.7 L511.8,1843.9 L512.8,1844.1 L513.9,1844.2 L514.9,1844.4 L515.9,1844.6 L516.9,1844.8 L517.9,1844.9 L518.9,1845.1 L519.9,1845.2 L520.9,1845.4 L521.9,1845.5 L522.9,1845.6 L523.9,1845.8 L524.9,1845.9 L525.9,1846.0 L526.9,1846.1 L527.9,1846.2 L528.9,1846.3 L529.9,1846.4 L530.9,1846.5 L531.9,1846.6 L532.9,1846.7 L533.9,1846.8 L534.9,1846.9 L535.9,1846.9 L536.9,1847.0 L537.9,1847.1 L538.9,1847.2 L539.9,1847.2 L540.9,1847.3 L541.9,1847.4 L542.9,1847.4 L543.9,1847.5 L544.9,1847.5 L545.9,1847.6 L546.9,1847.6 L547.9,1847.7 L548.9,1847.7 L549.9,1847.8 L550.9,1847.8 L551.9,1847.8 L552.9,1847.9 L553.9,1847.9 L554.9,1847.9 L555.9,1848.0 L556.9,1848.0 L557.9,1848.0 L558.9,1848.1 L559.9,1848.1 L560.9,1848.1 L561.9,1848.2 L562.9,1848.2 L563.9,1848.2 L564.9,1848.2 L565.9,1848.3 L566.9,1848.3 L568.0,1848.3 L569.0,1848.3 L570.0,1848.4 L571.0,1848.4 L572.0,1848.4 L573.0,1848.4 L574.0,1848.4 L575.0,1848.5 L576.0,1848.5 L577.0,1848.5 L578.0,1848.5 L579.0,1848.5 L580.0,1848.6 L581.0,1848.6 L582.0,1848.6 L583.0,1848.6 L584.0,1848.6 L585.0,1848.6 L586.0,1848.7 L587.0,1848.7 L588.0,1848.7 L589.0,1848.7 L590.0,1848.7 L591.0,1848.7 L592.0,1848.7 L593.0,1848.8 L594.0,1848.8 L595.0,1848.8 L596.0,1848.8 L597.0,1848.8 L598.0,1848.8 L599.0,1848.8 L600.0,1848.9 L601.0,1848.9 L602.0,1848.9 L603.0,1848.9 L604.0,1848.9 L605.0,1848.9 L606.0,1848.9 L607.0,1848.9 L608.0,1849.0 L609.0,1849.0 L610.0,1849.0 L611.0,1849.0 L612.0,1849.0 L613.0,1849.0 L614.0,1849.0 L615.0,1849.0 L616.0,1849.1 L617.0,1849.1 L618.0,1849.1 L619.0,1849.1 L620.0,1849.1 L621.0,1849.1 L622.0,1849.1 L623.1,1849.1 L624.1,1849.2 L625.1,1849.2 L626.1,1849.2 L627.1,1849.2 L628.1,1849.2 L629.1,1849.2 L630.1,1849.2 L631.1,1849.2 L632.1,1849.2 L633.1,1849.3 L634.1,1849.3 L635.1,1849.3 L636.1,1849.3 L637.1,1849.3 L638.1,1849.3 L639.1,1849.3 L640.1,1849.3 L641.1,1849.3 L642.1,1849.4 L643.1,1849.4 L644.1,1849.4 L645.1,1849.4 L646.1,1849.4 L647.1,1849.4 L648.1,1849.4 L649.1,1849.4 L650.1,1849.4 L651.1,1849.4 L652.1,1849.5 L653.1,1849.5 L654.1,1849.5 L655.1,1849.5 L656.1,1849.5 L657.1,1849.5 L658.1,1849.5 L659.1,1849.5 L660.1,1849.5 L661.1,1849.6 L662.1,1849.6 L663.1,1849.6 L664.1,1849.6 L665.1,1849.6 L666.1,1849.6 L667.1,1849.6 L668.1,1849.6 L669.1,1849.6 L670.1,1849.6 L671.1,1849.7 L672.1,1849.7 L673.1,1849.7 L674.1,1849.7 L675.1,1849.7 L676.1,1849.7 L677.2,1849.7 L678.2,1849.7 L679.2,1849.7 L680.2,1849.7 L681.2,1849.7 L682.2,1849.8 L683.2,1849.8 L684.2,1849.8 L685.2,1849.8 L686.2,1849.8 L687.2,1849.8 L688.2,1849.8 L689.2,1849.8 L690.2,1849.8 L691.2,1849.8 L692.2,1849.9 L693.2,1849.9 L694.2,1849.9 L695.2,1849.9 L696.2,1849.9 L697.2,1849.9 L698.2,1849.9 L699.2,1849.9 L700.2,1849.9 L701.2,1849.9 L702.2,1849.9 L703.2,1850.0 L704.2,1850.0 L705.2,1850.0 L706.2,1850.0 L707.2,1850.0 L708.2,1850.0 L709.2,1850.0 L710.2,1850.0 L711.2,1850.0 L712.2,1850.0 L713.2,1850.0 L714.2,1850.1 L715.2,1850.1 L716.2,1850.1 L717.2,1850.1 L718.2,1850.1 L719.2,1850.1 L720.2,1850.1 L721.2,1850.1 L722.2,1850.1 L723.2,1850.1 L724.2,1850.1 L725.2,1850.2 L726.2,1850.2 L727.2,1850.2 L728.2,1850.2 L729.2,1850.2 L730.2,1850.2 L731.2,1850.2 L732.3,1850.2 L733.3,1850.2 L734.3,1850.2 L735.3,1850.2 L736.3,1850.3 L737.3,1850.3 L738.3,1850.3 L739.3,1850.3 L740.3,1850.3 L741.3,1850.3 L742.3,1850.3 L743.3,1850.3 L744.3,1850.3 L745.3,1850.3 L746.3,1850.3 L747.3,1850.4 L748.3,1850.4 L749.3,1850.4 L750.3,1850.4 L751.3,1850.4 L752.3,1850.4 L753.3,1850.4 L754.3,1850.4 L755.3,1850.4 L756.3,1850.4 L757.3,1850.4 L758.3,1850.4 L759.3,1850.5 L760.3,1850.5 L761.3,1850.5 L762.3,1850.5 L763.3,1850.5 L764.3,1850.5 L765.3,1850.5 L766.3,1850.5 L767.3,1850.5 L768.3,1850.5 L769.3,1850.5 L770.3,1850.6 L771.3,1850.6 L772.3,1850.6 L773.3,1850.6 L774.3,1850.6 L775.3,1850.6 L776.3,1850.6 L777.3,1850.6 L778.3,1850.6 L779.3,1850.6 L780.3,1850.6 L781.3,1850.6 L782.3,1850.7 L783.3,1850.7 L784.3,1850.7 L785.3,1850.7 L786.4,1850.7 L787.4,1850.7 L788.4,1850.7 L789.4,1850.7 L790.4,1850.7 L791.4,1850.7 L792.4,1850.7 L793.4,1850.8 L794.4,1850.8 L795.4,1850.8 L796.4,1850.8 L797.4,1850.8 L798.4,1850.8 L799.4,1850.8 L800.4,1850.8 L801.4,1850.8 L802.4,1850.8 L803.4,1850.8 L804.4,1850.8 L805.4,1850.9 L806.4,1850.9 L807.4,1850.9 L808.4,1850.9 L809.4,1850.9 L810.4,1850.9 L811.4,1850.9 L812.4,1850.9 L813.4,1850.9" fill="none" stroke="#ff8000" stroke-width="4.2" stroke-linejoin="round" stroke-linecap="round"/>
<path d="M345.5,1841.3 L348.1,1844.1 L350.7,1842.7 L353.3,1839.9 L355.9,1839.5 L358.6,1841.0 L361.2,1843.4 L363.8,1844.5 L366.4,1840.8 L369.0,1838.4 L371.6,1839.4 L374.2,1842.5 L376.8,1846.2 L379.4,1846.3 L382.1,1846.5 L384.7,1847.5 L387.3,1846.8 L389.9,1844.5 L392.5,1845.2 L395.1,1843.5 L397.7,1840.7 L400.3,1842.5 L402.9,1840.4 L405.5,1839.1 L408.2,1842.3 L410.8,1839.2 L413.4,1835.9 L416.0,1835.7 L418.6,1839.1 L421.2,1833.4 L423.8,1834.1 L426.4,1832.9 L429.0,1831.8 L431.7,1831.0 L434.3,1828.2 L436.9,1827.5 L439.5,1827.3 L442.1,1826.4 L444.7,1828.2 L447.3,1829.2 L449.9,1824.6 L452.5,1827.0 L455.2,1824.1 L457.8,1824.5 L460.4,1825.1 L463.0,1825.4 L465.6,1823.9 L468.2,1819.2 L470.8,1825.4 L473.4,1820.9 L476.0,1818.2 L478.7,1818.1 L481.3,1812.6 L483.9,1807.2 L486.5,1806.2 L489.1,1800.7 L491.7,1792.3 L494.3,1788.5 L496.9,1780.2 L499.5,1769.5 L502.1,1766.4 L504.8,1755.2 L507.4,1744.1 L510.0,1738.8 L512.6,1730.6 L515.2,1725.4 L517.8,1715.5 L520.4,1715.5 L523.0,1712.6 L525.6,1711.0 L528.3,1711.4 L530.9,1715.0 L533.5,1717.7 L536.1,1721.8 L538.7,1726.3 L541.3,1737.0 L543.9,1744.4 L546.5,1751.0 L549.1,1758.6 L551.8,1767.3 L554.4,1768.5 L557.0,1780.1 L559.6,1780.6 L562.2,1790.4 L564.8,1795.7 L567.4,1800.0 L570.0,1797.5 L572.6,1800.1 L575.3,1799.2 L577.9,1794.5 L580.5,1798.4 L583.1,1794.9 L585.7,1792.5 L588.3,1787.6 L590.9,1785.9 L593.5,1782.5 L596.1,1781.0 L598.8,1775.3 L601.4,1777.3 L604.0,1766.3 L606.6,1762.8 L609.2,1759.4 L611.8,1754.4 L614.4,1755.0 L617.0,1749.8 L619.6,1742.6 L622.2,1741.4 L624.9,1739.3 L627.5,1730.4 L630.1,1728.7 L632.7,1723.0 L635.3,1722.1 L637.9,1712.4 L640.5,1704.0 L643.1,1696.0 L645.7,1691.9 L648.4,1678.3 L651.0,1673.1 L653.6,1655.0 L656.2,1645.9 L658.8,1633.6 L661.4,1620.1 L664.0,1608.2 L666.6,1597.1 L669.2,1582.2 L671.9,1568.9 L674.5,1562.9 L677.1,1553.2 L679.7,1540.8 L682.3,1535.8 L684.9,1525.5 L687.5,1529.1 L690.1,1523.9 L692.7,1526.8 L695.4,1535.4 L698.0,1535.0 L700.6,1545.3 L703.2,1553.2 L705.8,1563.5 L708.4,1578.1 L711.0,1595.3 L713.6,1608.1 L716.2,1625.8 L718.8,1645.1 L721.5,1660.5 L724.1,1675.4 L726.7,1697.2 L729.3,1710.8 L731.9,1728.6 L734.5,1738.7 L737.1,1757.4 L739.7,1764.4 L742.3,1775.2 L745.0,1788.0 L747.6,1797.4 L750.2,1806.8 L752.8,1812.6 L755.4,1821.0 L758.0,1827.7 L760.6,1828.7 L763.2,1831.3 L765.8,1836.4 L768.5,1841.3 L771.1,1843.6 L773.7,1843.3 L776.3,1843.6 L778.9,1846.6 L781.5,1849.3 L784.1,1847.0 L786.7,1851.3 L789.3,1849.8 L792.0,1850.2 L794.6,1848.8 L797.2,1852.7 L799.8,1850.5 L802.4,1847.8 L805.0,1852.1 L807.6,1849.9 L810.2,1852.7 L812.8,1851.1 L815.4,1852.7 L818.1,1853.7 L820.7,1852.3 L823.3,1850.7 L825.9,1851.3 L828.5,1853.6 L831.1,1855.5 L833.7,1856.4 L836.3,1855.2 L838.9,1854.3 L841.6,1854.0 L844.2,1856.1 L846.8,1858.2 L849.4,1860.2 L852.0,1857.6" fill="none" stroke="#000" stroke-width="3.6" stroke-linejoin="round" stroke-linecap="round"/>
<path d="M376.6,1845.0 L377.6,1845.0 L378.6,1844.9 L379.6,1844.8 L380.6,1844.6 L381.6,1844.5 L382.6,1844.4 L383.6,1844.3 L384.6,1844.1 L385.6,1844.0 L386.6,1843.8 L387.6,1843.7 L388.6,1843.5 L389.6,1843.3 L390.6,1843.2 L391.6,1843.0 L392.6,1842.8 L393.6,1842.6 L394.6,1842.3 L395.6,1842.1 L396.6,1841.9 L397.6,1841.6 L398.6,1841.4 L399.6,1841.1 L400.6,1840.9 L401.6,1840.6 L402.6,1840.3 L403.6,1840.0 L404.7,1839.7 L405.7,1839.4 L406.7,1839.1 L407.7,1838.7 L408.7,1838.4 L409.7,1838.1 L410.7,1837.7 L411.7,1837.4 L412.7,1837.0 L413.7,1836.6 L414.7,1836.2 L415.7,1835.9 L416.7,1835.5 L417.7,1835.1 L418.7,1834.7 L419.7,1834.3 L420.7,1833.9 L421.7,1833.5 L422.7,1833.2 L423.7,1832.8 L424.7,1832.4 L425.7,1832.0 L426.7,1831.6 L427.7,1831.2 L428.7,1830.9 L429.7,1830.5 L430.7,1830.1 L431.7,1829.8 L432.7,1829.5 L433.7,1829.1 L434.7,1828.8 L435.7,1828.5 L436.7,1828.2 L437.7,1828.0 L438.7,1827.7 L439.7,1827.5 L440.7,1827.3 L441.7,1827.1 L442.7,1826.9 L443.7,1826.7 L444.7,1826.6 L445.7,1826.5 L446.7,1826.3 L447.7,1826.3 L448.7,1826.2 L449.7,1826.1 L450.7,1826.0 L451.7,1826.0 L452.7,1825.9 L453.7,1825.9 L454.7,1825.8 L455.7,1825.8 L456.7,1825.7 L457.7,1825.7 L458.8,1825.6 L459.8,1825.5 L460.8,1825.4 L461.8,1825.3 L462.8,1825.2 L463.8,1825.0 L464.8,1824.8 L465.8,1824.6 L466.8,1824.3 L467.8,1824.0 L468.8,1823.6 L469.8,1823.2 L470.8,1822.8 L471.8,1822.3 L472.8,1821.7 L473.8,1821.0 L474.8,1820.3 L475.8,1819.5 L476.8,1818.6 L477.8,1817.7 L478.8,1816.6 L479.8,1815.5 L480.8,1814.2 L481.8,1812.9 L482.8,1811.4 L483.8,1809.9 L484.8,1808.2 L485.8,1806.4 L486.8,1804.5 L487.8,1802.5 L488.8,1800.4 L489.8,1798.2 L490.8,1795.9 L491.8,1793.4 L492.8,1790.9 L493.8,1788.2 L494.8,1785.5 L495.8,1782.7 L496.8,1779.7 L497.8,1776.7 L498.8,1773.7 L499.8,1770.5 L500.8,1767.4 L501.8,1764.1 L502.8,1760.9 L503.8,1757.6 L504.8,1754.3 L505.8,1751.1 L506.8,1747.8 L507.8,1744.6 L508.8,1741.4 L509.8,1738.3 L510.8,1735.3 L511.8,1732.4 L512.8,1729.6 L513.9,1726.9 L514.9,1724.4 L515.9,1722.0 L516.9,1719.8 L517.9,1717.8 L518.9,1716.0 L519.9,1714.3 L520.9,1713.0 L521.9,1711.8 L522.9,1710.9 L523.9,1710.2 L524.9,1709.8 L525.9,1709.6 L526.9,1709.7 L527.9,1710.0 L528.9,1710.6 L529.9,1711.4 L530.9,1712.5 L531.9,1713.8 L532.9,1715.3 L533.9,1717.0 L534.9,1718.9 L535.9,1721.0 L536.9,1723.3 L537.9,1725.7 L538.9,1728.2 L539.9,1730.9 L540.9,1733.7 L541.9,1736.5 L542.9,1739.4 L543.9,1742.4 L544.9,1745.4 L545.9,1748.5 L546.9,1751.5 L547.9,1754.6 L548.9,1757.6 L549.9,1760.5 L550.9,1763.5 L551.9,1766.3 L552.9,1769.1 L553.9,1771.8 L554.9,1774.4 L555.9,1777.0 L556.9,1779.3 L557.9,1781.6 L558.9,1783.8 L559.9,1785.8 L560.9,1787.7 L561.9,1789.4 L562.9,1791.0 L563.9,1792.5 L564.9,1793.8 L565.9,1795.0 L566.9,1796.0 L568.0,1796.9 L569.0,1797.6 L570.0,1798.2 L571.0,1798.7 L572.0,1799.0 L573.0,1799.2 L574.0,1799.3 L575.0,1799.2 L576.0,1799.1 L577.0,1798.8 L578.0,1798.4 L579.0,1797.9 L580.0,1797.3 L581.0,1796.6 L582.0,1795.8 L583.0,1795.0 L584.0,1794.0 L585.0,1793.0 L586.0,1791.9 L587.0,1790.8 L588.0,1789.6 L589.0,1788.4 L590.0,1787.1 L591.0,1785.8 L592.0,1784.4 L593.0,1783.0 L594.0,1781.6 L595.0,1780.2 L596.0,1778.7 L597.0,1777.3 L598.0,1775.8 L599.0,1774.3 L600.0,1772.9 L601.0,1771.4 L602.0,1769.9 L603.0,1768.4 L604.0,1766.9 L605.0,1765.5 L606.0,1764.0 L607.0,1762.6 L608.0,1761.1 L609.0,1759.7 L610.0,1758.3 L611.0,1756.9 L612.0,1755.5 L613.0,1754.1 L614.0,1752.7 L615.0,1751.3 L616.0,1749.9 L617.0,1748.5 L618.0,1747.1 L619.0,1745.7 L620.0,1744.3 L621.0,1742.8 L622.0,1741.4 L623.1,1739.9 L624.1,1738.4 L625.1,1736.8 L626.1,1735.2 L627.1,1733.6 L628.1,1731.9 L629.1,1730.2 L630.1,1728.4 L631.1,1726.5 L632.1,1724.6 L633.1,1722.6 L634.1,1720.5 L635.1,1718.3 L636.1,1716.0 L637.1,1713.7 L638.1,1711.2 L639.1,1708.6 L640.1,1705.9 L641.1,1703.1 L642.1,1700.1 L643.1,1697.1 L644.1,1693.9 L645.1,1690.6 L646.1,1687.2 L647.1,1683.7 L648.1,1680.0 L649.1,1676.2 L650.1,1672.3 L651.1,1668.2 L652.1,1664.1 L653.1,1659.8 L654.1,1655.5 L655.1,1651.0 L656.1,1646.5 L657.1,1641.9 L658.1,1637.2 L659.1,1632.4 L660.1,1627.6 L661.1,1622.7 L662.1,1617.8 L663.1,1612.9 L664.1,1608.0 L665.1,1603.1 L666.1,1598.2 L667.1,1593.3 L668.1,1588.5 L669.1,1583.8 L670.1,1579.1 L671.1,1574.6 L672.1,1570.1 L673.1,1565.8 L674.1,1561.7 L675.1,1557.7 L676.1,1553.8 L677.2,1550.2 L678.2,1546.8 L679.2,1543.6 L680.2,1540.6 L681.2,1537.9 L682.2,1535.4 L683.2,1533.2 L684.2,1531.3 L685.2,1529.7 L686.2,1528.4 L687.2,1527.4 L688.2,1526.7 L689.2,1526.3 L690.2,1526.3 L691.2,1526.6 L692.2,1527.2 L693.2,1528.1 L694.2,1529.4 L695.2,1531.0 L696.2,1533.0 L697.2,1535.2 L698.2,1537.8 L699.2,1540.7 L700.2,1543.9 L701.2,1547.4 L702.2,1551.1 L703.2,1555.2 L704.2,1559.5 L705.2,1564.0 L706.2,1568.8 L707.2,1573.9 L708.2,1579.1 L709.2,1584.5 L710.2,1590.1 L711.2,1595.9 L712.2,1601.8 L713.2,1607.9 L714.2,1614.1 L715.2,1620.3 L716.2,1626.7 L717.2,1633.1 L718.2,1639.6 L719.2,1646.1 L720.2,1652.7 L721.2,1659.2 L722.2,1665.8 L723.2,1672.3 L724.2,1678.8 L725.2,1685.2 L726.2,1691.6 L727.2,1697.9 L728.2,1704.1 L729.2,1710.3 L730.2,1716.3 L731.2,1722.2 L732.3,1728.0 L733.3,1733.6 L734.3,1739.2 L735.3,1744.6 L736.3,1749.8 L737.3,1754.9 L738.3,1759.8 L739.3,1764.6 L740.3,1769.2 L741.3,1773.7 L742.3,1778.0 L743.3,1782.1 L744.3,1786.1 L745.3,1789.9 L746.3,1793.5 L747.3,1797.0 L748.3,1800.4 L749.3,1803.5 L750.3,1806.6 L751.3,1809.5 L752.3,1812.2 L753.3,1814.8 L754.3,1817.2 L755.3,1819.6 L756.3,1821.8 L757.3,1823.8 L758.3,1825.8 L759.3,1827.6 L760.3,1829.3 L761.3,1830.9 L762.3,1832.5 L763.3,1833.9 L764.3,1835.2 L765.3,1836.4 L766.3,1837.6 L767.3,1838.6 L768.3,1839.6 L769.3,1840.6 L770.3,1841.4 L771.3,1842.2 L772.3,1842.9 L773.3,1843.6 L774.3,1844.2 L775.3,1844.8 L776.3,1845.3 L777.3,1845.8 L778.3,1846.3 L779.3,1846.7 L780.3,1847.1 L781.3,1847.4 L782.3,1847.7 L783.3,1848.0 L784.3,1848.3 L785.3,1848.5 L786.4,1848.7 L787.4,1848.9 L788.4,1849.1 L789.4,1849.3 L790.4,1849.4 L791.4,1849.6 L792.4,1849.7 L793.4,1849.8 L794.4,1849.9 L795.4,1850.0 L796.4,1850.1 L797.4,1850.1 L798.4,1850.2 L799.4,1850.3 L800.4,1850.3 L801.4,1850.4 L802.4,1850.4 L803.4,1850.5 L804.4,1850.5 L805.4,1850.5 L806.4,1850.6 L807.4,1850.6 L808.4,1850.6 L809.4,1850.7 L810.4,1850.7 L811.4,1850.7 L812.4,1850.7 L813.4,1850.7" fill="none" stroke="#ff0000" stroke-width="4.8" stroke-linejoin="round" stroke-linecap="round"/>
<text x="384.6" y="1753.2" font-size="34.0" font-family='"Liberation Serif", "Times New Roman", serif' font-weight="bold" textLength="48.5" lengthAdjust="spacingAndGlyphs">C-F</text>
<text x="433.0" y="1766.4" font-size="33.0" font-family='"Liberation Serif", "Times New Roman", serif' font-weight="bold" textLength="12.5" lengthAdjust="spacingAndGlyphs">2</text>
<line x1="408.3" y1="1763.0" x2="430.5" y2="1811.0" stroke="#000" stroke-width="3.2" stroke-linecap="round"/>
<path d="M438.0,1827.3 L422.4,1812.5 L436.9,1805.8 Z" fill="#000"/>
<text x="455.8" y="1667.1" font-size="34.0" font-family='"Liberation Serif", "Times New Roman", serif' font-weight="bold" textLength="47.5" lengthAdjust="spacingAndGlyphs">C-F</text>
<line x1="474.5" y1="1674.0" x2="500.2" y2="1726.2" stroke="#000" stroke-width="3.2" stroke-linecap="round"/>
<path d="M508.2,1742.3 L492.2,1727.9 L506.5,1720.8 Z" fill="#000"/>
<text x="561.0" y="1699.1" font-size="34.0" font-family='"Liberation Serif", "Times New Roman", serif' font-weight="bold" textLength="51.0" lengthAdjust="spacingAndGlyphs">C-O</text>
<line x1="586.1" y1="1707.8" x2="601.3" y2="1741.9" stroke="#000" stroke-width="3.2" stroke-linecap="round"/>
<path d="M608.7,1758.3 L593.2,1743.3 L607.8,1736.8 Z" fill="#000"/>
<text x="750.1" y="1610.8" font-size="35.0" font-family='"Liberation Serif", "Times New Roman", serif' font-weight="bold" textLength="57.5" lengthAdjust="spacingAndGlyphs">C=C</text>
<line x1="774.8" y1="1618.7" x2="738.8" y2="1685.8" stroke="#000" stroke-width="3.2" stroke-linecap="round"/>
<path d="M730.3,1701.7 L732.7,1680.3 L746.8,1687.9 Z" fill="#000"/>
<path d="M934.5,1349.4 L936.5,1348.2 L938.5,1353.5 L940.5,1358.1 L942.5,1358.6 L944.5,1355.8 L946.5,1358.8 L948.5,1366.2 L950.5,1371.3 L952.6,1373.9 L954.6,1374.0 L956.6,1377.5 L958.6,1381.8 L960.6,1385.1 L962.6,1386.4 L964.6,1390.4 L966.6,1391.8 L968.6,1392.7 L970.6,1390.3 L972.6,1393.6 L974.6,1393.8 L976.6,1399.8 L978.6,1399.7 L980.6,1401.3 L982.6,1404.4 L984.6,1405.7 L986.7,1404.4 L988.7,1407.0 L990.7,1405.7 L992.7,1403.7 L994.7,1402.3 L996.7,1401.7 L998.7,1409.1 L1000.7,1410.5 L1002.7,1414.5 L1004.7,1411.3 L1006.7,1410.6 L1008.7,1409.4 L1010.7,1407.5 L1012.7,1408.5 L1014.7,1407.1 L1016.7,1407.8 L1018.8,1400.5 L1020.8,1401.6 L1022.8,1400.8 L1024.8,1404.5 L1026.8,1406.0 L1028.8,1405.2 L1030.8,1400.5 L1032.8,1396.9 L1034.8,1395.4 L1036.8,1396.6 L1038.8,1390.7 L1040.8,1393.8 L1042.8,1395.4 L1044.8,1392.8 L1046.8,1394.6 L1048.8,1392.4 L1050.8,1388.9 L1052.9,1389.3 L1054.9,1388.2 L1056.9,1388.3 L1058.9,1390.1 L1060.9,1398.0 L1062.9,1398.4 L1064.9,1395.4 L1066.9,1397.4 L1068.9,1396.0 L1070.9,1392.8 L1072.9,1387.5 L1074.9,1390.8 L1076.9,1390.8 L1078.9,1386.8 L1080.9,1382.5 L1082.9,1383.8 L1084.9,1375.5 L1087.0,1376.0 L1089.0,1370.7 L1091.0,1369.7 L1093.0,1366.7 L1095.0,1360.5 L1097.0,1358.0 L1099.0,1357.1 L1101.0,1358.6 L1103.0,1357.7 L1105.0,1358.2 L1107.0,1348.7 L1109.0,1350.6 L1111.0,1354.7 L1113.0,1346.8 L1115.0,1340.0 L1117.0,1336.7 L1119.0,1331.0 L1121.1,1328.6 L1123.1,1325.2 L1125.1,1319.8 L1127.1,1316.7 L1129.1,1317.0 L1131.1,1313.6 L1133.1,1312.4 L1135.1,1312.6 L1137.1,1319.9 L1139.1,1324.2 L1141.1,1329.4 L1143.1,1334.0 L1145.1,1336.9 L1147.1,1339.6 L1149.1,1340.6 L1151.1,1340.8 L1153.1,1342.1 L1155.2,1340.1 L1157.2,1346.0 L1159.2,1347.8 L1161.2,1350.5 L1163.2,1350.0 L1165.2,1345.2 L1167.2,1348.9 L1169.2,1349.1 L1171.2,1347.7 L1173.2,1347.6 L1175.2,1346.1 L1177.2,1349.2 L1179.2,1347.1 L1181.2,1348.6 L1183.2,1349.8 L1185.2,1347.6 L1187.2,1346.0 L1189.3,1346.7 L1191.3,1347.3 L1193.3,1346.5 L1195.3,1345.4 L1197.3,1344.8 L1199.3,1345.7 L1201.3,1348.0 L1203.3,1343.0 L1205.3,1341.1 L1207.3,1341.8 L1209.3,1342.6 L1211.3,1341.3 L1213.3,1339.7 L1215.3,1341.1 L1217.3,1335.8 L1219.3,1333.3 L1221.4,1332.6 L1223.4,1330.6 L1225.4,1329.0 L1227.4,1326.3 L1229.4,1325.7 L1231.4,1323.1 L1233.4,1320.5 L1235.4,1321.5 L1237.4,1322.2 L1239.4,1323.2 L1241.4,1322.6 L1243.4,1322.7 L1245.4,1321.2 L1247.4,1319.4 L1249.4,1317.5 L1251.4,1318.6 L1253.4,1315.3 L1255.5,1315.0 L1257.5,1314.2 L1259.5,1314.0 L1261.5,1316.1 L1263.5,1313.4 L1265.5,1314.7 L1267.5,1310.4 L1269.5,1308.8 L1271.5,1304.8 L1273.5,1303.2 L1275.5,1301.7 L1277.5,1299.2 L1279.5,1299.5 L1281.5,1296.8 L1283.5,1297.4 L1285.5,1296.9 L1287.5,1297.8 L1289.6,1296.1 L1291.6,1294.4 L1293.6,1294.9 L1295.6,1296.3 L1297.6,1294.9 L1299.6,1292.7 L1301.6,1291.7 L1303.6,1292.0 L1305.6,1291.4 L1307.6,1289.9 L1309.6,1292.4 L1311.6,1290.4 L1313.6,1285.2 L1315.6,1285.0 L1317.6,1280.7 L1319.6,1273.3 L1321.6,1268.6 L1323.7,1263.9 L1325.7,1261.2 L1327.7,1260.2 L1329.7,1251.3 L1331.7,1246.2 L1333.7,1240.6 L1335.7,1232.4 L1337.7,1226.3 L1339.7,1221.3 L1341.7,1216.9 L1343.7,1207.7 L1345.7,1198.5 L1347.7,1190.0 L1349.7,1181.6 L1351.7,1173.3 L1353.7,1163.2 L1355.8,1154.2 L1357.8,1143.5 L1359.8,1148.4 L1361.8,1157.5 L1363.8,1167.1 L1365.8,1174.0 L1367.8,1182.5 L1369.8,1193.7 L1371.8,1202.5 L1373.8,1209.5 L1375.8,1218.5 L1377.8,1224.3 L1379.8,1228.5 L1381.8,1231.5 L1383.8,1228.9 L1385.8,1227.8 L1387.8,1231.0 L1389.9,1230.5 L1391.9,1228.2 L1393.9,1230.9 L1395.9,1233.2 L1397.9,1235.0 L1399.9,1236.0 L1401.9,1238.2 L1403.9,1236.4 L1405.9,1236.3 L1407.9,1233.4 L1409.9,1227.4 L1411.9,1228.3 L1413.9,1225.4 L1415.9,1222.6 L1417.9,1226.2 L1419.9,1224.4 L1421.9,1223.0 L1424.0,1224.0 L1426.0,1223.1 L1428.0,1224.7 L1430.0,1224.8 L1432.0,1226.3 L1434.0,1227.2 L1436.0,1229.2 L1438.0,1225.6 L1440.0,1227.2 L1440.0,1246.1 L1438.0,1246.2 L1436.0,1243.6 L1434.0,1239.5 L1432.0,1237.5 L1430.0,1235.0 L1428.0,1235.4 L1426.0,1236.8 L1424.0,1235.6 L1421.9,1232.8 L1419.9,1234.0 L1417.9,1236.4 L1415.9,1239.0 L1413.9,1240.5 L1411.9,1239.5 L1409.9,1238.9 L1407.9,1241.2 L1405.9,1244.7 L1403.9,1246.5 L1401.9,1248.3 L1399.9,1249.0 L1397.9,1246.4 L1395.9,1242.9 L1393.9,1244.1 L1391.9,1244.5 L1389.9,1243.9 L1387.8,1243.3 L1385.8,1242.1 L1383.8,1242.9 L1381.8,1240.3 L1379.8,1241.5 L1377.8,1237.5 L1375.8,1228.8 L1373.8,1220.4 L1371.8,1215.4 L1369.8,1206.2 L1367.8,1197.7 L1365.8,1189.9 L1363.8,1180.8 L1361.8,1172.6 L1359.8,1162.3 L1357.8,1155.9 L1355.8,1165.9 L1353.7,1174.4 L1351.7,1181.8 L1349.7,1194.4 L1347.7,1201.5 L1345.7,1211.3 L1343.7,1219.0 L1341.7,1231.5 L1339.7,1238.0 L1337.7,1242.5 L1335.7,1248.9 L1333.7,1257.1 L1331.7,1260.4 L1329.7,1267.0 L1327.7,1272.7 L1325.7,1274.0 L1323.7,1279.1 L1321.6,1282.2 L1319.6,1287.7 L1317.6,1287.9 L1315.6,1293.0 L1313.6,1293.9 L1311.6,1294.4 L1309.6,1298.1 L1307.6,1298.9 L1305.6,1297.5 L1303.6,1296.0 L1301.6,1297.9 L1299.6,1303.6 L1297.6,1306.2 L1295.6,1308.2 L1293.6,1308.8 L1291.6,1309.6 L1289.6,1310.3 L1287.5,1308.4 L1285.5,1311.6 L1283.5,1312.0 L1281.5,1314.2 L1279.5,1318.3 L1277.5,1318.9 L1275.5,1316.1 L1273.5,1316.6 L1271.5,1319.0 L1269.5,1319.2 L1267.5,1321.1 L1265.5,1320.4 L1263.5,1322.2 L1261.5,1323.6 L1259.5,1324.8 L1257.5,1328.9 L1255.5,1329.7 L1253.4,1329.4 L1251.4,1333.1 L1249.4,1333.6 L1247.4,1333.8 L1245.4,1336.8 L1243.4,1336.5 L1241.4,1339.3 L1239.4,1338.9 L1237.4,1339.6 L1235.4,1340.9 L1233.4,1342.1 L1231.4,1340.6 L1229.4,1340.0 L1227.4,1343.2 L1225.4,1344.1 L1223.4,1345.1 L1221.4,1348.5 L1219.3,1349.9 L1217.3,1349.6 L1215.3,1350.1 L1213.3,1350.5 L1211.3,1349.7 L1209.3,1351.9 L1207.3,1351.2 L1205.3,1355.4 L1203.3,1356.4 L1201.3,1358.0 L1199.3,1356.5 L1197.3,1357.9 L1195.3,1357.2 L1193.3,1358.6 L1191.3,1356.4 L1189.3,1357.0 L1187.2,1357.2 L1185.2,1359.1 L1183.2,1362.0 L1181.2,1360.2 L1179.2,1362.0 L1177.2,1362.4 L1175.2,1362.5 L1173.2,1364.7 L1171.2,1360.5 L1169.2,1360.2 L1167.2,1357.1 L1165.2,1356.1 L1163.2,1358.6 L1161.2,1362.1 L1159.2,1360.4 L1157.2,1359.6 L1155.2,1358.3 L1153.1,1361.3 L1151.1,1359.3 L1149.1,1355.0 L1147.1,1351.1 L1145.1,1351.3 L1143.1,1347.3 L1141.1,1343.5 L1139.1,1340.1 L1137.1,1333.9 L1135.1,1331.0 L1133.1,1331.5 L1131.1,1332.7 L1129.1,1332.2 L1127.1,1329.4 L1125.1,1333.8 L1123.1,1338.4 L1121.1,1340.8 L1119.0,1347.4 L1117.0,1353.1 L1115.0,1355.5 L1113.0,1358.9 L1111.0,1361.5 L1109.0,1371.0 L1107.0,1376.4 L1105.0,1379.6 L1103.0,1379.6 L1101.0,1381.5 L1099.0,1384.2 L1097.0,1388.6 L1095.0,1392.8 L1093.0,1394.9 L1091.0,1394.6 L1089.0,1398.3 L1087.0,1400.6 L1084.9,1399.0 L1082.9,1402.4 L1080.9,1401.3 L1078.9,1402.7 L1076.9,1406.4 L1074.9,1404.7 L1072.9,1406.0 L1070.9,1408.0 L1068.9,1412.2 L1066.9,1411.3 L1064.9,1410.7 L1062.9,1410.4 L1060.9,1416.7 L1058.9,1419.3 L1056.9,1418.7 L1054.9,1414.6 L1052.9,1415.3 L1050.8,1411.8 L1048.8,1415.4 L1046.8,1410.0 L1044.8,1415.9 L1042.8,1414.7 L1040.8,1415.9 L1038.8,1419.0 L1036.8,1416.9 L1034.8,1415.8 L1032.8,1415.7 L1030.8,1416.2 L1028.8,1422.2 L1026.8,1422.1 L1024.8,1422.1 L1022.8,1424.4 L1020.8,1423.5 L1018.8,1431.5 L1016.7,1432.7 L1014.7,1433.1 L1012.7,1435.4 L1010.7,1433.7 L1008.7,1438.0 L1006.7,1441.8 L1004.7,1444.4 L1002.7,1443.4 L1000.7,1444.0 L998.7,1441.4 L996.7,1444.9 L994.7,1442.5 L992.7,1443.5 L990.7,1440.2 L988.7,1433.7 L986.7,1430.4 L984.6,1427.9 L982.6,1429.0 L980.6,1426.4 L978.6,1425.8 L976.6,1422.2 L974.6,1424.9 L972.6,1426.1 L970.6,1423.1 L968.6,1420.0 L966.6,1420.8 L964.6,1417.2 L962.6,1416.3 L960.6,1412.6 L958.6,1409.0 L956.6,1400.8 L954.6,1397.9 L952.6,1396.0 L950.5,1390.3 L948.5,1389.4 L946.5,1387.9 L944.5,1381.5 L942.5,1381.9 L940.5,1383.0 L938.5,1383.5 L936.5,1378.4 L934.5,1370.5 Z" fill="#000"/>
<path d="M934.5,1349.5 L936.5,1368.0 L938.5,1384.9 L940.5,1379.3 L942.5,1361.8 L944.5,1386.6 L946.5,1378.5 L948.5,1387.4 L950.5,1382.1 L952.5,1392.6 L954.5,1360.0 L956.5,1407.7 L958.5,1384.9 L960.5,1393.6 L962.5,1408.0 L964.5,1406.8 L966.5,1467.0 L968.5,1399.9 L970.5,1420.8 L972.5,1398.3 L974.5,1369.5 L976.5,1411.9 L978.5,1431.4 L980.5,1454.3 L982.5,1420.9 L984.5,1387.1 L986.5,1402.9 L988.5,1442.8 L990.5,1422.2 L992.5,1415.3 L994.5,1407.1 L996.5,1453.5 L998.5,1421.2 L1000.5,1434.3 L1002.5,1428.9 L1004.5,1444.3 L1006.5,1414.9 L1008.5,1398.4 L1010.5,1413.6 L1012.5,1430.1 L1014.5,1413.3 L1016.5,1428.5 L1018.5,1417.9 L1020.5,1419.7 L1022.5,1399.1 L1024.5,1436.5 L1026.5,1381.5 L1028.5,1419.4 L1030.5,1404.3 L1032.5,1433.4 L1034.5,1390.8 L1036.5,1409.0 L1038.5,1423.6 L1040.5,1428.2 L1042.5,1442.8 L1044.5,1395.3 L1046.5,1394.6 L1048.5,1419.0 L1050.5,1380.8 L1052.5,1417.9 L1054.5,1408.5 L1056.5,1375.9 L1058.5,1428.7 L1060.5,1371.5 L1062.5,1370.6 L1064.5,1400.0 L1066.5,1388.2 L1068.5,1382.6 L1070.5,1411.9 L1072.5,1444.4 L1074.5,1367.4 L1076.5,1407.2 L1078.5,1413.7 L1080.5,1408.7 L1082.5,1387.1 L1084.5,1370.5 L1086.5,1400.4 L1088.5,1396.7 L1090.5,1397.3 L1092.5,1378.6 L1094.5,1367.3 L1096.5,1340.9 L1098.5,1390.0 L1100.5,1364.4 L1102.5,1403.4 L1104.5,1398.3 L1106.5,1325.8 L1108.5,1370.8 L1110.5,1342.3 L1112.5,1346.6 L1114.5,1343.9 L1116.5,1339.9 L1118.5,1351.1 L1120.5,1331.9 L1122.5,1314.2 L1124.5,1342.2 L1126.5,1323.6 L1128.5,1314.5 L1130.5,1299.3 L1132.5,1333.6 L1134.5,1350.5 L1136.5,1319.0 L1138.5,1331.8 L1140.5,1326.5 L1142.5,1360.2 L1144.5,1324.3 L1146.5,1317.7 L1148.5,1350.0 L1150.5,1366.1 L1152.5,1366.6 L1154.5,1349.3 L1156.5,1360.1 L1158.5,1384.4 L1160.5,1368.2 L1162.5,1344.8 L1164.5,1350.2 L1166.5,1335.5 L1168.5,1363.4 L1170.5,1356.3 L1172.5,1346.1 L1174.5,1362.5 L1176.5,1366.4 L1178.5,1345.4 L1180.5,1367.8 L1182.5,1359.4 L1184.5,1355.5 L1186.5,1347.5 L1188.5,1361.9 L1190.5,1330.4 L1192.5,1355.6 L1194.5,1335.3 L1196.5,1336.6 L1198.5,1330.4 L1200.5,1327.6 L1202.5,1364.4 L1204.5,1345.3 L1206.5,1344.8 L1208.5,1335.4 L1210.5,1334.8 L1212.5,1341.1 L1214.5,1330.8 L1216.5,1326.8 L1218.5,1348.6 L1220.5,1337.2 L1222.5,1321.4 L1224.5,1335.7 L1226.5,1336.9 L1228.5,1348.6 L1230.5,1329.3 L1232.5,1324.0 L1234.5,1342.9 L1236.5,1332.2 L1238.5,1310.9 L1240.5,1293.7 L1242.5,1337.9 L1244.5,1315.7 L1246.5,1338.1 L1248.5,1330.2 L1250.5,1320.7 L1252.5,1325.7 L1254.5,1323.5 L1256.5,1329.9 L1258.5,1323.9 L1260.5,1341.6 L1262.5,1315.0 L1264.5,1298.3 L1266.5,1325.0 L1268.5,1303.2 L1270.5,1320.7 L1272.5,1324.7 L1274.5,1319.8 L1276.5,1313.3 L1278.5,1301.5 L1280.5,1298.1 L1282.5,1297.6 L1284.5,1323.4 L1286.5,1309.0 L1288.5,1311.0 L1290.5,1290.4 L1292.5,1316.1 L1294.5,1296.9 L1296.5,1302.0 L1298.5,1300.6 L1300.5,1263.7 L1302.5,1288.2 L1304.5,1308.5 L1306.5,1280.1 L1308.5,1305.4 L1310.5,1310.3 L1312.5,1276.0 L1314.5,1312.1 L1316.5,1294.9 L1318.5,1273.3 L1320.5,1281.5 L1322.5,1281.7 L1324.5,1243.3 L1326.5,1251.3 L1328.5,1291.0 L1330.5,1245.6 L1332.5,1271.7 L1334.5,1216.8 L1336.5,1252.9 L1338.5,1221.2 L1340.5,1205.2 L1342.5,1229.6 L1344.5,1177.6 L1346.5,1200.4 L1348.5,1214.8 L1350.5,1190.6 L1352.5,1169.7 L1354.5,1179.4 L1356.5,1151.7 L1358.5,1150.4 L1360.5,1152.4 L1362.5,1201.7 L1364.5,1171.8 L1366.5,1189.2 L1368.5,1206.1 L1370.5,1202.8 L1372.5,1206.8 L1374.5,1217.1 L1376.5,1209.5 L1378.5,1246.5 L1380.5,1242.2 L1382.5,1250.8 L1384.5,1224.5 L1386.5,1221.8 L1388.5,1236.3 L1390.5,1216.9 L1392.5,1238.9 L1394.5,1260.6 L1396.5,1262.0 L1398.5,1229.9 L1400.5,1257.2 L1402.5,1229.7 L1404.5,1232.7 L1406.5,1236.3 L1408.5,1224.6 L1410.5,1228.3 L1412.5,1229.2 L1414.5,1240.2 L1416.5,1221.2 L1418.5,1240.7 L1420.5,1228.4 L1422.5,1232.5 L1424.5,1218.4 L1426.5,1230.7 L1428.5,1246.5 L1430.5,1233.1 L1432.5,1252.3 L1434.5,1215.3 L1436.5,1237.3 L1438.5,1243.6" fill="none" stroke="#000" stroke-width="3.6" stroke-linejoin="round" stroke-linecap="round"/>
<path d="M1023.4,1442.4 L1024.4,1441.8 L1025.4,1441.2 L1026.4,1440.6 L1027.4,1439.9 L1028.4,1439.3 L1029.4,1438.7 L1030.4,1438.1 L1031.4,1437.5 L1032.4,1436.8 L1033.4,1436.2 L1034.4,1435.6 L1035.4,1434.9 L1036.4,1434.3 L1037.4,1433.6 L1038.4,1433.0 L1039.4,1432.3 L1040.4,1431.6 L1041.4,1431.0 L1042.4,1430.3 L1043.4,1429.6 L1044.4,1428.9 L1045.4,1428.2 L1046.4,1427.5 L1047.4,1426.8 L1048.4,1426.1 L1049.4,1425.4 L1050.4,1424.6 L1051.4,1423.9 L1052.4,1423.1 L1053.4,1422.4 L1054.4,1421.6 L1055.4,1420.8 L1056.4,1420.1 L1057.4,1419.3 L1058.5,1418.5 L1059.5,1417.6 L1060.5,1416.8 L1061.5,1416.0 L1062.5,1415.1 L1063.5,1414.3 L1064.5,1413.4 L1065.5,1412.5 L1066.5,1411.6 L1067.5,1410.7 L1068.5,1409.8 L1069.5,1408.8 L1070.5,1407.8 L1071.5,1406.9 L1072.5,1405.9 L1073.5,1404.9 L1074.5,1403.8 L1075.5,1402.8 L1076.5,1401.7 L1077.5,1400.6 L1078.5,1399.5 L1079.5,1398.4 L1080.5,1397.2 L1081.5,1396.0 L1082.5,1394.8 L1083.5,1393.6 L1084.5,1392.3 L1085.5,1391.1 L1086.5,1389.8 L1087.5,1388.4 L1088.5,1387.1 L1089.5,1385.7 L1090.5,1384.3 L1091.5,1382.8 L1092.5,1381.3 L1093.5,1379.8 L1094.5,1378.3 L1095.5,1376.7 L1096.5,1375.2 L1097.5,1373.5 L1098.5,1371.9 L1099.5,1370.2 L1100.5,1368.5 L1101.5,1366.8 L1102.5,1365.1 L1103.5,1363.3 L1104.5,1361.6 L1105.5,1359.8 L1106.5,1358.0 L1107.5,1356.2 L1108.5,1354.4 L1109.5,1352.6 L1110.5,1350.9 L1111.5,1349.1 L1112.5,1347.4 L1113.5,1345.7 L1114.5,1344.0 L1115.5,1342.4 L1116.5,1340.9 L1117.5,1339.4 L1118.5,1338.0 L1119.5,1336.6 L1120.5,1335.4 L1121.5,1334.2 L1122.5,1333.1 L1123.5,1332.2 L1124.5,1331.3 L1125.5,1330.5 L1126.5,1329.9 L1127.5,1329.4 L1128.6,1329.1 L1129.6,1329.0 L1130.6,1329.1 L1131.6,1329.4 L1132.6,1329.9 L1133.6,1330.6 L1134.6,1331.4 L1135.6,1332.4 L1136.6,1333.5 L1137.6,1334.6 L1138.6,1335.9 L1139.6,1337.2 L1140.6,1338.5 L1141.6,1339.9 L1142.6,1341.3 L1143.6,1342.6 L1144.6,1343.9 L1145.6,1345.2 L1146.6,1346.5 L1147.6,1347.7 L1148.6,1348.9 L1149.6,1350.0 L1150.6,1351.1 L1151.6,1352.1 L1152.6,1353.0 L1153.6,1353.9 L1154.6,1354.8 L1155.6,1355.5 L1156.6,1356.3 L1157.6,1356.9 L1158.6,1357.6 L1159.6,1358.1 L1160.6,1358.7 L1161.6,1359.1 L1162.6,1359.6 L1163.6,1360.0 L1164.6,1360.3 L1165.6,1360.6 L1166.6,1360.9 L1167.6,1361.2 L1168.6,1361.4 L1169.6,1361.5 L1170.6,1361.7 L1171.6,1361.8 L1172.6,1361.9 L1173.6,1362.0 L1174.6,1362.0 L1175.6,1362.0 L1176.6,1362.0 L1177.6,1362.0 L1178.6,1361.9 L1179.6,1361.9 L1180.6,1361.8 L1181.6,1361.7 L1182.6,1361.6 L1183.6,1361.4 L1184.6,1361.3 L1185.6,1361.1 L1186.6,1361.0 L1187.6,1360.8 L1188.6,1360.6 L1189.6,1360.4 L1190.6,1360.1 L1191.6,1359.9 L1192.6,1359.7 L1193.6,1359.4 L1194.6,1359.2 L1195.6,1358.9 L1196.6,1358.6 L1197.7,1358.3 L1198.7,1358.0 L1199.7,1357.7 L1200.7,1357.4 L1201.7,1357.1 L1202.7,1356.8 L1203.7,1356.5 L1204.7,1356.2 L1205.7,1355.8 L1206.7,1355.5 L1207.7,1355.1 L1208.7,1354.8 L1209.7,1354.4 L1210.7,1354.1 L1211.7,1353.7 L1212.7,1353.3 L1213.7,1352.9 L1214.7,1352.6 L1215.7,1352.2 L1216.7,1351.8 L1217.7,1351.4 L1218.7,1351.0 L1219.7,1350.6 L1220.7,1350.2 L1221.7,1349.8 L1222.7,1349.4 L1223.7,1349.0 L1224.7,1348.6 L1225.7,1348.2 L1226.7,1347.8 L1227.7,1347.3 L1228.7,1346.9 L1229.7,1346.5 L1230.7,1346.1 L1231.7,1345.6 L1232.7,1345.2 L1233.7,1344.7 L1234.7,1344.3 L1235.7,1343.9 L1236.7,1343.4 L1237.7,1343.0 L1238.7,1342.5 L1239.7,1342.1 L1240.7,1341.6 L1241.7,1341.2 L1242.7,1340.7 L1243.7,1340.2 L1244.7,1339.8 L1245.7,1339.3 L1246.7,1338.8 L1247.7,1338.4 L1248.7,1337.9 L1249.7,1337.4 L1250.7,1337.0 L1251.7,1336.5 L1252.7,1336.0 L1253.7,1335.5 L1254.7,1335.0 L1255.7,1334.5 L1256.7,1334.0 L1257.7,1333.6 L1258.7,1333.1 L1259.7,1332.6 L1260.7,1332.1 L1261.7,1331.6 L1262.7,1331.0 L1263.7,1330.5 L1264.7,1330.0 L1265.7,1329.5 L1266.7,1329.0 L1267.8,1328.5 L1268.8,1327.9 L1269.8,1327.4 L1270.8,1326.9 L1271.8,1326.4 L1272.8,1325.8 L1273.8,1325.3 L1274.8,1324.7 L1275.8,1324.2 L1276.8,1323.6 L1277.8,1323.1 L1278.8,1322.5 L1279.8,1321.9 L1280.8,1321.4 L1281.8,1320.8 L1282.8,1320.2 L1283.8,1319.6 L1284.8,1319.0 L1285.8,1318.4 L1286.8,1317.8 L1287.8,1317.2 L1288.8,1316.5 L1289.8,1315.9 L1290.8,1315.3 L1291.8,1314.6 L1292.8,1313.9 L1293.8,1313.2 L1294.8,1312.5 L1295.8,1311.8 L1296.8,1311.1 L1297.8,1310.4 L1298.8,1309.6 L1299.8,1308.8 L1300.8,1308.0 L1301.8,1307.1 L1302.8,1306.2 L1303.8,1305.3 L1304.8,1304.3 L1305.8,1303.3 L1306.8,1302.3 L1307.8,1301.2 L1308.8,1300.0 L1309.8,1298.8 L1310.8,1297.5 L1311.8,1296.1 L1312.8,1294.7 L1313.8,1293.1 L1314.8,1291.5 L1315.8,1289.7 L1316.8,1287.8 L1317.8,1285.8 L1318.8,1283.7 L1319.8,1281.5 L1320.8,1279.1 L1321.8,1276.5 L1322.8,1273.8 L1323.8,1271.0 L1324.8,1267.9 L1325.8,1264.7 L1326.8,1261.4 L1327.8,1257.8 L1328.8,1254.1 L1329.8,1250.2 L1330.8,1246.1 L1331.8,1241.8 L1332.8,1237.4 L1333.8,1232.8 L1334.8,1228.1 L1335.8,1223.3 L1336.9,1218.4 L1337.9,1213.3 L1338.9,1208.2 L1339.9,1203.1 L1340.9,1197.9 L1341.9,1192.8 L1342.9,1187.7 L1343.9,1182.8 L1344.9,1178.0 L1345.9,1173.4 L1346.9,1169.1 L1347.9,1165.1 L1348.9,1161.5 L1349.9,1158.3 L1350.9,1155.6 L1351.9,1153.4 L1352.9,1151.8 L1353.9,1150.8 L1354.9,1150.5 L1355.9,1151.0 L1356.9,1152.6 L1357.9,1155.0 L1358.9,1158.1 L1359.9,1161.8 L1360.9,1166.1 L1361.9,1170.7 L1362.9,1175.5 L1363.9,1180.5 L1364.9,1185.5 L1365.9,1190.4 L1366.9,1195.1 L1367.9,1199.8 L1368.9,1204.2 L1369.9,1208.3 L1370.9,1212.3 L1371.9,1216.0 L1372.9,1219.4 L1373.9,1222.6 L1374.9,1225.6 L1375.9,1228.3 L1376.9,1230.8 L1377.9,1233.2 L1378.9,1235.3 L1379.9,1237.3 L1380.9,1239.1 L1381.9,1240.7 L1382.9,1242.2 L1383.9,1243.6 L1384.9,1244.9 L1385.9,1246.0 L1386.9,1247.1 L1387.9,1248.0 L1388.9,1248.8 L1389.9,1249.6 L1390.9,1250.3 L1391.9,1250.9 L1392.9,1251.5 L1393.9,1252.0 L1394.9,1252.4 L1395.9,1252.8 L1396.9,1253.2 L1397.9,1253.5 L1398.9,1253.7 L1399.9,1253.9 L1400.9,1254.1 L1401.9,1254.2 L1402.9,1254.4 L1403.9,1254.4 L1404.9,1254.5 L1405.9,1254.5 L1407.0,1254.5 L1408.0,1254.5 L1409.0,1254.4 L1410.0,1254.4 L1411.0,1254.3 L1412.0,1254.2 L1413.0,1254.1 L1414.0,1254.0 L1415.0,1253.8 L1416.0,1253.6 L1417.0,1253.5 L1418.0,1253.3 L1419.0,1253.1 L1420.0,1252.9 L1421.0,1252.6 L1422.0,1252.4 L1423.0,1252.2 L1424.0,1251.9 L1425.0,1251.7 L1426.0,1251.4 L1427.0,1251.1 L1428.0,1250.8 L1429.0,1250.5 L1430.0,1250.3 L1431.0,1249.9 L1432.0,1249.6 L1433.0,1249.3 L1434.0,1249.0 L1435.0,1248.7 L1436.0,1248.3 L1437.0,1248.0 L1438.0,1247.7 L1439.0,1247.3 L1440.0,1247.0 L1441.0,1246.6" fill="none" stroke="#b00000" stroke-width="3" stroke-linejoin="round" stroke-linecap="round"/>
<path d="M1023.4,1449.5 L1024.4,1449.1 L1025.4,1448.6 L1026.4,1448.1 L1027.4,1447.6 L1028.4,1447.2 L1029.4,1446.7 L1030.4,1446.2 L1031.4,1445.7 L1032.4,1445.3 L1033.4,1444.8 L1034.4,1444.3 L1035.4,1443.8 L1036.4,1443.4 L1037.4,1442.9 L1038.4,1442.4 L1039.4,1441.9 L1040.4,1441.5 L1041.4,1441.0 L1042.4,1440.5 L1043.4,1440.0 L1044.4,1439.6 L1045.4,1439.1 L1046.4,1438.6 L1047.4,1438.1 L1048.4,1437.7 L1049.4,1437.2 L1050.4,1436.7 L1051.4,1436.2 L1052.4,1435.8 L1053.4,1435.3 L1054.4,1434.8 L1055.4,1434.3 L1056.4,1433.9 L1057.4,1433.4 L1058.5,1432.9 L1059.5,1432.4 L1060.5,1431.9 L1061.5,1431.5 L1062.5,1431.0 L1063.5,1430.5 L1064.5,1430.0 L1065.5,1429.6 L1066.5,1429.1 L1067.5,1428.6 L1068.5,1428.1 L1069.5,1427.7 L1070.5,1427.2 L1071.5,1426.7 L1072.5,1426.2 L1073.5,1425.8 L1074.5,1425.3 L1075.5,1424.8 L1076.5,1424.3 L1077.5,1423.9 L1078.5,1423.4 L1079.5,1422.9 L1080.5,1422.4 L1081.5,1422.0 L1082.5,1421.5 L1083.5,1421.0 L1084.5,1420.5 L1085.5,1420.0 L1086.5,1419.6 L1087.5,1419.1 L1088.5,1418.6 L1089.5,1418.1 L1090.5,1417.7 L1091.5,1417.2 L1092.5,1416.7 L1093.5,1416.2 L1094.5,1415.8 L1095.5,1415.3 L1096.5,1414.8 L1097.5,1414.3 L1098.5,1413.8 L1099.5,1413.4 L1100.5,1412.9 L1101.5,1412.4 L1102.5,1411.9 L1103.5,1411.5 L1104.5,1411.0 L1105.5,1410.5 L1106.5,1410.0 L1107.5,1409.6 L1108.5,1409.1 L1109.5,1408.6 L1110.5,1408.1 L1111.5,1407.6 L1112.5,1407.2 L1113.5,1406.7 L1114.5,1406.2 L1115.5,1405.7 L1116.5,1405.3 L1117.5,1404.8 L1118.5,1404.3 L1119.5,1403.8 L1120.5,1403.3 L1121.5,1402.9 L1122.5,1402.4 L1123.5,1401.9 L1124.5,1401.4 L1125.5,1401.0 L1126.5,1400.5 L1127.5,1400.0 L1128.6,1399.5 L1129.6,1399.0 L1130.6,1398.6 L1131.6,1398.1 L1132.6,1397.6 L1133.6,1397.1 L1134.6,1396.6 L1135.6,1396.2 L1136.6,1395.7 L1137.6,1395.2 L1138.6,1394.7 L1139.6,1394.2 L1140.6,1393.8 L1141.6,1393.3 L1142.6,1392.8 L1143.6,1392.3 L1144.6,1391.9 L1145.6,1391.4 L1146.6,1390.9 L1147.6,1390.4 L1148.6,1389.9 L1149.6,1389.5 L1150.6,1389.0 L1151.6,1388.5 L1152.6,1388.0 L1153.6,1387.5 L1154.6,1387.1 L1155.6,1386.6 L1156.6,1386.1 L1157.6,1385.6 L1158.6,1385.1 L1159.6,1384.6 L1160.6,1384.2 L1161.6,1383.7 L1162.6,1383.2 L1163.6,1382.7 L1164.6,1382.2 L1165.6,1381.8 L1166.6,1381.3 L1167.6,1380.8 L1168.6,1380.3 L1169.6,1379.8 L1170.6,1379.3 L1171.6,1378.9 L1172.6,1378.4 L1173.6,1377.9 L1174.6,1377.4 L1175.6,1376.9 L1176.6,1376.4 L1177.6,1376.0 L1178.6,1375.5 L1179.6,1375.0 L1180.6,1374.5 L1181.6,1374.0 L1182.6,1373.5 L1183.6,1373.1 L1184.6,1372.6 L1185.6,1372.1 L1186.6,1371.6 L1187.6,1371.1 L1188.6,1370.6 L1189.6,1370.1 L1190.6,1369.7 L1191.6,1369.2 L1192.6,1368.7 L1193.6,1368.2 L1194.6,1367.7 L1195.6,1367.2 L1196.6,1366.7 L1197.7,1366.3 L1198.7,1365.8 L1199.7,1365.3 L1200.7,1364.8 L1201.7,1364.3 L1202.7,1363.8 L1203.7,1363.3 L1204.7,1362.8 L1205.7,1362.3 L1206.7,1361.8 L1207.7,1361.4 L1208.7,1360.9 L1209.7,1360.4 L1210.7,1359.9 L1211.7,1359.4 L1212.7,1358.9 L1213.7,1358.4 L1214.7,1357.9 L1215.7,1357.4 L1216.7,1356.9 L1217.7,1356.4 L1218.7,1355.9 L1219.7,1355.4 L1220.7,1354.9 L1221.7,1354.4 L1222.7,1353.9 L1223.7,1353.4 L1224.7,1352.9 L1225.7,1352.5 L1226.7,1352.0 L1227.7,1351.5 L1228.7,1351.0 L1229.7,1350.4 L1230.7,1349.9 L1231.7,1349.4 L1232.7,1348.9 L1233.7,1348.4 L1234.7,1347.9 L1235.7,1347.4 L1236.7,1346.9 L1237.7,1346.4 L1238.7,1345.9 L1239.7,1345.4 L1240.7,1344.9 L1241.7,1344.4 L1242.7,1343.9 L1243.7,1343.4 L1244.7,1342.8 L1245.7,1342.3 L1246.7,1341.8 L1247.7,1341.3 L1248.7,1340.8 L1249.7,1340.3 L1250.7,1339.7 L1251.7,1339.2 L1252.7,1338.7 L1253.7,1338.2 L1254.7,1337.6 L1255.7,1337.1 L1256.7,1336.6 L1257.7,1336.0 L1258.7,1335.5 L1259.7,1335.0 L1260.7,1334.4 L1261.7,1333.9 L1262.7,1333.4 L1263.7,1332.8 L1264.7,1332.3 L1265.7,1331.7 L1266.7,1331.2 L1267.8,1330.6 L1268.8,1330.1 L1269.8,1329.5 L1270.8,1329.0 L1271.8,1328.4 L1272.8,1327.8 L1273.8,1327.3 L1274.8,1326.7 L1275.8,1326.1 L1276.8,1325.5 L1277.8,1325.0 L1278.8,1324.4 L1279.8,1323.8 L1280.8,1323.2 L1281.8,1322.6 L1282.8,1322.0 L1283.8,1321.4 L1284.8,1320.7 L1285.8,1320.1 L1286.8,1319.5 L1287.8,1318.8 L1288.8,1318.2 L1289.8,1317.5 L1290.8,1316.9 L1291.8,1316.2 L1292.8,1315.5 L1293.8,1314.8 L1294.8,1314.1 L1295.8,1313.4 L1296.8,1312.6 L1297.8,1311.8 L1298.8,1311.0 L1299.8,1310.2 L1300.8,1309.4 L1301.8,1308.5 L1302.8,1307.6 L1303.8,1306.7 L1304.8,1305.7 L1305.8,1304.7 L1306.8,1303.6 L1307.8,1302.5 L1308.8,1301.3 L1309.8,1300.1 L1310.8,1298.8 L1311.8,1297.4 L1312.8,1295.9 L1313.8,1294.3 L1314.8,1292.7 L1315.8,1290.9 L1316.8,1289.0 L1317.8,1287.0 L1318.8,1284.9 L1319.8,1282.6 L1320.8,1280.2 L1321.8,1277.7 L1322.8,1275.0 L1323.8,1272.1 L1324.8,1269.0 L1325.8,1265.8 L1326.8,1262.4 L1327.8,1258.9 L1328.8,1255.1 L1329.8,1251.2 L1330.8,1247.1 L1331.8,1242.9 L1332.8,1238.4 L1333.8,1233.9 L1334.8,1229.1 L1335.8,1224.3 L1336.9,1219.3 L1337.9,1214.3 L1338.9,1209.2 L1339.9,1204.0 L1340.9,1198.9 L1341.9,1193.7 L1342.9,1188.7 L1343.9,1183.7 L1344.9,1178.9 L1345.9,1174.3 L1346.9,1170.0 L1347.9,1166.0 L1348.9,1162.4 L1349.9,1159.2 L1350.9,1156.5 L1351.9,1154.3 L1352.9,1152.7 L1353.9,1151.7 L1354.9,1151.3 L1355.9,1151.9 L1356.9,1153.4 L1357.9,1155.8 L1358.9,1158.9 L1359.9,1162.6 L1360.9,1166.9 L1361.9,1171.5 L1362.9,1176.3 L1363.9,1181.3 L1364.9,1186.2 L1365.9,1191.1 L1366.9,1195.9 L1367.9,1200.5 L1368.9,1204.9 L1369.9,1209.1 L1370.9,1213.0 L1371.9,1216.7 L1372.9,1220.1 L1373.9,1223.3 L1374.9,1226.3 L1375.9,1229.0 L1376.9,1231.5 L1377.9,1233.9 L1378.9,1236.0 L1379.9,1238.0 L1380.9,1239.8 L1381.9,1241.4 L1382.9,1242.9 L1383.9,1244.3 L1384.9,1245.5 L1385.9,1246.7 L1386.9,1247.7 L1387.9,1248.6 L1388.9,1249.5 L1389.9,1250.3 L1390.9,1250.9 L1391.9,1251.6 L1392.9,1252.1 L1393.9,1252.6 L1394.9,1253.0 L1395.9,1253.4 L1396.9,1253.8 L1397.9,1254.1 L1398.9,1254.3 L1399.9,1254.5 L1400.9,1254.7 L1401.9,1254.8 L1402.9,1254.9 L1403.9,1255.0 L1404.9,1255.1 L1405.9,1255.1 L1407.0,1255.1 L1408.0,1255.0 L1409.0,1255.0 L1410.0,1254.9 L1411.0,1254.8 L1412.0,1254.7 L1413.0,1254.6 L1414.0,1254.5 L1415.0,1254.3 L1416.0,1254.2 L1417.0,1254.0 L1418.0,1253.8 L1419.0,1253.6 L1420.0,1253.4 L1421.0,1253.2 L1422.0,1252.9 L1423.0,1252.7 L1424.0,1252.4 L1425.0,1252.2 L1426.0,1251.9 L1427.0,1251.6 L1428.0,1251.3 L1429.0,1251.0 L1430.0,1250.7 L1431.0,1250.4 L1432.0,1250.1 L1433.0,1249.8 L1434.0,1249.5 L1435.0,1249.1 L1436.0,1248.8 L1437.0,1248.5 L1438.0,1248.1 L1439.0,1247.8 L1440.0,1247.4 L1441.0,1247.1" fill="none" stroke="#0000ff" stroke-width="4.5" stroke-linejoin="round" stroke-linecap="round"/>
<path d="M1023.4,1442.6 L1024.4,1442.0 L1025.4,1441.4 L1026.4,1440.8 L1027.4,1440.2 L1028.4,1439.6 L1029.4,1439.0 L1030.4,1438.4 L1031.4,1437.7 L1032.4,1437.1 L1033.4,1436.5 L1034.4,1435.8 L1035.4,1435.2 L1036.4,1434.6 L1037.4,1433.9 L1038.4,1433.3 L1039.4,1432.6 L1040.4,1431.9 L1041.4,1431.3 L1042.4,1430.6 L1043.4,1429.9 L1044.4,1429.2 L1045.4,1428.5 L1046.4,1427.8 L1047.4,1427.1 L1048.4,1426.4 L1049.4,1425.7 L1050.4,1424.9 L1051.4,1424.2 L1052.4,1423.4 L1053.4,1422.7 L1054.4,1421.9 L1055.4,1421.2 L1056.4,1420.4 L1057.4,1419.6 L1058.5,1418.8 L1059.5,1418.0 L1060.5,1417.1 L1061.5,1416.3 L1062.5,1415.5 L1063.5,1414.6 L1064.5,1413.7 L1065.5,1412.8 L1066.5,1411.9 L1067.5,1411.0 L1068.5,1410.1 L1069.5,1409.2 L1070.5,1408.2 L1071.5,1407.2 L1072.5,1406.2 L1073.5,1405.2 L1074.5,1404.2 L1075.5,1403.1 L1076.5,1402.1 L1077.5,1401.0 L1078.5,1399.9 L1079.5,1398.7 L1080.5,1397.6 L1081.5,1396.4 L1082.5,1395.2 L1083.5,1394.0 L1084.5,1392.7 L1085.5,1391.5 L1086.5,1390.2 L1087.5,1388.8 L1088.5,1387.5 L1089.5,1386.1 L1090.5,1384.7 L1091.5,1383.2 L1092.5,1381.8 L1093.5,1380.3 L1094.5,1378.7 L1095.5,1377.2 L1096.5,1375.6 L1097.5,1374.0 L1098.5,1372.3 L1099.5,1370.7 L1100.5,1369.0 L1101.5,1367.3 L1102.5,1365.5 L1103.5,1363.8 L1104.5,1362.0 L1105.5,1360.2 L1106.5,1358.4 L1107.5,1356.7 L1108.5,1354.9 L1109.5,1353.1 L1110.5,1351.3 L1111.5,1349.6 L1112.5,1347.9 L1113.5,1346.2 L1114.5,1344.5 L1115.5,1342.9 L1116.5,1341.4 L1117.5,1339.9 L1118.5,1338.5 L1119.5,1337.1 L1120.5,1335.9 L1121.5,1334.7 L1122.5,1333.6 L1123.5,1332.7 L1124.5,1331.8 L1125.5,1331.1 L1126.5,1330.5 L1127.5,1329.9 L1128.6,1329.6 L1129.6,1329.5 L1130.6,1329.6 L1131.6,1330.0 L1132.6,1330.5 L1133.6,1331.2 L1134.6,1332.0 L1135.6,1333.0 L1136.6,1334.1 L1137.6,1335.2 L1138.6,1336.5 L1139.6,1337.8 L1140.6,1339.2 L1141.6,1340.5 L1142.6,1341.9 L1143.6,1343.2 L1144.6,1344.6 L1145.6,1345.9 L1146.6,1347.1 L1147.6,1348.4 L1148.6,1349.6 L1149.6,1350.7 L1150.6,1351.7 L1151.6,1352.8 L1152.6,1353.7 L1153.6,1354.6 L1154.6,1355.5 L1155.6,1356.3 L1156.6,1357.0 L1157.6,1357.7 L1158.6,1358.3 L1159.6,1358.9 L1160.6,1359.4 L1161.6,1359.9 L1162.6,1360.3 L1163.6,1360.7 L1164.6,1361.1 L1165.6,1361.4 L1166.6,1361.7 L1167.6,1362.0 L1168.6,1362.2 L1169.6,1362.4 L1170.6,1362.5 L1171.6,1362.6 L1172.6,1362.7 L1173.6,1362.8 L1174.6,1362.9 L1175.6,1362.9 L1176.6,1362.9 L1177.6,1362.9 L1178.6,1362.8 L1179.6,1362.8 L1180.6,1362.7 L1181.6,1362.6 L1182.6,1362.5 L1183.6,1362.4 L1184.6,1362.3 L1185.6,1362.1 L1186.6,1362.0 L1187.6,1361.8 L1188.6,1361.6 L1189.6,1361.4 L1190.6,1361.2 L1191.6,1361.0 L1192.6,1360.7 L1193.6,1360.5 L1194.6,1360.3 L1195.6,1360.0 L1196.6,1359.7 L1197.7,1359.5 L1198.7,1359.2 L1199.7,1358.9 L1200.7,1358.6 L1201.7,1358.3 L1202.7,1358.0 L1203.7,1357.7 L1204.7,1357.4 L1205.7,1357.1 L1206.7,1356.8 L1207.7,1356.4 L1208.7,1356.1 L1209.7,1355.8 L1210.7,1355.4 L1211.7,1355.1 L1212.7,1354.7 L1213.7,1354.4 L1214.7,1354.0 L1215.7,1353.6 L1216.7,1353.3 L1217.7,1352.9 L1218.7,1352.5 L1219.7,1352.2 L1220.7,1351.8 L1221.7,1351.4 L1222.7,1351.0 L1223.7,1350.6 L1224.7,1350.2 L1225.7,1349.9 L1226.7,1349.5 L1227.7,1349.1 L1228.7,1348.7 L1229.7,1348.3 L1230.7,1347.9 L1231.7,1347.5 L1232.7,1347.1 L1233.7,1346.7 L1234.7,1346.2 L1235.7,1345.8 L1236.7,1345.4 L1237.7,1345.0 L1238.7,1344.6 L1239.7,1344.2 L1240.7,1343.8 L1241.7,1343.3 L1242.7,1342.9 L1243.7,1342.5 L1244.7,1342.1 L1245.7,1341.6 L1246.7,1341.2 L1247.7,1340.8 L1248.7,1340.4 L1249.7,1339.9 L1250.7,1339.5 L1251.7,1339.1 L1252.7,1338.6 L1253.7,1338.2 L1254.7,1337.8 L1255.7,1337.3 L1256.7,1336.9 L1257.7,1336.5 L1258.7,1336.0 L1259.7,1335.6 L1260.7,1335.2 L1261.7,1334.7 L1262.7,1334.3 L1263.7,1333.8 L1264.7,1333.4 L1265.7,1333.0 L1266.7,1332.5 L1267.8,1332.1 L1268.8,1331.6 L1269.8,1331.2 L1270.8,1330.7 L1271.8,1330.3 L1272.8,1329.8 L1273.8,1329.4 L1274.8,1329.0 L1275.8,1328.5 L1276.8,1328.1 L1277.8,1327.6 L1278.8,1327.2 L1279.8,1326.7 L1280.8,1326.3 L1281.8,1325.8 L1282.8,1325.4 L1283.8,1324.9 L1284.8,1324.5 L1285.8,1324.0 L1286.8,1323.5 L1287.8,1323.1 L1288.8,1322.6 L1289.8,1322.2 L1290.8,1321.7 L1291.8,1321.3 L1292.8,1320.8 L1293.8,1320.4 L1294.8,1319.9 L1295.8,1319.5 L1296.8,1319.0 L1297.8,1318.5 L1298.8,1318.1 L1299.8,1317.6 L1300.8,1317.2 L1301.8,1316.7 L1302.8,1316.3 L1303.8,1315.8 L1304.8,1315.3 L1305.8,1314.9 L1306.8,1314.4 L1307.8,1314.0 L1308.8,1313.5 L1309.8,1313.0 L1310.8,1312.6 L1311.8,1312.1 L1312.8,1311.7 L1313.8,1311.2 L1314.8,1310.7 L1315.8,1310.3 L1316.8,1309.8 L1317.8,1309.4 L1318.8,1308.9 L1319.8,1308.4 L1320.8,1308.0 L1321.8,1307.5 L1322.8,1307.1 L1323.8,1306.6 L1324.8,1306.1 L1325.8,1305.7 L1326.8,1305.2 L1327.8,1304.7 L1328.8,1304.3 L1329.8,1303.8 L1330.8,1303.4 L1331.8,1302.9 L1332.8,1302.4 L1333.8,1302.0 L1334.8,1301.5 L1335.8,1301.0 L1336.9,1300.6 L1337.9,1300.1 L1338.9,1299.6 L1339.9,1299.2 L1340.9,1298.7 L1341.9,1298.2 L1342.9,1297.8 L1343.9,1297.3 L1344.9,1296.8 L1345.9,1296.4 L1346.9,1295.9 L1347.9,1295.5 L1348.9,1295.0 L1349.9,1294.5 L1350.9,1294.1 L1351.9,1293.6 L1352.9,1293.1 L1353.9,1292.7 L1354.9,1292.2 L1355.9,1291.7 L1356.9,1291.3 L1357.9,1290.8 L1358.9,1290.3 L1359.9,1289.9 L1360.9,1289.4 L1361.9,1288.9 L1362.9,1288.5 L1363.9,1288.0 L1364.9,1287.5 L1365.9,1287.1 L1366.9,1286.6 L1367.9,1286.1 L1368.9,1285.7 L1369.9,1285.2 L1370.9,1284.7 L1371.9,1284.3 L1372.9,1283.8 L1373.9,1283.3 L1374.9,1282.8 L1375.9,1282.4 L1376.9,1281.9 L1377.9,1281.4 L1378.9,1281.0 L1379.9,1280.5 L1380.9,1280.0 L1381.9,1279.6 L1382.9,1279.1 L1383.9,1278.6 L1384.9,1278.2 L1385.9,1277.7 L1386.9,1277.2 L1387.9,1276.8 L1388.9,1276.3 L1389.9,1275.8 L1390.9,1275.4 L1391.9,1274.9 L1392.9,1274.4 L1393.9,1273.9 L1394.9,1273.5 L1395.9,1273.0 L1396.9,1272.5 L1397.9,1272.1 L1398.9,1271.6 L1399.9,1271.1 L1400.9,1270.7 L1401.9,1270.2 L1402.9,1269.7 L1403.9,1269.3 L1404.9,1268.8 L1405.9,1268.3 L1407.0,1267.8 L1408.0,1267.4 L1409.0,1266.9 L1410.0,1266.4 L1411.0,1266.0 L1412.0,1265.5 L1413.0,1265.0 L1414.0,1264.6 L1415.0,1264.1 L1416.0,1263.6 L1417.0,1263.1 L1418.0,1262.7 L1419.0,1262.2 L1420.0,1261.7 L1421.0,1261.3 L1422.0,1260.8 L1423.0,1260.3 L1424.0,1259.9 L1425.0,1259.4 L1426.0,1258.9 L1427.0,1258.4 L1428.0,1258.0 L1429.0,1257.5 L1430.0,1257.0 L1431.0,1256.6 L1432.0,1256.1 L1433.0,1255.6 L1434.0,1255.2 L1435.0,1254.7 L1436.0,1254.2 L1437.0,1253.7 L1438.0,1253.3 L1439.0,1252.8 L1440.0,1252.3 L1441.0,1251.9" fill="none" stroke="#00ffff" stroke-width="4.2" stroke-linejoin="round" stroke-linecap="round"/>
<path d="M1240.0,1345.3 L1241.0,1344.7 L1242.0,1344.2 L1243.0,1343.7 L1244.0,1343.2 L1245.0,1342.7 L1246.0,1342.2 L1247.0,1341.7 L1248.0,1341.1 L1249.0,1340.6 L1250.0,1340.1 L1251.0,1339.6 L1252.0,1339.1 L1253.0,1338.5 L1254.0,1338.0 L1255.0,1337.5 L1256.0,1337.0 L1257.0,1336.4 L1258.0,1335.9 L1259.0,1335.4 L1260.0,1334.8 L1261.0,1334.3 L1262.0,1333.8 L1263.0,1333.2 L1264.0,1332.7 L1265.0,1332.1 L1266.0,1331.6 L1267.0,1331.0 L1268.0,1330.5 L1269.0,1329.9 L1270.0,1329.4 L1271.0,1328.8 L1272.0,1328.3 L1273.0,1327.7 L1274.0,1327.1 L1275.0,1326.6 L1276.0,1326.0 L1277.0,1325.4 L1278.0,1324.8 L1279.0,1324.2 L1280.0,1323.6 L1281.0,1323.0 L1282.0,1322.4 L1283.0,1321.8 L1284.0,1321.2 L1285.0,1320.6 L1286.0,1320.0 L1287.0,1319.3 L1288.0,1318.7 L1289.0,1318.0 L1290.0,1317.4 L1291.0,1316.7 L1292.0,1316.0 L1293.0,1315.4 L1294.0,1314.6 L1295.0,1313.9 L1296.0,1313.2 L1297.0,1312.4 L1298.0,1311.7 L1299.0,1310.9 L1300.0,1310.1 L1301.0,1309.2 L1302.0,1308.3 L1303.0,1307.4 L1304.0,1306.5 L1305.0,1305.5 L1306.0,1304.5 L1307.0,1303.4 L1308.0,1302.3 L1309.0,1301.1 L1310.0,1299.8 L1311.0,1298.5 L1312.0,1297.1 L1313.0,1295.6 L1314.0,1294.1 L1315.0,1292.4 L1316.0,1290.6 L1317.0,1288.7 L1318.0,1286.7 L1319.0,1284.5 L1320.0,1282.2 L1321.0,1279.8 L1322.0,1277.2 L1323.0,1274.5 L1324.0,1271.6 L1325.0,1268.5 L1326.0,1265.3 L1327.0,1261.9 L1328.0,1258.3 L1329.0,1254.5 L1330.0,1250.6 L1331.0,1246.5 L1332.0,1242.2 L1333.0,1237.7 L1334.0,1233.2 L1335.0,1228.4 L1336.0,1223.6 L1337.0,1218.6 L1338.0,1213.5 L1339.0,1208.4 L1340.0,1203.3 L1341.0,1198.1 L1342.0,1193.0 L1343.0,1188.0 L1344.0,1183.0 L1345.0,1178.3 L1346.0,1173.7 L1347.0,1169.4 L1348.0,1165.5 L1349.0,1161.9 L1350.0,1158.8 L1351.0,1156.2 L1352.0,1154.1 L1353.0,1152.5 L1354.0,1151.6 L1355.0,1151.3 L1356.0,1152.0 L1357.0,1153.6 L1358.0,1156.1 L1359.0,1159.3 L1360.0,1163.1 L1361.0,1167.4 L1362.0,1172.0 L1363.0,1176.9 L1364.0,1181.8 L1365.0,1186.8 L1366.0,1191.6 L1367.0,1196.4 L1368.0,1201.0 L1369.0,1205.3 L1370.0,1209.5 L1371.0,1213.4 L1372.0,1217.0 L1373.0,1220.4 L1374.0,1223.6 L1375.0,1226.5 L1376.0,1229.3 L1377.0,1231.8 L1378.0,1234.1 L1379.0,1236.2 L1380.0,1238.1 L1381.0,1239.9 L1382.0,1241.5 L1383.0,1243.0 L1384.0,1244.4 L1385.0,1245.6 L1386.0,1246.7 L1387.0,1247.8 L1388.0,1248.7 L1389.0,1249.5 L1390.0,1250.3 L1391.0,1251.0 L1392.0,1251.6 L1393.0,1252.2 L1394.0,1252.6 L1395.0,1253.1 L1396.0,1253.5 L1397.0,1253.8 L1398.0,1254.1 L1399.0,1254.3 L1400.0,1254.5 L1401.0,1254.7 L1402.0,1254.8 L1403.0,1254.9 L1404.0,1255.0 L1405.0,1255.1 L1406.0,1255.1 L1407.0,1255.1 L1408.0,1255.0 L1409.0,1255.0 L1410.0,1254.9 L1411.0,1254.8 L1412.0,1254.7 L1413.0,1254.6 L1414.0,1254.5 L1415.0,1254.3 L1416.0,1254.2 L1417.0,1254.0 L1418.0,1253.8 L1419.0,1253.6 L1420.0,1253.4 L1421.0,1253.1 L1422.0,1252.9 L1423.0,1252.7 L1424.0,1252.4 L1425.0,1252.2 L1426.0,1251.9 L1427.0,1251.6 L1428.0,1251.3 L1429.0,1251.0 L1430.0,1250.7 L1431.0,1250.4 L1432.0,1250.1 L1433.0,1249.8 L1434.0,1249.5 L1435.0,1249.1 L1436.0,1248.8 L1437.0,1248.5 L1438.0,1248.1 L1439.0,1247.8 L1440.0,1247.4 L1441.0,1247.1" fill="none" stroke="#0000ff" stroke-width="4.5" stroke-linejoin="round" stroke-linecap="round"/>
<text x="1292.9" y="1121.5" font-size="33.0" font-family='"Liberation Serif", "Times New Roman", serif' font-weight="bold" textLength="102.0" lengthAdjust="spacingAndGlyphs">Cu2p3/2</text>
<text x="1080.7" y="1287.0" font-size="33.0" font-family='"Liberation Serif", "Times New Roman", serif' font-weight="bold" textLength="102.5" lengthAdjust="spacingAndGlyphs">Cu2p1/2</text>
<path d="M934.5,1668.5 L936.5,1671.5 L938.5,1679.7 L940.5,1676.9 L942.5,1678.4 L944.5,1680.0 L946.5,1682.6 L948.5,1678.7 L950.5,1679.6 L952.5,1679.6 L954.5,1687.3 L956.5,1694.4 L958.5,1702.9 L960.5,1706.1 L962.5,1720.6 L964.5,1711.5 L966.5,1712.7 L968.5,1714.5 L970.5,1712.9 L972.5,1718.3 L974.5,1720.0 L976.5,1718.9 L978.5,1728.2 L980.5,1719.5 L982.6,1720.9 L984.6,1719.9 L986.6,1727.0 L988.6,1730.3 L990.6,1722.0 L992.6,1726.7 L994.6,1729.6 L996.6,1727.6 L998.6,1722.3 L1000.6,1737.6 L1002.6,1730.8 L1004.6,1732.1 L1006.6,1730.5 L1008.6,1738.9 L1010.6,1739.2 L1012.6,1733.7 L1014.6,1738.4 L1016.6,1744.7 L1018.6,1748.8 L1020.6,1752.7 L1022.6,1750.1 L1024.6,1751.7 L1026.6,1756.7 L1028.6,1754.8 L1030.6,1763.0 L1032.6,1771.1 L1034.6,1757.9 L1036.6,1760.3 L1038.6,1750.9 L1040.6,1751.6 L1042.6,1752.2 L1044.6,1748.5 L1046.6,1751.8 L1048.6,1753.6 L1050.6,1751.3 L1052.6,1750.4 L1054.6,1745.3 L1056.6,1735.8 L1058.6,1743.5 L1060.6,1747.6 L1062.6,1742.7 L1064.6,1740.3 L1066.6,1735.5 L1068.6,1740.8 L1070.6,1738.2 L1072.6,1739.3 L1074.6,1747.4 L1076.6,1742.6 L1078.7,1748.1 L1080.7,1741.8 L1082.7,1741.6 L1084.7,1739.9 L1086.7,1727.3 L1088.7,1720.8 L1090.7,1720.9 L1092.7,1720.8 L1094.7,1725.9 L1096.7,1719.7 L1098.7,1718.0 L1100.7,1723.5 L1102.7,1731.0 L1104.7,1728.2 L1106.7,1726.7 L1108.7,1720.4 L1110.7,1724.6 L1112.7,1726.6 L1114.7,1721.6 L1116.7,1719.3 L1118.7,1713.3 L1120.7,1707.8 L1122.7,1713.2 L1124.7,1723.7 L1126.7,1719.4 L1128.7,1719.2 L1130.7,1712.9 L1132.7,1721.5 L1134.7,1714.6 L1136.7,1707.9 L1138.7,1705.5 L1140.7,1697.8 L1142.7,1693.5 L1144.7,1689.0 L1146.7,1680.0 L1148.7,1672.8 L1150.7,1667.3 L1152.7,1666.4 L1154.7,1666.1 L1156.7,1663.2 L1158.7,1662.2 L1160.7,1666.1 L1162.7,1663.1 L1164.7,1657.9 L1166.7,1659.9 L1168.7,1664.1 L1170.7,1658.7 L1172.8,1660.6 L1174.8,1664.9 L1176.8,1661.6 L1178.8,1665.3 L1180.8,1659.3 L1182.8,1658.7 L1184.8,1655.3 L1186.8,1647.5 L1188.8,1641.8 L1190.8,1643.2 L1192.8,1654.1 L1194.8,1653.3 L1196.8,1655.7 L1198.8,1647.4 L1200.8,1638.2 L1202.8,1635.3 L1204.8,1633.3 L1206.8,1632.0 L1208.8,1630.4 L1210.8,1634.3 L1212.8,1631.0 L1214.8,1634.2 L1216.8,1640.4 L1218.8,1639.0 L1220.8,1630.7 L1222.8,1633.0 L1224.8,1641.9 L1226.8,1634.1 L1228.8,1633.0 L1230.8,1630.7 L1232.8,1633.8 L1234.8,1631.3 L1236.8,1624.2 L1238.8,1629.5 L1240.8,1627.0 L1242.8,1626.6 L1244.8,1631.9 L1246.8,1630.7 L1248.8,1627.8 L1250.8,1632.3 L1252.8,1626.0 L1254.8,1632.0 L1256.8,1625.6 L1258.8,1623.4 L1260.8,1623.4 L1262.8,1628.1 L1264.8,1631.4 L1266.8,1640.4 L1268.9,1636.4 L1270.9,1633.9 L1272.9,1627.7 L1274.9,1620.5 L1276.9,1618.7 L1278.9,1619.5 L1280.9,1613.4 L1282.9,1613.2 L1284.9,1612.7 L1286.9,1617.3 L1288.9,1609.6 L1290.9,1611.8 L1292.9,1600.6 L1294.9,1605.3 L1296.9,1606.4 L1298.9,1604.0 L1300.9,1605.3 L1302.9,1609.2 L1304.9,1609.9 L1306.9,1608.4 L1308.9,1604.0 L1310.9,1594.7 L1312.9,1588.8 L1314.9,1585.8 L1316.9,1580.7 L1318.9,1590.6 L1320.9,1589.7 L1322.9,1588.3 L1324.9,1589.0 L1326.9,1581.8 L1328.9,1581.4 L1330.9,1582.8 L1332.9,1574.1 L1334.9,1574.5 L1336.9,1572.5 L1338.9,1576.4 L1340.9,1567.4 L1342.9,1564.5 L1344.9,1555.4 L1346.9,1544.9 L1348.9,1544.0 L1350.9,1547.7 L1352.9,1551.8 L1354.9,1542.9 L1356.9,1544.7 L1358.9,1541.6 L1360.9,1540.9 L1362.9,1557.0 L1365.0,1551.7 L1367.0,1547.5 L1369.0,1544.0 L1371.0,1542.6 L1373.0,1539.5 L1375.0,1542.7 L1377.0,1537.1 L1379.0,1537.9 L1381.0,1535.0 L1383.0,1525.5 L1385.0,1525.1 L1387.0,1530.2 L1389.0,1527.0 L1391.0,1532.7 L1393.0,1529.0 L1395.0,1520.1 L1397.0,1524.9 L1399.0,1523.7 L1401.0,1525.8 L1403.0,1522.1 L1405.0,1518.3 L1407.0,1515.9 L1409.0,1516.0 L1411.0,1523.2 L1411.0,1547.0 L1409.0,1548.6 L1407.0,1552.1 L1405.0,1554.5 L1403.0,1554.8 L1401.0,1561.9 L1399.0,1565.0 L1397.0,1559.4 L1395.0,1561.0 L1393.0,1556.2 L1391.0,1557.4 L1389.0,1562.6 L1387.0,1566.6 L1385.0,1565.8 L1383.0,1566.6 L1381.0,1569.2 L1379.0,1567.9 L1377.0,1571.5 L1375.0,1577.0 L1373.0,1566.9 L1371.0,1572.8 L1369.0,1574.2 L1367.0,1570.6 L1365.0,1577.9 L1362.9,1582.8 L1360.9,1586.4 L1358.9,1582.5 L1356.9,1585.6 L1354.9,1593.2 L1352.9,1592.8 L1350.9,1601.1 L1348.9,1598.6 L1346.9,1591.8 L1344.9,1600.2 L1342.9,1606.1 L1340.9,1607.5 L1338.9,1597.8 L1336.9,1600.8 L1334.9,1605.1 L1332.9,1600.2 L1330.9,1592.8 L1328.9,1602.3 L1326.9,1606.9 L1324.9,1610.1 L1322.9,1615.0 L1320.9,1615.1 L1318.9,1619.1 L1316.9,1621.2 L1314.9,1617.7 L1312.9,1618.6 L1310.9,1612.7 L1308.9,1624.0 L1306.9,1629.8 L1304.9,1630.0 L1302.9,1625.8 L1300.9,1626.8 L1298.9,1634.1 L1296.9,1640.2 L1294.9,1640.1 L1292.9,1645.3 L1290.9,1654.9 L1288.9,1655.8 L1286.9,1653.2 L1284.9,1658.3 L1282.9,1656.0 L1280.9,1649.2 L1278.9,1654.3 L1276.9,1653.3 L1274.9,1646.4 L1272.9,1649.9 L1270.9,1662.6 L1268.9,1658.3 L1266.8,1661.3 L1264.8,1658.6 L1262.8,1666.3 L1260.8,1671.8 L1258.8,1659.4 L1256.8,1664.6 L1254.8,1670.0 L1252.8,1668.5 L1250.8,1672.5 L1248.8,1669.1 L1246.8,1666.5 L1244.8,1665.9 L1242.8,1670.9 L1240.8,1676.7 L1238.8,1672.3 L1236.8,1676.0 L1234.8,1680.4 L1232.8,1677.1 L1230.8,1674.3 L1228.8,1679.6 L1226.8,1676.0 L1224.8,1677.2 L1222.8,1671.5 L1220.8,1667.2 L1218.8,1662.7 L1216.8,1671.1 L1214.8,1672.8 L1212.8,1667.6 L1210.8,1669.1 L1208.8,1675.5 L1206.8,1687.1 L1204.8,1679.7 L1202.8,1681.5 L1200.8,1686.8 L1198.8,1686.4 L1196.8,1697.0 L1194.8,1698.0 L1192.8,1692.3 L1190.8,1686.6 L1188.8,1688.1 L1186.8,1688.0 L1184.8,1690.1 L1182.8,1696.1 L1180.8,1698.0 L1178.8,1696.9 L1176.8,1690.2 L1174.8,1695.3 L1172.8,1696.5 L1170.7,1699.9 L1168.7,1700.6 L1166.7,1698.0 L1164.7,1696.1 L1162.7,1698.2 L1160.7,1709.2 L1158.7,1708.3 L1156.7,1708.5 L1154.7,1710.0 L1152.7,1716.1 L1150.7,1723.0 L1148.7,1722.7 L1146.7,1714.9 L1144.7,1723.2 L1142.7,1718.6 L1140.7,1720.8 L1138.7,1724.4 L1136.7,1733.4 L1134.7,1737.8 L1132.7,1743.0 L1130.7,1744.1 L1128.7,1743.7 L1126.7,1742.8 L1124.7,1741.5 L1122.7,1748.3 L1120.7,1753.3 L1118.7,1752.5 L1116.7,1745.1 L1114.7,1752.7 L1112.7,1756.9 L1110.7,1754.2 L1108.7,1753.3 L1106.7,1755.7 L1104.7,1754.3 L1102.7,1756.7 L1100.7,1758.5 L1098.7,1755.8 L1096.7,1756.3 L1094.7,1765.5 L1092.7,1768.2 L1090.7,1763.1 L1088.7,1764.8 L1086.7,1766.9 L1084.7,1764.3 L1082.7,1762.7 L1080.7,1772.9 L1078.7,1763.3 L1076.6,1764.0 L1074.6,1766.3 L1072.6,1765.0 L1070.6,1770.4 L1068.6,1772.3 L1066.6,1769.4 L1064.6,1768.4 L1062.6,1772.0 L1060.6,1779.4 L1058.6,1771.7 L1056.6,1776.6 L1054.6,1777.3 L1052.6,1779.1 L1050.6,1779.0 L1048.6,1785.7 L1046.6,1783.3 L1044.6,1786.9 L1042.6,1792.2 L1040.6,1794.3 L1038.6,1798.8 L1036.6,1794.7 L1034.6,1801.2 L1032.6,1802.9 L1030.6,1809.3 L1028.6,1806.1 L1026.6,1799.6 L1024.6,1799.4 L1022.6,1803.2 L1020.6,1796.7 L1018.6,1800.4 L1016.6,1798.4 L1014.6,1794.8 L1012.6,1789.7 L1010.6,1787.3 L1008.6,1776.4 L1006.6,1776.0 L1004.6,1771.2 L1002.6,1767.5 L1000.6,1769.7 L998.6,1771.3 L996.6,1765.8 L994.6,1766.2 L992.6,1763.6 L990.6,1767.4 L988.6,1755.2 L986.6,1759.7 L984.6,1755.0 L982.6,1754.7 L980.5,1753.7 L978.5,1748.0 L976.5,1748.8 L974.5,1752.9 L972.5,1747.3 L970.5,1744.7 L968.5,1742.5 L966.5,1746.9 L964.5,1747.5 L962.5,1740.4 L960.5,1742.3 L958.5,1732.2 L956.5,1736.7 L954.5,1730.9 L952.5,1726.0 L950.5,1728.0 L948.5,1723.6 L946.5,1711.1 L944.5,1715.1 L942.5,1715.6 L940.5,1705.4 L938.5,1712.2 L936.5,1704.3 L934.5,1702.6 Z" fill="#000"/>
<path d="M934.5,1715.1 L936.5,1715.2 L938.5,1711.8 L940.5,1716.5 L942.5,1733.1 L944.5,1734.5 L946.5,1719.8 L948.5,1711.4 L950.5,1652.6 L952.5,1697.0 L954.5,1706.2 L956.5,1698.1 L958.5,1736.5 L960.5,1682.2 L962.5,1707.6 L964.5,1714.0 L966.5,1761.4 L968.5,1714.4 L970.5,1724.7 L972.5,1711.4 L974.5,1739.5 L976.5,1767.8 L978.5,1720.4 L980.5,1726.2 L982.5,1769.0 L984.5,1752.5 L986.5,1745.0 L988.5,1778.3 L990.5,1722.9 L992.5,1775.7 L994.5,1804.4 L996.5,1754.5 L998.5,1735.0 L1000.5,1804.9 L1002.5,1746.8 L1004.5,1764.9 L1006.5,1737.4 L1008.5,1796.9 L1010.5,1775.5 L1012.5,1704.6 L1014.5,1750.9 L1016.5,1709.4 L1018.5,1737.8 L1020.5,1803.4 L1022.5,1766.5 L1024.5,1839.4 L1026.5,1738.0 L1028.5,1738.5 L1030.5,1744.7 L1032.5,1793.5 L1034.5,1759.3 L1036.5,1838.5 L1038.5,1772.6 L1040.5,1853.3 L1042.5,1752.7 L1044.5,1759.5 L1046.5,1731.5 L1048.5,1774.0 L1050.5,1806.9 L1052.5,1796.3 L1054.5,1779.4 L1056.5,1772.5 L1058.5,1795.2 L1060.5,1761.5 L1062.5,1796.9 L1064.5,1755.8 L1066.5,1691.0 L1068.5,1800.9 L1070.5,1762.8 L1072.5,1765.1 L1074.5,1752.8 L1076.5,1705.8 L1078.5,1750.6 L1080.5,1717.0 L1082.5,1754.0 L1084.5,1759.6 L1086.5,1757.2 L1088.5,1721.6 L1090.5,1771.3 L1092.5,1720.5 L1094.5,1750.9 L1096.5,1757.1 L1098.5,1683.4 L1100.5,1740.1 L1102.5,1730.0 L1104.5,1781.7 L1106.5,1746.5 L1108.5,1708.6 L1110.5,1787.6 L1112.5,1729.7 L1114.5,1723.3 L1116.5,1796.2 L1118.5,1777.2 L1120.5,1713.2 L1122.5,1754.1 L1124.5,1725.2 L1126.5,1715.7 L1128.5,1729.9 L1130.5,1747.6 L1132.5,1723.3 L1134.5,1702.6 L1136.5,1704.7 L1138.5,1752.4 L1140.5,1667.1 L1142.5,1708.5 L1144.5,1717.5 L1146.5,1659.2 L1148.5,1679.1 L1150.5,1785.9 L1152.5,1724.4 L1154.5,1700.0 L1156.5,1684.1 L1158.5,1702.4 L1160.5,1714.6 L1162.5,1669.8 L1164.5,1684.2 L1166.5,1684.4 L1168.5,1642.0 L1170.5,1599.5 L1172.5,1649.3 L1174.5,1669.5 L1176.5,1711.9 L1178.5,1662.5 L1180.5,1669.8 L1182.5,1693.7 L1184.5,1659.1 L1186.5,1649.7 L1188.5,1718.8 L1190.5,1726.2 L1192.5,1621.4 L1194.5,1653.7 L1196.5,1627.7 L1198.5,1675.4 L1200.5,1623.4 L1202.5,1643.8 L1204.5,1639.3 L1206.5,1671.8 L1208.5,1734.5 L1210.5,1695.5 L1212.5,1624.6 L1214.5,1636.5 L1216.5,1652.2 L1218.5,1664.7 L1220.5,1643.3 L1222.5,1633.8 L1224.5,1652.4 L1226.5,1702.7 L1228.5,1673.8 L1230.5,1598.4 L1232.5,1646.2 L1234.5,1677.3 L1236.5,1642.4 L1238.5,1663.7 L1240.5,1647.6 L1242.5,1676.6 L1244.5,1594.6 L1246.5,1718.1 L1248.5,1683.4 L1250.5,1611.4 L1252.5,1624.1 L1254.5,1627.7 L1256.5,1666.2 L1258.5,1682.4 L1260.5,1645.2 L1262.5,1611.6 L1264.5,1704.3 L1266.5,1613.8 L1268.5,1608.4 L1270.5,1640.9 L1272.5,1613.5 L1274.5,1610.3 L1276.5,1571.7 L1278.5,1696.0 L1280.5,1637.1 L1282.5,1660.2 L1284.5,1619.1 L1286.5,1650.2 L1288.5,1630.3 L1290.5,1683.0 L1292.5,1618.8 L1294.5,1644.0 L1296.5,1601.2 L1298.5,1606.0 L1300.5,1653.1 L1302.5,1656.7 L1304.5,1616.9 L1306.5,1659.0 L1308.5,1611.6 L1310.5,1604.2 L1312.5,1589.1 L1314.5,1609.3 L1316.5,1624.2 L1318.5,1587.1 L1320.5,1574.3 L1322.5,1518.2 L1324.5,1621.8 L1326.5,1611.0 L1328.5,1589.9 L1330.5,1590.7 L1332.5,1612.5 L1334.5,1573.2 L1336.5,1606.1 L1338.5,1505.3 L1340.5,1579.7 L1342.5,1550.5 L1344.5,1547.0 L1346.5,1581.3 L1348.5,1588.7 L1350.5,1566.7 L1352.5,1572.8 L1354.5,1653.7 L1356.5,1576.3 L1358.5,1610.1 L1360.5,1573.6 L1362.5,1565.8 L1364.5,1561.4 L1366.5,1571.5 L1368.5,1583.7 L1370.5,1529.4 L1372.5,1556.8 L1374.5,1546.6 L1376.5,1578.9 L1378.5,1559.0 L1380.5,1549.6 L1382.5,1505.3 L1384.5,1550.9 L1386.5,1541.5 L1388.5,1527.4 L1390.5,1580.2 L1392.5,1586.3 L1394.5,1523.6 L1396.5,1550.9 L1398.5,1552.8 L1400.5,1641.4 L1402.5,1568.8 L1404.5,1559.1 L1406.5,1551.8 L1408.5,1561.9 L1410.5,1523.5" fill="none" stroke="#000" stroke-width="3.8" stroke-linejoin="round" stroke-linecap="round"/>
<rect x="65.0" y="67.5" width="494.5" height="825.5" fill="none" stroke="#000" stroke-width="4.4"/>
<rect x="643.5" y="69.5" width="491.0" height="819.0" fill="none" stroke="#000" stroke-width="4.4"/>
<rect x="1225.0" y="70.5" width="491.0" height="821.5" fill="none" stroke="#000" stroke-width="4.4"/>
<rect x="345.4" y="1088.7" width="507.8" height="784.3" fill="none" stroke="#000" stroke-width="4.4"/>
<rect x="933.9" y="1092.2" width="506.8" height="780.1" fill="none" stroke="#000" stroke-width="4.4"/>
<line x1="64.6" y1="893.0" x2="64.6" y2="908.0" stroke="#000" stroke-width="3.5" stroke-linecap="butt"/>
<line x1="174.3" y1="893.0" x2="174.3" y2="908.0" stroke="#000" stroke-width="3.5" stroke-linecap="butt"/>
<line x1="284.0" y1="893.0" x2="284.0" y2="908.0" stroke="#000" stroke-width="3.5" stroke-linecap="butt"/>
<line x1="393.7" y1="893.0" x2="393.7" y2="908.0" stroke="#000" stroke-width="3.5" stroke-linecap="butt"/>
<line x1="503.4" y1="893.0" x2="503.4" y2="908.0" stroke="#000" stroke-width="3.5" stroke-linecap="butt"/>
<line x1="119.4" y1="893.0" x2="119.4" y2="902.0" stroke="#000" stroke-width="3.5" stroke-linecap="butt"/>
<line x1="229.2" y1="893.0" x2="229.2" y2="902.0" stroke="#000" stroke-width="3.5" stroke-linecap="butt"/>
<line x1="338.9" y1="893.0" x2="338.9" y2="902.0" stroke="#000" stroke-width="3.5" stroke-linecap="butt"/>
<line x1="448.6" y1="893.0" x2="448.6" y2="902.0" stroke="#000" stroke-width="3.5" stroke-linecap="butt"/>
<line x1="558.2" y1="893.0" x2="558.2" y2="902.0" stroke="#000" stroke-width="3.5" stroke-linecap="butt"/>
<text x="64.6" y="941.5" font-size="30.5" font-family='"Liberation Serif", "Times New Roman", serif' font-weight="bold" text-anchor="middle" textLength="38.6" lengthAdjust="spacingAndGlyphs">890</text>
<text x="174.3" y="941.5" font-size="30.5" font-family='"Liberation Serif", "Times New Roman", serif' font-weight="bold" text-anchor="middle" textLength="38.6" lengthAdjust="spacingAndGlyphs">880</text>
<text x="284.0" y="941.5" font-size="30.5" font-family='"Liberation Serif", "Times New Roman", serif' font-weight="bold" text-anchor="middle" textLength="38.6" lengthAdjust="spacingAndGlyphs">870</text>
<text x="393.7" y="941.5" font-size="30.5" font-family='"Liberation Serif", "Times New Roman", serif' font-weight="bold" text-anchor="middle" textLength="38.6" lengthAdjust="spacingAndGlyphs">860</text>
<text x="503.4" y="941.5" font-size="30.5" font-family='"Liberation Serif", "Times New Roman", serif' font-weight="bold" text-anchor="middle" textLength="38.6" lengthAdjust="spacingAndGlyphs">850</text>
<text x="175.0" y="981.0" font-size="34.0" font-family='"Liberation Serif", "Times New Roman", serif' font-weight="bold" textLength="256.0" lengthAdjust="spacingAndGlyphs">Binding energy (eV)</text>
<text x="49.0" y="605.6" font-size="32.0" font-family='"Liberation Serif", "Times New Roman", serif' font-weight="bold" textLength="224.4" lengthAdjust="spacingAndGlyphs" transform="rotate(-90 49.0 605.6)">Intensity (a.u.)</text>
<line x1="643.5" y1="888.5" x2="643.5" y2="903.5" stroke="#000" stroke-width="3.5" stroke-linecap="butt"/>
<line x1="766.2" y1="888.5" x2="766.2" y2="903.5" stroke="#000" stroke-width="3.5" stroke-linecap="butt"/>
<line x1="888.9" y1="888.5" x2="888.9" y2="903.5" stroke="#000" stroke-width="3.5" stroke-linecap="butt"/>
<line x1="1011.6" y1="888.5" x2="1011.6" y2="903.5" stroke="#000" stroke-width="3.5" stroke-linecap="butt"/>
<line x1="1134.3" y1="888.5" x2="1134.3" y2="903.5" stroke="#000" stroke-width="3.5" stroke-linecap="butt"/>
<line x1="704.9" y1="888.5" x2="704.9" y2="897.5" stroke="#000" stroke-width="3.5" stroke-linecap="butt"/>
<line x1="827.5" y1="888.5" x2="827.5" y2="897.5" stroke="#000" stroke-width="3.5" stroke-linecap="butt"/>
<line x1="950.2" y1="888.5" x2="950.2" y2="897.5" stroke="#000" stroke-width="3.5" stroke-linecap="butt"/>
<line x1="1073.0" y1="888.5" x2="1073.0" y2="897.5" stroke="#000" stroke-width="3.5" stroke-linecap="butt"/>
<text x="643.5" y="936.0" font-size="29.3" font-family='"Liberation Sans", Arial, sans-serif' font-weight="bold" text-anchor="middle" textLength="40.6" lengthAdjust="spacingAndGlyphs">537</text>
<text x="766.2" y="936.0" font-size="29.3" font-family='"Liberation Sans", Arial, sans-serif' font-weight="bold" text-anchor="middle" textLength="40.6" lengthAdjust="spacingAndGlyphs">534</text>
<text x="888.9" y="936.0" font-size="29.3" font-family='"Liberation Sans", Arial, sans-serif' font-weight="bold" text-anchor="middle" textLength="40.6" lengthAdjust="spacingAndGlyphs">531</text>
<text x="1011.6" y="936.0" font-size="29.3" font-family='"Liberation Sans", Arial, sans-serif' font-weight="bold" text-anchor="middle" textLength="40.6" lengthAdjust="spacingAndGlyphs">528</text>
<text x="1134.3" y="936.0" font-size="29.3" font-family='"Liberation Sans", Arial, sans-serif' font-weight="bold" text-anchor="middle" textLength="40.6" lengthAdjust="spacingAndGlyphs">525</text>
<text x="778.5" y="977.4" font-size="32.0" font-family='"Liberation Serif", "Times New Roman", serif' font-weight="bold" textLength="254.5" lengthAdjust="spacingAndGlyphs">Binding energy (eV)</text>
<text x="622.6" y="579.9" font-size="30.0" font-family='"Liberation Serif", "Times New Roman", serif' font-weight="bold" textLength="220.8" lengthAdjust="spacingAndGlyphs" transform="rotate(-90 622.6 579.9)">Intensity (a.u.)</text>
<line x1="1329.0" y1="892.0" x2="1329.0" y2="907.0" stroke="#000" stroke-width="3.5" stroke-linecap="butt"/>
<line x1="1483.5" y1="892.0" x2="1483.5" y2="907.0" stroke="#000" stroke-width="3.5" stroke-linecap="butt"/>
<line x1="1638.0" y1="892.0" x2="1638.0" y2="907.0" stroke="#000" stroke-width="3.5" stroke-linecap="butt"/>
<line x1="1251.8" y1="892.0" x2="1251.8" y2="901.0" stroke="#000" stroke-width="3.5" stroke-linecap="butt"/>
<line x1="1406.2" y1="892.0" x2="1406.2" y2="901.0" stroke="#000" stroke-width="3.5" stroke-linecap="butt"/>
<line x1="1560.8" y1="892.0" x2="1560.8" y2="901.0" stroke="#000" stroke-width="3.5" stroke-linecap="butt"/>
<line x1="1715.2" y1="892.0" x2="1715.2" y2="901.0" stroke="#000" stroke-width="3.5" stroke-linecap="butt"/>
<text x="1329.0" y="938.3" font-size="29.5" font-family='"Liberation Sans", Arial, sans-serif' font-weight="bold" text-anchor="middle" textLength="43.0" lengthAdjust="spacingAndGlyphs">690</text>
<text x="1483.5" y="938.3" font-size="29.5" font-family='"Liberation Sans", Arial, sans-serif' font-weight="bold" text-anchor="middle" textLength="43.0" lengthAdjust="spacingAndGlyphs">687</text>
<text x="1638.0" y="938.3" font-size="29.5" font-family='"Liberation Sans", Arial, sans-serif' font-weight="bold" text-anchor="middle" textLength="43.0" lengthAdjust="spacingAndGlyphs">684</text>
<text x="1340.0" y="980.0" font-size="32.0" font-family='"Liberation Serif", "Times New Roman", serif' font-weight="bold" textLength="253.3" lengthAdjust="spacingAndGlyphs">Binding energy (eV)</text>
<text x="1206.0" y="571.4" font-size="30.0" font-family='"Liberation Serif", "Times New Roman", serif' font-weight="bold" textLength="220.0" lengthAdjust="spacingAndGlyphs" transform="rotate(-90 1206.0 571.4)">Intensity (a.u.)</text>
<line x1="345.4" y1="1873.0" x2="345.4" y2="1888.0" stroke="#000" stroke-width="3.5" stroke-linecap="butt"/>
<line x1="515.0" y1="1873.0" x2="515.0" y2="1888.0" stroke="#000" stroke-width="3.5" stroke-linecap="butt"/>
<line x1="684.6" y1="1873.0" x2="684.6" y2="1888.0" stroke="#000" stroke-width="3.5" stroke-linecap="butt"/>
<line x1="854.2" y1="1873.0" x2="854.2" y2="1888.0" stroke="#000" stroke-width="3.5" stroke-linecap="butt"/>
<line x1="430.2" y1="1873.0" x2="430.2" y2="1882.0" stroke="#000" stroke-width="3.5" stroke-linecap="butt"/>
<line x1="599.8" y1="1873.0" x2="599.8" y2="1882.0" stroke="#000" stroke-width="3.5" stroke-linecap="butt"/>
<line x1="769.4" y1="1873.0" x2="769.4" y2="1882.0" stroke="#000" stroke-width="3.5" stroke-linecap="butt"/>
<text x="345.4" y="1920.0" font-size="29.5" font-family='"Liberation Sans", Arial, sans-serif' font-weight="bold" text-anchor="middle" textLength="44.0" lengthAdjust="spacingAndGlyphs">295</text>
<text x="515.0" y="1920.0" font-size="29.5" font-family='"Liberation Sans", Arial, sans-serif' font-weight="bold" text-anchor="middle" textLength="44.0" lengthAdjust="spacingAndGlyphs">290</text>
<text x="684.6" y="1920.0" font-size="29.5" font-family='"Liberation Sans", Arial, sans-serif' font-weight="bold" text-anchor="middle" textLength="44.0" lengthAdjust="spacingAndGlyphs">285</text>
<text x="854.2" y="1920.0" font-size="29.5" font-family='"Liberation Sans", Arial, sans-serif' font-weight="bold" text-anchor="middle" textLength="44.0" lengthAdjust="spacingAndGlyphs">280</text>
<text x="471.3" y="1954.8" font-size="32.0" font-family='"Liberation Serif", "Times New Roman", serif' font-weight="bold" textLength="264.3" lengthAdjust="spacingAndGlyphs">Binding energy (eV)</text>
<text x="325.0" y="1592.9" font-size="30.0" font-family='"Liberation Serif", "Times New Roman", serif' font-weight="bold" textLength="211.6" lengthAdjust="spacingAndGlyphs" transform="rotate(-90 325.0 1592.9)">Intensity (a.u.)</text>
<line x1="933.9" y1="1872.3" x2="933.9" y2="1887.3" stroke="#000" stroke-width="3.5" stroke-linecap="butt"/>
<line x1="1046.2" y1="1872.3" x2="1046.2" y2="1887.3" stroke="#000" stroke-width="3.5" stroke-linecap="butt"/>
<line x1="1158.5" y1="1872.3" x2="1158.5" y2="1887.3" stroke="#000" stroke-width="3.5" stroke-linecap="butt"/>
<line x1="1270.8" y1="1872.3" x2="1270.8" y2="1887.3" stroke="#000" stroke-width="3.5" stroke-linecap="butt"/>
<line x1="1383.1" y1="1872.3" x2="1383.1" y2="1887.3" stroke="#000" stroke-width="3.5" stroke-linecap="butt"/>
<line x1="990.0" y1="1872.3" x2="990.0" y2="1881.3" stroke="#000" stroke-width="3.5" stroke-linecap="butt"/>
<line x1="1102.3" y1="1872.3" x2="1102.3" y2="1881.3" stroke="#000" stroke-width="3.5" stroke-linecap="butt"/>
<line x1="1214.7" y1="1872.3" x2="1214.7" y2="1881.3" stroke="#000" stroke-width="3.5" stroke-linecap="butt"/>
<line x1="1327.0" y1="1872.3" x2="1327.0" y2="1881.3" stroke="#000" stroke-width="3.5" stroke-linecap="butt"/>
<line x1="1439.2" y1="1872.3" x2="1439.2" y2="1881.3" stroke="#000" stroke-width="3.5" stroke-linecap="butt"/>
<text x="933.9" y="1918.3" font-size="28.0" font-family='"Liberation Serif", "Times New Roman", serif' font-weight="bold" text-anchor="middle" textLength="38.0" lengthAdjust="spacingAndGlyphs">970</text>
<text x="1046.2" y="1918.3" font-size="28.0" font-family='"Liberation Serif", "Times New Roman", serif' font-weight="bold" text-anchor="middle" textLength="38.0" lengthAdjust="spacingAndGlyphs">960</text>
<text x="1158.5" y="1918.3" font-size="28.0" font-family='"Liberation Serif", "Times New Roman", serif' font-weight="bold" text-anchor="middle" textLength="38.0" lengthAdjust="spacingAndGlyphs">950</text>
<text x="1270.8" y="1918.3" font-size="28.0" font-family='"Liberation Serif", "Times New Roman", serif' font-weight="bold" text-anchor="middle" textLength="38.0" lengthAdjust="spacingAndGlyphs">940</text>
<text x="1383.1" y="1918.3" font-size="28.0" font-family='"Liberation Serif", "Times New Roman", serif' font-weight="bold" text-anchor="middle" textLength="38.0" lengthAdjust="spacingAndGlyphs">930</text>
<text x="1041.7" y="1954.8" font-size="32.0" font-family='"Liberation Serif", "Times New Roman", serif' font-weight="bold" textLength="262.6" lengthAdjust="spacingAndGlyphs">Binding energy (eV)</text>
<text x="912.5" y="1595.7" font-size="30.0" font-family='"Liberation Serif", "Times New Roman", serif' font-weight="bold" textLength="212.3" lengthAdjust="spacingAndGlyphs" transform="rotate(-90 912.5 1595.7)">Intensity (a.u.)</text>
<text x="258.5" y="38.8" font-size="52.5" font-family='"Liberation Serif", "Times New Roman", serif' textLength="85.5" lengthAdjust="spacingAndGlyphs" stroke="#000" stroke-width="0.8">Ni2p</text>
<text x="857.5" y="41.3" font-size="52.5" font-family='"Liberation Serif", "Times New Roman", serif' textLength="74" lengthAdjust="spacingAndGlyphs" stroke="#000" stroke-width="0.5">O<tspan font-weight="bold" stroke-width="0.2">1</tspan><tspan font-style="italic">s</tspan></text>
<text x="1444.5" y="44.8" font-size="54.5" font-family='"Liberation Serif", "Times New Roman", serif' font-weight="bold" textLength="68" lengthAdjust="spacingAndGlyphs">F1<tspan font-style="italic">s</tspan></text>
<text x="577.5" y="1064.8" font-size="50.5" font-family='"Liberation Serif", "Times New Roman", serif' font-weight="bold" textLength="67.5" lengthAdjust="spacingAndGlyphs">C1s</text>
<text x="1139.0" y="1066.7" font-size="50.5" font-family='"Liberation Serif", "Times New Roman", serif' font-weight="bold" textLength="95.5" lengthAdjust="spacingAndGlyphs">Cu2p</text>
<text x="7.5" y="177.5" font-size="66" font-family='"Liberation Serif", "Times New Roman", serif' textLength="41.5" lengthAdjust="spacingAndGlyphs"><tspan font-weight="bold">a</tspan>)</text>
<text x="2.5" y="746.3" font-size="66" font-family='"Liberation Serif", "Times New Roman", serif' textLength="46.5" lengthAdjust="spacingAndGlyphs"><tspan font-weight="bold">b</tspan>)</text>
<text x="588.5" y="177.3" font-size="66" font-family='"Liberation Serif", "Times New Roman", serif' textLength="41.5" lengthAdjust="spacingAndGlyphs"><tspan font-weight="bold">c</tspan>)</text>
<text x="582.5" y="746" font-size="66" font-family='"Liberation Serif", "Times New Roman", serif' textLength="44.5" lengthAdjust="spacingAndGlyphs"><tspan font-weight="bold">d</tspan>)</text>
<text x="1170" y="177.3" font-size="66" font-family='"Liberation Serif", "Times New Roman", serif' textLength="37.5" lengthAdjust="spacingAndGlyphs"><tspan font-weight="bold">e</tspan>)</text>
<text x="1173" y="746.4" font-size="66" font-family='"Liberation Serif", "Times New Roman", serif' textLength="34.5" lengthAdjust="spacingAndGlyphs"><tspan font-weight="bold">f</tspan>)</text>
<text x="287.5" y="1234" font-size="56" font-family='"Liberation Serif", "Times New Roman", serif' textLength="42.5" lengthAdjust="spacingAndGlyphs"><tspan font-weight="bold">g</tspan>)</text>
<text x="288" y="1709" font-size="56" font-family='"Liberation Serif", "Times New Roman", serif' textLength="41.5" lengthAdjust="spacingAndGlyphs"><tspan font-weight="bold">h</tspan>)</text>
<text x="890.5" y="1234" font-size="56" font-family='"Liberation Serif", "Times New Roman", serif' textLength="30.5" lengthAdjust="spacingAndGlyphs"><tspan font-weight="bold">i</tspan>)</text>
<text x="881" y="1710" font-size="56" font-family='"Liberation Serif", "Times New Roman", serif' textLength="36.5" lengthAdjust="spacingAndGlyphs"><tspan font-weight="bold">j</tspan>)</text></svg></body></html>
